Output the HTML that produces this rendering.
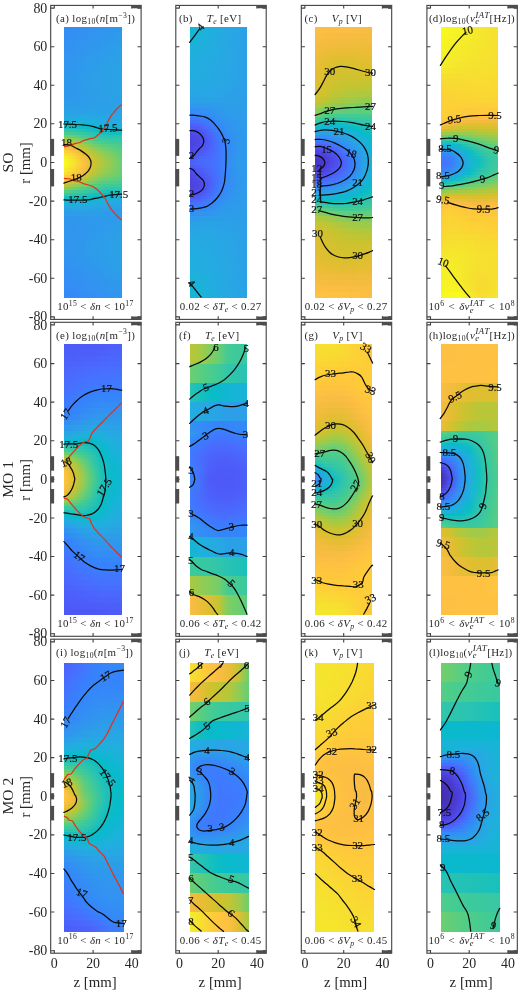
<!DOCTYPE html>
<html><head><meta charset="utf-8"><title>Figure</title>
<style>html,body{margin:0;padding:0;background:#fff}svg{display:block}</style></head>
<body><svg width="520" height="992" viewBox="0 0 520 992">
<rect width="520" height="992" fill="#fff"/>
<defs><linearGradient id="g1"><stop offset="0%" stop-color="#348df5"/><stop offset="16.7%" stop-color="#338ff4"/><stop offset="33.3%" stop-color="#3391f2"/><stop offset="50%" stop-color="#3293f0"/><stop offset="66.7%" stop-color="#3195ef"/><stop offset="83.3%" stop-color="#2f98ed"/><stop offset="100%" stop-color="#2e99ec"/></linearGradient><linearGradient id="g2"><stop offset="0%" stop-color="#338ef4"/><stop offset="16.7%" stop-color="#3390f3"/><stop offset="33.3%" stop-color="#3292f1"/><stop offset="50%" stop-color="#3195ef"/><stop offset="66.7%" stop-color="#3097ed"/><stop offset="83.3%" stop-color="#2e99ec"/><stop offset="100%" stop-color="#2d9beb"/></linearGradient><linearGradient id="g3"><stop offset="0%" stop-color="#3390f3"/><stop offset="16.7%" stop-color="#3392f1"/><stop offset="33.3%" stop-color="#3294f0"/><stop offset="50%" stop-color="#3097ee"/><stop offset="66.7%" stop-color="#2e99ec"/><stop offset="83.3%" stop-color="#2d9beb"/><stop offset="100%" stop-color="#2c9de9"/></linearGradient><linearGradient id="g4"><stop offset="0%" stop-color="#3391f2"/><stop offset="16.7%" stop-color="#3293f0"/><stop offset="33.3%" stop-color="#3196ee"/><stop offset="50%" stop-color="#2f98ed"/><stop offset="66.7%" stop-color="#2d9beb"/><stop offset="83.3%" stop-color="#2d9dea"/><stop offset="100%" stop-color="#2c9ee8"/></linearGradient><linearGradient id="g5"><stop offset="0%" stop-color="#3293f1"/><stop offset="16.7%" stop-color="#3195ef"/><stop offset="33.3%" stop-color="#3097ed"/><stop offset="50%" stop-color="#2e9aec"/><stop offset="66.7%" stop-color="#2d9cea"/><stop offset="83.3%" stop-color="#2c9ee8"/><stop offset="100%" stop-color="#2ba0e7"/></linearGradient><linearGradient id="g6"><stop offset="0%" stop-color="#3294ef"/><stop offset="16.7%" stop-color="#3096ee"/><stop offset="33.3%" stop-color="#2f99ec"/><stop offset="50%" stop-color="#2d9beb"/><stop offset="66.7%" stop-color="#2c9ee9"/><stop offset="83.3%" stop-color="#2ba0e8"/><stop offset="100%" stop-color="#2ba1e7"/></linearGradient><linearGradient id="g7"><stop offset="0%" stop-color="#3196ef"/><stop offset="16.7%" stop-color="#2f97ed"/><stop offset="33.3%" stop-color="#2e9aec"/><stop offset="50%" stop-color="#2d9cea"/><stop offset="66.7%" stop-color="#2c9fe8"/><stop offset="83.3%" stop-color="#2ba1e7"/><stop offset="100%" stop-color="#2aa2e6"/></linearGradient><linearGradient id="g8"><stop offset="0%" stop-color="#3097ee"/><stop offset="16.7%" stop-color="#2f98ed"/><stop offset="33.3%" stop-color="#2d9beb"/><stop offset="50%" stop-color="#2c9ee9"/><stop offset="66.7%" stop-color="#2ba0e7"/><stop offset="83.3%" stop-color="#2aa2e6"/><stop offset="100%" stop-color="#29a3e5"/></linearGradient><linearGradient id="g9"><stop offset="0%" stop-color="#2f98ed"/><stop offset="16.7%" stop-color="#2e99ec"/><stop offset="33.3%" stop-color="#2d9bea"/><stop offset="50%" stop-color="#2c9ee8"/><stop offset="66.7%" stop-color="#2ba0e7"/><stop offset="83.3%" stop-color="#2aa2e6"/><stop offset="100%" stop-color="#29a4e5"/></linearGradient><linearGradient id="g10"><stop offset="0%" stop-color="#2f98ed"/><stop offset="16.7%" stop-color="#2e99ec"/><stop offset="33.3%" stop-color="#2d9cea"/><stop offset="50%" stop-color="#2c9fe8"/><stop offset="66.7%" stop-color="#2ba0e7"/><stop offset="83.3%" stop-color="#2aa2e6"/><stop offset="100%" stop-color="#29a4e5"/></linearGradient><linearGradient id="g11"><stop offset="0%" stop-color="#2e99ec"/><stop offset="16.7%" stop-color="#2e99ec"/><stop offset="33.3%" stop-color="#2d9bea"/><stop offset="50%" stop-color="#2c9ee8"/><stop offset="66.7%" stop-color="#2ba0e7"/><stop offset="83.3%" stop-color="#2aa2e6"/><stop offset="100%" stop-color="#29a4e5"/></linearGradient><linearGradient id="g12"><stop offset="0%" stop-color="#2e99ec"/><stop offset="16.7%" stop-color="#2e99ec"/><stop offset="33.3%" stop-color="#2d9beb"/><stop offset="50%" stop-color="#2c9de9"/><stop offset="66.7%" stop-color="#2c9fe8"/><stop offset="83.3%" stop-color="#2ba1e7"/><stop offset="100%" stop-color="#2aa3e6"/></linearGradient><linearGradient id="g13"><stop offset="0%" stop-color="#2d9beb"/><stop offset="16.7%" stop-color="#2e9aec"/><stop offset="33.3%" stop-color="#2d9beb"/><stop offset="50%" stop-color="#2c9de9"/><stop offset="66.7%" stop-color="#2c9ee8"/><stop offset="83.3%" stop-color="#2ba0e7"/><stop offset="100%" stop-color="#2aa2e6"/></linearGradient><linearGradient id="g14"><stop offset="0%" stop-color="#2c9de9"/><stop offset="16.7%" stop-color="#2d9cea"/><stop offset="33.3%" stop-color="#2c9de9"/><stop offset="50%" stop-color="#2c9ee8"/><stop offset="66.7%" stop-color="#2c9fe8"/><stop offset="83.3%" stop-color="#2ba0e7"/><stop offset="100%" stop-color="#2aa2e6"/></linearGradient><linearGradient id="g15"><stop offset="0%" stop-color="#2aa2e6"/><stop offset="16.7%" stop-color="#2ba1e7"/><stop offset="33.3%" stop-color="#2aa1e6"/><stop offset="50%" stop-color="#2aa2e6"/><stop offset="66.7%" stop-color="#2aa1e7"/><stop offset="83.3%" stop-color="#2aa2e6"/><stop offset="100%" stop-color="#29a4e5"/></linearGradient><linearGradient id="g16"><stop offset="0%" stop-color="#26a8e3"/><stop offset="16.7%" stop-color="#27a7e4"/><stop offset="33.3%" stop-color="#27a7e4"/><stop offset="50%" stop-color="#27a6e4"/><stop offset="66.7%" stop-color="#28a5e5"/><stop offset="83.3%" stop-color="#29a5e5"/><stop offset="100%" stop-color="#27a6e4"/></linearGradient><linearGradient id="g17"><stop offset="0%" stop-color="#22addf"/><stop offset="16.7%" stop-color="#23ace0"/><stop offset="33.3%" stop-color="#23ace0"/><stop offset="50%" stop-color="#24abe1"/><stop offset="66.7%" stop-color="#26a8e3"/><stop offset="83.3%" stop-color="#26a7e3"/><stop offset="100%" stop-color="#26a9e2"/></linearGradient><linearGradient id="g18"><stop offset="0%" stop-color="#19b3d8"/><stop offset="16.7%" stop-color="#1bb2d9"/><stop offset="33.3%" stop-color="#1cb2da"/><stop offset="50%" stop-color="#1fb0dc"/><stop offset="66.7%" stop-color="#23ace0"/><stop offset="83.3%" stop-color="#24abe1"/><stop offset="100%" stop-color="#23ace0"/></linearGradient><linearGradient id="g19"><stop offset="0%" stop-color="#09b9cc"/><stop offset="16.7%" stop-color="#0bb9ce"/><stop offset="33.3%" stop-color="#0eb7d0"/><stop offset="50%" stop-color="#15b5d5"/><stop offset="66.7%" stop-color="#1db1db"/><stop offset="83.3%" stop-color="#1fb0dc"/><stop offset="100%" stop-color="#1fb0dd"/></linearGradient><linearGradient id="g20"><stop offset="0%" stop-color="#18c0bc"/><stop offset="16.7%" stop-color="#12bfbf"/><stop offset="33.3%" stop-color="#0bbdc4"/><stop offset="50%" stop-color="#09bacb"/><stop offset="66.7%" stop-color="#12b6d4"/><stop offset="83.3%" stop-color="#15b5d5"/><stop offset="100%" stop-color="#18b4d7"/></linearGradient><linearGradient id="g21"><stop offset="0%" stop-color="#34c6a7"/><stop offset="16.7%" stop-color="#2fc4ad"/><stop offset="33.3%" stop-color="#23c2b5"/><stop offset="50%" stop-color="#11bfc0"/><stop offset="66.7%" stop-color="#09bbc9"/><stop offset="83.3%" stop-color="#09bacb"/><stop offset="100%" stop-color="#0ab9cd"/></linearGradient><linearGradient id="g22"><stop offset="0%" stop-color="#4acc8d"/><stop offset="16.7%" stop-color="#41ca96"/><stop offset="33.3%" stop-color="#36c7a5"/><stop offset="50%" stop-color="#29c3b2"/><stop offset="66.7%" stop-color="#16c0bd"/><stop offset="83.3%" stop-color="#12bfbf"/><stop offset="100%" stop-color="#11bfbf"/></linearGradient><linearGradient id="g23"><stop offset="0%" stop-color="#72ce6b"/><stop offset="16.7%" stop-color="#62ce79"/><stop offset="33.3%" stop-color="#46cc90"/><stop offset="50%" stop-color="#37c7a3"/><stop offset="66.7%" stop-color="#2dc4af"/><stop offset="83.3%" stop-color="#29c3b2"/><stop offset="100%" stop-color="#2bc3b1"/></linearGradient><linearGradient id="g24"><stop offset="0%" stop-color="#a1ca48"/><stop offset="16.7%" stop-color="#8ccd58"/><stop offset="33.3%" stop-color="#64ce78"/><stop offset="50%" stop-color="#46cc90"/><stop offset="66.7%" stop-color="#3ac89f"/><stop offset="83.3%" stop-color="#36c7a4"/><stop offset="100%" stop-color="#36c7a5"/></linearGradient><linearGradient id="g25"><stop offset="0%" stop-color="#cac330"/><stop offset="16.7%" stop-color="#b4c73b"/><stop offset="33.3%" stop-color="#85cd5d"/><stop offset="50%" stop-color="#5fce7b"/><stop offset="66.7%" stop-color="#48cc8e"/><stop offset="83.3%" stop-color="#40ca96"/><stop offset="100%" stop-color="#3dca9a"/></linearGradient><linearGradient id="g26"><stop offset="0%" stop-color="#ebbc37"/><stop offset="16.7%" stop-color="#d5c12e"/><stop offset="33.3%" stop-color="#a6ca44"/><stop offset="50%" stop-color="#7ace65"/><stop offset="66.7%" stop-color="#5ece7d"/><stop offset="83.3%" stop-color="#4fcd88"/><stop offset="100%" stop-color="#45cc91"/></linearGradient><linearGradient id="g27"><stop offset="0%" stop-color="#fec340"/><stop offset="16.7%" stop-color="#eebc3a"/><stop offset="33.3%" stop-color="#c3c432"/><stop offset="50%" stop-color="#95cc51"/><stop offset="66.7%" stop-color="#73ce6b"/><stop offset="83.3%" stop-color="#5fce7b"/><stop offset="100%" stop-color="#4ecd89"/></linearGradient><linearGradient id="g28"><stop offset="0%" stop-color="#fbd435"/><stop offset="16.7%" stop-color="#fec241"/><stop offset="33.3%" stop-color="#dbbf2f"/><stop offset="50%" stop-color="#acc940"/><stop offset="66.7%" stop-color="#87cd5c"/><stop offset="83.3%" stop-color="#6dce6f"/><stop offset="100%" stop-color="#57cd82"/></linearGradient><linearGradient id="g29"><stop offset="0%" stop-color="#f5e42e"/><stop offset="16.7%" stop-color="#fdd037"/><stop offset="33.3%" stop-color="#edbc39"/><stop offset="50%" stop-color="#bec535"/><stop offset="66.7%" stop-color="#98cb4f"/><stop offset="83.3%" stop-color="#7ace65"/><stop offset="100%" stop-color="#5dce7d"/></linearGradient><linearGradient id="g30"><stop offset="0%" stop-color="#f6f026"/><stop offset="16.7%" stop-color="#f8dc31"/><stop offset="33.3%" stop-color="#f9bd43"/><stop offset="50%" stop-color="#cac330"/><stop offset="66.7%" stop-color="#a4ca46"/><stop offset="83.3%" stop-color="#84cd5e"/><stop offset="100%" stop-color="#62ce79"/></linearGradient><linearGradient id="g31"><stop offset="0%" stop-color="#f9f91e"/><stop offset="16.7%" stop-color="#f5e32e"/><stop offset="33.3%" stop-color="#fec042"/><stop offset="50%" stop-color="#d0c22e"/><stop offset="66.7%" stop-color="#abc941"/><stop offset="83.3%" stop-color="#8acd59"/><stop offset="100%" stop-color="#64ce77"/></linearGradient><linearGradient id="g32"><stop offset="0%" stop-color="#f9fb1c"/><stop offset="16.7%" stop-color="#f5e52d"/><stop offset="33.3%" stop-color="#fec241"/><stop offset="50%" stop-color="#d2c12e"/><stop offset="66.7%" stop-color="#adc93f"/><stop offset="83.3%" stop-color="#8ccd58"/><stop offset="100%" stop-color="#66ce75"/></linearGradient><linearGradient id="g33"><stop offset="0%" stop-color="#f8f621"/><stop offset="16.7%" stop-color="#f6e12f"/><stop offset="33.3%" stop-color="#fec042"/><stop offset="50%" stop-color="#d0c22e"/><stop offset="66.7%" stop-color="#aac942"/><stop offset="83.3%" stop-color="#8bcd59"/><stop offset="100%" stop-color="#68ce74"/></linearGradient><linearGradient id="g34"><stop offset="0%" stop-color="#f6ed28"/><stop offset="16.7%" stop-color="#f9d833"/><stop offset="33.3%" stop-color="#f8bc43"/><stop offset="50%" stop-color="#c8c330"/><stop offset="66.7%" stop-color="#a2ca47"/><stop offset="83.3%" stop-color="#85cd5d"/><stop offset="100%" stop-color="#67ce74"/></linearGradient><linearGradient id="g35"><stop offset="0%" stop-color="#f6e12f"/><stop offset="16.7%" stop-color="#fecc39"/><stop offset="33.3%" stop-color="#ecbc38"/><stop offset="50%" stop-color="#bcc636"/><stop offset="66.7%" stop-color="#95cc51"/><stop offset="83.3%" stop-color="#7bce64"/><stop offset="100%" stop-color="#64ce77"/></linearGradient><linearGradient id="g36"><stop offset="0%" stop-color="#fcd136"/><stop offset="16.7%" stop-color="#fcbe43"/><stop offset="33.3%" stop-color="#d9c02f"/><stop offset="50%" stop-color="#a9c942"/><stop offset="66.7%" stop-color="#84cd5e"/><stop offset="83.3%" stop-color="#6fce6e"/><stop offset="100%" stop-color="#5ece7c"/></linearGradient><linearGradient id="g37"><stop offset="0%" stop-color="#fec141"/><stop offset="16.7%" stop-color="#e4be32"/><stop offset="33.3%" stop-color="#bfc535"/><stop offset="50%" stop-color="#90cc55"/><stop offset="66.7%" stop-color="#6ece6f"/><stop offset="83.3%" stop-color="#5fce7b"/><stop offset="100%" stop-color="#56cd83"/></linearGradient><linearGradient id="g38"><stop offset="0%" stop-color="#e9bd36"/><stop offset="16.7%" stop-color="#c3c433"/><stop offset="33.3%" stop-color="#9dcb4b"/><stop offset="50%" stop-color="#73ce6b"/><stop offset="66.7%" stop-color="#57cd82"/><stop offset="83.3%" stop-color="#4dcd8a"/><stop offset="100%" stop-color="#4bcc8c"/></linearGradient><linearGradient id="g39"><stop offset="0%" stop-color="#c3c432"/><stop offset="16.7%" stop-color="#9acb4d"/><stop offset="33.3%" stop-color="#77ce67"/><stop offset="50%" stop-color="#57cd82"/><stop offset="66.7%" stop-color="#42cb95"/><stop offset="83.3%" stop-color="#3cc99b"/><stop offset="100%" stop-color="#3fca98"/></linearGradient><linearGradient id="g40"><stop offset="0%" stop-color="#8fcc55"/><stop offset="16.7%" stop-color="#6dce70"/><stop offset="33.3%" stop-color="#53cd85"/><stop offset="50%" stop-color="#3fca98"/><stop offset="66.7%" stop-color="#35c6a6"/><stop offset="83.3%" stop-color="#30c5ac"/><stop offset="100%" stop-color="#35c6a6"/></linearGradient><linearGradient id="g41"><stop offset="0%" stop-color="#59ce80"/><stop offset="16.7%" stop-color="#46cc91"/><stop offset="33.3%" stop-color="#3bc99e"/><stop offset="50%" stop-color="#31c5aa"/><stop offset="66.7%" stop-color="#22c2b6"/><stop offset="83.3%" stop-color="#16c0bd"/><stop offset="100%" stop-color="#1bc0ba"/></linearGradient><linearGradient id="g42"><stop offset="0%" stop-color="#37c7a3"/><stop offset="16.7%" stop-color="#31c5aa"/><stop offset="33.3%" stop-color="#2ac3b1"/><stop offset="50%" stop-color="#1ac0ba"/><stop offset="66.7%" stop-color="#0abdc4"/><stop offset="83.3%" stop-color="#09bacc"/><stop offset="100%" stop-color="#0cb8cf"/></linearGradient><linearGradient id="g43"><stop offset="0%" stop-color="#15bfbd"/><stop offset="16.7%" stop-color="#12bfbf"/><stop offset="33.3%" stop-color="#0ebec2"/><stop offset="50%" stop-color="#09bbc8"/><stop offset="66.7%" stop-color="#0eb7d1"/><stop offset="83.3%" stop-color="#1ab3d8"/><stop offset="100%" stop-color="#1eb1db"/></linearGradient><linearGradient id="g44"><stop offset="0%" stop-color="#0eb7d1"/><stop offset="16.7%" stop-color="#0db8cf"/><stop offset="33.3%" stop-color="#0db8d0"/><stop offset="50%" stop-color="#13b5d4"/><stop offset="66.7%" stop-color="#1db1da"/><stop offset="83.3%" stop-color="#23ace0"/><stop offset="100%" stop-color="#24abe1"/></linearGradient><linearGradient id="g45"><stop offset="0%" stop-color="#1fb0dd"/><stop offset="16.7%" stop-color="#1eb0db"/><stop offset="33.3%" stop-color="#1db1db"/><stop offset="50%" stop-color="#20afdd"/><stop offset="66.7%" stop-color="#24abe1"/><stop offset="83.3%" stop-color="#27a7e4"/><stop offset="100%" stop-color="#28a6e4"/></linearGradient><linearGradient id="g46"><stop offset="0%" stop-color="#25a9e2"/><stop offset="16.7%" stop-color="#25a9e2"/><stop offset="33.3%" stop-color="#24aae1"/><stop offset="50%" stop-color="#25a9e2"/><stop offset="66.7%" stop-color="#28a6e4"/><stop offset="83.3%" stop-color="#2aa2e6"/><stop offset="100%" stop-color="#2aa2e6"/></linearGradient><linearGradient id="g47"><stop offset="0%" stop-color="#2aa3e5"/><stop offset="16.7%" stop-color="#2aa3e6"/><stop offset="33.3%" stop-color="#29a5e5"/><stop offset="50%" stop-color="#29a4e5"/><stop offset="66.7%" stop-color="#2aa2e6"/><stop offset="83.3%" stop-color="#2c9fe8"/><stop offset="100%" stop-color="#2b9fe8"/></linearGradient><linearGradient id="g48"><stop offset="0%" stop-color="#2c9de9"/><stop offset="16.7%" stop-color="#2d9cea"/><stop offset="33.3%" stop-color="#2c9ee8"/><stop offset="50%" stop-color="#2c9fe8"/><stop offset="66.7%" stop-color="#2c9de9"/><stop offset="83.3%" stop-color="#2d9cea"/><stop offset="100%" stop-color="#2c9de9"/></linearGradient><linearGradient id="g49"><stop offset="0%" stop-color="#2f98ed"/><stop offset="16.7%" stop-color="#3097ed"/><stop offset="33.3%" stop-color="#2e99ec"/><stop offset="50%" stop-color="#2e9aeb"/><stop offset="66.7%" stop-color="#2d9aeb"/><stop offset="83.3%" stop-color="#2d9aeb"/><stop offset="100%" stop-color="#2d9cea"/></linearGradient><linearGradient id="g50"><stop offset="0%" stop-color="#3196ee"/><stop offset="16.7%" stop-color="#3195ef"/><stop offset="33.3%" stop-color="#3097ee"/><stop offset="50%" stop-color="#2e99ec"/><stop offset="66.7%" stop-color="#2e9aec"/><stop offset="83.3%" stop-color="#2d9beb"/><stop offset="100%" stop-color="#2c9de9"/></linearGradient><linearGradient id="g51"><stop offset="0%" stop-color="#3195ef"/><stop offset="16.7%" stop-color="#3195ef"/><stop offset="33.3%" stop-color="#3097ee"/><stop offset="50%" stop-color="#2e99ec"/><stop offset="66.7%" stop-color="#2d9beb"/><stop offset="83.3%" stop-color="#2d9cea"/><stop offset="100%" stop-color="#2c9fe8"/></linearGradient><linearGradient id="g52"><stop offset="0%" stop-color="#3195ef"/><stop offset="16.7%" stop-color="#3196ef"/><stop offset="33.3%" stop-color="#2f98ed"/><stop offset="50%" stop-color="#2d9beb"/><stop offset="66.7%" stop-color="#2d9dea"/><stop offset="83.3%" stop-color="#2c9ee8"/><stop offset="100%" stop-color="#2ba1e7"/></linearGradient><linearGradient id="g53"><stop offset="0%" stop-color="#3195ef"/><stop offset="16.7%" stop-color="#3096ee"/><stop offset="33.3%" stop-color="#2e99ec"/><stop offset="50%" stop-color="#2d9cea"/><stop offset="66.7%" stop-color="#2c9ee9"/><stop offset="83.3%" stop-color="#2ba0e7"/><stop offset="100%" stop-color="#2aa2e6"/></linearGradient><linearGradient id="g54"><stop offset="0%" stop-color="#3195ef"/><stop offset="16.7%" stop-color="#3096ee"/><stop offset="33.3%" stop-color="#2e99ec"/><stop offset="50%" stop-color="#2d9cea"/><stop offset="66.7%" stop-color="#2c9ee8"/><stop offset="83.3%" stop-color="#2ba0e7"/><stop offset="100%" stop-color="#2aa2e6"/></linearGradient><linearGradient id="g55"><stop offset="0%" stop-color="#3294f0"/><stop offset="16.7%" stop-color="#3096ee"/><stop offset="33.3%" stop-color="#2f99ec"/><stop offset="50%" stop-color="#2d9bea"/><stop offset="66.7%" stop-color="#2c9ee9"/><stop offset="83.3%" stop-color="#2ba0e7"/><stop offset="100%" stop-color="#2aa1e6"/></linearGradient><linearGradient id="g56"><stop offset="0%" stop-color="#3293f0"/><stop offset="16.7%" stop-color="#3195ef"/><stop offset="33.3%" stop-color="#2f98ed"/><stop offset="50%" stop-color="#2d9aeb"/><stop offset="66.7%" stop-color="#2c9de9"/><stop offset="83.3%" stop-color="#2c9fe8"/><stop offset="100%" stop-color="#2ba0e7"/></linearGradient><linearGradient id="g57"><stop offset="0%" stop-color="#3292f1"/><stop offset="16.7%" stop-color="#3294f0"/><stop offset="33.3%" stop-color="#3096ee"/><stop offset="50%" stop-color="#2e99ec"/><stop offset="66.7%" stop-color="#2d9cea"/><stop offset="83.3%" stop-color="#2c9ee9"/><stop offset="100%" stop-color="#2b9fe8"/></linearGradient><linearGradient id="g58"><stop offset="0%" stop-color="#3390f2"/><stop offset="16.7%" stop-color="#3292f1"/><stop offset="33.3%" stop-color="#3195ef"/><stop offset="50%" stop-color="#2f98ed"/><stop offset="66.7%" stop-color="#2e9aeb"/><stop offset="83.3%" stop-color="#2d9cea"/><stop offset="100%" stop-color="#2c9ee9"/></linearGradient><linearGradient id="g59"><stop offset="0%" stop-color="#338ff4"/><stop offset="16.7%" stop-color="#3391f2"/><stop offset="33.3%" stop-color="#3293f0"/><stop offset="50%" stop-color="#3196ee"/><stop offset="66.7%" stop-color="#2f98ed"/><stop offset="83.3%" stop-color="#2d9aeb"/><stop offset="100%" stop-color="#2d9cea"/></linearGradient><linearGradient id="g60"><stop offset="0%" stop-color="#348df5"/><stop offset="16.7%" stop-color="#338ff4"/><stop offset="33.3%" stop-color="#3391f2"/><stop offset="50%" stop-color="#3294f0"/><stop offset="66.7%" stop-color="#3096ee"/><stop offset="83.3%" stop-color="#2f98ec"/><stop offset="100%" stop-color="#2d9aeb"/></linearGradient><linearGradient id="g61"><stop offset="0%" stop-color="#348bf6"/><stop offset="16.7%" stop-color="#348df5"/><stop offset="33.3%" stop-color="#3390f3"/><stop offset="50%" stop-color="#3292f1"/><stop offset="66.7%" stop-color="#3194ef"/><stop offset="83.3%" stop-color="#3097ee"/><stop offset="100%" stop-color="#2f98ed"/></linearGradient><linearGradient id="g62"><stop offset="0%" stop-color="#348af8"/><stop offset="16.7%" stop-color="#348bf6"/><stop offset="33.3%" stop-color="#338ef5"/><stop offset="50%" stop-color="#3390f3"/><stop offset="66.7%" stop-color="#3292f1"/><stop offset="83.3%" stop-color="#3195ef"/><stop offset="100%" stop-color="#3096ee"/></linearGradient><linearGradient id="g63"><stop offset="0%" stop-color="#11b6d3"/><stop offset="16.7%" stop-color="#18b4d7"/><stop offset="33.3%" stop-color="#1eb0dc"/><stop offset="50%" stop-color="#23ace0"/><stop offset="66.7%" stop-color="#26a8e3"/><stop offset="83.3%" stop-color="#29a5e5"/><stop offset="100%" stop-color="#2aa1e7"/></linearGradient><linearGradient id="g64"><stop offset="0%" stop-color="#14b5d5"/><stop offset="16.7%" stop-color="#1ab3d9"/><stop offset="33.3%" stop-color="#20afdd"/><stop offset="50%" stop-color="#23abe1"/><stop offset="66.7%" stop-color="#26a8e3"/><stop offset="83.3%" stop-color="#29a4e5"/><stop offset="100%" stop-color="#2ba1e7"/></linearGradient><linearGradient id="g65"><stop offset="0%" stop-color="#17b4d6"/><stop offset="16.7%" stop-color="#1db1da"/><stop offset="33.3%" stop-color="#21aede"/><stop offset="50%" stop-color="#24abe1"/><stop offset="66.7%" stop-color="#27a7e3"/><stop offset="83.3%" stop-color="#29a4e5"/><stop offset="100%" stop-color="#2ba1e7"/></linearGradient><linearGradient id="g66"><stop offset="0%" stop-color="#1bb2d9"/><stop offset="16.7%" stop-color="#1fb0dc"/><stop offset="33.3%" stop-color="#22addf"/><stop offset="50%" stop-color="#24aae2"/><stop offset="66.7%" stop-color="#27a7e4"/><stop offset="83.3%" stop-color="#29a4e5"/><stop offset="100%" stop-color="#2ba1e7"/></linearGradient><linearGradient id="g67"><stop offset="0%" stop-color="#1fb0dc"/><stop offset="16.7%" stop-color="#21aede"/><stop offset="33.3%" stop-color="#23ace0"/><stop offset="50%" stop-color="#25aae2"/><stop offset="66.7%" stop-color="#27a6e4"/><stop offset="83.3%" stop-color="#29a3e5"/><stop offset="100%" stop-color="#2ba1e7"/></linearGradient><linearGradient id="g68"><stop offset="0%" stop-color="#21aede"/><stop offset="16.7%" stop-color="#22addf"/><stop offset="33.3%" stop-color="#23ace1"/><stop offset="50%" stop-color="#25a9e2"/><stop offset="66.7%" stop-color="#27a6e4"/><stop offset="83.3%" stop-color="#2aa3e5"/><stop offset="100%" stop-color="#2ba0e7"/></linearGradient><linearGradient id="g69"><stop offset="0%" stop-color="#21aede"/><stop offset="16.7%" stop-color="#22addf"/><stop offset="33.3%" stop-color="#24abe1"/><stop offset="50%" stop-color="#26a9e3"/><stop offset="66.7%" stop-color="#28a6e4"/><stop offset="83.3%" stop-color="#2aa3e5"/><stop offset="100%" stop-color="#2ba0e7"/></linearGradient><linearGradient id="g70"><stop offset="0%" stop-color="#22addf"/><stop offset="16.7%" stop-color="#23ace0"/><stop offset="33.3%" stop-color="#24abe1"/><stop offset="50%" stop-color="#26a8e3"/><stop offset="66.7%" stop-color="#28a6e4"/><stop offset="83.3%" stop-color="#2aa3e6"/><stop offset="100%" stop-color="#2ba0e7"/></linearGradient><linearGradient id="g71"><stop offset="0%" stop-color="#23ace0"/><stop offset="16.7%" stop-color="#23ace0"/><stop offset="33.3%" stop-color="#25aae2"/><stop offset="50%" stop-color="#26a8e3"/><stop offset="66.7%" stop-color="#28a5e4"/><stop offset="83.3%" stop-color="#2aa3e6"/><stop offset="100%" stop-color="#2ba0e7"/></linearGradient><linearGradient id="g72"><stop offset="0%" stop-color="#24abe1"/><stop offset="16.7%" stop-color="#24aae1"/><stop offset="33.3%" stop-color="#25a9e2"/><stop offset="50%" stop-color="#27a7e4"/><stop offset="66.7%" stop-color="#29a5e5"/><stop offset="83.3%" stop-color="#2aa2e6"/><stop offset="100%" stop-color="#2ba0e7"/></linearGradient><linearGradient id="g73"><stop offset="0%" stop-color="#26a8e3"/><stop offset="16.7%" stop-color="#26a8e3"/><stop offset="33.3%" stop-color="#27a7e3"/><stop offset="50%" stop-color="#28a6e4"/><stop offset="66.7%" stop-color="#29a4e5"/><stop offset="83.3%" stop-color="#2aa1e6"/><stop offset="100%" stop-color="#2b9fe8"/></linearGradient><linearGradient id="g74"><stop offset="0%" stop-color="#29a5e5"/><stop offset="16.7%" stop-color="#28a5e4"/><stop offset="33.3%" stop-color="#29a5e5"/><stop offset="50%" stop-color="#29a4e5"/><stop offset="66.7%" stop-color="#2aa2e6"/><stop offset="83.3%" stop-color="#2ba0e7"/><stop offset="100%" stop-color="#2c9ee8"/></linearGradient><linearGradient id="g75"><stop offset="0%" stop-color="#2b9fe8"/><stop offset="16.7%" stop-color="#2ba0e7"/><stop offset="33.3%" stop-color="#2ba1e7"/><stop offset="50%" stop-color="#2ba1e7"/><stop offset="66.7%" stop-color="#2ba0e7"/><stop offset="83.3%" stop-color="#2b9fe8"/><stop offset="100%" stop-color="#2c9ee9"/></linearGradient><linearGradient id="g76"><stop offset="0%" stop-color="#2f98ed"/><stop offset="16.7%" stop-color="#2e9aec"/><stop offset="33.3%" stop-color="#2d9beb"/><stop offset="50%" stop-color="#2c9de9"/><stop offset="66.7%" stop-color="#2c9ee8"/><stop offset="83.3%" stop-color="#2c9ee8"/><stop offset="100%" stop-color="#2c9de9"/></linearGradient><linearGradient id="g77"><stop offset="0%" stop-color="#338ef4"/><stop offset="16.7%" stop-color="#3390f3"/><stop offset="33.3%" stop-color="#3293f0"/><stop offset="50%" stop-color="#2f98ed"/><stop offset="66.7%" stop-color="#2d9cea"/><stop offset="83.3%" stop-color="#2c9de9"/><stop offset="100%" stop-color="#2c9de9"/></linearGradient><linearGradient id="g78"><stop offset="0%" stop-color="#3683fb"/><stop offset="16.7%" stop-color="#3586fa"/><stop offset="33.3%" stop-color="#348bf6"/><stop offset="50%" stop-color="#3294f0"/><stop offset="66.7%" stop-color="#2e9aec"/><stop offset="83.3%" stop-color="#2d9cea"/><stop offset="100%" stop-color="#2d9cea"/></linearGradient><linearGradient id="g79"><stop offset="0%" stop-color="#3f78fe"/><stop offset="16.7%" stop-color="#3c7cfd"/><stop offset="33.3%" stop-color="#3585fa"/><stop offset="50%" stop-color="#3391f2"/><stop offset="66.7%" stop-color="#2f98ed"/><stop offset="83.3%" stop-color="#2d9beb"/><stop offset="100%" stop-color="#2d9cea"/></linearGradient><linearGradient id="g80"><stop offset="0%" stop-color="#486dfe"/><stop offset="16.7%" stop-color="#4571fe"/><stop offset="33.3%" stop-color="#397ffd"/><stop offset="50%" stop-color="#348ef5"/><stop offset="66.7%" stop-color="#3096ee"/><stop offset="83.3%" stop-color="#2d9aeb"/><stop offset="100%" stop-color="#2d9cea"/></linearGradient><linearGradient id="g81"><stop offset="0%" stop-color="#4c62fb"/><stop offset="16.7%" stop-color="#4b67fc"/><stop offset="33.3%" stop-color="#4177fe"/><stop offset="50%" stop-color="#348af7"/><stop offset="66.7%" stop-color="#3194ef"/><stop offset="83.3%" stop-color="#2e9aec"/><stop offset="100%" stop-color="#2d9cea"/></linearGradient><linearGradient id="g82"><stop offset="0%" stop-color="#4d58f5"/><stop offset="16.7%" stop-color="#4d5df8"/><stop offset="33.3%" stop-color="#4770fe"/><stop offset="50%" stop-color="#3586fa"/><stop offset="66.7%" stop-color="#3292f1"/><stop offset="83.3%" stop-color="#2e99ec"/><stop offset="100%" stop-color="#2d9bea"/></linearGradient><linearGradient id="g83"><stop offset="0%" stop-color="#4d4fee"/><stop offset="16.7%" stop-color="#4d55f3"/><stop offset="33.3%" stop-color="#4a69fd"/><stop offset="50%" stop-color="#3782fb"/><stop offset="66.7%" stop-color="#3391f2"/><stop offset="83.3%" stop-color="#2f98ed"/><stop offset="100%" stop-color="#2d9bea"/></linearGradient><linearGradient id="g84"><stop offset="0%" stop-color="#4d49e8"/><stop offset="16.7%" stop-color="#4d4eed"/><stop offset="33.3%" stop-color="#4c63fb"/><stop offset="50%" stop-color="#3a7efd"/><stop offset="66.7%" stop-color="#338ff4"/><stop offset="83.3%" stop-color="#3097ed"/><stop offset="100%" stop-color="#2d9beb"/></linearGradient><linearGradient id="g85"><stop offset="0%" stop-color="#4c45e3"/><stop offset="16.7%" stop-color="#4d4ae9"/><stop offset="33.3%" stop-color="#4d5ff9"/><stop offset="50%" stop-color="#3e7afe"/><stop offset="66.7%" stop-color="#348df5"/><stop offset="83.3%" stop-color="#3096ee"/><stop offset="100%" stop-color="#2d9beb"/></linearGradient><linearGradient id="g86"><stop offset="0%" stop-color="#4c42e0"/><stop offset="16.7%" stop-color="#4d48e7"/><stop offset="33.3%" stop-color="#4d5cf7"/><stop offset="50%" stop-color="#4177ff"/><stop offset="66.7%" stop-color="#348bf7"/><stop offset="83.3%" stop-color="#3096ee"/><stop offset="100%" stop-color="#2d9beb"/></linearGradient><linearGradient id="g87"><stop offset="0%" stop-color="#4c41df"/><stop offset="16.7%" stop-color="#4d48e7"/><stop offset="33.3%" stop-color="#4d5bf7"/><stop offset="50%" stop-color="#4375ff"/><stop offset="66.7%" stop-color="#348af8"/><stop offset="83.3%" stop-color="#3196ef"/><stop offset="100%" stop-color="#2d9aeb"/></linearGradient><linearGradient id="g88"><stop offset="0%" stop-color="#4c42df"/><stop offset="16.7%" stop-color="#4d4bea"/><stop offset="33.3%" stop-color="#4d5df8"/><stop offset="50%" stop-color="#4474ff"/><stop offset="66.7%" stop-color="#3489f8"/><stop offset="83.3%" stop-color="#3196ee"/><stop offset="100%" stop-color="#2d9aeb"/></linearGradient><linearGradient id="g89"><stop offset="0%" stop-color="#4c43e1"/><stop offset="16.7%" stop-color="#4d4fee"/><stop offset="33.3%" stop-color="#4c5ff9"/><stop offset="50%" stop-color="#4473ff"/><stop offset="66.7%" stop-color="#3489f8"/><stop offset="83.3%" stop-color="#3096ee"/><stop offset="100%" stop-color="#2d9aeb"/></linearGradient><linearGradient id="g90"><stop offset="0%" stop-color="#4c45e3"/><stop offset="16.7%" stop-color="#4d54f2"/><stop offset="33.3%" stop-color="#4c63fb"/><stop offset="50%" stop-color="#4474ff"/><stop offset="66.7%" stop-color="#3489f8"/><stop offset="83.3%" stop-color="#3097ee"/><stop offset="100%" stop-color="#2d9aeb"/></linearGradient><linearGradient id="g91"><stop offset="0%" stop-color="#4d48e7"/><stop offset="16.7%" stop-color="#4d5af6"/><stop offset="33.3%" stop-color="#4b66fc"/><stop offset="50%" stop-color="#4374ff"/><stop offset="66.7%" stop-color="#3489f8"/><stop offset="83.3%" stop-color="#2f98ed"/><stop offset="100%" stop-color="#2d9aeb"/></linearGradient><linearGradient id="g92"><stop offset="0%" stop-color="#4d4eed"/><stop offset="16.7%" stop-color="#4c61fa"/><stop offset="33.3%" stop-color="#4a6afd"/><stop offset="50%" stop-color="#4375ff"/><stop offset="66.7%" stop-color="#348af7"/><stop offset="83.3%" stop-color="#2e99ec"/><stop offset="100%" stop-color="#2d9aeb"/></linearGradient><linearGradient id="g93"><stop offset="0%" stop-color="#4d5cf7"/><stop offset="16.7%" stop-color="#4b67fc"/><stop offset="33.3%" stop-color="#496cfd"/><stop offset="50%" stop-color="#4275ff"/><stop offset="66.7%" stop-color="#348bf7"/><stop offset="83.3%" stop-color="#2e9aeb"/><stop offset="100%" stop-color="#2e9aeb"/></linearGradient><linearGradient id="g94"><stop offset="0%" stop-color="#4c5ff9"/><stop offset="16.7%" stop-color="#4b67fc"/><stop offset="33.3%" stop-color="#496cfd"/><stop offset="50%" stop-color="#4276ff"/><stop offset="66.7%" stop-color="#348cf6"/><stop offset="83.3%" stop-color="#2d9aeb"/><stop offset="100%" stop-color="#2d9aeb"/></linearGradient><linearGradient id="g95"><stop offset="0%" stop-color="#4d55f3"/><stop offset="16.7%" stop-color="#4c62fb"/><stop offset="33.3%" stop-color="#496afd"/><stop offset="50%" stop-color="#4276ff"/><stop offset="66.7%" stop-color="#348cf6"/><stop offset="83.3%" stop-color="#2e9aec"/><stop offset="100%" stop-color="#2d9beb"/></linearGradient><linearGradient id="g96"><stop offset="0%" stop-color="#4d4beb"/><stop offset="16.7%" stop-color="#4d5cf7"/><stop offset="33.3%" stop-color="#4b67fc"/><stop offset="50%" stop-color="#4275ff"/><stop offset="66.7%" stop-color="#348bf7"/><stop offset="83.3%" stop-color="#2e99ec"/><stop offset="100%" stop-color="#2d9beb"/></linearGradient><linearGradient id="g97"><stop offset="0%" stop-color="#4c47e6"/><stop offset="16.7%" stop-color="#4d56f3"/><stop offset="33.3%" stop-color="#4c63fb"/><stop offset="50%" stop-color="#4375ff"/><stop offset="66.7%" stop-color="#348af7"/><stop offset="83.3%" stop-color="#2f98ed"/><stop offset="100%" stop-color="#2d9bea"/></linearGradient><linearGradient id="g98"><stop offset="0%" stop-color="#4c44e2"/><stop offset="16.7%" stop-color="#4d50ef"/><stop offset="33.3%" stop-color="#4c60f9"/><stop offset="50%" stop-color="#4374ff"/><stop offset="66.7%" stop-color="#348af7"/><stop offset="83.3%" stop-color="#2f97ed"/><stop offset="100%" stop-color="#2d9bea"/></linearGradient><linearGradient id="g99"><stop offset="0%" stop-color="#4c42e0"/><stop offset="16.7%" stop-color="#4d4ceb"/><stop offset="33.3%" stop-color="#4d5cf8"/><stop offset="50%" stop-color="#4374ff"/><stop offset="66.7%" stop-color="#348bf7"/><stop offset="83.3%" stop-color="#3097ed"/><stop offset="100%" stop-color="#2d9bea"/></linearGradient><linearGradient id="g100"><stop offset="0%" stop-color="#4c41df"/><stop offset="16.7%" stop-color="#4d48e7"/><stop offset="33.3%" stop-color="#4d5bf7"/><stop offset="50%" stop-color="#4275ff"/><stop offset="66.7%" stop-color="#348bf6"/><stop offset="83.3%" stop-color="#3097ed"/><stop offset="100%" stop-color="#2d9bea"/></linearGradient><linearGradient id="g101"><stop offset="0%" stop-color="#4c42df"/><stop offset="16.7%" stop-color="#4d47e6"/><stop offset="33.3%" stop-color="#4d5bf7"/><stop offset="50%" stop-color="#4177fe"/><stop offset="66.7%" stop-color="#348cf6"/><stop offset="83.3%" stop-color="#2f97ed"/><stop offset="100%" stop-color="#2d9cea"/></linearGradient><linearGradient id="g102"><stop offset="0%" stop-color="#4c44e2"/><stop offset="16.7%" stop-color="#4d49e8"/><stop offset="33.3%" stop-color="#4d5df8"/><stop offset="50%" stop-color="#3e79fe"/><stop offset="66.7%" stop-color="#338ef5"/><stop offset="83.3%" stop-color="#2f98ed"/><stop offset="100%" stop-color="#2d9cea"/></linearGradient><linearGradient id="g103"><stop offset="0%" stop-color="#4d47e6"/><stop offset="16.7%" stop-color="#4d4dec"/><stop offset="33.3%" stop-color="#4c61fa"/><stop offset="50%" stop-color="#3b7dfd"/><stop offset="66.7%" stop-color="#338ff3"/><stop offset="83.3%" stop-color="#2f98ed"/><stop offset="100%" stop-color="#2d9cea"/></linearGradient><linearGradient id="g104"><stop offset="0%" stop-color="#4d4dec"/><stop offset="16.7%" stop-color="#4d54f2"/><stop offset="33.3%" stop-color="#4b67fd"/><stop offset="50%" stop-color="#3781fc"/><stop offset="66.7%" stop-color="#3391f2"/><stop offset="83.3%" stop-color="#2e99ec"/><stop offset="100%" stop-color="#2d9cea"/></linearGradient><linearGradient id="g105"><stop offset="0%" stop-color="#4d56f4"/><stop offset="16.7%" stop-color="#4d5df8"/><stop offset="33.3%" stop-color="#476ffe"/><stop offset="50%" stop-color="#3586fa"/><stop offset="66.7%" stop-color="#3293f0"/><stop offset="83.3%" stop-color="#2e9aec"/><stop offset="100%" stop-color="#2d9cea"/></linearGradient><linearGradient id="g106"><stop offset="0%" stop-color="#4c61fa"/><stop offset="16.7%" stop-color="#4b68fd"/><stop offset="33.3%" stop-color="#4077fe"/><stop offset="50%" stop-color="#348af7"/><stop offset="66.7%" stop-color="#3195ef"/><stop offset="83.3%" stop-color="#2d9aeb"/><stop offset="100%" stop-color="#2d9cea"/></linearGradient><linearGradient id="g107"><stop offset="0%" stop-color="#486dfe"/><stop offset="16.7%" stop-color="#4473ff"/><stop offset="33.3%" stop-color="#3880fc"/><stop offset="50%" stop-color="#338ef4"/><stop offset="66.7%" stop-color="#3097ee"/><stop offset="83.3%" stop-color="#2d9beb"/><stop offset="100%" stop-color="#2d9dea"/></linearGradient><linearGradient id="g108"><stop offset="0%" stop-color="#3e7afe"/><stop offset="16.7%" stop-color="#397efd"/><stop offset="33.3%" stop-color="#3587f9"/><stop offset="50%" stop-color="#3292f1"/><stop offset="66.7%" stop-color="#2f99ec"/><stop offset="83.3%" stop-color="#2d9cea"/><stop offset="100%" stop-color="#2c9de9"/></linearGradient><linearGradient id="g109"><stop offset="0%" stop-color="#3585fa"/><stop offset="16.7%" stop-color="#3488f8"/><stop offset="33.3%" stop-color="#348df5"/><stop offset="50%" stop-color="#3195ef"/><stop offset="66.7%" stop-color="#2d9aeb"/><stop offset="83.3%" stop-color="#2d9cea"/><stop offset="100%" stop-color="#2c9de9"/></linearGradient><linearGradient id="g110"><stop offset="0%" stop-color="#3390f3"/><stop offset="16.7%" stop-color="#3292f1"/><stop offset="33.3%" stop-color="#3195ef"/><stop offset="50%" stop-color="#2e9aec"/><stop offset="66.7%" stop-color="#2d9cea"/><stop offset="83.3%" stop-color="#2c9de9"/><stop offset="100%" stop-color="#2c9de9"/></linearGradient><linearGradient id="g111"><stop offset="0%" stop-color="#2e9aec"/><stop offset="16.7%" stop-color="#2d9cea"/><stop offset="33.3%" stop-color="#2c9de9"/><stop offset="50%" stop-color="#2c9ee8"/><stop offset="66.7%" stop-color="#2b9fe8"/><stop offset="83.3%" stop-color="#2c9ee8"/><stop offset="100%" stop-color="#2c9de9"/></linearGradient><linearGradient id="g112"><stop offset="0%" stop-color="#2ba0e7"/><stop offset="16.7%" stop-color="#2aa2e6"/><stop offset="33.3%" stop-color="#2aa2e6"/><stop offset="50%" stop-color="#2aa2e6"/><stop offset="66.7%" stop-color="#2ba1e7"/><stop offset="83.3%" stop-color="#2ba0e8"/><stop offset="100%" stop-color="#2c9ee9"/></linearGradient><linearGradient id="g113"><stop offset="0%" stop-color="#28a5e4"/><stop offset="16.7%" stop-color="#27a6e4"/><stop offset="33.3%" stop-color="#28a6e4"/><stop offset="50%" stop-color="#29a4e5"/><stop offset="66.7%" stop-color="#2aa3e6"/><stop offset="83.3%" stop-color="#2ba1e7"/><stop offset="100%" stop-color="#2c9ee8"/></linearGradient><linearGradient id="g114"><stop offset="0%" stop-color="#26a9e3"/><stop offset="16.7%" stop-color="#25a9e2"/><stop offset="33.3%" stop-color="#26a8e3"/><stop offset="50%" stop-color="#27a6e4"/><stop offset="66.7%" stop-color="#29a4e5"/><stop offset="83.3%" stop-color="#2aa2e6"/><stop offset="100%" stop-color="#2b9fe8"/></linearGradient><linearGradient id="g115"><stop offset="0%" stop-color="#24abe1"/><stop offset="16.7%" stop-color="#24abe1"/><stop offset="33.3%" stop-color="#25a9e2"/><stop offset="50%" stop-color="#27a7e3"/><stop offset="66.7%" stop-color="#28a5e5"/><stop offset="83.3%" stop-color="#2aa2e6"/><stop offset="100%" stop-color="#2ba0e7"/></linearGradient><linearGradient id="g116"><stop offset="0%" stop-color="#23ace0"/><stop offset="16.7%" stop-color="#23ace0"/><stop offset="33.3%" stop-color="#24aae2"/><stop offset="50%" stop-color="#26a8e3"/><stop offset="66.7%" stop-color="#28a5e4"/><stop offset="83.3%" stop-color="#2aa3e6"/><stop offset="100%" stop-color="#2ba0e7"/></linearGradient><linearGradient id="g117"><stop offset="0%" stop-color="#22addf"/><stop offset="16.7%" stop-color="#23ace0"/><stop offset="33.3%" stop-color="#24abe1"/><stop offset="50%" stop-color="#26a8e3"/><stop offset="66.7%" stop-color="#28a6e4"/><stop offset="83.3%" stop-color="#2aa3e6"/><stop offset="100%" stop-color="#2ba1e7"/></linearGradient><linearGradient id="g118"><stop offset="0%" stop-color="#21aedf"/><stop offset="16.7%" stop-color="#22addf"/><stop offset="33.3%" stop-color="#24abe1"/><stop offset="50%" stop-color="#26a9e3"/><stop offset="66.7%" stop-color="#28a6e4"/><stop offset="83.3%" stop-color="#29a3e5"/><stop offset="100%" stop-color="#2ba1e7"/></linearGradient><linearGradient id="g119"><stop offset="0%" stop-color="#21aede"/><stop offset="16.7%" stop-color="#22addf"/><stop offset="33.3%" stop-color="#23ace1"/><stop offset="50%" stop-color="#25a9e2"/><stop offset="66.7%" stop-color="#27a6e4"/><stop offset="83.3%" stop-color="#29a4e5"/><stop offset="100%" stop-color="#2ba1e7"/></linearGradient><linearGradient id="g120"><stop offset="0%" stop-color="#1fb0dc"/><stop offset="16.7%" stop-color="#21aede"/><stop offset="33.3%" stop-color="#23ace0"/><stop offset="50%" stop-color="#25aae2"/><stop offset="66.7%" stop-color="#27a7e4"/><stop offset="83.3%" stop-color="#29a4e5"/><stop offset="100%" stop-color="#2ba1e7"/></linearGradient><linearGradient id="g121"><stop offset="0%" stop-color="#1bb2d9"/><stop offset="16.7%" stop-color="#1fb0dc"/><stop offset="33.3%" stop-color="#22addf"/><stop offset="50%" stop-color="#24aae2"/><stop offset="66.7%" stop-color="#27a7e4"/><stop offset="83.3%" stop-color="#29a4e5"/><stop offset="100%" stop-color="#2aa1e6"/></linearGradient><linearGradient id="g122"><stop offset="0%" stop-color="#18b4d7"/><stop offset="16.7%" stop-color="#1cb1da"/><stop offset="33.3%" stop-color="#21aede"/><stop offset="50%" stop-color="#24abe1"/><stop offset="66.7%" stop-color="#27a7e3"/><stop offset="83.3%" stop-color="#29a4e5"/><stop offset="100%" stop-color="#2aa2e6"/></linearGradient><linearGradient id="g123"><stop offset="0%" stop-color="#14b5d5"/><stop offset="16.7%" stop-color="#1ab3d8"/><stop offset="33.3%" stop-color="#20afdd"/><stop offset="50%" stop-color="#23abe1"/><stop offset="66.7%" stop-color="#26a8e3"/><stop offset="83.3%" stop-color="#28a5e5"/><stop offset="100%" stop-color="#2aa2e6"/></linearGradient><linearGradient id="g124"><stop offset="0%" stop-color="#11b6d3"/><stop offset="16.7%" stop-color="#17b4d7"/><stop offset="33.3%" stop-color="#1eb0db"/><stop offset="50%" stop-color="#23ace0"/><stop offset="66.7%" stop-color="#26a9e3"/><stop offset="83.3%" stop-color="#28a5e4"/><stop offset="100%" stop-color="#2aa3e6"/></linearGradient><linearGradient id="g125"><stop offset="0%" stop-color="#febf42"/><stop offset="16.7%" stop-color="#fdbf42"/><stop offset="33.3%" stop-color="#fcbe42"/><stop offset="50%" stop-color="#fcbe43"/><stop offset="66.7%" stop-color="#fbbe43"/><stop offset="83.3%" stop-color="#fabd43"/><stop offset="100%" stop-color="#f9bc43"/></linearGradient><linearGradient id="g126"><stop offset="0%" stop-color="#fbbe43"/><stop offset="16.7%" stop-color="#fabd43"/><stop offset="33.3%" stop-color="#f9bc43"/><stop offset="50%" stop-color="#f8bc43"/><stop offset="66.7%" stop-color="#f7bc42"/><stop offset="83.3%" stop-color="#f6bc41"/><stop offset="100%" stop-color="#f5bc40"/></linearGradient><linearGradient id="g127"><stop offset="0%" stop-color="#f8bc43"/><stop offset="16.7%" stop-color="#f5bc40"/><stop offset="33.3%" stop-color="#f3bc3f"/><stop offset="50%" stop-color="#f2bc3e"/><stop offset="66.7%" stop-color="#f2bc3d"/><stop offset="83.3%" stop-color="#f2bc3d"/><stop offset="100%" stop-color="#f2bc3d"/></linearGradient><linearGradient id="g128"><stop offset="0%" stop-color="#f4bc40"/><stop offset="16.7%" stop-color="#f0bc3c"/><stop offset="33.3%" stop-color="#eebc39"/><stop offset="50%" stop-color="#edbc38"/><stop offset="66.7%" stop-color="#edbc39"/><stop offset="83.3%" stop-color="#edbc39"/><stop offset="100%" stop-color="#eebc3a"/></linearGradient><linearGradient id="g129"><stop offset="0%" stop-color="#f1bc3c"/><stop offset="16.7%" stop-color="#ebbc37"/><stop offset="33.3%" stop-color="#e8bd34"/><stop offset="50%" stop-color="#e6bd33"/><stop offset="66.7%" stop-color="#e7bd34"/><stop offset="83.3%" stop-color="#e9bd35"/><stop offset="100%" stop-color="#eabd36"/></linearGradient><linearGradient id="g130"><stop offset="0%" stop-color="#edbc39"/><stop offset="16.7%" stop-color="#e6bd33"/><stop offset="33.3%" stop-color="#e1be31"/><stop offset="50%" stop-color="#e0be30"/><stop offset="66.7%" stop-color="#e1be31"/><stop offset="83.3%" stop-color="#e4be32"/><stop offset="100%" stop-color="#e6bd33"/></linearGradient><linearGradient id="g131"><stop offset="0%" stop-color="#e9bd35"/><stop offset="16.7%" stop-color="#e1be31"/><stop offset="33.3%" stop-color="#dbbf2f"/><stop offset="50%" stop-color="#d9c02f"/><stop offset="66.7%" stop-color="#dbbf2f"/><stop offset="83.3%" stop-color="#debf30"/><stop offset="100%" stop-color="#e1be31"/></linearGradient><linearGradient id="g132"><stop offset="0%" stop-color="#e6bd33"/><stop offset="16.7%" stop-color="#ddbf2f"/><stop offset="33.3%" stop-color="#d6c02e"/><stop offset="50%" stop-color="#d4c12e"/><stop offset="66.7%" stop-color="#d6c02e"/><stop offset="83.3%" stop-color="#d8c02e"/><stop offset="100%" stop-color="#dbbf2f"/></linearGradient><linearGradient id="g133"><stop offset="0%" stop-color="#e3be32"/><stop offset="16.7%" stop-color="#d9c02f"/><stop offset="33.3%" stop-color="#d2c12e"/><stop offset="50%" stop-color="#d0c22e"/><stop offset="66.7%" stop-color="#d0c22e"/><stop offset="83.3%" stop-color="#d2c12e"/><stop offset="100%" stop-color="#d3c12e"/></linearGradient><linearGradient id="g134"><stop offset="0%" stop-color="#e1be31"/><stop offset="16.7%" stop-color="#d6c02e"/><stop offset="33.3%" stop-color="#cfc22f"/><stop offset="50%" stop-color="#cac330"/><stop offset="66.7%" stop-color="#c9c330"/><stop offset="83.3%" stop-color="#c9c330"/><stop offset="100%" stop-color="#c8c330"/></linearGradient><linearGradient id="g135"><stop offset="0%" stop-color="#debf2f"/><stop offset="16.7%" stop-color="#d3c12e"/><stop offset="33.3%" stop-color="#c9c330"/><stop offset="50%" stop-color="#c2c533"/><stop offset="66.7%" stop-color="#bfc535"/><stop offset="83.3%" stop-color="#bdc636"/><stop offset="100%" stop-color="#bbc637"/></linearGradient><linearGradient id="g136"><stop offset="0%" stop-color="#d9c02f"/><stop offset="16.7%" stop-color="#ccc32f"/><stop offset="33.3%" stop-color="#bfc535"/><stop offset="50%" stop-color="#b6c73a"/><stop offset="66.7%" stop-color="#b1c83d"/><stop offset="83.3%" stop-color="#adc93f"/><stop offset="100%" stop-color="#aac942"/></linearGradient><linearGradient id="g137"><stop offset="0%" stop-color="#cec22f"/><stop offset="16.7%" stop-color="#bec535"/><stop offset="33.3%" stop-color="#aec83f"/><stop offset="50%" stop-color="#a3ca46"/><stop offset="66.7%" stop-color="#9dcb4b"/><stop offset="83.3%" stop-color="#98cb4f"/><stop offset="100%" stop-color="#94cc52"/></linearGradient><linearGradient id="g138"><stop offset="0%" stop-color="#b9c638"/><stop offset="16.7%" stop-color="#a5ca45"/><stop offset="33.3%" stop-color="#91cc54"/><stop offset="50%" stop-color="#86cd5d"/><stop offset="66.7%" stop-color="#81ce60"/><stop offset="83.3%" stop-color="#7dce63"/><stop offset="100%" stop-color="#79ce66"/></linearGradient><linearGradient id="g139"><stop offset="0%" stop-color="#98cb4f"/><stop offset="16.7%" stop-color="#7bce64"/><stop offset="33.3%" stop-color="#66ce75"/><stop offset="50%" stop-color="#5fce7b"/><stop offset="66.7%" stop-color="#5ece7c"/><stop offset="83.3%" stop-color="#5dce7d"/><stop offset="100%" stop-color="#5cce7e"/></linearGradient><linearGradient id="g140"><stop offset="0%" stop-color="#73ce6b"/><stop offset="16.7%" stop-color="#52cd86"/><stop offset="33.3%" stop-color="#44cb93"/><stop offset="50%" stop-color="#42cb95"/><stop offset="66.7%" stop-color="#43cb93"/><stop offset="83.3%" stop-color="#45cc91"/><stop offset="100%" stop-color="#47cc8f"/></linearGradient><linearGradient id="g141"><stop offset="0%" stop-color="#55cd83"/><stop offset="16.7%" stop-color="#3bc99d"/><stop offset="33.3%" stop-color="#35c7a5"/><stop offset="50%" stop-color="#36c7a5"/><stop offset="66.7%" stop-color="#38c8a1"/><stop offset="83.3%" stop-color="#3bc99d"/><stop offset="100%" stop-color="#3dc99b"/></linearGradient><linearGradient id="g142"><stop offset="0%" stop-color="#3dca9b"/><stop offset="16.7%" stop-color="#28c3b2"/><stop offset="33.3%" stop-color="#22c2b6"/><stop offset="50%" stop-color="#26c2b4"/><stop offset="66.7%" stop-color="#2ec4ae"/><stop offset="83.3%" stop-color="#33c6a8"/><stop offset="100%" stop-color="#36c7a5"/></linearGradient><linearGradient id="g143"><stop offset="0%" stop-color="#2cc4b0"/><stop offset="16.7%" stop-color="#09bcc5"/><stop offset="33.3%" stop-color="#09bcc7"/><stop offset="50%" stop-color="#0ebec2"/><stop offset="66.7%" stop-color="#1bc0ba"/><stop offset="83.3%" stop-color="#29c3b2"/><stop offset="100%" stop-color="#2ec4ae"/></linearGradient><linearGradient id="g144"><stop offset="0%" stop-color="#09bcc7"/><stop offset="16.7%" stop-color="#17b4d6"/><stop offset="33.3%" stop-color="#15b5d5"/><stop offset="50%" stop-color="#0cb8ce"/><stop offset="66.7%" stop-color="#09bdc5"/><stop offset="83.3%" stop-color="#18c0bb"/><stop offset="100%" stop-color="#23c2b5"/></linearGradient><linearGradient id="g145"><stop offset="0%" stop-color="#1eb0dc"/><stop offset="16.7%" stop-color="#25aae2"/><stop offset="33.3%" stop-color="#22ace0"/><stop offset="50%" stop-color="#1bb2d9"/><stop offset="66.7%" stop-color="#0cb8cf"/><stop offset="83.3%" stop-color="#0bbdc4"/><stop offset="100%" stop-color="#18c0bc"/></linearGradient><linearGradient id="g146"><stop offset="0%" stop-color="#2aa2e6"/><stop offset="16.7%" stop-color="#2c9fe8"/><stop offset="33.3%" stop-color="#29a4e5"/><stop offset="50%" stop-color="#24abe1"/><stop offset="66.7%" stop-color="#1ab3d8"/><stop offset="83.3%" stop-color="#09bacc"/><stop offset="100%" stop-color="#0fbec1"/></linearGradient><linearGradient id="g147"><stop offset="0%" stop-color="#3294f0"/><stop offset="16.7%" stop-color="#3293f1"/><stop offset="33.3%" stop-color="#2d9beb"/><stop offset="50%" stop-color="#29a4e5"/><stop offset="66.7%" stop-color="#21aedf"/><stop offset="83.3%" stop-color="#10b6d2"/><stop offset="100%" stop-color="#09bcc5"/></linearGradient><linearGradient id="g148"><stop offset="0%" stop-color="#3683fb"/><stop offset="16.7%" stop-color="#3585fa"/><stop offset="33.3%" stop-color="#3391f2"/><stop offset="50%" stop-color="#2d9cea"/><stop offset="66.7%" stop-color="#26a8e3"/><stop offset="83.3%" stop-color="#1ab3d8"/><stop offset="100%" stop-color="#09bbc9"/></linearGradient><linearGradient id="g149"><stop offset="0%" stop-color="#4670fe"/><stop offset="16.7%" stop-color="#4473ff"/><stop offset="33.3%" stop-color="#3585fa"/><stop offset="50%" stop-color="#3294ef"/><stop offset="66.7%" stop-color="#2aa2e6"/><stop offset="83.3%" stop-color="#1fb0dd"/><stop offset="100%" stop-color="#0ab9cd"/></linearGradient><linearGradient id="g150"><stop offset="0%" stop-color="#4d5ef9"/><stop offset="16.7%" stop-color="#4c62fb"/><stop offset="33.3%" stop-color="#4176ff"/><stop offset="50%" stop-color="#348bf6"/><stop offset="66.7%" stop-color="#2d9cea"/><stop offset="83.3%" stop-color="#23ace0"/><stop offset="100%" stop-color="#0db8d0"/></linearGradient><linearGradient id="g151"><stop offset="0%" stop-color="#4d50ef"/><stop offset="16.7%" stop-color="#4d55f2"/><stop offset="33.3%" stop-color="#4b68fd"/><stop offset="50%" stop-color="#3781fc"/><stop offset="66.7%" stop-color="#3196ee"/><stop offset="83.3%" stop-color="#26a9e3"/><stop offset="100%" stop-color="#10b6d2"/></linearGradient><linearGradient id="g152"><stop offset="0%" stop-color="#4c45e3"/><stop offset="16.7%" stop-color="#4d4ae9"/><stop offset="33.3%" stop-color="#4d5bf7"/><stop offset="50%" stop-color="#4276ff"/><stop offset="66.7%" stop-color="#338ff3"/><stop offset="83.3%" stop-color="#28a5e4"/><stop offset="100%" stop-color="#14b5d4"/></linearGradient><linearGradient id="g153"><stop offset="0%" stop-color="#4b3dd7"/><stop offset="16.7%" stop-color="#4c43e0"/><stop offset="33.3%" stop-color="#4d52f1"/><stop offset="50%" stop-color="#496cfe"/><stop offset="66.7%" stop-color="#3489f8"/><stop offset="83.3%" stop-color="#2aa2e6"/><stop offset="100%" stop-color="#17b4d6"/></linearGradient><linearGradient id="g154"><stop offset="0%" stop-color="#4938ca"/><stop offset="16.7%" stop-color="#4b3ed9"/><stop offset="33.3%" stop-color="#4d4dec"/><stop offset="50%" stop-color="#4b65fc"/><stop offset="66.7%" stop-color="#3684fa"/><stop offset="83.3%" stop-color="#2ba0e7"/><stop offset="100%" stop-color="#18b4d7"/></linearGradient><linearGradient id="g155"><stop offset="0%" stop-color="#4734c1"/><stop offset="16.7%" stop-color="#4a3cd4"/><stop offset="33.3%" stop-color="#4d4ae9"/><stop offset="50%" stop-color="#4c61fa"/><stop offset="66.7%" stop-color="#3881fc"/><stop offset="83.3%" stop-color="#2b9fe8"/><stop offset="100%" stop-color="#19b3d7"/></linearGradient><linearGradient id="g156"><stop offset="0%" stop-color="#4734c0"/><stop offset="16.7%" stop-color="#4a3cd4"/><stop offset="33.3%" stop-color="#4d4bea"/><stop offset="50%" stop-color="#4c60fa"/><stop offset="66.7%" stop-color="#397ffd"/><stop offset="83.3%" stop-color="#2b9fe8"/><stop offset="100%" stop-color="#19b4d7"/></linearGradient><linearGradient id="g157"><stop offset="0%" stop-color="#4836c5"/><stop offset="16.7%" stop-color="#4b3ed9"/><stop offset="33.3%" stop-color="#4d4eed"/><stop offset="50%" stop-color="#4c62fb"/><stop offset="66.7%" stop-color="#3880fc"/><stop offset="83.3%" stop-color="#2ba0e7"/><stop offset="100%" stop-color="#18b4d7"/></linearGradient><linearGradient id="g158"><stop offset="0%" stop-color="#4a3ad0"/><stop offset="16.7%" stop-color="#4c43e1"/><stop offset="33.3%" stop-color="#4d54f2"/><stop offset="50%" stop-color="#4b67fc"/><stop offset="66.7%" stop-color="#3683fb"/><stop offset="83.3%" stop-color="#2aa2e6"/><stop offset="100%" stop-color="#16b4d6"/></linearGradient><linearGradient id="g159"><stop offset="0%" stop-color="#4c41de"/><stop offset="16.7%" stop-color="#4d4bea"/><stop offset="33.3%" stop-color="#4d5bf7"/><stop offset="50%" stop-color="#486dfe"/><stop offset="66.7%" stop-color="#3489f8"/><stop offset="83.3%" stop-color="#28a5e5"/><stop offset="100%" stop-color="#14b5d4"/></linearGradient><linearGradient id="g160"><stop offset="0%" stop-color="#4d4dec"/><stop offset="16.7%" stop-color="#4d56f4"/><stop offset="33.3%" stop-color="#4b64fb"/><stop offset="50%" stop-color="#4275ff"/><stop offset="66.7%" stop-color="#338ff4"/><stop offset="83.3%" stop-color="#26a8e3"/><stop offset="100%" stop-color="#10b6d2"/></linearGradient><linearGradient id="g161"><stop offset="0%" stop-color="#4d5bf7"/><stop offset="16.7%" stop-color="#4c63fb"/><stop offset="33.3%" stop-color="#476ffe"/><stop offset="50%" stop-color="#3880fc"/><stop offset="66.7%" stop-color="#3096ee"/><stop offset="83.3%" stop-color="#23ace0"/><stop offset="100%" stop-color="#0cb8cf"/></linearGradient><linearGradient id="g162"><stop offset="0%" stop-color="#496afd"/><stop offset="16.7%" stop-color="#4671fe"/><stop offset="33.3%" stop-color="#3c7bfe"/><stop offset="50%" stop-color="#348af7"/><stop offset="66.7%" stop-color="#2c9ee8"/><stop offset="83.3%" stop-color="#1fb0dc"/><stop offset="100%" stop-color="#09bacc"/></linearGradient><linearGradient id="g163"><stop offset="0%" stop-color="#3c7cfd"/><stop offset="16.7%" stop-color="#3781fc"/><stop offset="33.3%" stop-color="#3489f8"/><stop offset="50%" stop-color="#3195ef"/><stop offset="66.7%" stop-color="#27a6e4"/><stop offset="83.3%" stop-color="#18b4d7"/><stop offset="100%" stop-color="#09bbc8"/></linearGradient><linearGradient id="g164"><stop offset="0%" stop-color="#348df5"/><stop offset="16.7%" stop-color="#3390f3"/><stop offset="33.3%" stop-color="#3196ef"/><stop offset="50%" stop-color="#2ba0e7"/><stop offset="66.7%" stop-color="#22addf"/><stop offset="83.3%" stop-color="#0eb7d1"/><stop offset="100%" stop-color="#0cbdc3"/></linearGradient><linearGradient id="g165"><stop offset="0%" stop-color="#2d9cea"/><stop offset="16.7%" stop-color="#2c9de9"/><stop offset="33.3%" stop-color="#2aa2e6"/><stop offset="50%" stop-color="#25aae2"/><stop offset="66.7%" stop-color="#19b3d7"/><stop offset="83.3%" stop-color="#09baca"/><stop offset="100%" stop-color="#13bfbe"/></linearGradient><linearGradient id="g166"><stop offset="0%" stop-color="#25aae2"/><stop offset="16.7%" stop-color="#25a9e2"/><stop offset="33.3%" stop-color="#22addf"/><stop offset="50%" stop-color="#1bb2d9"/><stop offset="66.7%" stop-color="#0cb8ce"/><stop offset="83.3%" stop-color="#0dbdc3"/><stop offset="100%" stop-color="#1ec1b9"/></linearGradient><linearGradient id="g167"><stop offset="0%" stop-color="#12b6d3"/><stop offset="16.7%" stop-color="#15b5d5"/><stop offset="33.3%" stop-color="#12b6d3"/><stop offset="50%" stop-color="#0bb9ce"/><stop offset="66.7%" stop-color="#0abdc5"/><stop offset="83.3%" stop-color="#1ac0bb"/><stop offset="100%" stop-color="#29c3b2"/></linearGradient><linearGradient id="g168"><stop offset="0%" stop-color="#12bfbf"/><stop offset="16.7%" stop-color="#0dbec2"/><stop offset="33.3%" stop-color="#0abdc4"/><stop offset="50%" stop-color="#0ebec1"/><stop offset="66.7%" stop-color="#1ac0ba"/><stop offset="83.3%" stop-color="#29c3b2"/><stop offset="100%" stop-color="#32c5aa"/></linearGradient><linearGradient id="g169"><stop offset="0%" stop-color="#33c6a9"/><stop offset="16.7%" stop-color="#2ec4ad"/><stop offset="33.3%" stop-color="#25c2b4"/><stop offset="50%" stop-color="#25c2b4"/><stop offset="66.7%" stop-color="#2cc4af"/><stop offset="83.3%" stop-color="#33c6a8"/><stop offset="100%" stop-color="#38c8a1"/></linearGradient><linearGradient id="g170"><stop offset="0%" stop-color="#46cc91"/><stop offset="16.7%" stop-color="#40ca97"/><stop offset="33.3%" stop-color="#37c7a3"/><stop offset="50%" stop-color="#35c7a6"/><stop offset="66.7%" stop-color="#37c7a3"/><stop offset="83.3%" stop-color="#3bc99d"/><stop offset="100%" stop-color="#40ca97"/></linearGradient><linearGradient id="g171"><stop offset="0%" stop-color="#65ce77"/><stop offset="16.7%" stop-color="#5ace80"/><stop offset="33.3%" stop-color="#47cc90"/><stop offset="50%" stop-color="#41cb95"/><stop offset="66.7%" stop-color="#42cb94"/><stop offset="83.3%" stop-color="#46cc91"/><stop offset="100%" stop-color="#4ccc8b"/></linearGradient><linearGradient id="g172"><stop offset="0%" stop-color="#8ecd57"/><stop offset="16.7%" stop-color="#82cd5f"/><stop offset="33.3%" stop-color="#6bce71"/><stop offset="50%" stop-color="#61ce7a"/><stop offset="66.7%" stop-color="#5dce7d"/><stop offset="83.3%" stop-color="#5ece7d"/><stop offset="100%" stop-color="#61ce79"/></linearGradient><linearGradient id="g173"><stop offset="0%" stop-color="#b1c83d"/><stop offset="16.7%" stop-color="#a9c942"/><stop offset="33.3%" stop-color="#97cc4f"/><stop offset="50%" stop-color="#8acd59"/><stop offset="66.7%" stop-color="#82cd5f"/><stop offset="83.3%" stop-color="#7ece62"/><stop offset="100%" stop-color="#7fce62"/></linearGradient><linearGradient id="g174"><stop offset="0%" stop-color="#c6c431"/><stop offset="16.7%" stop-color="#c1c533"/><stop offset="33.3%" stop-color="#b4c73b"/><stop offset="50%" stop-color="#a8c943"/><stop offset="66.7%" stop-color="#9fcb49"/><stop offset="83.3%" stop-color="#9acb4d"/><stop offset="100%" stop-color="#99cb4e"/></linearGradient><linearGradient id="g175"><stop offset="0%" stop-color="#d2c12e"/><stop offset="16.7%" stop-color="#cec22f"/><stop offset="33.3%" stop-color="#c4c432"/><stop offset="50%" stop-color="#bac637"/><stop offset="66.7%" stop-color="#b3c73b"/><stop offset="83.3%" stop-color="#afc83e"/><stop offset="100%" stop-color="#aec83f"/></linearGradient><linearGradient id="g176"><stop offset="0%" stop-color="#d9c02f"/><stop offset="16.7%" stop-color="#d5c12e"/><stop offset="33.3%" stop-color="#cdc22f"/><stop offset="50%" stop-color="#c6c431"/><stop offset="66.7%" stop-color="#c1c534"/><stop offset="83.3%" stop-color="#bfc535"/><stop offset="100%" stop-color="#bec535"/></linearGradient><linearGradient id="g177"><stop offset="0%" stop-color="#ddbf2f"/><stop offset="16.7%" stop-color="#d7c02e"/><stop offset="33.3%" stop-color="#d1c12e"/><stop offset="50%" stop-color="#ccc22f"/><stop offset="66.7%" stop-color="#cac330"/><stop offset="83.3%" stop-color="#c9c330"/><stop offset="100%" stop-color="#cbc32f"/></linearGradient><linearGradient id="g178"><stop offset="0%" stop-color="#dfbe30"/><stop offset="16.7%" stop-color="#d9c02f"/><stop offset="33.3%" stop-color="#d4c12e"/><stop offset="50%" stop-color="#d1c12e"/><stop offset="66.7%" stop-color="#d0c22e"/><stop offset="83.3%" stop-color="#d1c12e"/><stop offset="100%" stop-color="#d5c12e"/></linearGradient><linearGradient id="g179"><stop offset="0%" stop-color="#e3be31"/><stop offset="16.7%" stop-color="#ddbf2f"/><stop offset="33.3%" stop-color="#d7c02e"/><stop offset="50%" stop-color="#d5c12e"/><stop offset="66.7%" stop-color="#d5c12e"/><stop offset="83.3%" stop-color="#d8c02e"/><stop offset="100%" stop-color="#dcbf2f"/></linearGradient><linearGradient id="g180"><stop offset="0%" stop-color="#e7bd33"/><stop offset="16.7%" stop-color="#e1be31"/><stop offset="33.3%" stop-color="#dcbf2f"/><stop offset="50%" stop-color="#dac02f"/><stop offset="66.7%" stop-color="#dbbf2f"/><stop offset="83.3%" stop-color="#debf2f"/><stop offset="100%" stop-color="#e1be31"/></linearGradient><linearGradient id="g181"><stop offset="0%" stop-color="#ebbd37"/><stop offset="16.7%" stop-color="#e7bd33"/><stop offset="33.3%" stop-color="#e3be31"/><stop offset="50%" stop-color="#e1be31"/><stop offset="66.7%" stop-color="#e1be31"/><stop offset="83.3%" stop-color="#e4be32"/><stop offset="100%" stop-color="#e7bd33"/></linearGradient><linearGradient id="g182"><stop offset="0%" stop-color="#efbc3b"/><stop offset="16.7%" stop-color="#ecbc38"/><stop offset="33.3%" stop-color="#e9bd36"/><stop offset="50%" stop-color="#e8bd34"/><stop offset="66.7%" stop-color="#e8bd34"/><stop offset="83.3%" stop-color="#eabd36"/><stop offset="100%" stop-color="#ebbc37"/></linearGradient><linearGradient id="g183"><stop offset="0%" stop-color="#f4bc3f"/><stop offset="16.7%" stop-color="#f2bc3d"/><stop offset="33.3%" stop-color="#f0bc3c"/><stop offset="50%" stop-color="#efbc3b"/><stop offset="66.7%" stop-color="#efbc3a"/><stop offset="83.3%" stop-color="#efbc3b"/><stop offset="100%" stop-color="#f0bc3c"/></linearGradient><linearGradient id="g184"><stop offset="0%" stop-color="#f9bc43"/><stop offset="16.7%" stop-color="#f7bc42"/><stop offset="33.3%" stop-color="#f6bc41"/><stop offset="50%" stop-color="#f5bc40"/><stop offset="66.7%" stop-color="#f5bc40"/><stop offset="83.3%" stop-color="#f4bc3f"/><stop offset="100%" stop-color="#f5bc40"/></linearGradient><linearGradient id="g185"><stop offset="0%" stop-color="#fcbe42"/><stop offset="16.7%" stop-color="#fcbe43"/><stop offset="33.3%" stop-color="#fbbe43"/><stop offset="50%" stop-color="#fbbe43"/><stop offset="66.7%" stop-color="#fabd43"/><stop offset="83.3%" stop-color="#f9bd43"/><stop offset="100%" stop-color="#f9bd43"/></linearGradient><linearGradient id="g186"><stop offset="0%" stop-color="#fec141"/><stop offset="16.7%" stop-color="#fec141"/><stop offset="33.3%" stop-color="#fec141"/><stop offset="50%" stop-color="#fec141"/><stop offset="66.7%" stop-color="#fec042"/><stop offset="83.3%" stop-color="#fdbf42"/><stop offset="100%" stop-color="#fcbe42"/></linearGradient><linearGradient id="g187"><stop offset="0%" stop-color="#f9fa1d"/><stop offset="16.7%" stop-color="#f7f522"/><stop offset="33.3%" stop-color="#f6f126"/><stop offset="50%" stop-color="#f5ec29"/><stop offset="66.7%" stop-color="#f5e82c"/><stop offset="83.3%" stop-color="#f5e42d"/><stop offset="100%" stop-color="#f6e12f"/></linearGradient><linearGradient id="g188"><stop offset="0%" stop-color="#f8f81f"/><stop offset="16.7%" stop-color="#f7f324"/><stop offset="33.3%" stop-color="#f6ef27"/><stop offset="50%" stop-color="#f5ec2a"/><stop offset="66.7%" stop-color="#f5e72c"/><stop offset="83.3%" stop-color="#f5e32e"/><stop offset="100%" stop-color="#f6e02f"/></linearGradient><linearGradient id="g189"><stop offset="0%" stop-color="#f8f621"/><stop offset="16.7%" stop-color="#f6f125"/><stop offset="33.3%" stop-color="#f5ed28"/><stop offset="50%" stop-color="#f5ea2b"/><stop offset="66.7%" stop-color="#f5e62c"/><stop offset="83.3%" stop-color="#f6e32e"/><stop offset="100%" stop-color="#f6e02f"/></linearGradient><linearGradient id="g190"><stop offset="0%" stop-color="#f7f423"/><stop offset="16.7%" stop-color="#f6ef27"/><stop offset="33.3%" stop-color="#f5eb2a"/><stop offset="50%" stop-color="#f5e82b"/><stop offset="66.7%" stop-color="#f5e52d"/><stop offset="83.3%" stop-color="#f6e22e"/><stop offset="100%" stop-color="#f6e02f"/></linearGradient><linearGradient id="g191"><stop offset="0%" stop-color="#f7f224"/><stop offset="16.7%" stop-color="#f6ed28"/><stop offset="33.3%" stop-color="#f5ea2b"/><stop offset="50%" stop-color="#f5e72c"/><stop offset="66.7%" stop-color="#f5e42d"/><stop offset="83.3%" stop-color="#f6e22f"/><stop offset="100%" stop-color="#f7df30"/></linearGradient><linearGradient id="g192"><stop offset="0%" stop-color="#f6f126"/><stop offset="16.7%" stop-color="#f5eb2a"/><stop offset="33.3%" stop-color="#f5e82c"/><stop offset="50%" stop-color="#f5e52d"/><stop offset="66.7%" stop-color="#f6e32e"/><stop offset="83.3%" stop-color="#f6e12f"/><stop offset="100%" stop-color="#f7df30"/></linearGradient><linearGradient id="g193"><stop offset="0%" stop-color="#f6ee28"/><stop offset="16.7%" stop-color="#f5e92b"/><stop offset="33.3%" stop-color="#f5e52d"/><stop offset="50%" stop-color="#f5e32e"/><stop offset="66.7%" stop-color="#f6e12f"/><stop offset="83.3%" stop-color="#f6e02f"/><stop offset="100%" stop-color="#f7de30"/></linearGradient><linearGradient id="g194"><stop offset="0%" stop-color="#f5e82c"/><stop offset="16.7%" stop-color="#f5e42d"/><stop offset="33.3%" stop-color="#f6e22e"/><stop offset="50%" stop-color="#f6e12f"/><stop offset="66.7%" stop-color="#f6e02f"/><stop offset="83.3%" stop-color="#f7df30"/><stop offset="100%" stop-color="#f7dd31"/></linearGradient><linearGradient id="g195"><stop offset="0%" stop-color="#f6e02f"/><stop offset="16.7%" stop-color="#f6df2f"/><stop offset="33.3%" stop-color="#f7df30"/><stop offset="50%" stop-color="#f7df30"/><stop offset="66.7%" stop-color="#f7de30"/><stop offset="83.3%" stop-color="#f7dd30"/><stop offset="100%" stop-color="#f8dc31"/></linearGradient><linearGradient id="g196"><stop offset="0%" stop-color="#f8db32"/><stop offset="16.7%" stop-color="#f8db32"/><stop offset="33.3%" stop-color="#f8db31"/><stop offset="50%" stop-color="#f8dc31"/><stop offset="66.7%" stop-color="#f8dc31"/><stop offset="83.3%" stop-color="#f8dc31"/><stop offset="100%" stop-color="#f8da32"/></linearGradient><linearGradient id="g197"><stop offset="0%" stop-color="#fad734"/><stop offset="16.7%" stop-color="#fad733"/><stop offset="33.3%" stop-color="#f9d833"/><stop offset="50%" stop-color="#f9d932"/><stop offset="66.7%" stop-color="#f9da32"/><stop offset="83.3%" stop-color="#f9da32"/><stop offset="100%" stop-color="#f9d833"/></linearGradient><linearGradient id="g198"><stop offset="0%" stop-color="#fbd335"/><stop offset="16.7%" stop-color="#fbd435"/><stop offset="33.3%" stop-color="#fad634"/><stop offset="50%" stop-color="#fad634"/><stop offset="66.7%" stop-color="#fad733"/><stop offset="83.3%" stop-color="#fad733"/><stop offset="100%" stop-color="#fad634"/></linearGradient><linearGradient id="g199"><stop offset="0%" stop-color="#fcd136"/><stop offset="16.7%" stop-color="#fcd236"/><stop offset="33.3%" stop-color="#fbd335"/><stop offset="50%" stop-color="#fcd335"/><stop offset="66.7%" stop-color="#fbd435"/><stop offset="83.3%" stop-color="#fbd435"/><stop offset="100%" stop-color="#fbd335"/></linearGradient><linearGradient id="g200"><stop offset="0%" stop-color="#fdd037"/><stop offset="16.7%" stop-color="#fcd136"/><stop offset="33.3%" stop-color="#fcd037"/><stop offset="50%" stop-color="#fdcf38"/><stop offset="66.7%" stop-color="#fdcf37"/><stop offset="83.3%" stop-color="#fdcf37"/><stop offset="100%" stop-color="#fdcf38"/></linearGradient><linearGradient id="g201"><stop offset="0%" stop-color="#fcd136"/><stop offset="16.7%" stop-color="#fdcf37"/><stop offset="33.3%" stop-color="#fdcc39"/><stop offset="50%" stop-color="#feca3b"/><stop offset="66.7%" stop-color="#fec93b"/><stop offset="83.3%" stop-color="#fec93b"/><stop offset="100%" stop-color="#fec83c"/></linearGradient><linearGradient id="g202"><stop offset="0%" stop-color="#fcd136"/><stop offset="16.7%" stop-color="#fecc39"/><stop offset="33.3%" stop-color="#fec73d"/><stop offset="50%" stop-color="#fec43f"/><stop offset="66.7%" stop-color="#fec240"/><stop offset="83.3%" stop-color="#fec240"/><stop offset="100%" stop-color="#fec240"/></linearGradient><linearGradient id="g203"><stop offset="0%" stop-color="#fdcf38"/><stop offset="16.7%" stop-color="#fec73d"/><stop offset="33.3%" stop-color="#fec141"/><stop offset="50%" stop-color="#fcbe42"/><stop offset="66.7%" stop-color="#fbbe43"/><stop offset="83.3%" stop-color="#fbbe43"/><stop offset="100%" stop-color="#fbbe43"/></linearGradient><linearGradient id="g204"><stop offset="0%" stop-color="#feca3a"/><stop offset="16.7%" stop-color="#fec042"/><stop offset="33.3%" stop-color="#f7bc42"/><stop offset="50%" stop-color="#f3bc3e"/><stop offset="66.7%" stop-color="#f1bc3d"/><stop offset="83.3%" stop-color="#f2bc3d"/><stop offset="100%" stop-color="#f2bc3e"/></linearGradient><linearGradient id="g205"><stop offset="0%" stop-color="#fec340"/><stop offset="16.7%" stop-color="#f4bc3f"/><stop offset="33.3%" stop-color="#e9bd35"/><stop offset="50%" stop-color="#e5bd32"/><stop offset="66.7%" stop-color="#e4be32"/><stop offset="83.3%" stop-color="#e6bd33"/><stop offset="100%" stop-color="#e7bd34"/></linearGradient><linearGradient id="g206"><stop offset="0%" stop-color="#f2bc3d"/><stop offset="16.7%" stop-color="#dfbe30"/><stop offset="33.3%" stop-color="#d4c12e"/><stop offset="50%" stop-color="#d2c12e"/><stop offset="66.7%" stop-color="#d3c12e"/><stop offset="83.3%" stop-color="#d7c02e"/><stop offset="100%" stop-color="#d9c02f"/></linearGradient><linearGradient id="g207"><stop offset="0%" stop-color="#d3c12e"/><stop offset="16.7%" stop-color="#c0c534"/><stop offset="33.3%" stop-color="#b7c739"/><stop offset="50%" stop-color="#b9c638"/><stop offset="66.7%" stop-color="#bfc535"/><stop offset="83.3%" stop-color="#c5c432"/><stop offset="100%" stop-color="#c9c330"/></linearGradient><linearGradient id="g208"><stop offset="0%" stop-color="#a7c943"/><stop offset="16.7%" stop-color="#94cc52"/><stop offset="33.3%" stop-color="#93cc53"/><stop offset="50%" stop-color="#9ccb4c"/><stop offset="66.7%" stop-color="#a7ca44"/><stop offset="83.3%" stop-color="#b0c83d"/><stop offset="100%" stop-color="#b7c739"/></linearGradient><linearGradient id="g209"><stop offset="0%" stop-color="#71ce6d"/><stop offset="16.7%" stop-color="#61ce79"/><stop offset="33.3%" stop-color="#6ace72"/><stop offset="50%" stop-color="#7bce64"/><stop offset="66.7%" stop-color="#8ccd58"/><stop offset="83.3%" stop-color="#99cb4e"/><stop offset="100%" stop-color="#a3ca46"/></linearGradient><linearGradient id="g210"><stop offset="0%" stop-color="#40ca97"/><stop offset="16.7%" stop-color="#3ac99e"/><stop offset="33.3%" stop-color="#45cc91"/><stop offset="50%" stop-color="#5bce7e"/><stop offset="66.7%" stop-color="#70ce6d"/><stop offset="83.3%" stop-color="#82cd60"/><stop offset="100%" stop-color="#8fcc56"/></linearGradient><linearGradient id="g211"><stop offset="0%" stop-color="#1dc1b9"/><stop offset="16.7%" stop-color="#19c0bb"/><stop offset="33.3%" stop-color="#31c5ab"/><stop offset="50%" stop-color="#41cb96"/><stop offset="66.7%" stop-color="#57cd82"/><stop offset="83.3%" stop-color="#6bce71"/><stop offset="100%" stop-color="#7ace65"/></linearGradient><linearGradient id="g212"><stop offset="0%" stop-color="#15b5d5"/><stop offset="16.7%" stop-color="#14b5d5"/><stop offset="33.3%" stop-color="#10bec0"/><stop offset="50%" stop-color="#33c6a9"/><stop offset="66.7%" stop-color="#43cb93"/><stop offset="83.3%" stop-color="#58cd81"/><stop offset="100%" stop-color="#67ce74"/></linearGradient><linearGradient id="g213"><stop offset="0%" stop-color="#29a4e5"/><stop offset="16.7%" stop-color="#27a6e4"/><stop offset="33.3%" stop-color="#11b6d2"/><stop offset="50%" stop-color="#1fc1b8"/><stop offset="66.7%" stop-color="#38c8a2"/><stop offset="83.3%" stop-color="#47cc8f"/><stop offset="100%" stop-color="#57cd82"/></linearGradient><linearGradient id="g214"><stop offset="0%" stop-color="#3294ef"/><stop offset="16.7%" stop-color="#2f98ed"/><stop offset="33.3%" stop-color="#22addf"/><stop offset="50%" stop-color="#09bcc5"/><stop offset="66.7%" stop-color="#2ec4ad"/><stop offset="83.3%" stop-color="#3dca9a"/><stop offset="100%" stop-color="#4bcc8c"/></linearGradient><linearGradient id="g215"><stop offset="0%" stop-color="#3586f9"/><stop offset="16.7%" stop-color="#348bf7"/><stop offset="33.3%" stop-color="#29a4e5"/><stop offset="50%" stop-color="#0cb8cf"/><stop offset="66.7%" stop-color="#22c2b6"/><stop offset="83.3%" stop-color="#37c7a3"/><stop offset="100%" stop-color="#43cb94"/></linearGradient><linearGradient id="g216"><stop offset="0%" stop-color="#3d7bfe"/><stop offset="16.7%" stop-color="#3881fc"/><stop offset="33.3%" stop-color="#2d9cea"/><stop offset="50%" stop-color="#16b4d6"/><stop offset="66.7%" stop-color="#17c0bc"/><stop offset="83.3%" stop-color="#33c6a8"/><stop offset="100%" stop-color="#3eca99"/></linearGradient><linearGradient id="g217"><stop offset="0%" stop-color="#4474ff"/><stop offset="16.7%" stop-color="#3e7afe"/><stop offset="33.3%" stop-color="#2f98ed"/><stop offset="50%" stop-color="#1bb2d9"/><stop offset="66.7%" stop-color="#11bfbf"/><stop offset="83.3%" stop-color="#30c5ab"/><stop offset="100%" stop-color="#3cc99b"/></linearGradient><linearGradient id="g218"><stop offset="0%" stop-color="#4572ff"/><stop offset="16.7%" stop-color="#3f79fe"/><stop offset="33.3%" stop-color="#3097ee"/><stop offset="50%" stop-color="#1bb2d9"/><stop offset="66.7%" stop-color="#11bfbf"/><stop offset="83.3%" stop-color="#30c5ab"/><stop offset="100%" stop-color="#3dc99b"/></linearGradient><linearGradient id="g219"><stop offset="0%" stop-color="#4177fe"/><stop offset="16.7%" stop-color="#397ffd"/><stop offset="33.3%" stop-color="#2e9aeb"/><stop offset="50%" stop-color="#17b4d7"/><stop offset="66.7%" stop-color="#17c0bc"/><stop offset="83.3%" stop-color="#33c6a9"/><stop offset="100%" stop-color="#3fca98"/></linearGradient><linearGradient id="g220"><stop offset="0%" stop-color="#3880fc"/><stop offset="16.7%" stop-color="#3489f8"/><stop offset="33.3%" stop-color="#2ba1e7"/><stop offset="50%" stop-color="#0db8d0"/><stop offset="66.7%" stop-color="#22c2b6"/><stop offset="83.3%" stop-color="#37c7a3"/><stop offset="100%" stop-color="#44cb92"/></linearGradient><linearGradient id="g221"><stop offset="0%" stop-color="#348cf6"/><stop offset="16.7%" stop-color="#3097ee"/><stop offset="33.3%" stop-color="#23abe1"/><stop offset="50%" stop-color="#09bdc5"/><stop offset="66.7%" stop-color="#2fc4ad"/><stop offset="83.3%" stop-color="#3dc99b"/><stop offset="100%" stop-color="#4dcd8a"/></linearGradient><linearGradient id="g222"><stop offset="0%" stop-color="#2d9cea"/><stop offset="16.7%" stop-color="#27a6e4"/><stop offset="33.3%" stop-color="#10b7d2"/><stop offset="50%" stop-color="#22c2b7"/><stop offset="66.7%" stop-color="#39c8a0"/><stop offset="83.3%" stop-color="#47cc8f"/><stop offset="100%" stop-color="#5bce7f"/></linearGradient><linearGradient id="g223"><stop offset="0%" stop-color="#22addf"/><stop offset="16.7%" stop-color="#11b6d2"/><stop offset="33.3%" stop-color="#16c0bc"/><stop offset="50%" stop-color="#36c7a5"/><stop offset="66.7%" stop-color="#46cc90"/><stop offset="83.3%" stop-color="#59cd81"/><stop offset="100%" stop-color="#6cce70"/></linearGradient><linearGradient id="g224"><stop offset="0%" stop-color="#09bcc5"/><stop offset="16.7%" stop-color="#22c2b6"/><stop offset="33.3%" stop-color="#37c7a3"/><stop offset="50%" stop-color="#48cc8f"/><stop offset="66.7%" stop-color="#5dce7d"/><stop offset="83.3%" stop-color="#6ece6f"/><stop offset="100%" stop-color="#80ce61"/></linearGradient><linearGradient id="g225"><stop offset="0%" stop-color="#35c7a6"/><stop offset="16.7%" stop-color="#42cb95"/><stop offset="33.3%" stop-color="#54cd84"/><stop offset="50%" stop-color="#67ce74"/><stop offset="66.7%" stop-color="#78ce67"/><stop offset="83.3%" stop-color="#87cd5c"/><stop offset="100%" stop-color="#96cc50"/></linearGradient><linearGradient id="g226"><stop offset="0%" stop-color="#59cd81"/><stop offset="16.7%" stop-color="#71ce6c"/><stop offset="33.3%" stop-color="#7fce62"/><stop offset="50%" stop-color="#8acd59"/><stop offset="66.7%" stop-color="#95cc51"/><stop offset="83.3%" stop-color="#a0cb49"/><stop offset="100%" stop-color="#abc941"/></linearGradient><linearGradient id="g227"><stop offset="0%" stop-color="#89cd5a"/><stop offset="16.7%" stop-color="#a3ca46"/><stop offset="33.3%" stop-color="#a7c943"/><stop offset="50%" stop-color="#abc941"/><stop offset="66.7%" stop-color="#b0c83d"/><stop offset="83.3%" stop-color="#b7c739"/><stop offset="100%" stop-color="#c0c534"/></linearGradient><linearGradient id="g228"><stop offset="0%" stop-color="#b4c73b"/><stop offset="16.7%" stop-color="#cbc32f"/><stop offset="33.3%" stop-color="#c8c330"/><stop offset="50%" stop-color="#c6c431"/><stop offset="66.7%" stop-color="#c7c430"/><stop offset="83.3%" stop-color="#ccc32f"/><stop offset="100%" stop-color="#d2c12e"/></linearGradient><linearGradient id="g229"><stop offset="0%" stop-color="#d5c12e"/><stop offset="16.7%" stop-color="#e7bd34"/><stop offset="33.3%" stop-color="#e0be30"/><stop offset="50%" stop-color="#dbbf2f"/><stop offset="66.7%" stop-color="#dabf2f"/><stop offset="83.3%" stop-color="#ddbf2f"/><stop offset="100%" stop-color="#e1be31"/></linearGradient><linearGradient id="g230"><stop offset="0%" stop-color="#ebbc37"/><stop offset="16.7%" stop-color="#f9bd43"/><stop offset="33.3%" stop-color="#f0bc3c"/><stop offset="50%" stop-color="#ebbd37"/><stop offset="66.7%" stop-color="#eabd36"/><stop offset="83.3%" stop-color="#ebbd37"/><stop offset="100%" stop-color="#eebc3a"/></linearGradient><linearGradient id="g231"><stop offset="0%" stop-color="#f9bd43"/><stop offset="16.7%" stop-color="#fec43f"/><stop offset="33.3%" stop-color="#fbbe43"/><stop offset="50%" stop-color="#f7bc41"/><stop offset="66.7%" stop-color="#f5bc40"/><stop offset="83.3%" stop-color="#f6bc41"/><stop offset="100%" stop-color="#f9bc43"/></linearGradient><linearGradient id="g232"><stop offset="0%" stop-color="#fec240"/><stop offset="16.7%" stop-color="#feca3b"/><stop offset="33.3%" stop-color="#fec340"/><stop offset="50%" stop-color="#febf42"/><stop offset="66.7%" stop-color="#fcbf42"/><stop offset="83.3%" stop-color="#fcbf42"/><stop offset="100%" stop-color="#fec042"/></linearGradient><linearGradient id="g233"><stop offset="0%" stop-color="#fec73d"/><stop offset="16.7%" stop-color="#fdcd38"/><stop offset="33.3%" stop-color="#fec83c"/><stop offset="50%" stop-color="#fec43f"/><stop offset="66.7%" stop-color="#fec340"/><stop offset="83.3%" stop-color="#fec340"/><stop offset="100%" stop-color="#fec43f"/></linearGradient><linearGradient id="g234"><stop offset="0%" stop-color="#fecb3a"/><stop offset="16.7%" stop-color="#fcd136"/><stop offset="33.3%" stop-color="#fdcd39"/><stop offset="50%" stop-color="#fec93b"/><stop offset="66.7%" stop-color="#fec83c"/><stop offset="83.3%" stop-color="#fec83c"/><stop offset="100%" stop-color="#fec83c"/></linearGradient><linearGradient id="g235"><stop offset="0%" stop-color="#fdce38"/><stop offset="16.7%" stop-color="#fbd435"/><stop offset="33.3%" stop-color="#fcd136"/><stop offset="50%" stop-color="#fdcd39"/><stop offset="66.7%" stop-color="#fdcc39"/><stop offset="83.3%" stop-color="#fecc39"/><stop offset="100%" stop-color="#fecb3a"/></linearGradient><linearGradient id="g236"><stop offset="0%" stop-color="#fcd136"/><stop offset="16.7%" stop-color="#fad634"/><stop offset="33.3%" stop-color="#fbd435"/><stop offset="50%" stop-color="#fdd037"/><stop offset="66.7%" stop-color="#fdd037"/><stop offset="83.3%" stop-color="#fdcf37"/><stop offset="100%" stop-color="#fdcd38"/></linearGradient><linearGradient id="g237"><stop offset="0%" stop-color="#fbd534"/><stop offset="16.7%" stop-color="#f9d833"/><stop offset="33.3%" stop-color="#f9d833"/><stop offset="50%" stop-color="#fbd534"/><stop offset="66.7%" stop-color="#fbd435"/><stop offset="83.3%" stop-color="#fcd236"/><stop offset="100%" stop-color="#fcd136"/></linearGradient><linearGradient id="g238"><stop offset="0%" stop-color="#f9d833"/><stop offset="16.7%" stop-color="#f8dc31"/><stop offset="33.3%" stop-color="#f8dc31"/><stop offset="50%" stop-color="#f8da32"/><stop offset="66.7%" stop-color="#f9d833"/><stop offset="83.3%" stop-color="#fad634"/><stop offset="100%" stop-color="#fbd534"/></linearGradient><linearGradient id="g239"><stop offset="0%" stop-color="#f7dc31"/><stop offset="16.7%" stop-color="#f6df2f"/><stop offset="33.3%" stop-color="#f6e02f"/><stop offset="50%" stop-color="#f7df30"/><stop offset="66.7%" stop-color="#f7dc31"/><stop offset="83.3%" stop-color="#f8da32"/><stop offset="100%" stop-color="#f9d932"/></linearGradient><linearGradient id="g240"><stop offset="0%" stop-color="#f6e02f"/><stop offset="16.7%" stop-color="#f5e32e"/><stop offset="33.3%" stop-color="#f5e42e"/><stop offset="50%" stop-color="#f6e22e"/><stop offset="66.7%" stop-color="#f6df2f"/><stop offset="83.3%" stop-color="#f7dd30"/><stop offset="100%" stop-color="#f7dd31"/></linearGradient><linearGradient id="g241"><stop offset="0%" stop-color="#f5e52d"/><stop offset="16.7%" stop-color="#f5e72c"/><stop offset="33.3%" stop-color="#f5e72c"/><stop offset="50%" stop-color="#f5e42d"/><stop offset="66.7%" stop-color="#f6e12f"/><stop offset="83.3%" stop-color="#f7df30"/><stop offset="100%" stop-color="#f7df30"/></linearGradient><linearGradient id="g242"><stop offset="0%" stop-color="#f5ea2b"/><stop offset="16.7%" stop-color="#f5eb2a"/><stop offset="33.3%" stop-color="#f5e82b"/><stop offset="50%" stop-color="#f5e52d"/><stop offset="66.7%" stop-color="#f6e12f"/><stop offset="83.3%" stop-color="#f6df2f"/><stop offset="100%" stop-color="#f6df2f"/></linearGradient><linearGradient id="g243"><stop offset="0%" stop-color="#f5ed28"/><stop offset="16.7%" stop-color="#f6ed28"/><stop offset="33.3%" stop-color="#f5e92b"/><stop offset="50%" stop-color="#f5e42d"/><stop offset="66.7%" stop-color="#f6e02f"/><stop offset="83.3%" stop-color="#f7df30"/><stop offset="100%" stop-color="#f6df2f"/></linearGradient><linearGradient id="g244"><stop offset="0%" stop-color="#f6ef27"/><stop offset="16.7%" stop-color="#f6ee28"/><stop offset="33.3%" stop-color="#f5ea2b"/><stop offset="50%" stop-color="#f5e32e"/><stop offset="66.7%" stop-color="#f7df30"/><stop offset="83.3%" stop-color="#f7de30"/><stop offset="100%" stop-color="#f6df2f"/></linearGradient><linearGradient id="g245"><stop offset="0%" stop-color="#f6f026"/><stop offset="16.7%" stop-color="#f6f027"/><stop offset="33.3%" stop-color="#f5eb2a"/><stop offset="50%" stop-color="#f6e22e"/><stop offset="66.7%" stop-color="#f7dd31"/><stop offset="83.3%" stop-color="#f7dc31"/><stop offset="100%" stop-color="#f6e02f"/></linearGradient><linearGradient id="g246"><stop offset="0%" stop-color="#f6f225"/><stop offset="16.7%" stop-color="#f6f225"/><stop offset="33.3%" stop-color="#f5ed29"/><stop offset="50%" stop-color="#f6e32e"/><stop offset="66.7%" stop-color="#f8db31"/><stop offset="83.3%" stop-color="#f8dc31"/><stop offset="100%" stop-color="#f6e12f"/></linearGradient><linearGradient id="g247"><stop offset="0%" stop-color="#f7f324"/><stop offset="16.7%" stop-color="#f7f522"/><stop offset="33.3%" stop-color="#f6f225"/><stop offset="50%" stop-color="#f5e52d"/><stop offset="66.7%" stop-color="#f8db31"/><stop offset="83.3%" stop-color="#f7dd30"/><stop offset="100%" stop-color="#f6e32e"/></linearGradient><linearGradient id="g248"><stop offset="0%" stop-color="#f8f621"/><stop offset="16.7%" stop-color="#f9fa1c"/><stop offset="33.3%" stop-color="#f9fb1c"/><stop offset="50%" stop-color="#f5ec29"/><stop offset="66.7%" stop-color="#f7de30"/><stop offset="83.3%" stop-color="#f6e02f"/><stop offset="100%" stop-color="#f5e62c"/></linearGradient><linearGradient id="g249"><stop offset="0%" stop-color="#4d5bf7"/><stop offset="16.7%" stop-color="#4d5bf7"/><stop offset="33.3%" stop-color="#4d5bf7"/><stop offset="50%" stop-color="#4d5cf7"/><stop offset="66.7%" stop-color="#4d5ef8"/><stop offset="83.3%" stop-color="#4c60fa"/><stop offset="100%" stop-color="#4c62fb"/></linearGradient><linearGradient id="g250"><stop offset="0%" stop-color="#4d5ef8"/><stop offset="16.7%" stop-color="#4d5ef8"/><stop offset="33.3%" stop-color="#4d5ef9"/><stop offset="50%" stop-color="#4c5ff9"/><stop offset="66.7%" stop-color="#4c61fa"/><stop offset="83.3%" stop-color="#4c63fb"/><stop offset="100%" stop-color="#4b65fc"/></linearGradient><linearGradient id="g251"><stop offset="0%" stop-color="#4c60fa"/><stop offset="16.7%" stop-color="#4c61fa"/><stop offset="33.3%" stop-color="#4c62fa"/><stop offset="50%" stop-color="#4c63fb"/><stop offset="66.7%" stop-color="#4b65fc"/><stop offset="83.3%" stop-color="#4b67fc"/><stop offset="100%" stop-color="#4a68fd"/></linearGradient><linearGradient id="g252"><stop offset="0%" stop-color="#4c63fb"/><stop offset="16.7%" stop-color="#4b64fb"/><stop offset="33.3%" stop-color="#4b66fc"/><stop offset="50%" stop-color="#4b67fc"/><stop offset="66.7%" stop-color="#4a69fd"/><stop offset="83.3%" stop-color="#496bfd"/><stop offset="100%" stop-color="#496cfd"/></linearGradient><linearGradient id="g253"><stop offset="0%" stop-color="#4b66fc"/><stop offset="16.7%" stop-color="#4b68fd"/><stop offset="33.3%" stop-color="#4a6afd"/><stop offset="50%" stop-color="#496cfd"/><stop offset="66.7%" stop-color="#486efe"/><stop offset="83.3%" stop-color="#476ffe"/><stop offset="100%" stop-color="#476ffe"/></linearGradient><linearGradient id="g254"><stop offset="0%" stop-color="#4a69fd"/><stop offset="16.7%" stop-color="#496bfd"/><stop offset="33.3%" stop-color="#486efe"/><stop offset="50%" stop-color="#4671fe"/><stop offset="66.7%" stop-color="#4572ff"/><stop offset="83.3%" stop-color="#4473ff"/><stop offset="100%" stop-color="#4473ff"/></linearGradient><linearGradient id="g255"><stop offset="0%" stop-color="#496cfe"/><stop offset="16.7%" stop-color="#476ffe"/><stop offset="33.3%" stop-color="#4573ff"/><stop offset="50%" stop-color="#4276ff"/><stop offset="66.7%" stop-color="#4077fe"/><stop offset="83.3%" stop-color="#4078fe"/><stop offset="100%" stop-color="#4078fe"/></linearGradient><linearGradient id="g256"><stop offset="0%" stop-color="#476ffe"/><stop offset="16.7%" stop-color="#4473ff"/><stop offset="33.3%" stop-color="#4077fe"/><stop offset="50%" stop-color="#3d7bfe"/><stop offset="66.7%" stop-color="#3b7dfd"/><stop offset="83.3%" stop-color="#3b7dfd"/><stop offset="100%" stop-color="#3c7cfe"/></linearGradient><linearGradient id="g257"><stop offset="0%" stop-color="#4572ff"/><stop offset="16.7%" stop-color="#4077fe"/><stop offset="33.3%" stop-color="#3b7cfd"/><stop offset="50%" stop-color="#3880fc"/><stop offset="66.7%" stop-color="#3782fb"/><stop offset="83.3%" stop-color="#3782fb"/><stop offset="100%" stop-color="#3781fc"/></linearGradient><linearGradient id="g258"><stop offset="0%" stop-color="#4276ff"/><stop offset="16.7%" stop-color="#3d7bfe"/><stop offset="33.3%" stop-color="#3781fc"/><stop offset="50%" stop-color="#3585fa"/><stop offset="66.7%" stop-color="#3587f9"/><stop offset="83.3%" stop-color="#3587f9"/><stop offset="100%" stop-color="#3586f9"/></linearGradient><linearGradient id="g259"><stop offset="0%" stop-color="#3f79fe"/><stop offset="16.7%" stop-color="#397ffc"/><stop offset="33.3%" stop-color="#3585fa"/><stop offset="50%" stop-color="#348af7"/><stop offset="66.7%" stop-color="#348cf6"/><stop offset="83.3%" stop-color="#348df6"/><stop offset="100%" stop-color="#348cf6"/></linearGradient><linearGradient id="g260"><stop offset="0%" stop-color="#3b7dfd"/><stop offset="16.7%" stop-color="#3683fb"/><stop offset="33.3%" stop-color="#348af7"/><stop offset="50%" stop-color="#3390f3"/><stop offset="66.7%" stop-color="#3292f1"/><stop offset="83.3%" stop-color="#3292f1"/><stop offset="100%" stop-color="#3391f2"/></linearGradient><linearGradient id="g261"><stop offset="0%" stop-color="#3585fa"/><stop offset="16.7%" stop-color="#3489f8"/><stop offset="33.3%" stop-color="#3391f2"/><stop offset="50%" stop-color="#3096ee"/><stop offset="66.7%" stop-color="#2f98ed"/><stop offset="83.3%" stop-color="#2f98ed"/><stop offset="100%" stop-color="#3096ee"/></linearGradient><linearGradient id="g262"><stop offset="0%" stop-color="#338ef4"/><stop offset="16.7%" stop-color="#3292f1"/><stop offset="33.3%" stop-color="#2e99ec"/><stop offset="50%" stop-color="#2c9ee8"/><stop offset="66.7%" stop-color="#2b9fe8"/><stop offset="83.3%" stop-color="#2c9ee8"/><stop offset="100%" stop-color="#2d9cea"/></linearGradient><linearGradient id="g263"><stop offset="0%" stop-color="#2e9aec"/><stop offset="16.7%" stop-color="#2c9de9"/><stop offset="33.3%" stop-color="#2aa3e5"/><stop offset="50%" stop-color="#27a7e4"/><stop offset="66.7%" stop-color="#27a6e4"/><stop offset="83.3%" stop-color="#29a4e5"/><stop offset="100%" stop-color="#2ba1e7"/></linearGradient><linearGradient id="g264"><stop offset="0%" stop-color="#2aa3e6"/><stop offset="16.7%" stop-color="#28a6e4"/><stop offset="33.3%" stop-color="#23ace0"/><stop offset="50%" stop-color="#21aede"/><stop offset="66.7%" stop-color="#23ace0"/><stop offset="83.3%" stop-color="#26a8e3"/><stop offset="100%" stop-color="#29a4e5"/></linearGradient><linearGradient id="g265"><stop offset="0%" stop-color="#25aae2"/><stop offset="16.7%" stop-color="#23ace0"/><stop offset="33.3%" stop-color="#1cb2da"/><stop offset="50%" stop-color="#1ab3d9"/><stop offset="66.7%" stop-color="#20afdd"/><stop offset="83.3%" stop-color="#24abe1"/><stop offset="100%" stop-color="#27a7e4"/></linearGradient><linearGradient id="g266"><stop offset="0%" stop-color="#1db1db"/><stop offset="16.7%" stop-color="#1ab3d8"/><stop offset="33.3%" stop-color="#0fb7d1"/><stop offset="50%" stop-color="#0fb7d2"/><stop offset="66.7%" stop-color="#1bb2d9"/><stop offset="83.3%" stop-color="#22addf"/><stop offset="100%" stop-color="#26a9e3"/></linearGradient><linearGradient id="g267"><stop offset="0%" stop-color="#0db8d0"/><stop offset="16.7%" stop-color="#0ab9cd"/><stop offset="33.3%" stop-color="#09bcc7"/><stop offset="50%" stop-color="#09baca"/><stop offset="66.7%" stop-color="#14b5d5"/><stop offset="83.3%" stop-color="#20afdd"/><stop offset="100%" stop-color="#24abe1"/></linearGradient><linearGradient id="g268"><stop offset="0%" stop-color="#10bec0"/><stop offset="16.7%" stop-color="#12bfbf"/><stop offset="33.3%" stop-color="#16c0bd"/><stop offset="50%" stop-color="#0cbdc3"/><stop offset="66.7%" stop-color="#0eb7d1"/><stop offset="83.3%" stop-color="#1db1db"/><stop offset="100%" stop-color="#23ace0"/></linearGradient><linearGradient id="g269"><stop offset="0%" stop-color="#31c5ab"/><stop offset="16.7%" stop-color="#2dc4ae"/><stop offset="33.3%" stop-color="#29c3b2"/><stop offset="50%" stop-color="#15bfbd"/><stop offset="66.7%" stop-color="#0ab9cd"/><stop offset="83.3%" stop-color="#1ab3d9"/><stop offset="100%" stop-color="#21aede"/></linearGradient><linearGradient id="g270"><stop offset="0%" stop-color="#46cc90"/><stop offset="16.7%" stop-color="#3dca9b"/><stop offset="33.3%" stop-color="#34c6a7"/><stop offset="50%" stop-color="#20c1b7"/><stop offset="66.7%" stop-color="#09baca"/><stop offset="83.3%" stop-color="#18b4d7"/><stop offset="100%" stop-color="#20afdd"/></linearGradient><linearGradient id="g271"><stop offset="0%" stop-color="#70ce6d"/><stop offset="16.7%" stop-color="#56cd83"/><stop offset="33.3%" stop-color="#3dca9a"/><stop offset="50%" stop-color="#29c3b2"/><stop offset="66.7%" stop-color="#09bbc8"/><stop offset="83.3%" stop-color="#15b5d5"/><stop offset="100%" stop-color="#1eb0db"/></linearGradient><linearGradient id="g272"><stop offset="0%" stop-color="#9ecb4a"/><stop offset="16.7%" stop-color="#75ce69"/><stop offset="33.3%" stop-color="#4acc8d"/><stop offset="50%" stop-color="#30c5ac"/><stop offset="66.7%" stop-color="#09bcc5"/><stop offset="83.3%" stop-color="#12b6d3"/><stop offset="100%" stop-color="#1cb2da"/></linearGradient><linearGradient id="g273"><stop offset="0%" stop-color="#c5c431"/><stop offset="16.7%" stop-color="#94cc52"/><stop offset="33.3%" stop-color="#5ace80"/><stop offset="50%" stop-color="#35c6a6"/><stop offset="66.7%" stop-color="#0cbdc3"/><stop offset="83.3%" stop-color="#10b6d2"/><stop offset="100%" stop-color="#1ab3d8"/></linearGradient><linearGradient id="g274"><stop offset="0%" stop-color="#dfbe30"/><stop offset="16.7%" stop-color="#acc940"/><stop offset="33.3%" stop-color="#68ce73"/><stop offset="50%" stop-color="#38c8a1"/><stop offset="66.7%" stop-color="#0fbec1"/><stop offset="83.3%" stop-color="#0eb7d1"/><stop offset="100%" stop-color="#18b4d7"/></linearGradient><linearGradient id="g275"><stop offset="0%" stop-color="#eebc3a"/><stop offset="16.7%" stop-color="#bdc636"/><stop offset="33.3%" stop-color="#76ce68"/><stop offset="50%" stop-color="#3cc99c"/><stop offset="66.7%" stop-color="#12bfbf"/><stop offset="83.3%" stop-color="#0db8d0"/><stop offset="100%" stop-color="#15b5d5"/></linearGradient><linearGradient id="g276"><stop offset="0%" stop-color="#f8bc42"/><stop offset="16.7%" stop-color="#c9c330"/><stop offset="33.3%" stop-color="#83cd5f"/><stop offset="50%" stop-color="#40ca96"/><stop offset="66.7%" stop-color="#15bfbd"/><stop offset="83.3%" stop-color="#0cb8cf"/><stop offset="100%" stop-color="#13b6d4"/></linearGradient><linearGradient id="g277"><stop offset="0%" stop-color="#fdbf42"/><stop offset="16.7%" stop-color="#d2c12e"/><stop offset="33.3%" stop-color="#8ccd58"/><stop offset="50%" stop-color="#44cb92"/><stop offset="66.7%" stop-color="#17c0bc"/><stop offset="83.3%" stop-color="#0bb9ce"/><stop offset="100%" stop-color="#10b6d2"/></linearGradient><linearGradient id="g278"><stop offset="0%" stop-color="#fec240"/><stop offset="16.7%" stop-color="#d8c02e"/><stop offset="33.3%" stop-color="#92cc53"/><stop offset="50%" stop-color="#49cc8e"/><stop offset="66.7%" stop-color="#1ac0bb"/><stop offset="83.3%" stop-color="#0bb9cd"/><stop offset="100%" stop-color="#0eb7d1"/></linearGradient><linearGradient id="g279"><stop offset="0%" stop-color="#fec53e"/><stop offset="16.7%" stop-color="#dbbf2f"/><stop offset="33.3%" stop-color="#95cc51"/><stop offset="50%" stop-color="#4ccc8b"/><stop offset="66.7%" stop-color="#1bc0ba"/><stop offset="83.3%" stop-color="#0ab9cd"/><stop offset="100%" stop-color="#0db8d0"/></linearGradient><linearGradient id="g280"><stop offset="0%" stop-color="#fec53e"/><stop offset="16.7%" stop-color="#dbbf2f"/><stop offset="33.3%" stop-color="#94cc52"/><stop offset="50%" stop-color="#4ccc8b"/><stop offset="66.7%" stop-color="#1bc0ba"/><stop offset="83.3%" stop-color="#0ab9cd"/><stop offset="100%" stop-color="#0db8d0"/></linearGradient><linearGradient id="g281"><stop offset="0%" stop-color="#fec340"/><stop offset="16.7%" stop-color="#d8c02e"/><stop offset="33.3%" stop-color="#91cc54"/><stop offset="50%" stop-color="#49cc8e"/><stop offset="66.7%" stop-color="#1bc0ba"/><stop offset="83.3%" stop-color="#0ab9cd"/><stop offset="100%" stop-color="#0eb7d1"/></linearGradient><linearGradient id="g282"><stop offset="0%" stop-color="#febf42"/><stop offset="16.7%" stop-color="#d1c12e"/><stop offset="33.3%" stop-color="#8acd59"/><stop offset="50%" stop-color="#44cb92"/><stop offset="66.7%" stop-color="#19c0bb"/><stop offset="83.3%" stop-color="#0bb9ce"/><stop offset="100%" stop-color="#10b7d2"/></linearGradient><linearGradient id="g283"><stop offset="0%" stop-color="#f8bc43"/><stop offset="16.7%" stop-color="#c8c330"/><stop offset="33.3%" stop-color="#81ce60"/><stop offset="50%" stop-color="#40ca97"/><stop offset="66.7%" stop-color="#16c0bd"/><stop offset="83.3%" stop-color="#0cb8ce"/><stop offset="100%" stop-color="#12b6d3"/></linearGradient><linearGradient id="g284"><stop offset="0%" stop-color="#eebc3a"/><stop offset="16.7%" stop-color="#bbc637"/><stop offset="33.3%" stop-color="#75ce69"/><stop offset="50%" stop-color="#3cc99c"/><stop offset="66.7%" stop-color="#12bfbf"/><stop offset="83.3%" stop-color="#0db8cf"/><stop offset="100%" stop-color="#15b5d5"/></linearGradient><linearGradient id="g285"><stop offset="0%" stop-color="#debf30"/><stop offset="16.7%" stop-color="#a9c942"/><stop offset="33.3%" stop-color="#67ce75"/><stop offset="50%" stop-color="#38c8a1"/><stop offset="66.7%" stop-color="#0fbec1"/><stop offset="83.3%" stop-color="#0eb7d1"/><stop offset="100%" stop-color="#18b4d7"/></linearGradient><linearGradient id="g286"><stop offset="0%" stop-color="#c1c534"/><stop offset="16.7%" stop-color="#90cc55"/><stop offset="33.3%" stop-color="#58cd81"/><stop offset="50%" stop-color="#34c6a7"/><stop offset="66.7%" stop-color="#0cbdc3"/><stop offset="83.3%" stop-color="#10b7d2"/><stop offset="100%" stop-color="#1ab3d8"/></linearGradient><linearGradient id="g287"><stop offset="0%" stop-color="#95cc51"/><stop offset="16.7%" stop-color="#70ce6d"/><stop offset="33.3%" stop-color="#48cc8e"/><stop offset="50%" stop-color="#2fc5ac"/><stop offset="66.7%" stop-color="#09bdc5"/><stop offset="83.3%" stop-color="#12b6d3"/><stop offset="100%" stop-color="#1cb2da"/></linearGradient><linearGradient id="g288"><stop offset="0%" stop-color="#62ce79"/><stop offset="16.7%" stop-color="#50cd88"/><stop offset="33.3%" stop-color="#3cc99c"/><stop offset="50%" stop-color="#29c3b2"/><stop offset="66.7%" stop-color="#09bcc7"/><stop offset="83.3%" stop-color="#14b5d5"/><stop offset="100%" stop-color="#1eb1db"/></linearGradient><linearGradient id="g289"><stop offset="0%" stop-color="#3cc99c"/><stop offset="16.7%" stop-color="#3ac89f"/><stop offset="33.3%" stop-color="#34c6a8"/><stop offset="50%" stop-color="#1fc1b8"/><stop offset="66.7%" stop-color="#09baca"/><stop offset="83.3%" stop-color="#17b4d7"/><stop offset="100%" stop-color="#20afdd"/></linearGradient><linearGradient id="g290"><stop offset="0%" stop-color="#21c1b7"/><stop offset="16.7%" stop-color="#29c3b2"/><stop offset="33.3%" stop-color="#27c3b3"/><stop offset="50%" stop-color="#13bfbe"/><stop offset="66.7%" stop-color="#0bb9cd"/><stop offset="83.3%" stop-color="#1ab3d8"/><stop offset="100%" stop-color="#21aede"/></linearGradient><linearGradient id="g291"><stop offset="0%" stop-color="#09bacb"/><stop offset="16.7%" stop-color="#0ebec2"/><stop offset="33.3%" stop-color="#13bfbe"/><stop offset="50%" stop-color="#0abdc5"/><stop offset="66.7%" stop-color="#0fb7d1"/><stop offset="83.3%" stop-color="#1db1db"/><stop offset="100%" stop-color="#23ace0"/></linearGradient><linearGradient id="g292"><stop offset="0%" stop-color="#1ab3d8"/><stop offset="16.7%" stop-color="#0db8d0"/><stop offset="33.3%" stop-color="#09bbc9"/><stop offset="50%" stop-color="#09b9cc"/><stop offset="66.7%" stop-color="#15b5d5"/><stop offset="83.3%" stop-color="#20afdd"/><stop offset="100%" stop-color="#24abe1"/></linearGradient><linearGradient id="g293"><stop offset="0%" stop-color="#24abe1"/><stop offset="16.7%" stop-color="#1db1db"/><stop offset="33.3%" stop-color="#11b6d3"/><stop offset="50%" stop-color="#12b6d3"/><stop offset="66.7%" stop-color="#1bb2d9"/><stop offset="83.3%" stop-color="#22addf"/><stop offset="100%" stop-color="#26a9e3"/></linearGradient><linearGradient id="g294"><stop offset="0%" stop-color="#29a3e5"/><stop offset="16.7%" stop-color="#25aae2"/><stop offset="33.3%" stop-color="#1eb0db"/><stop offset="50%" stop-color="#1cb2da"/><stop offset="66.7%" stop-color="#20afdd"/><stop offset="83.3%" stop-color="#24abe1"/><stop offset="100%" stop-color="#27a7e4"/></linearGradient><linearGradient id="g295"><stop offset="0%" stop-color="#2d9cea"/><stop offset="16.7%" stop-color="#2aa3e6"/><stop offset="33.3%" stop-color="#24abe1"/><stop offset="50%" stop-color="#22addf"/><stop offset="66.7%" stop-color="#23abe1"/><stop offset="83.3%" stop-color="#26a8e3"/><stop offset="100%" stop-color="#29a4e5"/></linearGradient><linearGradient id="g296"><stop offset="0%" stop-color="#3292f1"/><stop offset="16.7%" stop-color="#2e9aec"/><stop offset="33.3%" stop-color="#2aa2e6"/><stop offset="50%" stop-color="#27a6e4"/><stop offset="66.7%" stop-color="#27a6e4"/><stop offset="83.3%" stop-color="#29a4e5"/><stop offset="100%" stop-color="#2ba1e7"/></linearGradient><linearGradient id="g297"><stop offset="0%" stop-color="#3587f9"/><stop offset="16.7%" stop-color="#338ff3"/><stop offset="33.3%" stop-color="#2f98ed"/><stop offset="50%" stop-color="#2c9ee9"/><stop offset="66.7%" stop-color="#2b9fe8"/><stop offset="83.3%" stop-color="#2c9ee8"/><stop offset="100%" stop-color="#2d9cea"/></linearGradient><linearGradient id="g298"><stop offset="0%" stop-color="#3a7efd"/><stop offset="16.7%" stop-color="#3488f9"/><stop offset="33.3%" stop-color="#3390f3"/><stop offset="50%" stop-color="#3096ee"/><stop offset="66.7%" stop-color="#2e99ec"/><stop offset="83.3%" stop-color="#2e99ec"/><stop offset="100%" stop-color="#3097ed"/></linearGradient><linearGradient id="g299"><stop offset="0%" stop-color="#3e79fe"/><stop offset="16.7%" stop-color="#3782fb"/><stop offset="33.3%" stop-color="#348af7"/><stop offset="50%" stop-color="#3390f3"/><stop offset="66.7%" stop-color="#3293f1"/><stop offset="83.3%" stop-color="#3293f1"/><stop offset="100%" stop-color="#3292f1"/></linearGradient><linearGradient id="g300"><stop offset="0%" stop-color="#4275ff"/><stop offset="16.7%" stop-color="#3b7dfd"/><stop offset="33.3%" stop-color="#3584fa"/><stop offset="50%" stop-color="#348af7"/><stop offset="66.7%" stop-color="#348df5"/><stop offset="83.3%" stop-color="#348df5"/><stop offset="100%" stop-color="#348df5"/></linearGradient><linearGradient id="g301"><stop offset="0%" stop-color="#4572fe"/><stop offset="16.7%" stop-color="#3f78fe"/><stop offset="33.3%" stop-color="#3880fc"/><stop offset="50%" stop-color="#3585fa"/><stop offset="66.7%" stop-color="#3487f9"/><stop offset="83.3%" stop-color="#3488f8"/><stop offset="100%" stop-color="#3487f9"/></linearGradient><linearGradient id="g302"><stop offset="0%" stop-color="#486efe"/><stop offset="16.7%" stop-color="#4474ff"/><stop offset="33.3%" stop-color="#3d7bfe"/><stop offset="50%" stop-color="#3880fc"/><stop offset="66.7%" stop-color="#3782fb"/><stop offset="83.3%" stop-color="#3683fb"/><stop offset="100%" stop-color="#3782fb"/></linearGradient><linearGradient id="g303"><stop offset="0%" stop-color="#496bfd"/><stop offset="16.7%" stop-color="#4670fe"/><stop offset="33.3%" stop-color="#4276ff"/><stop offset="50%" stop-color="#3e7afe"/><stop offset="66.7%" stop-color="#3b7dfd"/><stop offset="83.3%" stop-color="#3b7dfd"/><stop offset="100%" stop-color="#3b7dfd"/></linearGradient><linearGradient id="g304"><stop offset="0%" stop-color="#4a68fd"/><stop offset="16.7%" stop-color="#496cfe"/><stop offset="33.3%" stop-color="#4671fe"/><stop offset="50%" stop-color="#4374ff"/><stop offset="66.7%" stop-color="#4177fe"/><stop offset="83.3%" stop-color="#4077fe"/><stop offset="100%" stop-color="#4077fe"/></linearGradient><linearGradient id="g305"><stop offset="0%" stop-color="#4b65fc"/><stop offset="16.7%" stop-color="#4a68fd"/><stop offset="33.3%" stop-color="#496cfd"/><stop offset="50%" stop-color="#476ffe"/><stop offset="66.7%" stop-color="#4671fe"/><stop offset="83.3%" stop-color="#4572fe"/><stop offset="100%" stop-color="#4572fe"/></linearGradient><linearGradient id="g306"><stop offset="0%" stop-color="#4c62fb"/><stop offset="16.7%" stop-color="#4b65fc"/><stop offset="33.3%" stop-color="#4b67fd"/><stop offset="50%" stop-color="#4a6afd"/><stop offset="66.7%" stop-color="#496cfd"/><stop offset="83.3%" stop-color="#486dfe"/><stop offset="100%" stop-color="#486dfe"/></linearGradient><linearGradient id="g307"><stop offset="0%" stop-color="#4c60f9"/><stop offset="16.7%" stop-color="#4c61fa"/><stop offset="33.3%" stop-color="#4c63fb"/><stop offset="50%" stop-color="#4b65fc"/><stop offset="66.7%" stop-color="#4b67fc"/><stop offset="83.3%" stop-color="#4a68fd"/><stop offset="100%" stop-color="#4a68fd"/></linearGradient><linearGradient id="g308"><stop offset="0%" stop-color="#4d5df8"/><stop offset="16.7%" stop-color="#4d5ef9"/><stop offset="33.3%" stop-color="#4c5ff9"/><stop offset="50%" stop-color="#4c61fa"/><stop offset="66.7%" stop-color="#4c62fb"/><stop offset="83.3%" stop-color="#4c63fb"/><stop offset="100%" stop-color="#4c64fb"/></linearGradient><linearGradient id="g309"><stop offset="0%" stop-color="#4d5af6"/><stop offset="16.7%" stop-color="#4d5bf7"/><stop offset="33.3%" stop-color="#4d5cf7"/><stop offset="50%" stop-color="#4d5cf8"/><stop offset="66.7%" stop-color="#4d5ef8"/><stop offset="83.3%" stop-color="#4c5ff9"/><stop offset="100%" stop-color="#4c60f9"/></linearGradient><linearGradient id="g310"><stop offset="0%" stop-color="#4d58f5"/><stop offset="16.7%" stop-color="#4d58f5"/><stop offset="33.3%" stop-color="#4d58f5"/><stop offset="50%" stop-color="#4d58f5"/><stop offset="66.7%" stop-color="#4d59f6"/><stop offset="83.3%" stop-color="#4d5bf7"/><stop offset="100%" stop-color="#4d5cf7"/></linearGradient><linearGradient id="g311"><stop offset="0%" stop-color="#bbc637"/><stop offset="16.7%" stop-color="#aac941"/><stop offset="33.3%" stop-color="#87cd5b"/><stop offset="50%" stop-color="#6dce70"/><stop offset="66.7%" stop-color="#41cb95"/><stop offset="83.3%" stop-color="#3dc99b"/><stop offset="100%" stop-color="#39c8a0"/></linearGradient><linearGradient id="g312"><stop offset="0%" stop-color="#6dce70"/><stop offset="16.7%" stop-color="#5dce7d"/><stop offset="33.3%" stop-color="#4dcd8a"/><stop offset="50%" stop-color="#41cb95"/><stop offset="66.7%" stop-color="#32c5aa"/><stop offset="83.3%" stop-color="#2dc4ae"/><stop offset="100%" stop-color="#28c3b3"/></linearGradient><linearGradient id="g313"><stop offset="0%" stop-color="#28c3b3"/><stop offset="16.7%" stop-color="#19c0bb"/><stop offset="33.3%" stop-color="#0bbdc4"/><stop offset="50%" stop-color="#09bbc8"/><stop offset="66.7%" stop-color="#12b6d3"/><stop offset="83.3%" stop-color="#18b4d7"/><stop offset="100%" stop-color="#18b4d7"/></linearGradient><linearGradient id="g314"><stop offset="0%" stop-color="#22ade0"/><stop offset="16.7%" stop-color="#25aae2"/><stop offset="33.3%" stop-color="#27a7e4"/><stop offset="50%" stop-color="#29a4e5"/><stop offset="66.7%" stop-color="#2c9fe8"/><stop offset="83.3%" stop-color="#2c9fe8"/><stop offset="100%" stop-color="#2c9fe8"/></linearGradient><linearGradient id="g315"><stop offset="0%" stop-color="#3292f1"/><stop offset="16.7%" stop-color="#348cf6"/><stop offset="33.3%" stop-color="#3489f8"/><stop offset="50%" stop-color="#3585fa"/><stop offset="66.7%" stop-color="#3585fa"/><stop offset="83.3%" stop-color="#3489f8"/><stop offset="100%" stop-color="#3489f8"/></linearGradient><linearGradient id="g316"><stop offset="0%" stop-color="#2d9cea"/><stop offset="16.7%" stop-color="#338ff4"/><stop offset="33.3%" stop-color="#3683fb"/><stop offset="50%" stop-color="#3d7bfe"/><stop offset="66.7%" stop-color="#397ffd"/><stop offset="83.3%" stop-color="#3684fb"/><stop offset="100%" stop-color="#3584fa"/></linearGradient><linearGradient id="g317"><stop offset="0%" stop-color="#3096ee"/><stop offset="16.7%" stop-color="#3489f8"/><stop offset="33.3%" stop-color="#3a7efd"/><stop offset="50%" stop-color="#4177fe"/><stop offset="66.7%" stop-color="#3e7afe"/><stop offset="83.3%" stop-color="#397ffd"/><stop offset="100%" stop-color="#3880fc"/></linearGradient><linearGradient id="g318"><stop offset="0%" stop-color="#3390f3"/><stop offset="16.7%" stop-color="#3584fa"/><stop offset="33.3%" stop-color="#3f79fe"/><stop offset="50%" stop-color="#4473ff"/><stop offset="66.7%" stop-color="#4275ff"/><stop offset="83.3%" stop-color="#3e7afe"/><stop offset="100%" stop-color="#3c7cfe"/></linearGradient><linearGradient id="g319"><stop offset="0%" stop-color="#348af7"/><stop offset="16.7%" stop-color="#387ffc"/><stop offset="33.3%" stop-color="#4375ff"/><stop offset="50%" stop-color="#476ffe"/><stop offset="66.7%" stop-color="#4671fe"/><stop offset="83.3%" stop-color="#4275ff"/><stop offset="100%" stop-color="#4078fe"/></linearGradient><linearGradient id="g320"><stop offset="0%" stop-color="#3585fa"/><stop offset="16.7%" stop-color="#3d7afe"/><stop offset="33.3%" stop-color="#4671fe"/><stop offset="50%" stop-color="#496cfe"/><stop offset="66.7%" stop-color="#486dfe"/><stop offset="83.3%" stop-color="#4671fe"/><stop offset="100%" stop-color="#4474ff"/></linearGradient><linearGradient id="g321"><stop offset="0%" stop-color="#3880fc"/><stop offset="16.7%" stop-color="#4176ff"/><stop offset="33.3%" stop-color="#486dfe"/><stop offset="50%" stop-color="#4a69fd"/><stop offset="66.7%" stop-color="#4a6afd"/><stop offset="83.3%" stop-color="#486dfe"/><stop offset="100%" stop-color="#4670fe"/></linearGradient><linearGradient id="g322"><stop offset="0%" stop-color="#3b7dfd"/><stop offset="16.7%" stop-color="#4573ff"/><stop offset="33.3%" stop-color="#496afd"/><stop offset="50%" stop-color="#4b66fc"/><stop offset="66.7%" stop-color="#4b67fc"/><stop offset="83.3%" stop-color="#4a6afd"/><stop offset="100%" stop-color="#486dfe"/></linearGradient><linearGradient id="g323"><stop offset="0%" stop-color="#3d7afe"/><stop offset="16.7%" stop-color="#4670fe"/><stop offset="33.3%" stop-color="#4a68fd"/><stop offset="50%" stop-color="#4c64fb"/><stop offset="66.7%" stop-color="#4c64fb"/><stop offset="83.3%" stop-color="#4b67fc"/><stop offset="100%" stop-color="#4a6afd"/></linearGradient><linearGradient id="g324"><stop offset="0%" stop-color="#3e7afe"/><stop offset="16.7%" stop-color="#476ffe"/><stop offset="33.3%" stop-color="#4b66fc"/><stop offset="50%" stop-color="#4c61fa"/><stop offset="66.7%" stop-color="#4c61fa"/><stop offset="83.3%" stop-color="#4b64fb"/><stop offset="100%" stop-color="#4b67fd"/></linearGradient><linearGradient id="g325"><stop offset="0%" stop-color="#3c7bfe"/><stop offset="16.7%" stop-color="#476ffe"/><stop offset="33.3%" stop-color="#4b64fb"/><stop offset="50%" stop-color="#4c5ff9"/><stop offset="66.7%" stop-color="#4c5ff9"/><stop offset="83.3%" stop-color="#4c62fb"/><stop offset="100%" stop-color="#4b65fc"/></linearGradient><linearGradient id="g326"><stop offset="0%" stop-color="#3a7efd"/><stop offset="16.7%" stop-color="#4770fe"/><stop offset="33.3%" stop-color="#4c63fb"/><stop offset="50%" stop-color="#4d5ef8"/><stop offset="66.7%" stop-color="#4d5df8"/><stop offset="83.3%" stop-color="#4c60fa"/><stop offset="100%" stop-color="#4c63fb"/></linearGradient><linearGradient id="g327"><stop offset="0%" stop-color="#3781fc"/><stop offset="16.7%" stop-color="#4671fe"/><stop offset="33.3%" stop-color="#4c62fa"/><stop offset="50%" stop-color="#4d5cf8"/><stop offset="66.7%" stop-color="#4d5cf7"/><stop offset="83.3%" stop-color="#4d5ef9"/><stop offset="100%" stop-color="#4c62fb"/></linearGradient><linearGradient id="g328"><stop offset="0%" stop-color="#3683fb"/><stop offset="16.7%" stop-color="#4572fe"/><stop offset="33.3%" stop-color="#4c60fa"/><stop offset="50%" stop-color="#4d5bf7"/><stop offset="66.7%" stop-color="#4d5bf7"/><stop offset="83.3%" stop-color="#4d5df8"/><stop offset="100%" stop-color="#4c61fa"/></linearGradient><linearGradient id="g329"><stop offset="0%" stop-color="#3585fa"/><stop offset="16.7%" stop-color="#4572ff"/><stop offset="33.3%" stop-color="#4c5ff9"/><stop offset="50%" stop-color="#4d5af6"/><stop offset="66.7%" stop-color="#4d5af6"/><stop offset="83.3%" stop-color="#4d5cf8"/><stop offset="100%" stop-color="#4c60f9"/></linearGradient><linearGradient id="g330"><stop offset="0%" stop-color="#3586fa"/><stop offset="16.7%" stop-color="#4572ff"/><stop offset="33.3%" stop-color="#4d5df8"/><stop offset="50%" stop-color="#4d5af6"/><stop offset="66.7%" stop-color="#4d5af6"/><stop offset="83.3%" stop-color="#4d5bf7"/><stop offset="100%" stop-color="#4c5ff9"/></linearGradient><linearGradient id="g331"><stop offset="0%" stop-color="#3586fa"/><stop offset="16.7%" stop-color="#4572fe"/><stop offset="33.3%" stop-color="#4d5cf7"/><stop offset="50%" stop-color="#4d5af6"/><stop offset="66.7%" stop-color="#4d59f6"/><stop offset="83.3%" stop-color="#4d5bf7"/><stop offset="100%" stop-color="#4c5ff9"/></linearGradient><linearGradient id="g332"><stop offset="0%" stop-color="#3585fa"/><stop offset="16.7%" stop-color="#4572fe"/><stop offset="33.3%" stop-color="#4d5cf7"/><stop offset="50%" stop-color="#4d5af6"/><stop offset="66.7%" stop-color="#4d59f6"/><stop offset="83.3%" stop-color="#4d5bf7"/><stop offset="100%" stop-color="#4c5ff9"/></linearGradient><linearGradient id="g333"><stop offset="0%" stop-color="#3584fa"/><stop offset="16.7%" stop-color="#4572fe"/><stop offset="33.3%" stop-color="#4d5df8"/><stop offset="50%" stop-color="#4d5af6"/><stop offset="66.7%" stop-color="#4d5af6"/><stop offset="83.3%" stop-color="#4d5bf7"/><stop offset="100%" stop-color="#4c5ff9"/></linearGradient><linearGradient id="g334"><stop offset="0%" stop-color="#3782fb"/><stop offset="16.7%" stop-color="#4671fe"/><stop offset="33.3%" stop-color="#4d5ef9"/><stop offset="50%" stop-color="#4d5af6"/><stop offset="66.7%" stop-color="#4d5af6"/><stop offset="83.3%" stop-color="#4d5cf7"/><stop offset="100%" stop-color="#4c60f9"/></linearGradient><linearGradient id="g335"><stop offset="0%" stop-color="#3880fc"/><stop offset="16.7%" stop-color="#4670fe"/><stop offset="33.3%" stop-color="#4c60fa"/><stop offset="50%" stop-color="#4d5bf7"/><stop offset="66.7%" stop-color="#4d5bf7"/><stop offset="83.3%" stop-color="#4d5df8"/><stop offset="100%" stop-color="#4c60fa"/></linearGradient><linearGradient id="g336"><stop offset="0%" stop-color="#3a7dfd"/><stop offset="16.7%" stop-color="#476ffe"/><stop offset="33.3%" stop-color="#4c61fa"/><stop offset="50%" stop-color="#4d5cf7"/><stop offset="66.7%" stop-color="#4d5cf7"/><stop offset="83.3%" stop-color="#4d5ef9"/><stop offset="100%" stop-color="#4c61fa"/></linearGradient><linearGradient id="g337"><stop offset="0%" stop-color="#3c7bfe"/><stop offset="16.7%" stop-color="#476ffe"/><stop offset="33.3%" stop-color="#4c63fb"/><stop offset="50%" stop-color="#4d5df8"/><stop offset="66.7%" stop-color="#4d5df8"/><stop offset="83.3%" stop-color="#4c60f9"/><stop offset="100%" stop-color="#4c63fb"/></linearGradient><linearGradient id="g338"><stop offset="0%" stop-color="#3e7afe"/><stop offset="16.7%" stop-color="#476ffe"/><stop offset="33.3%" stop-color="#4b64fb"/><stop offset="50%" stop-color="#4c5ff9"/><stop offset="66.7%" stop-color="#4c5ff9"/><stop offset="83.3%" stop-color="#4c61fa"/><stop offset="100%" stop-color="#4b65fc"/></linearGradient><linearGradient id="g339"><stop offset="0%" stop-color="#3e7afe"/><stop offset="16.7%" stop-color="#476ffe"/><stop offset="33.3%" stop-color="#4b66fc"/><stop offset="50%" stop-color="#4c61fa"/><stop offset="66.7%" stop-color="#4c61fa"/><stop offset="83.3%" stop-color="#4c64fb"/><stop offset="100%" stop-color="#4b67fc"/></linearGradient><linearGradient id="g340"><stop offset="0%" stop-color="#3d7bfe"/><stop offset="16.7%" stop-color="#4671fe"/><stop offset="33.3%" stop-color="#4a68fd"/><stop offset="50%" stop-color="#4c64fb"/><stop offset="66.7%" stop-color="#4c64fb"/><stop offset="83.3%" stop-color="#4b66fc"/><stop offset="100%" stop-color="#4a69fd"/></linearGradient><linearGradient id="g341"><stop offset="0%" stop-color="#3b7dfd"/><stop offset="16.7%" stop-color="#4473ff"/><stop offset="33.3%" stop-color="#496bfd"/><stop offset="50%" stop-color="#4b67fc"/><stop offset="66.7%" stop-color="#4b67fc"/><stop offset="83.3%" stop-color="#4a69fd"/><stop offset="100%" stop-color="#496cfd"/></linearGradient><linearGradient id="g342"><stop offset="0%" stop-color="#3880fc"/><stop offset="16.7%" stop-color="#4177fe"/><stop offset="33.3%" stop-color="#486efe"/><stop offset="50%" stop-color="#4a69fd"/><stop offset="66.7%" stop-color="#4a6afd"/><stop offset="83.3%" stop-color="#496cfe"/><stop offset="100%" stop-color="#476ffe"/></linearGradient><linearGradient id="g343"><stop offset="0%" stop-color="#3684fb"/><stop offset="16.7%" stop-color="#3d7bfe"/><stop offset="33.3%" stop-color="#4572fe"/><stop offset="50%" stop-color="#486dfe"/><stop offset="66.7%" stop-color="#486dfe"/><stop offset="83.3%" stop-color="#4670fe"/><stop offset="100%" stop-color="#4572ff"/></linearGradient><linearGradient id="g344"><stop offset="0%" stop-color="#3489f8"/><stop offset="16.7%" stop-color="#3880fc"/><stop offset="33.3%" stop-color="#4276ff"/><stop offset="50%" stop-color="#4670fe"/><stop offset="66.7%" stop-color="#4671fe"/><stop offset="83.3%" stop-color="#4374ff"/><stop offset="100%" stop-color="#4176ff"/></linearGradient><linearGradient id="g345"><stop offset="0%" stop-color="#338ff4"/><stop offset="16.7%" stop-color="#3585fa"/><stop offset="33.3%" stop-color="#3e7afe"/><stop offset="50%" stop-color="#4474ff"/><stop offset="66.7%" stop-color="#4375ff"/><stop offset="83.3%" stop-color="#3f79fe"/><stop offset="100%" stop-color="#3d7afe"/></linearGradient><linearGradient id="g346"><stop offset="0%" stop-color="#3194ef"/><stop offset="16.7%" stop-color="#348af8"/><stop offset="33.3%" stop-color="#397efd"/><stop offset="50%" stop-color="#4077fe"/><stop offset="66.7%" stop-color="#3e7afe"/><stop offset="83.3%" stop-color="#3a7dfd"/><stop offset="100%" stop-color="#397ffd"/></linearGradient><linearGradient id="g347"><stop offset="0%" stop-color="#2e9aeb"/><stop offset="16.7%" stop-color="#338ef4"/><stop offset="33.3%" stop-color="#3683fb"/><stop offset="50%" stop-color="#3c7bfe"/><stop offset="66.7%" stop-color="#397efd"/><stop offset="83.3%" stop-color="#3782fb"/><stop offset="100%" stop-color="#3683fb"/></linearGradient><linearGradient id="g348"><stop offset="0%" stop-color="#2f99ec"/><stop offset="16.7%" stop-color="#338ff4"/><stop offset="33.3%" stop-color="#3489f8"/><stop offset="50%" stop-color="#3585fa"/><stop offset="66.7%" stop-color="#3585fa"/><stop offset="83.3%" stop-color="#3585fa"/><stop offset="100%" stop-color="#3585fa"/></linearGradient><linearGradient id="g349"><stop offset="0%" stop-color="#12b6d3"/><stop offset="16.7%" stop-color="#1cb2da"/><stop offset="33.3%" stop-color="#22ade0"/><stop offset="50%" stop-color="#25aae2"/><stop offset="66.7%" stop-color="#2aa1e6"/><stop offset="83.3%" stop-color="#2aa1e6"/><stop offset="100%" stop-color="#2c9fe8"/></linearGradient><linearGradient id="g350"><stop offset="0%" stop-color="#3dc99b"/><stop offset="16.7%" stop-color="#39c8a0"/><stop offset="33.3%" stop-color="#36c7a5"/><stop offset="50%" stop-color="#32c5aa"/><stop offset="66.7%" stop-color="#28c3b3"/><stop offset="83.3%" stop-color="#21c1b7"/><stop offset="100%" stop-color="#19c0bb"/></linearGradient><linearGradient id="g351"><stop offset="0%" stop-color="#aac941"/><stop offset="16.7%" stop-color="#99cb4e"/><stop offset="33.3%" stop-color="#87cd5b"/><stop offset="50%" stop-color="#75ce69"/><stop offset="66.7%" stop-color="#47cc90"/><stop offset="83.3%" stop-color="#41cb95"/><stop offset="100%" stop-color="#39c8a0"/></linearGradient><linearGradient id="g352"><stop offset="0%" stop-color="#fabd43"/><stop offset="16.7%" stop-color="#f0bc3c"/><stop offset="33.3%" stop-color="#dfbf30"/><stop offset="50%" stop-color="#cac330"/><stop offset="66.7%" stop-color="#7ece62"/><stop offset="83.3%" stop-color="#6dce70"/><stop offset="100%" stop-color="#5dce7d"/></linearGradient><linearGradient id="g353"><stop offset="0%" stop-color="#f6e02f"/><stop offset="16.7%" stop-color="#f6e02f"/><stop offset="33.3%" stop-color="#f7de30"/><stop offset="50%" stop-color="#f8da32"/><stop offset="66.7%" stop-color="#fbd435"/><stop offset="83.3%" stop-color="#fdcd39"/><stop offset="100%" stop-color="#fec63e"/></linearGradient><linearGradient id="g354"><stop offset="0%" stop-color="#f7dd30"/><stop offset="16.7%" stop-color="#f7dd31"/><stop offset="33.3%" stop-color="#f8db31"/><stop offset="50%" stop-color="#f9d833"/><stop offset="66.7%" stop-color="#fbd335"/><stop offset="83.3%" stop-color="#fdce38"/><stop offset="100%" stop-color="#fec93b"/></linearGradient><linearGradient id="g355"><stop offset="0%" stop-color="#f9da32"/><stop offset="16.7%" stop-color="#f9d932"/><stop offset="33.3%" stop-color="#fad733"/><stop offset="50%" stop-color="#fbd535"/><stop offset="66.7%" stop-color="#fcd136"/><stop offset="83.3%" stop-color="#fdce38"/><stop offset="100%" stop-color="#fecb3a"/></linearGradient><linearGradient id="g356"><stop offset="0%" stop-color="#fad634"/><stop offset="16.7%" stop-color="#fbd435"/><stop offset="33.3%" stop-color="#fcd335"/><stop offset="50%" stop-color="#fcd136"/><stop offset="66.7%" stop-color="#fdcf37"/><stop offset="83.3%" stop-color="#fdce38"/><stop offset="100%" stop-color="#fecc39"/></linearGradient><linearGradient id="g357"><stop offset="0%" stop-color="#fcd236"/><stop offset="16.7%" stop-color="#fdd037"/><stop offset="33.3%" stop-color="#fdce38"/><stop offset="50%" stop-color="#fdcd38"/><stop offset="66.7%" stop-color="#fdcc39"/><stop offset="83.3%" stop-color="#fdcd39"/><stop offset="100%" stop-color="#fdcd39"/></linearGradient><linearGradient id="g358"><stop offset="0%" stop-color="#fdce38"/><stop offset="16.7%" stop-color="#fecb3a"/><stop offset="33.3%" stop-color="#feca3a"/><stop offset="50%" stop-color="#feca3b"/><stop offset="66.7%" stop-color="#feca3a"/><stop offset="83.3%" stop-color="#fecc39"/><stop offset="100%" stop-color="#fdcd39"/></linearGradient><linearGradient id="g359"><stop offset="0%" stop-color="#feca3a"/><stop offset="16.7%" stop-color="#fec73c"/><stop offset="33.3%" stop-color="#fec63d"/><stop offset="50%" stop-color="#fec73d"/><stop offset="66.7%" stop-color="#fec83c"/><stop offset="83.3%" stop-color="#fecb3a"/><stop offset="100%" stop-color="#fdcd39"/></linearGradient><linearGradient id="g360"><stop offset="0%" stop-color="#fec63e"/><stop offset="16.7%" stop-color="#fec33f"/><stop offset="33.3%" stop-color="#fec340"/><stop offset="50%" stop-color="#fec33f"/><stop offset="66.7%" stop-color="#fec63d"/><stop offset="83.3%" stop-color="#feca3a"/><stop offset="100%" stop-color="#fdcc39"/></linearGradient><linearGradient id="g361"><stop offset="0%" stop-color="#fec141"/><stop offset="16.7%" stop-color="#fec042"/><stop offset="33.3%" stop-color="#fdbf42"/><stop offset="50%" stop-color="#fec042"/><stop offset="66.7%" stop-color="#fec340"/><stop offset="83.3%" stop-color="#fec83c"/><stop offset="100%" stop-color="#fecb3a"/></linearGradient><linearGradient id="g362"><stop offset="0%" stop-color="#fcbe43"/><stop offset="16.7%" stop-color="#fabd43"/><stop offset="33.3%" stop-color="#f9bd43"/><stop offset="50%" stop-color="#fabd43"/><stop offset="66.7%" stop-color="#fec042"/><stop offset="83.3%" stop-color="#fec53e"/><stop offset="100%" stop-color="#fec93b"/></linearGradient><linearGradient id="g363"><stop offset="0%" stop-color="#f8bc43"/><stop offset="16.7%" stop-color="#f5bc40"/><stop offset="33.3%" stop-color="#f3bc3f"/><stop offset="50%" stop-color="#f5bc40"/><stop offset="66.7%" stop-color="#fabd43"/><stop offset="83.3%" stop-color="#fec241"/><stop offset="100%" stop-color="#fec73c"/></linearGradient><linearGradient id="g364"><stop offset="0%" stop-color="#f4bc3f"/><stop offset="16.7%" stop-color="#f0bc3b"/><stop offset="33.3%" stop-color="#edbc39"/><stop offset="50%" stop-color="#eebc3a"/><stop offset="66.7%" stop-color="#f5bc40"/><stop offset="83.3%" stop-color="#fdbf42"/><stop offset="100%" stop-color="#fec53e"/></linearGradient><linearGradient id="g365"><stop offset="0%" stop-color="#f0bc3b"/><stop offset="16.7%" stop-color="#e9bd35"/><stop offset="33.3%" stop-color="#e4be32"/><stop offset="50%" stop-color="#e6bd33"/><stop offset="66.7%" stop-color="#efbc3b"/><stop offset="83.3%" stop-color="#fabd43"/><stop offset="100%" stop-color="#fec340"/></linearGradient><linearGradient id="g366"><stop offset="0%" stop-color="#eabd36"/><stop offset="16.7%" stop-color="#e1be31"/><stop offset="33.3%" stop-color="#d9c02f"/><stop offset="50%" stop-color="#dbbf2f"/><stop offset="66.7%" stop-color="#e7bd33"/><stop offset="83.3%" stop-color="#f5bc40"/><stop offset="100%" stop-color="#fec141"/></linearGradient><linearGradient id="g367"><stop offset="0%" stop-color="#e3be32"/><stop offset="16.7%" stop-color="#d5c12e"/><stop offset="33.3%" stop-color="#c9c330"/><stop offset="50%" stop-color="#ccc22f"/><stop offset="66.7%" stop-color="#ddbf2f"/><stop offset="83.3%" stop-color="#efbc3b"/><stop offset="100%" stop-color="#fdbf42"/></linearGradient><linearGradient id="g368"><stop offset="0%" stop-color="#dbbf2f"/><stop offset="16.7%" stop-color="#c8c330"/><stop offset="33.3%" stop-color="#bac638"/><stop offset="50%" stop-color="#bec535"/><stop offset="66.7%" stop-color="#d3c12e"/><stop offset="83.3%" stop-color="#eabd36"/><stop offset="100%" stop-color="#fabd43"/></linearGradient><linearGradient id="g369"><stop offset="0%" stop-color="#d3c12e"/><stop offset="16.7%" stop-color="#bcc636"/><stop offset="33.3%" stop-color="#acc940"/><stop offset="50%" stop-color="#b3c83c"/><stop offset="66.7%" stop-color="#cbc32f"/><stop offset="83.3%" stop-color="#e6bd33"/><stop offset="100%" stop-color="#f9bc43"/></linearGradient><linearGradient id="g370"><stop offset="0%" stop-color="#c5c431"/><stop offset="16.7%" stop-color="#aec83f"/><stop offset="33.3%" stop-color="#9dcb4b"/><stop offset="50%" stop-color="#a6ca45"/><stop offset="66.7%" stop-color="#c3c433"/><stop offset="83.3%" stop-color="#e1be31"/><stop offset="100%" stop-color="#f6bc41"/></linearGradient><linearGradient id="g371"><stop offset="0%" stop-color="#b4c73b"/><stop offset="16.7%" stop-color="#9dcb4b"/><stop offset="33.3%" stop-color="#8ccd58"/><stop offset="50%" stop-color="#97cc4f"/><stop offset="66.7%" stop-color="#b9c638"/><stop offset="83.3%" stop-color="#dcbf2f"/><stop offset="100%" stop-color="#f4bc3f"/></linearGradient><linearGradient id="g372"><stop offset="0%" stop-color="#a0cb49"/><stop offset="16.7%" stop-color="#8acd5a"/><stop offset="33.3%" stop-color="#7ace66"/><stop offset="50%" stop-color="#88cd5b"/><stop offset="66.7%" stop-color="#aec83f"/><stop offset="83.3%" stop-color="#d6c02e"/><stop offset="100%" stop-color="#f1bc3c"/></linearGradient><linearGradient id="g373"><stop offset="0%" stop-color="#8acd59"/><stop offset="16.7%" stop-color="#75ce69"/><stop offset="33.3%" stop-color="#68ce73"/><stop offset="50%" stop-color="#78ce66"/><stop offset="66.7%" stop-color="#a2ca47"/><stop offset="83.3%" stop-color="#cfc22f"/><stop offset="100%" stop-color="#edbc39"/></linearGradient><linearGradient id="g374"><stop offset="0%" stop-color="#74ce6a"/><stop offset="16.7%" stop-color="#63ce78"/><stop offset="33.3%" stop-color="#5ace80"/><stop offset="50%" stop-color="#6ace72"/><stop offset="66.7%" stop-color="#96cc50"/><stop offset="83.3%" stop-color="#c7c430"/><stop offset="100%" stop-color="#e9bd35"/></linearGradient><linearGradient id="g375"><stop offset="0%" stop-color="#5ece7c"/><stop offset="16.7%" stop-color="#54cd84"/><stop offset="33.3%" stop-color="#4fcd89"/><stop offset="50%" stop-color="#5fce7c"/><stop offset="66.7%" stop-color="#8acd59"/><stop offset="83.3%" stop-color="#bfc535"/><stop offset="100%" stop-color="#e5bd32"/></linearGradient><linearGradient id="g376"><stop offset="0%" stop-color="#48cc8f"/><stop offset="16.7%" stop-color="#48cc8e"/><stop offset="33.3%" stop-color="#46cc91"/><stop offset="50%" stop-color="#54cd84"/><stop offset="66.7%" stop-color="#7fce62"/><stop offset="83.3%" stop-color="#b6c73a"/><stop offset="100%" stop-color="#dfbe30"/></linearGradient><linearGradient id="g377"><stop offset="0%" stop-color="#38c8a1"/><stop offset="16.7%" stop-color="#3fca98"/><stop offset="33.3%" stop-color="#3fca98"/><stop offset="50%" stop-color="#4ccc8b"/><stop offset="66.7%" stop-color="#74ce6a"/><stop offset="83.3%" stop-color="#adc940"/><stop offset="100%" stop-color="#d9c02f"/></linearGradient><linearGradient id="g378"><stop offset="0%" stop-color="#27c3b3"/><stop offset="16.7%" stop-color="#37c7a3"/><stop offset="33.3%" stop-color="#3ac99e"/><stop offset="50%" stop-color="#45cb91"/><stop offset="66.7%" stop-color="#6bce71"/><stop offset="83.3%" stop-color="#a3ca46"/><stop offset="100%" stop-color="#d3c12e"/></linearGradient><linearGradient id="g379"><stop offset="0%" stop-color="#09bcc6"/><stop offset="16.7%" stop-color="#2dc4ae"/><stop offset="33.3%" stop-color="#35c7a5"/><stop offset="50%" stop-color="#3fca97"/><stop offset="66.7%" stop-color="#62ce79"/><stop offset="83.3%" stop-color="#9acb4d"/><stop offset="100%" stop-color="#cec22f"/></linearGradient><linearGradient id="g380"><stop offset="0%" stop-color="#1db1db"/><stop offset="16.7%" stop-color="#17c0bc"/><stop offset="33.3%" stop-color="#2fc5ad"/><stop offset="50%" stop-color="#3bc99d"/><stop offset="66.7%" stop-color="#5ace80"/><stop offset="83.3%" stop-color="#92cc54"/><stop offset="100%" stop-color="#c9c330"/></linearGradient><linearGradient id="g381"><stop offset="0%" stop-color="#2ba0e7"/><stop offset="16.7%" stop-color="#09bacb"/><stop offset="33.3%" stop-color="#26c2b3"/><stop offset="50%" stop-color="#37c7a3"/><stop offset="66.7%" stop-color="#52cd86"/><stop offset="83.3%" stop-color="#8acd5a"/><stop offset="100%" stop-color="#c5c431"/></linearGradient><linearGradient id="g382"><stop offset="0%" stop-color="#338ff3"/><stop offset="16.7%" stop-color="#1ab3d8"/><stop offset="33.3%" stop-color="#1cc1ba"/><stop offset="50%" stop-color="#34c6a7"/><stop offset="66.7%" stop-color="#4ccc8b"/><stop offset="83.3%" stop-color="#83cd5f"/><stop offset="100%" stop-color="#c2c533"/></linearGradient><linearGradient id="g383"><stop offset="0%" stop-color="#3782fb"/><stop offset="16.7%" stop-color="#23ace0"/><stop offset="33.3%" stop-color="#12bfbf"/><stop offset="50%" stop-color="#32c5aa"/><stop offset="66.7%" stop-color="#48cc8f"/><stop offset="83.3%" stop-color="#7dce63"/><stop offset="100%" stop-color="#c0c534"/></linearGradient><linearGradient id="g384"><stop offset="0%" stop-color="#3782fb"/><stop offset="16.7%" stop-color="#24abe1"/><stop offset="33.3%" stop-color="#10bec0"/><stop offset="50%" stop-color="#31c5ab"/><stop offset="66.7%" stop-color="#45cc91"/><stop offset="83.3%" stop-color="#7ace66"/><stop offset="100%" stop-color="#bfc534"/></linearGradient><linearGradient id="g385"><stop offset="0%" stop-color="#338ef4"/><stop offset="16.7%" stop-color="#20afdd"/><stop offset="33.3%" stop-color="#14bfbe"/><stop offset="50%" stop-color="#32c5aa"/><stop offset="66.7%" stop-color="#46cc90"/><stop offset="83.3%" stop-color="#7ace65"/><stop offset="100%" stop-color="#c0c534"/></linearGradient><linearGradient id="g386"><stop offset="0%" stop-color="#2b9fe8"/><stop offset="16.7%" stop-color="#12b6d4"/><stop offset="33.3%" stop-color="#1dc1b9"/><stop offset="50%" stop-color="#34c6a7"/><stop offset="66.7%" stop-color="#4acc8d"/><stop offset="83.3%" stop-color="#80ce61"/><stop offset="100%" stop-color="#c2c533"/></linearGradient><linearGradient id="g387"><stop offset="0%" stop-color="#1eb0db"/><stop offset="16.7%" stop-color="#09bcc5"/><stop offset="33.3%" stop-color="#28c3b3"/><stop offset="50%" stop-color="#38c8a2"/><stop offset="66.7%" stop-color="#51cd87"/><stop offset="83.3%" stop-color="#89cd5a"/><stop offset="100%" stop-color="#c7c430"/></linearGradient><linearGradient id="g388"><stop offset="0%" stop-color="#0abdc5"/><stop offset="16.7%" stop-color="#20c1b7"/><stop offset="33.3%" stop-color="#30c5ac"/><stop offset="50%" stop-color="#3bc99d"/><stop offset="66.7%" stop-color="#5ace80"/><stop offset="83.3%" stop-color="#93cc52"/><stop offset="100%" stop-color="#cdc22f"/></linearGradient><linearGradient id="g389"><stop offset="0%" stop-color="#2bc3b0"/><stop offset="16.7%" stop-color="#32c5aa"/><stop offset="33.3%" stop-color="#36c7a4"/><stop offset="50%" stop-color="#40ca97"/><stop offset="66.7%" stop-color="#63ce78"/><stop offset="83.3%" stop-color="#9ecb4a"/><stop offset="100%" stop-color="#d4c12e"/></linearGradient><linearGradient id="g390"><stop offset="0%" stop-color="#3bc99d"/><stop offset="16.7%" stop-color="#3bc99e"/><stop offset="33.3%" stop-color="#3cc99d"/><stop offset="50%" stop-color="#47cc90"/><stop offset="66.7%" stop-color="#6dce6f"/><stop offset="83.3%" stop-color="#a9c942"/><stop offset="100%" stop-color="#dbbf2f"/></linearGradient><linearGradient id="g391"><stop offset="0%" stop-color="#4ecd89"/><stop offset="16.7%" stop-color="#44cb92"/><stop offset="33.3%" stop-color="#42cb94"/><stop offset="50%" stop-color="#50cd88"/><stop offset="66.7%" stop-color="#78ce67"/><stop offset="83.3%" stop-color="#b2c83c"/><stop offset="100%" stop-color="#e0be30"/></linearGradient><linearGradient id="g392"><stop offset="0%" stop-color="#65ce77"/><stop offset="16.7%" stop-color="#52cd86"/><stop offset="33.3%" stop-color="#4ccc8b"/><stop offset="50%" stop-color="#5ace7f"/><stop offset="66.7%" stop-color="#84cd5e"/><stop offset="83.3%" stop-color="#bac637"/><stop offset="100%" stop-color="#e3be32"/></linearGradient><linearGradient id="g393"><stop offset="0%" stop-color="#79ce66"/><stop offset="16.7%" stop-color="#63ce78"/><stop offset="33.3%" stop-color="#58cd81"/><stop offset="50%" stop-color="#66ce75"/><stop offset="66.7%" stop-color="#90cc55"/><stop offset="83.3%" stop-color="#c2c533"/><stop offset="100%" stop-color="#e7bd33"/></linearGradient><linearGradient id="g394"><stop offset="0%" stop-color="#8ecd56"/><stop offset="16.7%" stop-color="#75ce69"/><stop offset="33.3%" stop-color="#67ce74"/><stop offset="50%" stop-color="#75ce69"/><stop offset="66.7%" stop-color="#9dcb4b"/><stop offset="83.3%" stop-color="#c9c330"/><stop offset="100%" stop-color="#e9bd36"/></linearGradient><linearGradient id="g395"><stop offset="0%" stop-color="#a2ca47"/><stop offset="16.7%" stop-color="#8acd59"/><stop offset="33.3%" stop-color="#79ce66"/><stop offset="50%" stop-color="#85cd5e"/><stop offset="66.7%" stop-color="#a8c943"/><stop offset="83.3%" stop-color="#d0c22e"/><stop offset="100%" stop-color="#ecbc38"/></linearGradient><linearGradient id="g396"><stop offset="0%" stop-color="#b4c73b"/><stop offset="16.7%" stop-color="#9dcb4b"/><stop offset="33.3%" stop-color="#8bcd59"/><stop offset="50%" stop-color="#94cc52"/><stop offset="66.7%" stop-color="#b4c73b"/><stop offset="83.3%" stop-color="#d6c02e"/><stop offset="100%" stop-color="#eebc3a"/></linearGradient><linearGradient id="g397"><stop offset="0%" stop-color="#c4c432"/><stop offset="16.7%" stop-color="#aec83f"/><stop offset="33.3%" stop-color="#9ccb4b"/><stop offset="50%" stop-color="#a3ca46"/><stop offset="66.7%" stop-color="#bec535"/><stop offset="83.3%" stop-color="#dcbf2f"/><stop offset="100%" stop-color="#f0bc3c"/></linearGradient><linearGradient id="g398"><stop offset="0%" stop-color="#d1c12e"/><stop offset="16.7%" stop-color="#bdc636"/><stop offset="33.3%" stop-color="#acc940"/><stop offset="50%" stop-color="#b1c83d"/><stop offset="66.7%" stop-color="#c8c330"/><stop offset="83.3%" stop-color="#e0be30"/><stop offset="100%" stop-color="#f2bc3e"/></linearGradient><linearGradient id="g399"><stop offset="0%" stop-color="#dbbf2f"/><stop offset="16.7%" stop-color="#c8c330"/><stop offset="33.3%" stop-color="#b9c638"/><stop offset="50%" stop-color="#bdc636"/><stop offset="66.7%" stop-color="#d0c22e"/><stop offset="83.3%" stop-color="#e4bd32"/><stop offset="100%" stop-color="#f4bc3f"/></linearGradient><linearGradient id="g400"><stop offset="0%" stop-color="#e3be32"/><stop offset="16.7%" stop-color="#d5c12e"/><stop offset="33.3%" stop-color="#c9c330"/><stop offset="50%" stop-color="#cbc32f"/><stop offset="66.7%" stop-color="#dac02f"/><stop offset="83.3%" stop-color="#eabd36"/><stop offset="100%" stop-color="#f6bc41"/></linearGradient><linearGradient id="g401"><stop offset="0%" stop-color="#ebbc38"/><stop offset="16.7%" stop-color="#e2be31"/><stop offset="33.3%" stop-color="#dac02f"/><stop offset="50%" stop-color="#dbbf2f"/><stop offset="66.7%" stop-color="#e5bd33"/><stop offset="83.3%" stop-color="#f0bc3c"/><stop offset="100%" stop-color="#f9bd43"/></linearGradient><linearGradient id="g402"><stop offset="0%" stop-color="#f2bc3d"/><stop offset="16.7%" stop-color="#ecbc38"/><stop offset="33.3%" stop-color="#e7bd33"/><stop offset="50%" stop-color="#e8bd34"/><stop offset="66.7%" stop-color="#eebc3a"/><stop offset="83.3%" stop-color="#f6bc41"/><stop offset="100%" stop-color="#fdbf42"/></linearGradient><linearGradient id="g403"><stop offset="0%" stop-color="#f7bc41"/><stop offset="16.7%" stop-color="#f3bc3e"/><stop offset="33.3%" stop-color="#f0bc3c"/><stop offset="50%" stop-color="#f1bc3d"/><stop offset="66.7%" stop-color="#f6bc41"/><stop offset="83.3%" stop-color="#fbbe43"/><stop offset="100%" stop-color="#fec241"/></linearGradient><linearGradient id="g404"><stop offset="0%" stop-color="#fabd43"/><stop offset="16.7%" stop-color="#f8bc43"/><stop offset="33.3%" stop-color="#f7bc42"/><stop offset="50%" stop-color="#f9bd43"/><stop offset="66.7%" stop-color="#fcbe43"/><stop offset="83.3%" stop-color="#fec141"/><stop offset="100%" stop-color="#fec63e"/></linearGradient><linearGradient id="g405"><stop offset="0%" stop-color="#fdbf42"/><stop offset="16.7%" stop-color="#fcbe43"/><stop offset="33.3%" stop-color="#fcbe43"/><stop offset="50%" stop-color="#fdbf42"/><stop offset="66.7%" stop-color="#fec141"/><stop offset="83.3%" stop-color="#fec53e"/><stop offset="100%" stop-color="#fec93b"/></linearGradient><linearGradient id="g406"><stop offset="0%" stop-color="#fec241"/><stop offset="16.7%" stop-color="#fec142"/><stop offset="33.3%" stop-color="#fec042"/><stop offset="50%" stop-color="#fec241"/><stop offset="66.7%" stop-color="#fec43f"/><stop offset="83.3%" stop-color="#fec83c"/><stop offset="100%" stop-color="#fecc39"/></linearGradient><linearGradient id="g407"><stop offset="0%" stop-color="#fec63e"/><stop offset="16.7%" stop-color="#fec43f"/><stop offset="33.3%" stop-color="#fec33f"/><stop offset="50%" stop-color="#fec43f"/><stop offset="66.7%" stop-color="#fec73d"/><stop offset="83.3%" stop-color="#feca3a"/><stop offset="100%" stop-color="#fdcd39"/></linearGradient><linearGradient id="g408"><stop offset="0%" stop-color="#feca3b"/><stop offset="16.7%" stop-color="#fec73c"/><stop offset="33.3%" stop-color="#fec63d"/><stop offset="50%" stop-color="#fec73d"/><stop offset="66.7%" stop-color="#fec93b"/><stop offset="83.3%" stop-color="#fecb3a"/><stop offset="100%" stop-color="#fdcd38"/></linearGradient><linearGradient id="g409"><stop offset="0%" stop-color="#fdce38"/><stop offset="16.7%" stop-color="#fecb3a"/><stop offset="33.3%" stop-color="#feca3b"/><stop offset="50%" stop-color="#feca3b"/><stop offset="66.7%" stop-color="#feca3a"/><stop offset="83.3%" stop-color="#fecc39"/><stop offset="100%" stop-color="#fdcd39"/></linearGradient><linearGradient id="g410"><stop offset="0%" stop-color="#fcd335"/><stop offset="16.7%" stop-color="#fdd037"/><stop offset="33.3%" stop-color="#fdce38"/><stop offset="50%" stop-color="#fdcd38"/><stop offset="66.7%" stop-color="#fdcc39"/><stop offset="83.3%" stop-color="#fdcc39"/><stop offset="100%" stop-color="#fdcd39"/></linearGradient><linearGradient id="g411"><stop offset="0%" stop-color="#f9d833"/><stop offset="16.7%" stop-color="#fad634"/><stop offset="33.3%" stop-color="#fbd435"/><stop offset="50%" stop-color="#fcd236"/><stop offset="66.7%" stop-color="#fdcf37"/><stop offset="83.3%" stop-color="#fdcd38"/><stop offset="100%" stop-color="#fecc39"/></linearGradient><linearGradient id="g412"><stop offset="0%" stop-color="#f7dd30"/><stop offset="16.7%" stop-color="#f8dc31"/><stop offset="33.3%" stop-color="#f8da32"/><stop offset="50%" stop-color="#fad733"/><stop offset="66.7%" stop-color="#fcd335"/><stop offset="83.3%" stop-color="#fdce38"/><stop offset="100%" stop-color="#fecb3a"/></linearGradient><linearGradient id="g413"><stop offset="0%" stop-color="#f6e22e"/><stop offset="16.7%" stop-color="#f6e22f"/><stop offset="33.3%" stop-color="#f6e02f"/><stop offset="50%" stop-color="#f7dd31"/><stop offset="66.7%" stop-color="#fad534"/><stop offset="83.3%" stop-color="#fdce38"/><stop offset="100%" stop-color="#feca3b"/></linearGradient><linearGradient id="g414"><stop offset="0%" stop-color="#f5e72c"/><stop offset="16.7%" stop-color="#f5e62c"/><stop offset="33.3%" stop-color="#f5e52d"/><stop offset="50%" stop-color="#f6e12f"/><stop offset="66.7%" stop-color="#fad733"/><stop offset="83.3%" stop-color="#fdcd38"/><stop offset="100%" stop-color="#fec73c"/></linearGradient><linearGradient id="g415"><stop offset="0%" stop-color="#fec042"/><stop offset="16.7%" stop-color="#fec042"/><stop offset="33.3%" stop-color="#fec142"/><stop offset="50%" stop-color="#fec141"/><stop offset="66.7%" stop-color="#fec141"/><stop offset="83.3%" stop-color="#fec141"/><stop offset="100%" stop-color="#fec141"/></linearGradient><linearGradient id="g416"><stop offset="0%" stop-color="#fec141"/><stop offset="16.7%" stop-color="#fec141"/><stop offset="33.3%" stop-color="#fec141"/><stop offset="50%" stop-color="#fec141"/><stop offset="66.7%" stop-color="#fec141"/><stop offset="83.3%" stop-color="#fec241"/><stop offset="100%" stop-color="#fec33f"/></linearGradient><linearGradient id="g417"><stop offset="0%" stop-color="#fabd43"/><stop offset="16.7%" stop-color="#f4bc3f"/><stop offset="33.3%" stop-color="#ecbc38"/><stop offset="50%" stop-color="#e2be31"/><stop offset="66.7%" stop-color="#ddbf2f"/><stop offset="83.3%" stop-color="#debf2f"/><stop offset="100%" stop-color="#e0be31"/></linearGradient><linearGradient id="g418"><stop offset="0%" stop-color="#f5bc40"/><stop offset="16.7%" stop-color="#e5bd33"/><stop offset="33.3%" stop-color="#d4c12e"/><stop offset="50%" stop-color="#c4c432"/><stop offset="66.7%" stop-color="#bac637"/><stop offset="83.3%" stop-color="#b7c739"/><stop offset="100%" stop-color="#bcc636"/></linearGradient><linearGradient id="g419"><stop offset="0%" stop-color="#ebbd37"/><stop offset="16.7%" stop-color="#d5c12e"/><stop offset="33.3%" stop-color="#bcc636"/><stop offset="50%" stop-color="#abc941"/><stop offset="66.7%" stop-color="#a6ca44"/><stop offset="83.3%" stop-color="#aac941"/><stop offset="100%" stop-color="#b5c73b"/></linearGradient><linearGradient id="g420"><stop offset="0%" stop-color="#67ce75"/><stop offset="16.7%" stop-color="#4ecd89"/><stop offset="33.3%" stop-color="#40ca96"/><stop offset="50%" stop-color="#3dca9a"/><stop offset="66.7%" stop-color="#40ca96"/><stop offset="83.3%" stop-color="#4acc8d"/><stop offset="100%" stop-color="#59ce80"/></linearGradient><linearGradient id="g421"><stop offset="0%" stop-color="#53cd85"/><stop offset="16.7%" stop-color="#3fca98"/><stop offset="33.3%" stop-color="#38c8a1"/><stop offset="50%" stop-color="#38c8a1"/><stop offset="66.7%" stop-color="#3dca9a"/><stop offset="83.3%" stop-color="#48cc8e"/><stop offset="100%" stop-color="#5ace80"/></linearGradient><linearGradient id="g422"><stop offset="0%" stop-color="#40ca97"/><stop offset="16.7%" stop-color="#33c6a8"/><stop offset="33.3%" stop-color="#2fc5ad"/><stop offset="50%" stop-color="#32c6a9"/><stop offset="66.7%" stop-color="#3ac89f"/><stop offset="83.3%" stop-color="#46cc90"/><stop offset="100%" stop-color="#5ace80"/></linearGradient><linearGradient id="g423"><stop offset="0%" stop-color="#33c6a9"/><stop offset="16.7%" stop-color="#1ec1b8"/><stop offset="33.3%" stop-color="#1cc1b9"/><stop offset="50%" stop-color="#29c3b2"/><stop offset="66.7%" stop-color="#37c7a4"/><stop offset="83.3%" stop-color="#44cb93"/><stop offset="100%" stop-color="#59ce80"/></linearGradient><linearGradient id="g424"><stop offset="0%" stop-color="#14bfbe"/><stop offset="16.7%" stop-color="#09bbc9"/><stop offset="33.3%" stop-color="#09bcc7"/><stop offset="50%" stop-color="#1bc0ba"/><stop offset="66.7%" stop-color="#33c6a9"/><stop offset="83.3%" stop-color="#42cb95"/><stop offset="100%" stop-color="#58cd81"/></linearGradient><linearGradient id="g425"><stop offset="0%" stop-color="#13b5d4"/><stop offset="16.7%" stop-color="#1bb2d9"/><stop offset="33.3%" stop-color="#12b6d4"/><stop offset="50%" stop-color="#0dbec2"/><stop offset="66.7%" stop-color="#2ec4ad"/><stop offset="83.3%" stop-color="#3fca97"/><stop offset="100%" stop-color="#57cd82"/></linearGradient><linearGradient id="g426"><stop offset="0%" stop-color="#27a7e4"/><stop offset="16.7%" stop-color="#27a6e4"/><stop offset="33.3%" stop-color="#21aede"/><stop offset="50%" stop-color="#09baca"/><stop offset="66.7%" stop-color="#2ac3b1"/><stop offset="83.3%" stop-color="#3eca9a"/><stop offset="100%" stop-color="#55cd83"/></linearGradient><linearGradient id="g427"><stop offset="0%" stop-color="#3196ee"/><stop offset="16.7%" stop-color="#2e99ec"/><stop offset="33.3%" stop-color="#28a6e4"/><stop offset="50%" stop-color="#0eb7d0"/><stop offset="66.7%" stop-color="#24c2b5"/><stop offset="83.3%" stop-color="#3cc99b"/><stop offset="100%" stop-color="#54cd84"/></linearGradient><linearGradient id="g428"><stop offset="0%" stop-color="#3683fb"/><stop offset="16.7%" stop-color="#348cf6"/><stop offset="33.3%" stop-color="#2c9ee8"/><stop offset="50%" stop-color="#16b4d6"/><stop offset="66.7%" stop-color="#20c1b8"/><stop offset="83.3%" stop-color="#3cc99c"/><stop offset="100%" stop-color="#53cd85"/></linearGradient><linearGradient id="g429"><stop offset="0%" stop-color="#476efe"/><stop offset="16.7%" stop-color="#397ffd"/><stop offset="33.3%" stop-color="#2f98ed"/><stop offset="50%" stop-color="#1cb2d9"/><stop offset="66.7%" stop-color="#1cc1ba"/><stop offset="83.3%" stop-color="#3bc99d"/><stop offset="100%" stop-color="#52cd86"/></linearGradient><linearGradient id="g430"><stop offset="0%" stop-color="#4d5cf7"/><stop offset="16.7%" stop-color="#4572fe"/><stop offset="33.3%" stop-color="#3293f0"/><stop offset="50%" stop-color="#1fb0dc"/><stop offset="66.7%" stop-color="#19c0bb"/><stop offset="83.3%" stop-color="#3bc99e"/><stop offset="100%" stop-color="#51cd87"/></linearGradient><linearGradient id="g431"><stop offset="0%" stop-color="#4d4bea"/><stop offset="16.7%" stop-color="#4b67fc"/><stop offset="33.3%" stop-color="#3390f3"/><stop offset="50%" stop-color="#21aede"/><stop offset="66.7%" stop-color="#16c0bd"/><stop offset="83.3%" stop-color="#3ac99e"/><stop offset="100%" stop-color="#50cd87"/></linearGradient><linearGradient id="g432"><stop offset="0%" stop-color="#4a3cd5"/><stop offset="16.7%" stop-color="#4c5ff9"/><stop offset="33.3%" stop-color="#348df5"/><stop offset="50%" stop-color="#22addf"/><stop offset="66.7%" stop-color="#14bfbe"/><stop offset="83.3%" stop-color="#3ac89f"/><stop offset="100%" stop-color="#4fcd88"/></linearGradient><linearGradient id="g433"><stop offset="0%" stop-color="#4734c0"/><stop offset="16.7%" stop-color="#4d58f5"/><stop offset="33.3%" stop-color="#348bf7"/><stop offset="50%" stop-color="#22ade0"/><stop offset="66.7%" stop-color="#13bfbe"/><stop offset="83.3%" stop-color="#39c8a0"/><stop offset="100%" stop-color="#4ecd89"/></linearGradient><linearGradient id="g434"><stop offset="0%" stop-color="#452fb2"/><stop offset="16.7%" stop-color="#4d53f1"/><stop offset="33.3%" stop-color="#348af8"/><stop offset="50%" stop-color="#23ace0"/><stop offset="66.7%" stop-color="#12bfbf"/><stop offset="83.3%" stop-color="#39c8a0"/><stop offset="100%" stop-color="#4dcd8a"/></linearGradient><linearGradient id="g435"><stop offset="0%" stop-color="#442dab"/><stop offset="16.7%" stop-color="#4d4fee"/><stop offset="33.3%" stop-color="#3489f8"/><stop offset="50%" stop-color="#23ace0"/><stop offset="66.7%" stop-color="#12bfbf"/><stop offset="83.3%" stop-color="#39c8a1"/><stop offset="100%" stop-color="#4ccc8b"/></linearGradient><linearGradient id="g436"><stop offset="0%" stop-color="#442dab"/><stop offset="16.7%" stop-color="#4d50ef"/><stop offset="33.3%" stop-color="#348af8"/><stop offset="50%" stop-color="#23ace0"/><stop offset="66.7%" stop-color="#12bfbf"/><stop offset="83.3%" stop-color="#39c8a1"/><stop offset="100%" stop-color="#4ccc8b"/></linearGradient><linearGradient id="g437"><stop offset="0%" stop-color="#452fb3"/><stop offset="16.7%" stop-color="#4d55f3"/><stop offset="33.3%" stop-color="#348bf7"/><stop offset="50%" stop-color="#22ade0"/><stop offset="66.7%" stop-color="#13bfbe"/><stop offset="83.3%" stop-color="#39c8a0"/><stop offset="100%" stop-color="#4dcd8a"/></linearGradient><linearGradient id="g438"><stop offset="0%" stop-color="#4734c1"/><stop offset="16.7%" stop-color="#4d5cf7"/><stop offset="33.3%" stop-color="#348ef5"/><stop offset="50%" stop-color="#21aedf"/><stop offset="66.7%" stop-color="#15bfbd"/><stop offset="83.3%" stop-color="#39c89f"/><stop offset="100%" stop-color="#4ecd89"/></linearGradient><linearGradient id="g439"><stop offset="0%" stop-color="#4a3cd5"/><stop offset="16.7%" stop-color="#4c64fb"/><stop offset="33.3%" stop-color="#3391f2"/><stop offset="50%" stop-color="#20afdd"/><stop offset="66.7%" stop-color="#17c0bc"/><stop offset="83.3%" stop-color="#3ac89f"/><stop offset="100%" stop-color="#50cd88"/></linearGradient><linearGradient id="g440"><stop offset="0%" stop-color="#4d4ae9"/><stop offset="16.7%" stop-color="#486dfe"/><stop offset="33.3%" stop-color="#3195ef"/><stop offset="50%" stop-color="#1eb1db"/><stop offset="66.7%" stop-color="#1ac0bb"/><stop offset="83.3%" stop-color="#3bc99e"/><stop offset="100%" stop-color="#51cd87"/></linearGradient><linearGradient id="g441"><stop offset="0%" stop-color="#4d59f6"/><stop offset="16.7%" stop-color="#4177fe"/><stop offset="33.3%" stop-color="#2e99ec"/><stop offset="50%" stop-color="#1ab3d8"/><stop offset="66.7%" stop-color="#1ec1b9"/><stop offset="83.3%" stop-color="#3bc99d"/><stop offset="100%" stop-color="#52cd86"/></linearGradient><linearGradient id="g442"><stop offset="0%" stop-color="#496bfd"/><stop offset="16.7%" stop-color="#3782fb"/><stop offset="33.3%" stop-color="#2c9ee8"/><stop offset="50%" stop-color="#15b5d5"/><stop offset="66.7%" stop-color="#22c2b7"/><stop offset="83.3%" stop-color="#3cc99b"/><stop offset="100%" stop-color="#54cd85"/></linearGradient><linearGradient id="g443"><stop offset="0%" stop-color="#397efd"/><stop offset="16.7%" stop-color="#338ef4"/><stop offset="33.3%" stop-color="#29a4e5"/><stop offset="50%" stop-color="#0eb7d1"/><stop offset="66.7%" stop-color="#25c2b4"/><stop offset="83.3%" stop-color="#3dca9a"/><stop offset="100%" stop-color="#55cd84"/></linearGradient><linearGradient id="g444"><stop offset="0%" stop-color="#3391f2"/><stop offset="16.7%" stop-color="#2e9aeb"/><stop offset="33.3%" stop-color="#24aae1"/><stop offset="50%" stop-color="#09bacc"/><stop offset="66.7%" stop-color="#29c3b2"/><stop offset="83.3%" stop-color="#3eca99"/><stop offset="100%" stop-color="#56cd83"/></linearGradient><linearGradient id="g445"><stop offset="0%" stop-color="#2aa2e6"/><stop offset="16.7%" stop-color="#27a6e4"/><stop offset="33.3%" stop-color="#1db1db"/><stop offset="50%" stop-color="#09bcc7"/><stop offset="66.7%" stop-color="#2cc4af"/><stop offset="83.3%" stop-color="#3fca98"/><stop offset="100%" stop-color="#57cd82"/></linearGradient><linearGradient id="g446"><stop offset="0%" stop-color="#1cb2da"/><stop offset="16.7%" stop-color="#1cb2da"/><stop offset="33.3%" stop-color="#0fb7d2"/><stop offset="50%" stop-color="#10bec0"/><stop offset="66.7%" stop-color="#2fc4ad"/><stop offset="83.3%" stop-color="#40ca97"/><stop offset="100%" stop-color="#58cd81"/></linearGradient><linearGradient id="g447"><stop offset="0%" stop-color="#0abdc5"/><stop offset="16.7%" stop-color="#09baca"/><stop offset="33.3%" stop-color="#09bcc7"/><stop offset="50%" stop-color="#1cc1ba"/><stop offset="66.7%" stop-color="#32c5aa"/><stop offset="83.3%" stop-color="#41cb95"/><stop offset="100%" stop-color="#59ce81"/></linearGradient><linearGradient id="g448"><stop offset="0%" stop-color="#2cc4af"/><stop offset="16.7%" stop-color="#1bc0ba"/><stop offset="33.3%" stop-color="#18c0bc"/><stop offset="50%" stop-color="#27c3b3"/><stop offset="66.7%" stop-color="#35c7a6"/><stop offset="83.3%" stop-color="#43cb94"/><stop offset="100%" stop-color="#59ce80"/></linearGradient><linearGradient id="g449"><stop offset="0%" stop-color="#3bc99d"/><stop offset="16.7%" stop-color="#31c5ab"/><stop offset="33.3%" stop-color="#2bc3b1"/><stop offset="50%" stop-color="#30c5ac"/><stop offset="66.7%" stop-color="#38c8a1"/><stop offset="83.3%" stop-color="#44cb92"/><stop offset="100%" stop-color="#5ace80"/></linearGradient><linearGradient id="g450"><stop offset="0%" stop-color="#4acc8d"/><stop offset="16.7%" stop-color="#3bc99d"/><stop offset="33.3%" stop-color="#35c6a6"/><stop offset="50%" stop-color="#35c7a5"/><stop offset="66.7%" stop-color="#3bc99e"/><stop offset="83.3%" stop-color="#46cc90"/><stop offset="100%" stop-color="#5ace80"/></linearGradient><linearGradient id="g451"><stop offset="0%" stop-color="#5cce7e"/><stop offset="16.7%" stop-color="#48cc8f"/><stop offset="33.3%" stop-color="#3bc99d"/><stop offset="50%" stop-color="#3ac89f"/><stop offset="66.7%" stop-color="#3dca9a"/><stop offset="83.3%" stop-color="#47cc8f"/><stop offset="100%" stop-color="#59ce81"/></linearGradient><linearGradient id="g452"><stop offset="0%" stop-color="#e1be31"/><stop offset="16.7%" stop-color="#cec22f"/><stop offset="33.3%" stop-color="#b4c73b"/><stop offset="50%" stop-color="#a4ca46"/><stop offset="66.7%" stop-color="#a0cb49"/><stop offset="83.3%" stop-color="#a7c944"/><stop offset="100%" stop-color="#b5c73a"/></linearGradient><linearGradient id="g453"><stop offset="0%" stop-color="#f6bc41"/><stop offset="16.7%" stop-color="#e6bd33"/><stop offset="33.3%" stop-color="#d3c12e"/><stop offset="50%" stop-color="#c2c533"/><stop offset="66.7%" stop-color="#b7c739"/><stop offset="83.3%" stop-color="#b6c73a"/><stop offset="100%" stop-color="#bfc535"/></linearGradient><linearGradient id="g454"><stop offset="0%" stop-color="#fbbe43"/><stop offset="16.7%" stop-color="#f4bc3f"/><stop offset="33.3%" stop-color="#ebbc37"/><stop offset="50%" stop-color="#e2be31"/><stop offset="66.7%" stop-color="#debf30"/><stop offset="83.3%" stop-color="#ddbf2f"/><stop offset="100%" stop-color="#e7bd34"/></linearGradient><linearGradient id="g455"><stop offset="0%" stop-color="#fec141"/><stop offset="16.7%" stop-color="#fec142"/><stop offset="33.3%" stop-color="#fec141"/><stop offset="50%" stop-color="#fec141"/><stop offset="66.7%" stop-color="#fec141"/><stop offset="83.3%" stop-color="#fec340"/><stop offset="100%" stop-color="#fec63e"/></linearGradient><linearGradient id="g456"><stop offset="0%" stop-color="#fec042"/><stop offset="16.7%" stop-color="#fec042"/><stop offset="33.3%" stop-color="#fec141"/><stop offset="50%" stop-color="#fec141"/><stop offset="66.7%" stop-color="#fec141"/><stop offset="83.3%" stop-color="#fec141"/><stop offset="100%" stop-color="#fec141"/></linearGradient><linearGradient id="g457"><stop offset="0%" stop-color="#4c63fb"/><stop offset="16.7%" stop-color="#496cfe"/><stop offset="33.3%" stop-color="#4177ff"/><stop offset="50%" stop-color="#3880fc"/><stop offset="66.7%" stop-color="#3586fa"/><stop offset="83.3%" stop-color="#3489f8"/><stop offset="100%" stop-color="#348bf7"/></linearGradient><linearGradient id="g458"><stop offset="0%" stop-color="#4b66fc"/><stop offset="16.7%" stop-color="#476ffe"/><stop offset="33.3%" stop-color="#3f79fe"/><stop offset="50%" stop-color="#3881fc"/><stop offset="66.7%" stop-color="#3585fa"/><stop offset="83.3%" stop-color="#3585fa"/><stop offset="100%" stop-color="#3684fa"/></linearGradient><linearGradient id="g459"><stop offset="0%" stop-color="#4a69fd"/><stop offset="16.7%" stop-color="#4572ff"/><stop offset="33.3%" stop-color="#3c7bfe"/><stop offset="50%" stop-color="#3782fb"/><stop offset="66.7%" stop-color="#3585fa"/><stop offset="83.3%" stop-color="#3684fa"/><stop offset="100%" stop-color="#3683fb"/></linearGradient><linearGradient id="g460"><stop offset="0%" stop-color="#486dfe"/><stop offset="16.7%" stop-color="#4276ff"/><stop offset="33.3%" stop-color="#397ffd"/><stop offset="50%" stop-color="#3584fa"/><stop offset="66.7%" stop-color="#3586f9"/><stop offset="83.3%" stop-color="#3585fa"/><stop offset="100%" stop-color="#3585fa"/></linearGradient><linearGradient id="g461"><stop offset="0%" stop-color="#4671fe"/><stop offset="16.7%" stop-color="#3e79fe"/><stop offset="33.3%" stop-color="#3782fb"/><stop offset="50%" stop-color="#3587f9"/><stop offset="66.7%" stop-color="#3488f9"/><stop offset="83.3%" stop-color="#3587f9"/><stop offset="100%" stop-color="#3587f9"/></linearGradient><linearGradient id="g462"><stop offset="0%" stop-color="#4374ff"/><stop offset="16.7%" stop-color="#3b7dfd"/><stop offset="33.3%" stop-color="#3585fa"/><stop offset="50%" stop-color="#3489f8"/><stop offset="66.7%" stop-color="#348af7"/><stop offset="83.3%" stop-color="#348af7"/><stop offset="100%" stop-color="#348af7"/></linearGradient><linearGradient id="g463"><stop offset="0%" stop-color="#4078fe"/><stop offset="16.7%" stop-color="#3880fc"/><stop offset="33.3%" stop-color="#3587f9"/><stop offset="50%" stop-color="#348bf6"/><stop offset="66.7%" stop-color="#348df5"/><stop offset="83.3%" stop-color="#348df5"/><stop offset="100%" stop-color="#338ef4"/></linearGradient><linearGradient id="g464"><stop offset="0%" stop-color="#3c7bfe"/><stop offset="16.7%" stop-color="#3683fb"/><stop offset="33.3%" stop-color="#348af7"/><stop offset="50%" stop-color="#338ef4"/><stop offset="66.7%" stop-color="#3390f3"/><stop offset="83.3%" stop-color="#3391f2"/><stop offset="100%" stop-color="#3292f1"/></linearGradient><linearGradient id="g465"><stop offset="0%" stop-color="#397ffd"/><stop offset="16.7%" stop-color="#3586f9"/><stop offset="33.3%" stop-color="#348df6"/><stop offset="50%" stop-color="#3391f2"/><stop offset="66.7%" stop-color="#3294f0"/><stop offset="83.3%" stop-color="#3195ef"/><stop offset="100%" stop-color="#3096ee"/></linearGradient><linearGradient id="g466"><stop offset="0%" stop-color="#3782fb"/><stop offset="16.7%" stop-color="#3489f8"/><stop offset="33.3%" stop-color="#3390f3"/><stop offset="50%" stop-color="#3194ef"/><stop offset="66.7%" stop-color="#3097ed"/><stop offset="83.3%" stop-color="#2e99ec"/><stop offset="100%" stop-color="#2e9aeb"/></linearGradient><linearGradient id="g467"><stop offset="0%" stop-color="#3587f9"/><stop offset="16.7%" stop-color="#348df5"/><stop offset="33.3%" stop-color="#3294f0"/><stop offset="50%" stop-color="#2f98ec"/><stop offset="66.7%" stop-color="#2d9bea"/><stop offset="83.3%" stop-color="#2c9de9"/><stop offset="100%" stop-color="#2c9ee9"/></linearGradient><linearGradient id="g468"><stop offset="0%" stop-color="#338ef5"/><stop offset="16.7%" stop-color="#3293f1"/><stop offset="33.3%" stop-color="#2e99ec"/><stop offset="50%" stop-color="#2c9de9"/><stop offset="66.7%" stop-color="#2ba0e7"/><stop offset="83.3%" stop-color="#2ba1e7"/><stop offset="100%" stop-color="#2aa1e6"/></linearGradient><linearGradient id="g469"><stop offset="0%" stop-color="#3195ef"/><stop offset="16.7%" stop-color="#2e9aec"/><stop offset="33.3%" stop-color="#2b9fe8"/><stop offset="50%" stop-color="#2aa3e6"/><stop offset="66.7%" stop-color="#29a4e5"/><stop offset="83.3%" stop-color="#28a5e5"/><stop offset="100%" stop-color="#28a5e5"/></linearGradient><linearGradient id="g470"><stop offset="0%" stop-color="#2c9ee9"/><stop offset="16.7%" stop-color="#2aa2e6"/><stop offset="33.3%" stop-color="#27a6e4"/><stop offset="50%" stop-color="#25a9e2"/><stop offset="66.7%" stop-color="#25a9e2"/><stop offset="83.3%" stop-color="#25a9e2"/><stop offset="100%" stop-color="#26a8e3"/></linearGradient><linearGradient id="g471"><stop offset="0%" stop-color="#27a7e4"/><stop offset="16.7%" stop-color="#24abe1"/><stop offset="33.3%" stop-color="#21aede"/><stop offset="50%" stop-color="#20afdd"/><stop offset="66.7%" stop-color="#21aede"/><stop offset="83.3%" stop-color="#22addf"/><stop offset="100%" stop-color="#23ace1"/></linearGradient><linearGradient id="g472"><stop offset="0%" stop-color="#21aede"/><stop offset="16.7%" stop-color="#1cb2da"/><stop offset="33.3%" stop-color="#17b4d6"/><stop offset="50%" stop-color="#17b4d6"/><stop offset="66.7%" stop-color="#1bb2d9"/><stop offset="83.3%" stop-color="#1fb0dd"/><stop offset="100%" stop-color="#21aede"/></linearGradient><linearGradient id="g473"><stop offset="0%" stop-color="#19b3d8"/><stop offset="16.7%" stop-color="#11b6d3"/><stop offset="33.3%" stop-color="#0db8cf"/><stop offset="50%" stop-color="#0fb7d1"/><stop offset="66.7%" stop-color="#17b4d6"/><stop offset="83.3%" stop-color="#1db1da"/><stop offset="100%" stop-color="#20afdd"/></linearGradient><linearGradient id="g474"><stop offset="0%" stop-color="#0db8cf"/><stop offset="16.7%" stop-color="#09bbca"/><stop offset="33.3%" stop-color="#09bbc8"/><stop offset="50%" stop-color="#09bacc"/><stop offset="66.7%" stop-color="#11b6d3"/><stop offset="83.3%" stop-color="#1ab3d8"/><stop offset="100%" stop-color="#1eb1db"/></linearGradient><linearGradient id="g475"><stop offset="0%" stop-color="#0abdc5"/><stop offset="16.7%" stop-color="#11bfc0"/><stop offset="33.3%" stop-color="#10bec0"/><stop offset="50%" stop-color="#09bcc6"/><stop offset="66.7%" stop-color="#0db8cf"/><stop offset="83.3%" stop-color="#16b4d6"/><stop offset="100%" stop-color="#1bb2d9"/></linearGradient><linearGradient id="g476"><stop offset="0%" stop-color="#22c2b6"/><stop offset="16.7%" stop-color="#25c2b4"/><stop offset="33.3%" stop-color="#1fc1b8"/><stop offset="50%" stop-color="#0fbec1"/><stop offset="66.7%" stop-color="#09b9cc"/><stop offset="83.3%" stop-color="#13b6d4"/><stop offset="100%" stop-color="#19b3d8"/></linearGradient><linearGradient id="g477"><stop offset="0%" stop-color="#36c7a5"/><stop offset="16.7%" stop-color="#33c6a8"/><stop offset="33.3%" stop-color="#2bc3b0"/><stop offset="50%" stop-color="#16c0bc"/><stop offset="66.7%" stop-color="#09bbc9"/><stop offset="83.3%" stop-color="#0fb7d2"/><stop offset="100%" stop-color="#16b4d6"/></linearGradient><linearGradient id="g478"><stop offset="0%" stop-color="#46cc90"/><stop offset="16.7%" stop-color="#3eca99"/><stop offset="33.3%" stop-color="#33c6a8"/><stop offset="50%" stop-color="#1fc1b8"/><stop offset="66.7%" stop-color="#09bcc6"/><stop offset="83.3%" stop-color="#0db8d0"/><stop offset="100%" stop-color="#14b5d4"/></linearGradient><linearGradient id="g479"><stop offset="0%" stop-color="#65ce76"/><stop offset="16.7%" stop-color="#4fcd89"/><stop offset="33.3%" stop-color="#3ac89f"/><stop offset="50%" stop-color="#27c3b3"/><stop offset="66.7%" stop-color="#0bbdc4"/><stop offset="83.3%" stop-color="#0bb9ce"/><stop offset="100%" stop-color="#11b6d3"/></linearGradient><linearGradient id="g480"><stop offset="0%" stop-color="#88cd5b"/><stop offset="16.7%" stop-color="#65ce76"/><stop offset="33.3%" stop-color="#40ca97"/><stop offset="50%" stop-color="#2dc4af"/><stop offset="66.7%" stop-color="#0fbec1"/><stop offset="83.3%" stop-color="#09b9cc"/><stop offset="100%" stop-color="#0eb7d1"/></linearGradient><linearGradient id="g481"><stop offset="0%" stop-color="#aac941"/><stop offset="16.7%" stop-color="#7dce63"/><stop offset="33.3%" stop-color="#48cc8e"/><stop offset="50%" stop-color="#31c5ab"/><stop offset="66.7%" stop-color="#12bfbf"/><stop offset="83.3%" stop-color="#09bacb"/><stop offset="100%" stop-color="#0db8d0"/></linearGradient><linearGradient id="g482"><stop offset="0%" stop-color="#c8c330"/><stop offset="16.7%" stop-color="#93cc52"/><stop offset="33.3%" stop-color="#52cd86"/><stop offset="50%" stop-color="#35c6a6"/><stop offset="66.7%" stop-color="#16c0bc"/><stop offset="83.3%" stop-color="#09bbca"/><stop offset="100%" stop-color="#0bb9ce"/></linearGradient><linearGradient id="g483"><stop offset="0%" stop-color="#debf30"/><stop offset="16.7%" stop-color="#a6ca44"/><stop offset="33.3%" stop-color="#5ace80"/><stop offset="50%" stop-color="#38c8a2"/><stop offset="66.7%" stop-color="#1bc0ba"/><stop offset="83.3%" stop-color="#09bbc8"/><stop offset="100%" stop-color="#0ab9cd"/></linearGradient><linearGradient id="g484"><stop offset="0%" stop-color="#edbc39"/><stop offset="16.7%" stop-color="#b6c73a"/><stop offset="33.3%" stop-color="#60ce7a"/><stop offset="50%" stop-color="#3bc99e"/><stop offset="66.7%" stop-color="#1fc1b8"/><stop offset="83.3%" stop-color="#09bbc8"/><stop offset="100%" stop-color="#09bacb"/></linearGradient><linearGradient id="g485"><stop offset="0%" stop-color="#f9bc43"/><stop offset="16.7%" stop-color="#c3c432"/><stop offset="33.3%" stop-color="#65ce76"/><stop offset="50%" stop-color="#3eca99"/><stop offset="66.7%" stop-color="#22c2b6"/><stop offset="83.3%" stop-color="#09bcc7"/><stop offset="100%" stop-color="#09bbca"/></linearGradient><linearGradient id="g486"><stop offset="0%" stop-color="#fec142"/><stop offset="16.7%" stop-color="#cfc22f"/><stop offset="33.3%" stop-color="#69ce73"/><stop offset="50%" stop-color="#42cb94"/><stop offset="66.7%" stop-color="#24c2b5"/><stop offset="83.3%" stop-color="#09bcc6"/><stop offset="100%" stop-color="#09bbc9"/></linearGradient><linearGradient id="g487"><stop offset="0%" stop-color="#fec53e"/><stop offset="16.7%" stop-color="#debf2f"/><stop offset="33.3%" stop-color="#6fce6e"/><stop offset="50%" stop-color="#47cc8f"/><stop offset="66.7%" stop-color="#26c2b4"/><stop offset="83.3%" stop-color="#09bcc6"/><stop offset="100%" stop-color="#09bbc8"/></linearGradient><linearGradient id="g488"><stop offset="0%" stop-color="#fec63d"/><stop offset="16.7%" stop-color="#ecbc38"/><stop offset="33.3%" stop-color="#79ce66"/><stop offset="50%" stop-color="#49cc8d"/><stop offset="66.7%" stop-color="#26c2b3"/><stop offset="83.3%" stop-color="#09bcc6"/><stop offset="100%" stop-color="#09bbc8"/></linearGradient><linearGradient id="g489"><stop offset="0%" stop-color="#fec43f"/><stop offset="16.7%" stop-color="#ecbc38"/><stop offset="33.3%" stop-color="#83cd5f"/><stop offset="50%" stop-color="#49cc8e"/><stop offset="66.7%" stop-color="#26c2b4"/><stop offset="83.3%" stop-color="#09bcc7"/><stop offset="100%" stop-color="#09bbc9"/></linearGradient><linearGradient id="g490"><stop offset="0%" stop-color="#fdbf42"/><stop offset="16.7%" stop-color="#e1be31"/><stop offset="33.3%" stop-color="#86cd5c"/><stop offset="50%" stop-color="#46cc90"/><stop offset="66.7%" stop-color="#24c2b5"/><stop offset="83.3%" stop-color="#09bbc8"/><stop offset="100%" stop-color="#09bacb"/></linearGradient><linearGradient id="g491"><stop offset="0%" stop-color="#f5bc40"/><stop offset="16.7%" stop-color="#d3c12e"/><stop offset="33.3%" stop-color="#83cd5f"/><stop offset="50%" stop-color="#43cb94"/><stop offset="66.7%" stop-color="#21c1b7"/><stop offset="83.3%" stop-color="#09bbc9"/><stop offset="100%" stop-color="#09bacc"/></linearGradient><linearGradient id="g492"><stop offset="0%" stop-color="#e7bd33"/><stop offset="16.7%" stop-color="#c1c534"/><stop offset="33.3%" stop-color="#79ce66"/><stop offset="50%" stop-color="#3fca98"/><stop offset="66.7%" stop-color="#1dc1b9"/><stop offset="83.3%" stop-color="#09bbca"/><stop offset="100%" stop-color="#0bb9ce"/></linearGradient><linearGradient id="g493"><stop offset="0%" stop-color="#d4c12e"/><stop offset="16.7%" stop-color="#adc940"/><stop offset="33.3%" stop-color="#6dce70"/><stop offset="50%" stop-color="#3bc99d"/><stop offset="66.7%" stop-color="#19c0bb"/><stop offset="83.3%" stop-color="#09bacb"/><stop offset="100%" stop-color="#0cb8cf"/></linearGradient><linearGradient id="g494"><stop offset="0%" stop-color="#b9c638"/><stop offset="16.7%" stop-color="#95cc51"/><stop offset="33.3%" stop-color="#5fce7b"/><stop offset="50%" stop-color="#37c7a2"/><stop offset="66.7%" stop-color="#14bfbe"/><stop offset="83.3%" stop-color="#09b9cc"/><stop offset="100%" stop-color="#0eb7d1"/></linearGradient><linearGradient id="g495"><stop offset="0%" stop-color="#99cb4e"/><stop offset="16.7%" stop-color="#7bce64"/><stop offset="33.3%" stop-color="#51cd87"/><stop offset="50%" stop-color="#33c6a8"/><stop offset="66.7%" stop-color="#10bec0"/><stop offset="83.3%" stop-color="#0bb9cd"/><stop offset="100%" stop-color="#10b7d2"/></linearGradient><linearGradient id="g496"><stop offset="0%" stop-color="#75ce69"/><stop offset="16.7%" stop-color="#61ce79"/><stop offset="33.3%" stop-color="#43cb93"/><stop offset="50%" stop-color="#2ec4ae"/><stop offset="66.7%" stop-color="#0cbdc3"/><stop offset="83.3%" stop-color="#0cb8cf"/><stop offset="100%" stop-color="#12b6d3"/></linearGradient><linearGradient id="g497"><stop offset="0%" stop-color="#54cd84"/><stop offset="16.7%" stop-color="#4acc8d"/><stop offset="33.3%" stop-color="#3bc99e"/><stop offset="50%" stop-color="#27c3b3"/><stop offset="66.7%" stop-color="#09bcc6"/><stop offset="83.3%" stop-color="#0eb7d1"/><stop offset="100%" stop-color="#14b5d5"/></linearGradient><linearGradient id="g498"><stop offset="0%" stop-color="#3cc99c"/><stop offset="16.7%" stop-color="#3bc99e"/><stop offset="33.3%" stop-color="#33c6a8"/><stop offset="50%" stop-color="#1dc1b9"/><stop offset="66.7%" stop-color="#09bbc9"/><stop offset="83.3%" stop-color="#10b6d2"/><stop offset="100%" stop-color="#17b4d6"/></linearGradient><linearGradient id="g499"><stop offset="0%" stop-color="#2dc4ae"/><stop offset="16.7%" stop-color="#30c5ac"/><stop offset="33.3%" stop-color="#2ac3b1"/><stop offset="50%" stop-color="#12bfbf"/><stop offset="66.7%" stop-color="#09b9cc"/><stop offset="83.3%" stop-color="#14b5d4"/><stop offset="100%" stop-color="#19b3d8"/></linearGradient><linearGradient id="g500"><stop offset="0%" stop-color="#12bfbe"/><stop offset="16.7%" stop-color="#1ec1b9"/><stop offset="33.3%" stop-color="#1bc0ba"/><stop offset="50%" stop-color="#0abdc4"/><stop offset="66.7%" stop-color="#0db8d0"/><stop offset="83.3%" stop-color="#17b4d6"/><stop offset="100%" stop-color="#1bb2d9"/></linearGradient><linearGradient id="g501"><stop offset="0%" stop-color="#09bacb"/><stop offset="16.7%" stop-color="#0bbdc4"/><stop offset="33.3%" stop-color="#0dbec2"/><stop offset="50%" stop-color="#09baca"/><stop offset="66.7%" stop-color="#11b6d3"/><stop offset="83.3%" stop-color="#1ab3d9"/><stop offset="100%" stop-color="#1eb1db"/></linearGradient><linearGradient id="g502"><stop offset="0%" stop-color="#15b5d5"/><stop offset="16.7%" stop-color="#0bb9ce"/><stop offset="33.3%" stop-color="#09bacb"/><stop offset="50%" stop-color="#0db8d0"/><stop offset="66.7%" stop-color="#17b4d6"/><stop offset="83.3%" stop-color="#1db1db"/><stop offset="100%" stop-color="#20afdd"/></linearGradient><linearGradient id="g503"><stop offset="0%" stop-color="#1fb0dd"/><stop offset="16.7%" stop-color="#18b4d7"/><stop offset="33.3%" stop-color="#11b6d3"/><stop offset="50%" stop-color="#15b5d5"/><stop offset="66.7%" stop-color="#1cb2da"/><stop offset="83.3%" stop-color="#20afdd"/><stop offset="100%" stop-color="#22addf"/></linearGradient><linearGradient id="g504"><stop offset="0%" stop-color="#27a7e3"/><stop offset="16.7%" stop-color="#23ace0"/><stop offset="33.3%" stop-color="#1fb0dc"/><stop offset="50%" stop-color="#1fb0dc"/><stop offset="66.7%" stop-color="#21aede"/><stop offset="83.3%" stop-color="#23ace0"/><stop offset="100%" stop-color="#24aae2"/></linearGradient><linearGradient id="g505"><stop offset="0%" stop-color="#2c9de9"/><stop offset="16.7%" stop-color="#2aa2e6"/><stop offset="33.3%" stop-color="#27a7e4"/><stop offset="50%" stop-color="#25a9e2"/><stop offset="66.7%" stop-color="#26a8e3"/><stop offset="83.3%" stop-color="#27a7e4"/><stop offset="100%" stop-color="#28a6e4"/></linearGradient><linearGradient id="g506"><stop offset="0%" stop-color="#3293f1"/><stop offset="16.7%" stop-color="#2e99ec"/><stop offset="33.3%" stop-color="#2b9fe8"/><stop offset="50%" stop-color="#2aa2e6"/><stop offset="66.7%" stop-color="#2aa3e5"/><stop offset="83.3%" stop-color="#2aa2e6"/><stop offset="100%" stop-color="#2aa2e6"/></linearGradient><linearGradient id="g507"><stop offset="0%" stop-color="#348af7"/><stop offset="16.7%" stop-color="#3292f1"/><stop offset="33.3%" stop-color="#2e99ec"/><stop offset="50%" stop-color="#2c9de9"/><stop offset="66.7%" stop-color="#2c9ee8"/><stop offset="83.3%" stop-color="#2c9ee8"/><stop offset="100%" stop-color="#2c9ee9"/></linearGradient><linearGradient id="g508"><stop offset="0%" stop-color="#3584fa"/><stop offset="16.7%" stop-color="#348df5"/><stop offset="33.3%" stop-color="#3294f0"/><stop offset="50%" stop-color="#2f98ed"/><stop offset="66.7%" stop-color="#2d9aeb"/><stop offset="83.3%" stop-color="#2d9beb"/><stop offset="100%" stop-color="#2e9aeb"/></linearGradient><linearGradient id="g509"><stop offset="0%" stop-color="#3781fc"/><stop offset="16.7%" stop-color="#3489f8"/><stop offset="33.3%" stop-color="#3390f3"/><stop offset="50%" stop-color="#3195ef"/><stop offset="66.7%" stop-color="#3097ed"/><stop offset="83.3%" stop-color="#2f98ed"/><stop offset="100%" stop-color="#2f97ed"/></linearGradient><linearGradient id="g510"><stop offset="0%" stop-color="#397ffd"/><stop offset="16.7%" stop-color="#3587f9"/><stop offset="33.3%" stop-color="#348df5"/><stop offset="50%" stop-color="#3292f1"/><stop offset="66.7%" stop-color="#3195ef"/><stop offset="83.3%" stop-color="#3196ee"/><stop offset="100%" stop-color="#3196ee"/></linearGradient><linearGradient id="g511"><stop offset="0%" stop-color="#3c7cfe"/><stop offset="16.7%" stop-color="#3684fb"/><stop offset="33.3%" stop-color="#348bf7"/><stop offset="50%" stop-color="#3390f3"/><stop offset="66.7%" stop-color="#3293f0"/><stop offset="83.3%" stop-color="#3294ef"/><stop offset="100%" stop-color="#3195ef"/></linearGradient><linearGradient id="g512"><stop offset="0%" stop-color="#3f78fe"/><stop offset="16.7%" stop-color="#3881fc"/><stop offset="33.3%" stop-color="#3488f9"/><stop offset="50%" stop-color="#338ef4"/><stop offset="66.7%" stop-color="#3392f2"/><stop offset="83.3%" stop-color="#3293f0"/><stop offset="100%" stop-color="#3293f0"/></linearGradient><linearGradient id="g513"><stop offset="0%" stop-color="#4375ff"/><stop offset="16.7%" stop-color="#3b7dfd"/><stop offset="33.3%" stop-color="#3585fa"/><stop offset="50%" stop-color="#348cf6"/><stop offset="66.7%" stop-color="#3390f3"/><stop offset="83.3%" stop-color="#3392f2"/><stop offset="100%" stop-color="#3292f1"/></linearGradient><linearGradient id="g514"><stop offset="0%" stop-color="#4671fe"/><stop offset="16.7%" stop-color="#4078fe"/><stop offset="33.3%" stop-color="#3881fc"/><stop offset="50%" stop-color="#3488f8"/><stop offset="66.7%" stop-color="#348df5"/><stop offset="83.3%" stop-color="#3390f3"/><stop offset="100%" stop-color="#3390f3"/></linearGradient><linearGradient id="g515"><stop offset="0%" stop-color="#496cfd"/><stop offset="16.7%" stop-color="#4572ff"/><stop offset="33.3%" stop-color="#3d7afe"/><stop offset="50%" stop-color="#3683fb"/><stop offset="66.7%" stop-color="#3489f8"/><stop offset="83.3%" stop-color="#348df5"/><stop offset="100%" stop-color="#338ef4"/></linearGradient><linearGradient id="g516"><stop offset="0%" stop-color="#4b67fc"/><stop offset="16.7%" stop-color="#496cfd"/><stop offset="33.3%" stop-color="#4572ff"/><stop offset="50%" stop-color="#3d7afe"/><stop offset="66.7%" stop-color="#3683fb"/><stop offset="83.3%" stop-color="#348af8"/><stop offset="100%" stop-color="#348af7"/></linearGradient><linearGradient id="g517"><stop offset="0%" stop-color="#4c62fb"/><stop offset="16.7%" stop-color="#4b65fc"/><stop offset="33.3%" stop-color="#4a69fd"/><stop offset="50%" stop-color="#4670fe"/><stop offset="66.7%" stop-color="#3c7bfe"/><stop offset="83.3%" stop-color="#3585fa"/><stop offset="100%" stop-color="#3586fa"/></linearGradient><linearGradient id="g518"><stop offset="0%" stop-color="#4d5df8"/><stop offset="16.7%" stop-color="#4d5ff9"/><stop offset="33.3%" stop-color="#4c61fa"/><stop offset="50%" stop-color="#4b66fc"/><stop offset="66.7%" stop-color="#4572fe"/><stop offset="83.3%" stop-color="#3b7dfd"/><stop offset="100%" stop-color="#3781fc"/></linearGradient><linearGradient id="g519"><stop offset="0%" stop-color="#f6e12f"/><stop offset="16.7%" stop-color="#fad534"/><stop offset="33.3%" stop-color="#fec340"/><stop offset="50%" stop-color="#fabd43"/><stop offset="66.7%" stop-color="#ebbd37"/><stop offset="83.3%" stop-color="#c2c533"/><stop offset="100%" stop-color="#6dce70"/></linearGradient><linearGradient id="g520"><stop offset="0%" stop-color="#f5bc40"/><stop offset="16.7%" stop-color="#ebbd37"/><stop offset="33.3%" stop-color="#d1c12e"/><stop offset="50%" stop-color="#c2c533"/><stop offset="66.7%" stop-color="#b3c83c"/><stop offset="83.3%" stop-color="#90cc55"/><stop offset="100%" stop-color="#64ce77"/></linearGradient><linearGradient id="g521"><stop offset="0%" stop-color="#75ce69"/><stop offset="16.7%" stop-color="#5dce7d"/><stop offset="33.3%" stop-color="#47cc90"/><stop offset="50%" stop-color="#3dc99b"/><stop offset="66.7%" stop-color="#39c8a0"/><stop offset="83.3%" stop-color="#36c7a5"/><stop offset="100%" stop-color="#32c5aa"/></linearGradient><linearGradient id="g522"><stop offset="0%" stop-color="#28c3b3"/><stop offset="16.7%" stop-color="#11bfbf"/><stop offset="33.3%" stop-color="#09bbc8"/><stop offset="50%" stop-color="#09bacc"/><stop offset="66.7%" stop-color="#0db8cf"/><stop offset="83.3%" stop-color="#12b6d3"/><stop offset="100%" stop-color="#18b4d7"/></linearGradient><linearGradient id="g523"><stop offset="0%" stop-color="#20afdd"/><stop offset="16.7%" stop-color="#25aae2"/><stop offset="33.3%" stop-color="#27a7e4"/><stop offset="50%" stop-color="#29a4e5"/><stop offset="66.7%" stop-color="#29a4e5"/><stop offset="83.3%" stop-color="#27a7e4"/><stop offset="100%" stop-color="#27a7e4"/></linearGradient><linearGradient id="g524"><stop offset="0%" stop-color="#22addf"/><stop offset="16.7%" stop-color="#28a5e4"/><stop offset="33.3%" stop-color="#2aa3e6"/><stop offset="50%" stop-color="#2aa3e6"/><stop offset="66.7%" stop-color="#29a4e5"/><stop offset="83.3%" stop-color="#26a8e3"/><stop offset="100%" stop-color="#23ace0"/></linearGradient><linearGradient id="g525"><stop offset="0%" stop-color="#27a6e4"/><stop offset="16.7%" stop-color="#2c9ee8"/><stop offset="33.3%" stop-color="#2d9cea"/><stop offset="50%" stop-color="#2c9de9"/><stop offset="66.7%" stop-color="#2ba0e7"/><stop offset="83.3%" stop-color="#29a4e5"/><stop offset="100%" stop-color="#26a9e3"/></linearGradient><linearGradient id="g526"><stop offset="0%" stop-color="#2ba0e7"/><stop offset="16.7%" stop-color="#3097ee"/><stop offset="33.3%" stop-color="#3195ef"/><stop offset="50%" stop-color="#3097ed"/><stop offset="66.7%" stop-color="#2d9beb"/><stop offset="83.3%" stop-color="#2ba0e7"/><stop offset="100%" stop-color="#28a5e5"/></linearGradient><linearGradient id="g527"><stop offset="0%" stop-color="#2d9aeb"/><stop offset="16.7%" stop-color="#3390f3"/><stop offset="33.3%" stop-color="#338ef4"/><stop offset="50%" stop-color="#3391f2"/><stop offset="66.7%" stop-color="#3195ef"/><stop offset="83.3%" stop-color="#2d9beb"/><stop offset="100%" stop-color="#2ba1e7"/></linearGradient><linearGradient id="g528"><stop offset="0%" stop-color="#3196ee"/><stop offset="16.7%" stop-color="#3489f8"/><stop offset="33.3%" stop-color="#3587f9"/><stop offset="50%" stop-color="#348bf7"/><stop offset="66.7%" stop-color="#3390f3"/><stop offset="83.3%" stop-color="#3096ee"/><stop offset="100%" stop-color="#2c9de9"/></linearGradient><linearGradient id="g529"><stop offset="0%" stop-color="#3293f1"/><stop offset="16.7%" stop-color="#3684fa"/><stop offset="33.3%" stop-color="#3782fb"/><stop offset="50%" stop-color="#3585fa"/><stop offset="66.7%" stop-color="#348af7"/><stop offset="83.3%" stop-color="#3391f2"/><stop offset="100%" stop-color="#2e99ec"/></linearGradient><linearGradient id="g530"><stop offset="0%" stop-color="#3391f2"/><stop offset="16.7%" stop-color="#3781fc"/><stop offset="33.3%" stop-color="#3a7efd"/><stop offset="50%" stop-color="#3881fc"/><stop offset="66.7%" stop-color="#3586fa"/><stop offset="83.3%" stop-color="#348df5"/><stop offset="100%" stop-color="#3195ef"/></linearGradient><linearGradient id="g531"><stop offset="0%" stop-color="#3292f1"/><stop offset="16.7%" stop-color="#3880fc"/><stop offset="33.3%" stop-color="#3c7cfd"/><stop offset="50%" stop-color="#3b7dfd"/><stop offset="66.7%" stop-color="#3782fb"/><stop offset="83.3%" stop-color="#3489f8"/><stop offset="100%" stop-color="#3391f2"/></linearGradient><linearGradient id="g532"><stop offset="0%" stop-color="#3196ee"/><stop offset="16.7%" stop-color="#3684fb"/><stop offset="33.3%" stop-color="#3c7cfd"/><stop offset="50%" stop-color="#3d7bfe"/><stop offset="66.7%" stop-color="#397ffd"/><stop offset="83.3%" stop-color="#3585fa"/><stop offset="100%" stop-color="#338ef4"/></linearGradient><linearGradient id="g533"><stop offset="0%" stop-color="#2d9beb"/><stop offset="16.7%" stop-color="#3489f8"/><stop offset="33.3%" stop-color="#3b7dfd"/><stop offset="50%" stop-color="#3e7afe"/><stop offset="66.7%" stop-color="#3b7dfd"/><stop offset="83.3%" stop-color="#3782fb"/><stop offset="100%" stop-color="#348bf7"/></linearGradient><linearGradient id="g534"><stop offset="0%" stop-color="#2ba0e7"/><stop offset="16.7%" stop-color="#338ef4"/><stop offset="33.3%" stop-color="#397ffc"/><stop offset="50%" stop-color="#3e79fe"/><stop offset="66.7%" stop-color="#3c7cfe"/><stop offset="83.3%" stop-color="#3880fc"/><stop offset="100%" stop-color="#3489f8"/></linearGradient><linearGradient id="g535"><stop offset="0%" stop-color="#28a5e5"/><stop offset="16.7%" stop-color="#3293f0"/><stop offset="33.3%" stop-color="#3781fc"/><stop offset="50%" stop-color="#3e79fe"/><stop offset="66.7%" stop-color="#3d7bfe"/><stop offset="83.3%" stop-color="#397ffd"/><stop offset="100%" stop-color="#3587f9"/></linearGradient><linearGradient id="g536"><stop offset="0%" stop-color="#27a7e4"/><stop offset="16.7%" stop-color="#3096ee"/><stop offset="33.3%" stop-color="#3782fb"/><stop offset="50%" stop-color="#3f79fe"/><stop offset="66.7%" stop-color="#3d7bfe"/><stop offset="83.3%" stop-color="#3a7dfd"/><stop offset="100%" stop-color="#3585fa"/></linearGradient><linearGradient id="g537"><stop offset="0%" stop-color="#26a7e3"/><stop offset="16.7%" stop-color="#2f98ed"/><stop offset="33.3%" stop-color="#3684fb"/><stop offset="50%" stop-color="#3f78fe"/><stop offset="66.7%" stop-color="#3e7afe"/><stop offset="83.3%" stop-color="#3b7cfd"/><stop offset="100%" stop-color="#3684fb"/></linearGradient><linearGradient id="g538"><stop offset="0%" stop-color="#27a7e3"/><stop offset="16.7%" stop-color="#2e9aec"/><stop offset="33.3%" stop-color="#3584fa"/><stop offset="50%" stop-color="#4077fe"/><stop offset="66.7%" stop-color="#3f79fe"/><stop offset="83.3%" stop-color="#3c7cfe"/><stop offset="100%" stop-color="#3683fb"/></linearGradient><linearGradient id="g539"><stop offset="0%" stop-color="#27a7e4"/><stop offset="16.7%" stop-color="#2d9aeb"/><stop offset="33.3%" stop-color="#3585fa"/><stop offset="50%" stop-color="#4177ff"/><stop offset="66.7%" stop-color="#4078fe"/><stop offset="83.3%" stop-color="#3d7bfe"/><stop offset="100%" stop-color="#3684fa"/></linearGradient><linearGradient id="g540"><stop offset="0%" stop-color="#27a7e4"/><stop offset="16.7%" stop-color="#2d9aeb"/><stop offset="33.3%" stop-color="#3585fa"/><stop offset="50%" stop-color="#4176ff"/><stop offset="66.7%" stop-color="#4077fe"/><stop offset="83.3%" stop-color="#3d7bfe"/><stop offset="100%" stop-color="#3585fa"/></linearGradient><linearGradient id="g541"><stop offset="0%" stop-color="#26a8e3"/><stop offset="16.7%" stop-color="#2e9aec"/><stop offset="33.3%" stop-color="#3684fa"/><stop offset="50%" stop-color="#4177ff"/><stop offset="66.7%" stop-color="#4077fe"/><stop offset="83.3%" stop-color="#3c7cfe"/><stop offset="100%" stop-color="#3585fa"/></linearGradient><linearGradient id="g542"><stop offset="0%" stop-color="#26a9e3"/><stop offset="16.7%" stop-color="#2f98ed"/><stop offset="33.3%" stop-color="#3683fb"/><stop offset="50%" stop-color="#4177fe"/><stop offset="66.7%" stop-color="#4078fe"/><stop offset="83.3%" stop-color="#3b7cfd"/><stop offset="100%" stop-color="#3585fa"/></linearGradient><linearGradient id="g543"><stop offset="0%" stop-color="#26a9e3"/><stop offset="16.7%" stop-color="#3097ee"/><stop offset="33.3%" stop-color="#3781fc"/><stop offset="50%" stop-color="#4177fe"/><stop offset="66.7%" stop-color="#3f79fe"/><stop offset="83.3%" stop-color="#3a7dfd"/><stop offset="100%" stop-color="#3586f9"/></linearGradient><linearGradient id="g544"><stop offset="0%" stop-color="#26a8e3"/><stop offset="16.7%" stop-color="#3294f0"/><stop offset="33.3%" stop-color="#397ffd"/><stop offset="50%" stop-color="#4077fe"/><stop offset="66.7%" stop-color="#3e7afe"/><stop offset="83.3%" stop-color="#397ffd"/><stop offset="100%" stop-color="#3488f9"/></linearGradient><linearGradient id="g545"><stop offset="0%" stop-color="#28a5e5"/><stop offset="16.7%" stop-color="#338ff3"/><stop offset="33.3%" stop-color="#3b7cfd"/><stop offset="50%" stop-color="#4077fe"/><stop offset="66.7%" stop-color="#3d7bfe"/><stop offset="83.3%" stop-color="#3880fc"/><stop offset="100%" stop-color="#3489f8"/></linearGradient><linearGradient id="g546"><stop offset="0%" stop-color="#2ba1e7"/><stop offset="16.7%" stop-color="#348af7"/><stop offset="33.3%" stop-color="#3d7afe"/><stop offset="50%" stop-color="#4077fe"/><stop offset="66.7%" stop-color="#3c7cfe"/><stop offset="83.3%" stop-color="#3782fb"/><stop offset="100%" stop-color="#348bf7"/></linearGradient><linearGradient id="g547"><stop offset="0%" stop-color="#2d9cea"/><stop offset="16.7%" stop-color="#3585fa"/><stop offset="33.3%" stop-color="#3f79fe"/><stop offset="50%" stop-color="#4078fe"/><stop offset="66.7%" stop-color="#3b7dfd"/><stop offset="83.3%" stop-color="#3684fa"/><stop offset="100%" stop-color="#348ef5"/></linearGradient><linearGradient id="g548"><stop offset="0%" stop-color="#3097ed"/><stop offset="16.7%" stop-color="#3880fc"/><stop offset="33.3%" stop-color="#3f79fe"/><stop offset="50%" stop-color="#3e7afe"/><stop offset="66.7%" stop-color="#397ffc"/><stop offset="83.3%" stop-color="#3587f9"/><stop offset="100%" stop-color="#3390f3"/></linearGradient><linearGradient id="g549"><stop offset="0%" stop-color="#3294f0"/><stop offset="16.7%" stop-color="#3a7efd"/><stop offset="33.3%" stop-color="#3e7afe"/><stop offset="50%" stop-color="#3c7cfd"/><stop offset="66.7%" stop-color="#3782fb"/><stop offset="83.3%" stop-color="#348af7"/><stop offset="100%" stop-color="#3293f0"/></linearGradient><linearGradient id="g550"><stop offset="0%" stop-color="#3293f1"/><stop offset="16.7%" stop-color="#387ffc"/><stop offset="33.3%" stop-color="#3a7efd"/><stop offset="50%" stop-color="#3880fc"/><stop offset="66.7%" stop-color="#3586fa"/><stop offset="83.3%" stop-color="#338ef4"/><stop offset="100%" stop-color="#3097ee"/></linearGradient><linearGradient id="g551"><stop offset="0%" stop-color="#3294f0"/><stop offset="16.7%" stop-color="#3683fb"/><stop offset="33.3%" stop-color="#3782fb"/><stop offset="50%" stop-color="#3585fa"/><stop offset="66.7%" stop-color="#348bf7"/><stop offset="83.3%" stop-color="#3293f1"/><stop offset="100%" stop-color="#2d9beb"/></linearGradient><linearGradient id="g552"><stop offset="0%" stop-color="#3096ee"/><stop offset="16.7%" stop-color="#3489f8"/><stop offset="33.3%" stop-color="#3488f8"/><stop offset="50%" stop-color="#348bf7"/><stop offset="66.7%" stop-color="#3390f3"/><stop offset="83.3%" stop-color="#3097ed"/><stop offset="100%" stop-color="#2c9ee8"/></linearGradient><linearGradient id="g553"><stop offset="0%" stop-color="#2d9aeb"/><stop offset="16.7%" stop-color="#3390f3"/><stop offset="33.3%" stop-color="#338ff4"/><stop offset="50%" stop-color="#3391f2"/><stop offset="66.7%" stop-color="#3196ee"/><stop offset="83.3%" stop-color="#2d9cea"/><stop offset="100%" stop-color="#2aa2e6"/></linearGradient><linearGradient id="g554"><stop offset="0%" stop-color="#2b9fe8"/><stop offset="16.7%" stop-color="#2f98ed"/><stop offset="33.3%" stop-color="#3096ee"/><stop offset="50%" stop-color="#2f98ed"/><stop offset="66.7%" stop-color="#2d9bea"/><stop offset="83.3%" stop-color="#2ba0e7"/><stop offset="100%" stop-color="#27a6e4"/></linearGradient><linearGradient id="g555"><stop offset="0%" stop-color="#28a6e4"/><stop offset="16.7%" stop-color="#2b9fe8"/><stop offset="33.3%" stop-color="#2c9de9"/><stop offset="50%" stop-color="#2c9ee8"/><stop offset="66.7%" stop-color="#2ba0e7"/><stop offset="83.3%" stop-color="#28a5e5"/><stop offset="100%" stop-color="#25aae2"/></linearGradient><linearGradient id="g556"><stop offset="0%" stop-color="#1cb2da"/><stop offset="16.7%" stop-color="#22ade0"/><stop offset="33.3%" stop-color="#25aae2"/><stop offset="50%" stop-color="#27a7e4"/><stop offset="66.7%" stop-color="#27a7e4"/><stop offset="83.3%" stop-color="#27a7e4"/><stop offset="100%" stop-color="#27a7e4"/></linearGradient><linearGradient id="g557"><stop offset="0%" stop-color="#36c7a5"/><stop offset="16.7%" stop-color="#28c3b3"/><stop offset="33.3%" stop-color="#19c0bb"/><stop offset="50%" stop-color="#0bbdc4"/><stop offset="66.7%" stop-color="#09bacc"/><stop offset="83.3%" stop-color="#0db8cf"/><stop offset="100%" stop-color="#12b6d3"/></linearGradient><linearGradient id="g558"><stop offset="0%" stop-color="#6dce70"/><stop offset="16.7%" stop-color="#5dce7d"/><stop offset="33.3%" stop-color="#4dcd8a"/><stop offset="50%" stop-color="#41cb95"/><stop offset="66.7%" stop-color="#3dc99b"/><stop offset="83.3%" stop-color="#39c8a0"/><stop offset="100%" stop-color="#36c7a5"/></linearGradient><linearGradient id="g559"><stop offset="0%" stop-color="#f5bc40"/><stop offset="16.7%" stop-color="#ebbd37"/><stop offset="33.3%" stop-color="#dfbf30"/><stop offset="50%" stop-color="#d1c12e"/><stop offset="66.7%" stop-color="#c2c533"/><stop offset="83.3%" stop-color="#a2ca47"/><stop offset="100%" stop-color="#6dce70"/></linearGradient><linearGradient id="g560"><stop offset="0%" stop-color="#f5ec29"/><stop offset="16.7%" stop-color="#f6e12f"/><stop offset="33.3%" stop-color="#fcd136"/><stop offset="50%" stop-color="#fec63d"/><stop offset="66.7%" stop-color="#fdbf42"/><stop offset="83.3%" stop-color="#dfbf30"/><stop offset="100%" stop-color="#a2ca47"/></linearGradient><linearGradient id="g561"><stop offset="0%" stop-color="#f5e52d"/><stop offset="16.7%" stop-color="#f5e42e"/><stop offset="33.3%" stop-color="#f6e32e"/><stop offset="50%" stop-color="#f6e12f"/><stop offset="66.7%" stop-color="#f7de30"/><stop offset="83.3%" stop-color="#f8db32"/><stop offset="100%" stop-color="#fad733"/></linearGradient><linearGradient id="g562"><stop offset="0%" stop-color="#f5e52d"/><stop offset="16.7%" stop-color="#f5e42e"/><stop offset="33.3%" stop-color="#f6e22e"/><stop offset="50%" stop-color="#f6e02f"/><stop offset="66.7%" stop-color="#f7de30"/><stop offset="83.3%" stop-color="#f8da32"/><stop offset="100%" stop-color="#fad733"/></linearGradient><linearGradient id="g563"><stop offset="0%" stop-color="#f5e52d"/><stop offset="16.7%" stop-color="#f5e42e"/><stop offset="33.3%" stop-color="#f6e22e"/><stop offset="50%" stop-color="#f6e02f"/><stop offset="66.7%" stop-color="#f7dd30"/><stop offset="83.3%" stop-color="#f9da32"/><stop offset="100%" stop-color="#fad634"/></linearGradient><linearGradient id="g564"><stop offset="0%" stop-color="#f5e52d"/><stop offset="16.7%" stop-color="#f5e32e"/><stop offset="33.3%" stop-color="#f6e22e"/><stop offset="50%" stop-color="#f6df2f"/><stop offset="66.7%" stop-color="#f8dc31"/><stop offset="83.3%" stop-color="#f9d932"/><stop offset="100%" stop-color="#fad634"/></linearGradient><linearGradient id="g565"><stop offset="0%" stop-color="#f5e42d"/><stop offset="16.7%" stop-color="#f6e32e"/><stop offset="33.3%" stop-color="#f6e12f"/><stop offset="50%" stop-color="#f7de30"/><stop offset="66.7%" stop-color="#f8db31"/><stop offset="83.3%" stop-color="#f9d833"/><stop offset="100%" stop-color="#fbd534"/></linearGradient><linearGradient id="g566"><stop offset="0%" stop-color="#f5e42e"/><stop offset="16.7%" stop-color="#f6e22e"/><stop offset="33.3%" stop-color="#f6e02f"/><stop offset="50%" stop-color="#f7dd30"/><stop offset="66.7%" stop-color="#f9da32"/><stop offset="83.3%" stop-color="#fad634"/><stop offset="100%" stop-color="#fbd435"/></linearGradient><linearGradient id="g567"><stop offset="0%" stop-color="#f6e32e"/><stop offset="16.7%" stop-color="#f6e12f"/><stop offset="33.3%" stop-color="#f7df30"/><stop offset="50%" stop-color="#f8db31"/><stop offset="66.7%" stop-color="#f9d833"/><stop offset="83.3%" stop-color="#fbd534"/><stop offset="100%" stop-color="#fcd335"/></linearGradient><linearGradient id="g568"><stop offset="0%" stop-color="#f6e22f"/><stop offset="16.7%" stop-color="#f6df2f"/><stop offset="33.3%" stop-color="#f7dd31"/><stop offset="50%" stop-color="#f9d932"/><stop offset="66.7%" stop-color="#fad534"/><stop offset="83.3%" stop-color="#fcd335"/><stop offset="100%" stop-color="#fcd136"/></linearGradient><linearGradient id="g569"><stop offset="0%" stop-color="#f6e02f"/><stop offset="16.7%" stop-color="#f7de30"/><stop offset="33.3%" stop-color="#f8da32"/><stop offset="50%" stop-color="#fad634"/><stop offset="66.7%" stop-color="#fcd335"/><stop offset="83.3%" stop-color="#fcd136"/><stop offset="100%" stop-color="#fdd037"/></linearGradient><linearGradient id="g570"><stop offset="0%" stop-color="#f7de30"/><stop offset="16.7%" stop-color="#f8dc31"/><stop offset="33.3%" stop-color="#f9d833"/><stop offset="50%" stop-color="#fbd435"/><stop offset="66.7%" stop-color="#fcd037"/><stop offset="83.3%" stop-color="#fdcf37"/><stop offset="100%" stop-color="#fdce38"/></linearGradient><linearGradient id="g571"><stop offset="0%" stop-color="#f7dd31"/><stop offset="16.7%" stop-color="#f9d932"/><stop offset="33.3%" stop-color="#fbd534"/><stop offset="50%" stop-color="#fcd136"/><stop offset="66.7%" stop-color="#fdce38"/><stop offset="83.3%" stop-color="#fdcd39"/><stop offset="100%" stop-color="#fdcc39"/></linearGradient><linearGradient id="g572"><stop offset="0%" stop-color="#f8db31"/><stop offset="16.7%" stop-color="#fad733"/><stop offset="33.3%" stop-color="#fcd335"/><stop offset="50%" stop-color="#fdcf38"/><stop offset="66.7%" stop-color="#fdcd39"/><stop offset="83.3%" stop-color="#fecc39"/><stop offset="100%" stop-color="#fecb3a"/></linearGradient><linearGradient id="g573"><stop offset="0%" stop-color="#f9da32"/><stop offset="16.7%" stop-color="#fad534"/><stop offset="33.3%" stop-color="#fdd037"/><stop offset="50%" stop-color="#fdcd39"/><stop offset="66.7%" stop-color="#fecb3a"/><stop offset="83.3%" stop-color="#feca3a"/><stop offset="100%" stop-color="#feca3b"/></linearGradient><linearGradient id="g574"><stop offset="0%" stop-color="#f9d833"/><stop offset="16.7%" stop-color="#fcd236"/><stop offset="33.3%" stop-color="#fdcd39"/><stop offset="50%" stop-color="#feca3a"/><stop offset="66.7%" stop-color="#fec93b"/><stop offset="83.3%" stop-color="#fec93c"/><stop offset="100%" stop-color="#fec83c"/></linearGradient><linearGradient id="g575"><stop offset="0%" stop-color="#fbd534"/><stop offset="16.7%" stop-color="#fdce38"/><stop offset="33.3%" stop-color="#fec93b"/><stop offset="50%" stop-color="#fec73c"/><stop offset="66.7%" stop-color="#fec73d"/><stop offset="83.3%" stop-color="#fec73d"/><stop offset="100%" stop-color="#fec73d"/></linearGradient><linearGradient id="g576"><stop offset="0%" stop-color="#fcd236"/><stop offset="16.7%" stop-color="#feca3b"/><stop offset="33.3%" stop-color="#fec63d"/><stop offset="50%" stop-color="#fec53e"/><stop offset="66.7%" stop-color="#fec53e"/><stop offset="83.3%" stop-color="#fec53e"/><stop offset="100%" stop-color="#fec63e"/></linearGradient><linearGradient id="g577"><stop offset="0%" stop-color="#fdcf38"/><stop offset="16.7%" stop-color="#fec73d"/><stop offset="33.3%" stop-color="#fec43f"/><stop offset="50%" stop-color="#fec33f"/><stop offset="66.7%" stop-color="#fec43f"/><stop offset="83.3%" stop-color="#fec43f"/><stop offset="100%" stop-color="#fec53e"/></linearGradient><linearGradient id="g578"><stop offset="0%" stop-color="#fecc39"/><stop offset="16.7%" stop-color="#fec43f"/><stop offset="33.3%" stop-color="#fec241"/><stop offset="50%" stop-color="#fec241"/><stop offset="66.7%" stop-color="#fec240"/><stop offset="83.3%" stop-color="#fec340"/><stop offset="100%" stop-color="#fec43f"/></linearGradient><linearGradient id="g579"><stop offset="0%" stop-color="#fec93b"/><stop offset="16.7%" stop-color="#fec340"/><stop offset="33.3%" stop-color="#fec042"/><stop offset="50%" stop-color="#fec042"/><stop offset="66.7%" stop-color="#fec141"/><stop offset="83.3%" stop-color="#fec241"/><stop offset="100%" stop-color="#fec340"/></linearGradient><linearGradient id="g580"><stop offset="0%" stop-color="#fec73c"/><stop offset="16.7%" stop-color="#fec141"/><stop offset="33.3%" stop-color="#febf42"/><stop offset="50%" stop-color="#febf42"/><stop offset="66.7%" stop-color="#fec042"/><stop offset="83.3%" stop-color="#fec141"/><stop offset="100%" stop-color="#fec240"/></linearGradient><linearGradient id="g581"><stop offset="0%" stop-color="#fec63d"/><stop offset="16.7%" stop-color="#fec042"/><stop offset="33.3%" stop-color="#fdbf42"/><stop offset="50%" stop-color="#fdbf42"/><stop offset="66.7%" stop-color="#fdbf42"/><stop offset="83.3%" stop-color="#fec042"/><stop offset="100%" stop-color="#fec141"/></linearGradient><linearGradient id="g582"><stop offset="0%" stop-color="#fec53e"/><stop offset="16.7%" stop-color="#fec042"/><stop offset="33.3%" stop-color="#fdbf42"/><stop offset="50%" stop-color="#fcbe42"/><stop offset="66.7%" stop-color="#fcbe42"/><stop offset="83.3%" stop-color="#fdbf42"/><stop offset="100%" stop-color="#fec042"/></linearGradient><linearGradient id="g583"><stop offset="0%" stop-color="#fec43f"/><stop offset="16.7%" stop-color="#fec141"/><stop offset="33.3%" stop-color="#fdbf42"/><stop offset="50%" stop-color="#fcbe43"/><stop offset="66.7%" stop-color="#fbbe43"/><stop offset="83.3%" stop-color="#fcbe42"/><stop offset="100%" stop-color="#fec042"/></linearGradient><linearGradient id="g584"><stop offset="0%" stop-color="#fec53e"/><stop offset="16.7%" stop-color="#fec240"/><stop offset="33.3%" stop-color="#fec042"/><stop offset="50%" stop-color="#fcbe43"/><stop offset="66.7%" stop-color="#fbbe43"/><stop offset="83.3%" stop-color="#fbbe43"/><stop offset="100%" stop-color="#febf42"/></linearGradient><linearGradient id="g585"><stop offset="0%" stop-color="#fec83c"/><stop offset="16.7%" stop-color="#fec53e"/><stop offset="33.3%" stop-color="#fec141"/><stop offset="50%" stop-color="#fcbe42"/><stop offset="66.7%" stop-color="#fbbe43"/><stop offset="83.3%" stop-color="#fbbe43"/><stop offset="100%" stop-color="#fdbf42"/></linearGradient><linearGradient id="g586"><stop offset="0%" stop-color="#fdce38"/><stop offset="16.7%" stop-color="#fec93b"/><stop offset="33.3%" stop-color="#fec240"/><stop offset="50%" stop-color="#fcbf42"/><stop offset="66.7%" stop-color="#fbbe43"/><stop offset="83.3%" stop-color="#fabd43"/><stop offset="100%" stop-color="#fdbf42"/></linearGradient><linearGradient id="g587"><stop offset="0%" stop-color="#fbd335"/><stop offset="16.7%" stop-color="#fdcd39"/><stop offset="33.3%" stop-color="#fec33f"/><stop offset="50%" stop-color="#fdbf42"/><stop offset="66.7%" stop-color="#fbbe43"/><stop offset="83.3%" stop-color="#fabd43"/><stop offset="100%" stop-color="#fdbf42"/></linearGradient><linearGradient id="g588"><stop offset="0%" stop-color="#f9d933"/><stop offset="16.7%" stop-color="#fcd037"/><stop offset="33.3%" stop-color="#fec43f"/><stop offset="50%" stop-color="#fdbf42"/><stop offset="66.7%" stop-color="#fbbe43"/><stop offset="83.3%" stop-color="#f9bd43"/><stop offset="100%" stop-color="#fcbf42"/></linearGradient><linearGradient id="g589"><stop offset="0%" stop-color="#f7de30"/><stop offset="16.7%" stop-color="#fbd335"/><stop offset="33.3%" stop-color="#fec53e"/><stop offset="50%" stop-color="#fdbf42"/><stop offset="66.7%" stop-color="#fbbe43"/><stop offset="83.3%" stop-color="#f9bc43"/><stop offset="100%" stop-color="#fcbf42"/></linearGradient><linearGradient id="g590"><stop offset="0%" stop-color="#f5e42d"/><stop offset="16.7%" stop-color="#fbd534"/><stop offset="33.3%" stop-color="#fec53e"/><stop offset="50%" stop-color="#febf42"/><stop offset="66.7%" stop-color="#fbbe43"/><stop offset="83.3%" stop-color="#f7bc42"/><stop offset="100%" stop-color="#fcbe42"/></linearGradient><linearGradient id="g591"><stop offset="0%" stop-color="#f5e92b"/><stop offset="16.7%" stop-color="#fad634"/><stop offset="33.3%" stop-color="#fec63e"/><stop offset="50%" stop-color="#febf42"/><stop offset="66.7%" stop-color="#fcbe43"/><stop offset="83.3%" stop-color="#f6bc41"/><stop offset="100%" stop-color="#fcbf42"/></linearGradient><linearGradient id="g592"><stop offset="0%" stop-color="#f5ea2b"/><stop offset="16.7%" stop-color="#fad534"/><stop offset="33.3%" stop-color="#fec63e"/><stop offset="50%" stop-color="#fec042"/><stop offset="66.7%" stop-color="#fcbe43"/><stop offset="83.3%" stop-color="#f6bc41"/><stop offset="100%" stop-color="#fcbf42"/></linearGradient><linearGradient id="g593"><stop offset="0%" stop-color="#f5e82c"/><stop offset="16.7%" stop-color="#fbd435"/><stop offset="33.3%" stop-color="#fec53e"/><stop offset="50%" stop-color="#fec042"/><stop offset="66.7%" stop-color="#fbbe43"/><stop offset="83.3%" stop-color="#f7bc42"/><stop offset="100%" stop-color="#fcbf42"/></linearGradient><linearGradient id="g594"><stop offset="0%" stop-color="#f5e42e"/><stop offset="16.7%" stop-color="#fcd236"/><stop offset="33.3%" stop-color="#fec53e"/><stop offset="50%" stop-color="#fec042"/><stop offset="66.7%" stop-color="#fbbe43"/><stop offset="83.3%" stop-color="#f8bc43"/><stop offset="100%" stop-color="#fcbf42"/></linearGradient><linearGradient id="g595"><stop offset="0%" stop-color="#f7de30"/><stop offset="16.7%" stop-color="#fdcf37"/><stop offset="33.3%" stop-color="#fec53e"/><stop offset="50%" stop-color="#febf42"/><stop offset="66.7%" stop-color="#fbbe43"/><stop offset="83.3%" stop-color="#f9bd43"/><stop offset="100%" stop-color="#fcbf42"/></linearGradient><linearGradient id="g596"><stop offset="0%" stop-color="#f9d932"/><stop offset="16.7%" stop-color="#fdcd39"/><stop offset="33.3%" stop-color="#fec43f"/><stop offset="50%" stop-color="#fdbf42"/><stop offset="66.7%" stop-color="#fbbe43"/><stop offset="83.3%" stop-color="#fabd43"/><stop offset="100%" stop-color="#fdbf42"/></linearGradient><linearGradient id="g597"><stop offset="0%" stop-color="#fbd335"/><stop offset="16.7%" stop-color="#feca3a"/><stop offset="33.3%" stop-color="#fec340"/><stop offset="50%" stop-color="#fdbf42"/><stop offset="66.7%" stop-color="#fbbe43"/><stop offset="83.3%" stop-color="#fabd43"/><stop offset="100%" stop-color="#fdbf42"/></linearGradient><linearGradient id="g598"><stop offset="0%" stop-color="#fdce38"/><stop offset="16.7%" stop-color="#fec73d"/><stop offset="33.3%" stop-color="#fec241"/><stop offset="50%" stop-color="#fdbf42"/><stop offset="66.7%" stop-color="#fbbe43"/><stop offset="83.3%" stop-color="#fbbe43"/><stop offset="100%" stop-color="#fdbf42"/></linearGradient><linearGradient id="g599"><stop offset="0%" stop-color="#fec83c"/><stop offset="16.7%" stop-color="#fec43f"/><stop offset="33.3%" stop-color="#fec141"/><stop offset="50%" stop-color="#fcbf42"/><stop offset="66.7%" stop-color="#fbbe43"/><stop offset="83.3%" stop-color="#fbbe43"/><stop offset="100%" stop-color="#fdbf42"/></linearGradient><linearGradient id="g600"><stop offset="0%" stop-color="#fec53e"/><stop offset="16.7%" stop-color="#fec340"/><stop offset="33.3%" stop-color="#fec042"/><stop offset="50%" stop-color="#fcbf42"/><stop offset="66.7%" stop-color="#fbbe43"/><stop offset="83.3%" stop-color="#fcbe43"/><stop offset="100%" stop-color="#fec042"/></linearGradient><linearGradient id="g601"><stop offset="0%" stop-color="#fec43f"/><stop offset="16.7%" stop-color="#fec141"/><stop offset="33.3%" stop-color="#fec042"/><stop offset="50%" stop-color="#fdbf42"/><stop offset="66.7%" stop-color="#fcbe43"/><stop offset="83.3%" stop-color="#fcbf42"/><stop offset="100%" stop-color="#fec042"/></linearGradient><linearGradient id="g602"><stop offset="0%" stop-color="#fec43f"/><stop offset="16.7%" stop-color="#fec141"/><stop offset="33.3%" stop-color="#fec042"/><stop offset="50%" stop-color="#fdbf42"/><stop offset="66.7%" stop-color="#fdbf42"/><stop offset="83.3%" stop-color="#fdbf42"/><stop offset="100%" stop-color="#fec141"/></linearGradient><linearGradient id="g603"><stop offset="0%" stop-color="#fec53e"/><stop offset="16.7%" stop-color="#fec240"/><stop offset="33.3%" stop-color="#fec042"/><stop offset="50%" stop-color="#febf42"/><stop offset="66.7%" stop-color="#febf42"/><stop offset="83.3%" stop-color="#fec042"/><stop offset="100%" stop-color="#fec241"/></linearGradient><linearGradient id="g604"><stop offset="0%" stop-color="#fec73d"/><stop offset="16.7%" stop-color="#fec340"/><stop offset="33.3%" stop-color="#fec141"/><stop offset="50%" stop-color="#fec042"/><stop offset="66.7%" stop-color="#fec042"/><stop offset="83.3%" stop-color="#fec141"/><stop offset="100%" stop-color="#fec240"/></linearGradient><linearGradient id="g605"><stop offset="0%" stop-color="#fec93b"/><stop offset="16.7%" stop-color="#fec53e"/><stop offset="33.3%" stop-color="#fec240"/><stop offset="50%" stop-color="#fec241"/><stop offset="66.7%" stop-color="#fec241"/><stop offset="83.3%" stop-color="#fec240"/><stop offset="100%" stop-color="#fec33f"/></linearGradient><linearGradient id="g606"><stop offset="0%" stop-color="#fecb39"/><stop offset="16.7%" stop-color="#fec73d"/><stop offset="33.3%" stop-color="#fec43f"/><stop offset="50%" stop-color="#fec340"/><stop offset="66.7%" stop-color="#fec340"/><stop offset="83.3%" stop-color="#fec33f"/><stop offset="100%" stop-color="#fec43f"/></linearGradient><linearGradient id="g607"><stop offset="0%" stop-color="#fdce38"/><stop offset="16.7%" stop-color="#fec93b"/><stop offset="33.3%" stop-color="#fec63e"/><stop offset="50%" stop-color="#fec43f"/><stop offset="66.7%" stop-color="#fec43f"/><stop offset="83.3%" stop-color="#fec43f"/><stop offset="100%" stop-color="#fec53e"/></linearGradient><linearGradient id="g608"><stop offset="0%" stop-color="#fcd236"/><stop offset="16.7%" stop-color="#fdcd39"/><stop offset="33.3%" stop-color="#fec93c"/><stop offset="50%" stop-color="#fec73d"/><stop offset="66.7%" stop-color="#fec63d"/><stop offset="83.3%" stop-color="#fec63d"/><stop offset="100%" stop-color="#fec63d"/></linearGradient><linearGradient id="g609"><stop offset="0%" stop-color="#fad534"/><stop offset="16.7%" stop-color="#fcd136"/><stop offset="33.3%" stop-color="#fdcc39"/><stop offset="50%" stop-color="#feca3b"/><stop offset="66.7%" stop-color="#fec83c"/><stop offset="83.3%" stop-color="#fec83c"/><stop offset="100%" stop-color="#fec83c"/></linearGradient><linearGradient id="g610"><stop offset="0%" stop-color="#f9d833"/><stop offset="16.7%" stop-color="#fbd435"/><stop offset="33.3%" stop-color="#fdd037"/><stop offset="50%" stop-color="#fdcc39"/><stop offset="66.7%" stop-color="#fecb3a"/><stop offset="83.3%" stop-color="#feca3b"/><stop offset="100%" stop-color="#fec93b"/></linearGradient><linearGradient id="g611"><stop offset="0%" stop-color="#f8da32"/><stop offset="16.7%" stop-color="#fad734"/><stop offset="33.3%" stop-color="#fcd236"/><stop offset="50%" stop-color="#fdcf38"/><stop offset="66.7%" stop-color="#fdcd39"/><stop offset="83.3%" stop-color="#fecb3a"/><stop offset="100%" stop-color="#fecb3a"/></linearGradient><linearGradient id="g612"><stop offset="0%" stop-color="#f7dc31"/><stop offset="16.7%" stop-color="#f9d933"/><stop offset="33.3%" stop-color="#fbd534"/><stop offset="50%" stop-color="#fcd136"/><stop offset="66.7%" stop-color="#fdcf38"/><stop offset="83.3%" stop-color="#fdcd38"/><stop offset="100%" stop-color="#fdcc39"/></linearGradient><linearGradient id="g613"><stop offset="0%" stop-color="#f7de30"/><stop offset="16.7%" stop-color="#f8db31"/><stop offset="33.3%" stop-color="#fad733"/><stop offset="50%" stop-color="#fbd435"/><stop offset="66.7%" stop-color="#fcd136"/><stop offset="83.3%" stop-color="#fdcf37"/><stop offset="100%" stop-color="#fdce38"/></linearGradient><linearGradient id="g614"><stop offset="0%" stop-color="#f6e02f"/><stop offset="16.7%" stop-color="#f7dd30"/><stop offset="33.3%" stop-color="#f9da32"/><stop offset="50%" stop-color="#fad634"/><stop offset="66.7%" stop-color="#fbd335"/><stop offset="83.3%" stop-color="#fcd136"/><stop offset="100%" stop-color="#fdcf37"/></linearGradient><linearGradient id="g615"><stop offset="0%" stop-color="#f6e12f"/><stop offset="16.7%" stop-color="#f7df30"/><stop offset="33.3%" stop-color="#f8dc31"/><stop offset="50%" stop-color="#f9d833"/><stop offset="66.7%" stop-color="#fbd534"/><stop offset="83.3%" stop-color="#fcd335"/><stop offset="100%" stop-color="#fcd136"/></linearGradient><linearGradient id="g616"><stop offset="0%" stop-color="#f6e22e"/><stop offset="16.7%" stop-color="#f6e02f"/><stop offset="33.3%" stop-color="#f7de30"/><stop offset="50%" stop-color="#f8db32"/><stop offset="66.7%" stop-color="#fad733"/><stop offset="83.3%" stop-color="#fbd535"/><stop offset="100%" stop-color="#fbd335"/></linearGradient><linearGradient id="g617"><stop offset="0%" stop-color="#f5e32e"/><stop offset="16.7%" stop-color="#f6e22e"/><stop offset="33.3%" stop-color="#f6df2f"/><stop offset="50%" stop-color="#f7dc31"/><stop offset="66.7%" stop-color="#f9d932"/><stop offset="83.3%" stop-color="#fad634"/><stop offset="100%" stop-color="#fad534"/></linearGradient><linearGradient id="g618"><stop offset="0%" stop-color="#f5e42d"/><stop offset="16.7%" stop-color="#f6e32e"/><stop offset="33.3%" stop-color="#f6e12f"/><stop offset="50%" stop-color="#f7de30"/><stop offset="66.7%" stop-color="#f8db32"/><stop offset="83.3%" stop-color="#f9d833"/><stop offset="100%" stop-color="#f9d833"/></linearGradient><linearGradient id="g619"><stop offset="0%" stop-color="#f5e52d"/><stop offset="16.7%" stop-color="#f5e42e"/><stop offset="33.3%" stop-color="#f6e22e"/><stop offset="50%" stop-color="#f7df30"/><stop offset="66.7%" stop-color="#f8dc31"/><stop offset="83.3%" stop-color="#f8da32"/><stop offset="100%" stop-color="#f8da32"/></linearGradient><linearGradient id="g620"><stop offset="0%" stop-color="#f5e52d"/><stop offset="16.7%" stop-color="#f5e52d"/><stop offset="33.3%" stop-color="#f5e32e"/><stop offset="50%" stop-color="#f6e02f"/><stop offset="66.7%" stop-color="#f7dd31"/><stop offset="83.3%" stop-color="#f8dc31"/><stop offset="100%" stop-color="#f7dd31"/></linearGradient><linearGradient id="g621"><stop offset="0%" stop-color="#f5e62d"/><stop offset="16.7%" stop-color="#f5e62d"/><stop offset="33.3%" stop-color="#f5e52d"/><stop offset="50%" stop-color="#f6e22e"/><stop offset="66.7%" stop-color="#f7dd30"/><stop offset="83.3%" stop-color="#f7dd31"/><stop offset="100%" stop-color="#f7df30"/></linearGradient><linearGradient id="g622"><stop offset="0%" stop-color="#f5e62c"/><stop offset="16.7%" stop-color="#f5e62c"/><stop offset="33.3%" stop-color="#f5e62c"/><stop offset="50%" stop-color="#f5e42e"/><stop offset="66.7%" stop-color="#f7de30"/><stop offset="83.3%" stop-color="#f7de30"/><stop offset="100%" stop-color="#f6e22e"/></linearGradient><linearGradient id="g623"><stop offset="0%" stop-color="#75ce69"/><stop offset="16.7%" stop-color="#67ce74"/><stop offset="33.3%" stop-color="#5ace80"/><stop offset="50%" stop-color="#4dcd8a"/><stop offset="66.7%" stop-color="#47cc90"/><stop offset="83.3%" stop-color="#41cb95"/><stop offset="100%" stop-color="#3dc99b"/></linearGradient><linearGradient id="g624"><stop offset="0%" stop-color="#55cd84"/><stop offset="16.7%" stop-color="#4dcd8a"/><stop offset="33.3%" stop-color="#47cc90"/><stop offset="50%" stop-color="#41cb95"/><stop offset="66.7%" stop-color="#3eca99"/><stop offset="83.3%" stop-color="#3bc99d"/><stop offset="100%" stop-color="#39c8a0"/></linearGradient><linearGradient id="g625"><stop offset="0%" stop-color="#32c5aa"/><stop offset="16.7%" stop-color="#2fc5ad"/><stop offset="33.3%" stop-color="#2cc4b0"/><stop offset="50%" stop-color="#28c3b3"/><stop offset="66.7%" stop-color="#23c2b5"/><stop offset="83.3%" stop-color="#1ec1b8"/><stop offset="100%" stop-color="#19c0bb"/></linearGradient><linearGradient id="g626"><stop offset="0%" stop-color="#09bacc"/><stop offset="16.7%" stop-color="#09b9cc"/><stop offset="33.3%" stop-color="#0ab9cd"/><stop offset="50%" stop-color="#0bb9ce"/><stop offset="66.7%" stop-color="#0bb8ce"/><stop offset="83.3%" stop-color="#0cb8cf"/><stop offset="100%" stop-color="#0db8cf"/></linearGradient><linearGradient id="g627"><stop offset="0%" stop-color="#0bb9cd"/><stop offset="16.7%" stop-color="#18b4d7"/><stop offset="33.3%" stop-color="#21aede"/><stop offset="50%" stop-color="#23ace1"/><stop offset="66.7%" stop-color="#20aede"/><stop offset="83.3%" stop-color="#1bb2d9"/><stop offset="100%" stop-color="#14b5d5"/></linearGradient><linearGradient id="g628"><stop offset="0%" stop-color="#1db1db"/><stop offset="16.7%" stop-color="#25a9e2"/><stop offset="33.3%" stop-color="#29a4e5"/><stop offset="50%" stop-color="#28a5e4"/><stop offset="66.7%" stop-color="#23ace0"/><stop offset="83.3%" stop-color="#1db1da"/><stop offset="100%" stop-color="#16b4d6"/></linearGradient><linearGradient id="g629"><stop offset="0%" stop-color="#27a6e4"/><stop offset="16.7%" stop-color="#2d9cea"/><stop offset="33.3%" stop-color="#2d9aeb"/><stop offset="50%" stop-color="#2b9fe8"/><stop offset="66.7%" stop-color="#25a9e2"/><stop offset="83.3%" stop-color="#1eb0dc"/><stop offset="100%" stop-color="#17b4d7"/></linearGradient><linearGradient id="g630"><stop offset="0%" stop-color="#2f97ed"/><stop offset="16.7%" stop-color="#338ef4"/><stop offset="33.3%" stop-color="#3390f3"/><stop offset="50%" stop-color="#2e9aeb"/><stop offset="66.7%" stop-color="#27a7e3"/><stop offset="83.3%" stop-color="#1fb0dc"/><stop offset="100%" stop-color="#18b4d7"/></linearGradient><linearGradient id="g631"><stop offset="0%" stop-color="#3585fa"/><stop offset="16.7%" stop-color="#397efd"/><stop offset="33.3%" stop-color="#3585fa"/><stop offset="50%" stop-color="#3195ef"/><stop offset="66.7%" stop-color="#28a6e4"/><stop offset="83.3%" stop-color="#20afdd"/><stop offset="100%" stop-color="#19b3d7"/></linearGradient><linearGradient id="g632"><stop offset="0%" stop-color="#476ffe"/><stop offset="16.7%" stop-color="#486dfe"/><stop offset="33.3%" stop-color="#3e7afe"/><stop offset="50%" stop-color="#3390f3"/><stop offset="66.7%" stop-color="#29a4e5"/><stop offset="83.3%" stop-color="#20afdd"/><stop offset="100%" stop-color="#19b3d7"/></linearGradient><linearGradient id="g633"><stop offset="0%" stop-color="#4d5cf8"/><stop offset="16.7%" stop-color="#4d5ef9"/><stop offset="33.3%" stop-color="#476ffe"/><stop offset="50%" stop-color="#348bf7"/><stop offset="66.7%" stop-color="#2aa3e6"/><stop offset="83.3%" stop-color="#20afdd"/><stop offset="100%" stop-color="#19b3d8"/></linearGradient><linearGradient id="g634"><stop offset="0%" stop-color="#4d4dec"/><stop offset="16.7%" stop-color="#4d51f0"/><stop offset="33.3%" stop-color="#4b66fc"/><stop offset="50%" stop-color="#3586f9"/><stop offset="66.7%" stop-color="#2aa2e6"/><stop offset="83.3%" stop-color="#20afdd"/><stop offset="100%" stop-color="#19b3d8"/></linearGradient><linearGradient id="g635"><stop offset="0%" stop-color="#4c42e0"/><stop offset="16.7%" stop-color="#4d48e7"/><stop offset="33.3%" stop-color="#4d5ff9"/><stop offset="50%" stop-color="#3782fb"/><stop offset="66.7%" stop-color="#2ba1e7"/><stop offset="83.3%" stop-color="#21aede"/><stop offset="100%" stop-color="#1ab3d8"/></linearGradient><linearGradient id="g636"><stop offset="0%" stop-color="#4a3bd2"/><stop offset="16.7%" stop-color="#4c41df"/><stop offset="33.3%" stop-color="#4d58f5"/><stop offset="50%" stop-color="#3b7dfd"/><stop offset="66.7%" stop-color="#2c9fe8"/><stop offset="83.3%" stop-color="#21aede"/><stop offset="100%" stop-color="#1bb2d9"/></linearGradient><linearGradient id="g637"><stop offset="0%" stop-color="#4836c7"/><stop offset="16.7%" stop-color="#4b3dd7"/><stop offset="33.3%" stop-color="#4d53f1"/><stop offset="50%" stop-color="#4078fe"/><stop offset="66.7%" stop-color="#2d9cea"/><stop offset="83.3%" stop-color="#22addf"/><stop offset="100%" stop-color="#1cb2da"/></linearGradient><linearGradient id="g638"><stop offset="0%" stop-color="#4733be"/><stop offset="16.7%" stop-color="#4a3ad0"/><stop offset="33.3%" stop-color="#4d4eed"/><stop offset="50%" stop-color="#4473ff"/><stop offset="66.7%" stop-color="#2e9aec"/><stop offset="83.3%" stop-color="#23ace1"/><stop offset="100%" stop-color="#1eb1db"/></linearGradient><linearGradient id="g639"><stop offset="0%" stop-color="#4631b8"/><stop offset="16.7%" stop-color="#4938ca"/><stop offset="33.3%" stop-color="#4d4ae9"/><stop offset="50%" stop-color="#476efe"/><stop offset="66.7%" stop-color="#3097ee"/><stop offset="83.3%" stop-color="#24aae1"/><stop offset="100%" stop-color="#1fb0dc"/></linearGradient><linearGradient id="g640"><stop offset="0%" stop-color="#452fb3"/><stop offset="16.7%" stop-color="#4836c6"/><stop offset="33.3%" stop-color="#4d47e6"/><stop offset="50%" stop-color="#496afd"/><stop offset="66.7%" stop-color="#3195ef"/><stop offset="83.3%" stop-color="#25a9e2"/><stop offset="100%" stop-color="#20afdd"/></linearGradient><linearGradient id="g641"><stop offset="0%" stop-color="#442eaf"/><stop offset="16.7%" stop-color="#4835c3"/><stop offset="33.3%" stop-color="#4c45e3"/><stop offset="50%" stop-color="#4b67fc"/><stop offset="66.7%" stop-color="#3293f1"/><stop offset="83.3%" stop-color="#26a8e3"/><stop offset="100%" stop-color="#21aedf"/></linearGradient><linearGradient id="g642"><stop offset="0%" stop-color="#442dac"/><stop offset="16.7%" stop-color="#4734c1"/><stop offset="33.3%" stop-color="#4c43e0"/><stop offset="50%" stop-color="#4b64fc"/><stop offset="66.7%" stop-color="#3391f2"/><stop offset="83.3%" stop-color="#27a7e4"/><stop offset="100%" stop-color="#22addf"/></linearGradient><linearGradient id="g643"><stop offset="0%" stop-color="#442dac"/><stop offset="16.7%" stop-color="#4735c2"/><stop offset="33.3%" stop-color="#4c42e0"/><stop offset="50%" stop-color="#4b64fb"/><stop offset="66.7%" stop-color="#3390f3"/><stop offset="83.3%" stop-color="#27a6e4"/><stop offset="100%" stop-color="#22ace0"/></linearGradient><linearGradient id="g644"><stop offset="0%" stop-color="#442eaf"/><stop offset="16.7%" stop-color="#4835c3"/><stop offset="33.3%" stop-color="#4c43e1"/><stop offset="50%" stop-color="#4b65fc"/><stop offset="66.7%" stop-color="#3390f3"/><stop offset="83.3%" stop-color="#27a7e4"/><stop offset="100%" stop-color="#22addf"/></linearGradient><linearGradient id="g645"><stop offset="0%" stop-color="#452fb2"/><stop offset="16.7%" stop-color="#4836c5"/><stop offset="33.3%" stop-color="#4c45e3"/><stop offset="50%" stop-color="#4b67fc"/><stop offset="66.7%" stop-color="#3391f2"/><stop offset="83.3%" stop-color="#27a7e3"/><stop offset="100%" stop-color="#21aede"/></linearGradient><linearGradient id="g646"><stop offset="0%" stop-color="#4631b7"/><stop offset="16.7%" stop-color="#4937c9"/><stop offset="33.3%" stop-color="#4d47e6"/><stop offset="50%" stop-color="#4a6afd"/><stop offset="66.7%" stop-color="#3293f1"/><stop offset="83.3%" stop-color="#26a8e3"/><stop offset="100%" stop-color="#20afdd"/></linearGradient><linearGradient id="g647"><stop offset="0%" stop-color="#4733bd"/><stop offset="16.7%" stop-color="#4939ce"/><stop offset="33.3%" stop-color="#4d4bea"/><stop offset="50%" stop-color="#486efe"/><stop offset="66.7%" stop-color="#3195ef"/><stop offset="83.3%" stop-color="#25a9e2"/><stop offset="100%" stop-color="#1fb0dc"/></linearGradient><linearGradient id="g648"><stop offset="0%" stop-color="#4836c4"/><stop offset="16.7%" stop-color="#4a3cd4"/><stop offset="33.3%" stop-color="#4d50ef"/><stop offset="50%" stop-color="#4572ff"/><stop offset="66.7%" stop-color="#3097ee"/><stop offset="83.3%" stop-color="#24aae2"/><stop offset="100%" stop-color="#1eb0db"/></linearGradient><linearGradient id="g649"><stop offset="0%" stop-color="#4938cc"/><stop offset="16.7%" stop-color="#4b40dc"/><stop offset="33.3%" stop-color="#4d56f4"/><stop offset="50%" stop-color="#4078fe"/><stop offset="66.7%" stop-color="#2e99ec"/><stop offset="83.3%" stop-color="#24abe1"/><stop offset="100%" stop-color="#1db1da"/></linearGradient><linearGradient id="g650"><stop offset="0%" stop-color="#4a3dd6"/><stop offset="16.7%" stop-color="#4c46e4"/><stop offset="33.3%" stop-color="#4d5df8"/><stop offset="50%" stop-color="#3a7efd"/><stop offset="66.7%" stop-color="#2d9cea"/><stop offset="83.3%" stop-color="#23ace0"/><stop offset="100%" stop-color="#1cb2da"/></linearGradient><linearGradient id="g651"><stop offset="0%" stop-color="#4c44e2"/><stop offset="16.7%" stop-color="#4d4eed"/><stop offset="33.3%" stop-color="#4b66fc"/><stop offset="50%" stop-color="#3684fb"/><stop offset="66.7%" stop-color="#2c9ee8"/><stop offset="83.3%" stop-color="#22ade0"/><stop offset="100%" stop-color="#1bb2d9"/></linearGradient><linearGradient id="g652"><stop offset="0%" stop-color="#4d4fee"/><stop offset="16.7%" stop-color="#4d5bf6"/><stop offset="33.3%" stop-color="#4770fe"/><stop offset="50%" stop-color="#3489f8"/><stop offset="66.7%" stop-color="#2ba0e7"/><stop offset="83.3%" stop-color="#22addf"/><stop offset="100%" stop-color="#1ab3d9"/></linearGradient><linearGradient id="g653"><stop offset="0%" stop-color="#4c61fa"/><stop offset="16.7%" stop-color="#4a6afd"/><stop offset="33.3%" stop-color="#3c7bfe"/><stop offset="50%" stop-color="#338ff4"/><stop offset="66.7%" stop-color="#2aa2e6"/><stop offset="83.3%" stop-color="#21aedf"/><stop offset="100%" stop-color="#1ab3d8"/></linearGradient><linearGradient id="g654"><stop offset="0%" stop-color="#4276ff"/><stop offset="16.7%" stop-color="#3c7cfe"/><stop offset="33.3%" stop-color="#3587f9"/><stop offset="50%" stop-color="#3195ef"/><stop offset="66.7%" stop-color="#29a3e5"/><stop offset="83.3%" stop-color="#21aede"/><stop offset="100%" stop-color="#19b3d8"/></linearGradient><linearGradient id="g655"><stop offset="0%" stop-color="#348bf7"/><stop offset="16.7%" stop-color="#348cf6"/><stop offset="33.3%" stop-color="#3391f2"/><stop offset="50%" stop-color="#2e9aec"/><stop offset="66.7%" stop-color="#28a6e4"/><stop offset="83.3%" stop-color="#20afdd"/><stop offset="100%" stop-color="#19b4d7"/></linearGradient><linearGradient id="g656"><stop offset="0%" stop-color="#2d9beb"/><stop offset="16.7%" stop-color="#2f99ec"/><stop offset="33.3%" stop-color="#2e99ec"/><stop offset="50%" stop-color="#2c9ee8"/><stop offset="66.7%" stop-color="#26a8e3"/><stop offset="83.3%" stop-color="#1fb0dd"/><stop offset="100%" stop-color="#17b4d6"/></linearGradient><linearGradient id="g657"><stop offset="0%" stop-color="#29a4e5"/><stop offset="16.7%" stop-color="#2ba1e7"/><stop offset="33.3%" stop-color="#2ba0e7"/><stop offset="50%" stop-color="#2aa2e6"/><stop offset="66.7%" stop-color="#25aae2"/><stop offset="83.3%" stop-color="#1eb1db"/><stop offset="100%" stop-color="#15b5d5"/></linearGradient><linearGradient id="g658"><stop offset="0%" stop-color="#28a5e5"/><stop offset="16.7%" stop-color="#29a5e5"/><stop offset="33.3%" stop-color="#29a4e5"/><stop offset="50%" stop-color="#28a6e4"/><stop offset="66.7%" stop-color="#23ace0"/><stop offset="83.3%" stop-color="#1cb2da"/><stop offset="100%" stop-color="#13b5d4"/></linearGradient><linearGradient id="g659"><stop offset="0%" stop-color="#09bacc"/><stop offset="16.7%" stop-color="#09b9cc"/><stop offset="33.3%" stop-color="#0ab9cd"/><stop offset="50%" stop-color="#0bb9ce"/><stop offset="66.7%" stop-color="#0bb8ce"/><stop offset="83.3%" stop-color="#0cb8cf"/><stop offset="100%" stop-color="#0db8cf"/></linearGradient><linearGradient id="g660"><stop offset="0%" stop-color="#28c3b3"/><stop offset="16.7%" stop-color="#26c2b4"/><stop offset="33.3%" stop-color="#23c2b5"/><stop offset="50%" stop-color="#21c1b7"/><stop offset="66.7%" stop-color="#1ec1b8"/><stop offset="83.3%" stop-color="#1cc1ba"/><stop offset="100%" stop-color="#19c0bb"/></linearGradient><linearGradient id="g661"><stop offset="0%" stop-color="#4dcd8a"/><stop offset="16.7%" stop-color="#47cc90"/><stop offset="33.3%" stop-color="#41cb95"/><stop offset="50%" stop-color="#3dc99b"/><stop offset="66.7%" stop-color="#3ac99e"/><stop offset="83.3%" stop-color="#38c8a2"/><stop offset="100%" stop-color="#36c7a5"/></linearGradient><linearGradient id="g662"><stop offset="0%" stop-color="#6dce70"/><stop offset="16.7%" stop-color="#62ce79"/><stop offset="33.3%" stop-color="#57cd82"/><stop offset="50%" stop-color="#4dcd8a"/><stop offset="66.7%" stop-color="#47cc90"/><stop offset="83.3%" stop-color="#41cb95"/><stop offset="100%" stop-color="#3dc99b"/></linearGradient></defs>
<g shape-rendering="crispEdges"><rect x="64.4" y="27.35" width="57.4" height="6.09" fill="url(#g1)"/><rect x="64.4" y="33.14" width="57.4" height="6.09" fill="url(#g2)"/><rect x="64.4" y="38.93" width="57.4" height="6.09" fill="url(#g3)"/><rect x="64.4" y="44.72" width="57.4" height="6.09" fill="url(#g4)"/><rect x="64.4" y="50.51" width="57.4" height="6.09" fill="url(#g5)"/><rect x="64.4" y="56.30" width="57.4" height="6.09" fill="url(#g6)"/><rect x="64.4" y="62.09" width="57.4" height="6.09" fill="url(#g7)"/><rect x="64.4" y="67.88" width="57.4" height="6.09" fill="url(#g8)"/><rect x="64.4" y="73.67" width="57.4" height="6.09" fill="url(#g9)"/><rect x="64.4" y="79.46" width="57.4" height="6.09" fill="url(#g10)"/><rect x="64.4" y="85.25" width="57.4" height="6.09" fill="url(#g11)"/><rect x="64.4" y="91.04" width="57.4" height="6.09" fill="url(#g12)"/><rect x="64.4" y="96.83" width="57.4" height="6.09" fill="url(#g13)"/><rect x="64.4" y="102.62" width="57.4" height="6.09" fill="url(#g14)"/><rect x="64.4" y="108.41" width="57.4" height="6.09" fill="url(#g15)"/><rect x="64.4" y="114.20" width="57.4" height="3.32" fill="url(#g16)"/><rect x="64.4" y="117.22" width="57.4" height="3.32" fill="url(#g17)"/><rect x="64.4" y="120.23" width="57.4" height="3.32" fill="url(#g18)"/><rect x="64.4" y="123.25" width="57.4" height="3.32" fill="url(#g19)"/><rect x="64.4" y="126.26" width="57.4" height="3.32" fill="url(#g20)"/><rect x="64.4" y="129.28" width="57.4" height="3.32" fill="url(#g21)"/><rect x="64.4" y="132.29" width="57.4" height="3.32" fill="url(#g22)"/><rect x="64.4" y="135.31" width="57.4" height="3.32" fill="url(#g23)"/><rect x="64.4" y="138.33" width="57.4" height="3.32" fill="url(#g24)"/><rect x="64.4" y="141.34" width="57.4" height="3.32" fill="url(#g25)"/><rect x="64.4" y="144.36" width="57.4" height="3.32" fill="url(#g26)"/><rect x="64.4" y="147.37" width="57.4" height="3.32" fill="url(#g27)"/><rect x="64.4" y="150.39" width="57.4" height="3.32" fill="url(#g28)"/><rect x="64.4" y="153.40" width="57.4" height="3.32" fill="url(#g29)"/><rect x="64.4" y="156.42" width="57.4" height="3.32" fill="url(#g30)"/><rect x="64.4" y="159.43" width="57.4" height="3.32" fill="url(#g31)"/><rect x="64.4" y="162.45" width="57.4" height="3.32" fill="url(#g32)"/><rect x="64.4" y="165.47" width="57.4" height="3.32" fill="url(#g33)"/><rect x="64.4" y="168.48" width="57.4" height="3.32" fill="url(#g34)"/><rect x="64.4" y="171.50" width="57.4" height="3.32" fill="url(#g35)"/><rect x="64.4" y="174.51" width="57.4" height="3.32" fill="url(#g36)"/><rect x="64.4" y="177.53" width="57.4" height="3.32" fill="url(#g37)"/><rect x="64.4" y="180.54" width="57.4" height="3.32" fill="url(#g38)"/><rect x="64.4" y="183.56" width="57.4" height="3.32" fill="url(#g39)"/><rect x="64.4" y="186.58" width="57.4" height="3.32" fill="url(#g40)"/><rect x="64.4" y="189.59" width="57.4" height="3.32" fill="url(#g41)"/><rect x="64.4" y="192.61" width="57.4" height="3.32" fill="url(#g42)"/><rect x="64.4" y="195.62" width="57.4" height="3.32" fill="url(#g43)"/><rect x="64.4" y="198.64" width="57.4" height="3.32" fill="url(#g44)"/><rect x="64.4" y="201.65" width="57.4" height="3.32" fill="url(#g45)"/><rect x="64.4" y="204.67" width="57.4" height="3.32" fill="url(#g46)"/><rect x="64.4" y="207.68" width="57.4" height="3.32" fill="url(#g47)"/><rect x="64.4" y="210.70" width="57.4" height="6.09" fill="url(#g48)"/><rect x="64.4" y="216.49" width="57.4" height="6.09" fill="url(#g49)"/><rect x="64.4" y="222.28" width="57.4" height="6.09" fill="url(#g50)"/><rect x="64.4" y="228.07" width="57.4" height="6.09" fill="url(#g51)"/><rect x="64.4" y="233.86" width="57.4" height="6.09" fill="url(#g52)"/><rect x="64.4" y="239.65" width="57.4" height="6.09" fill="url(#g53)"/><rect x="64.4" y="245.44" width="57.4" height="6.09" fill="url(#g54)"/><rect x="64.4" y="251.23" width="57.4" height="6.09" fill="url(#g55)"/><rect x="64.4" y="257.02" width="57.4" height="6.09" fill="url(#g56)"/><rect x="64.4" y="262.81" width="57.4" height="6.09" fill="url(#g57)"/><rect x="64.4" y="268.60" width="57.4" height="6.09" fill="url(#g58)"/><rect x="64.4" y="274.39" width="57.4" height="6.09" fill="url(#g59)"/><rect x="64.4" y="280.18" width="57.4" height="6.09" fill="url(#g60)"/><rect x="64.4" y="285.97" width="57.4" height="6.09" fill="url(#g61)"/><rect x="64.4" y="291.76" width="57.4" height="6.09" fill="url(#g62)"/></g>
<g shape-rendering="crispEdges"><rect x="189.5" y="27.35" width="57.4" height="6.09" fill="url(#g63)"/><rect x="189.5" y="33.14" width="57.4" height="6.09" fill="url(#g64)"/><rect x="189.5" y="38.93" width="57.4" height="6.09" fill="url(#g65)"/><rect x="189.5" y="44.72" width="57.4" height="6.09" fill="url(#g66)"/><rect x="189.5" y="50.51" width="57.4" height="6.09" fill="url(#g67)"/><rect x="189.5" y="56.30" width="57.4" height="6.09" fill="url(#g68)"/><rect x="189.5" y="62.09" width="57.4" height="6.09" fill="url(#g69)"/><rect x="189.5" y="67.88" width="57.4" height="6.09" fill="url(#g70)"/><rect x="189.5" y="73.67" width="57.4" height="6.09" fill="url(#g71)"/><rect x="189.5" y="79.46" width="57.4" height="6.09" fill="url(#g72)"/><rect x="189.5" y="85.25" width="57.4" height="6.09" fill="url(#g73)"/><rect x="189.5" y="91.04" width="57.4" height="6.09" fill="url(#g74)"/><rect x="189.5" y="96.83" width="57.4" height="6.09" fill="url(#g75)"/><rect x="189.5" y="102.62" width="57.4" height="6.09" fill="url(#g76)"/><rect x="189.5" y="108.41" width="57.4" height="6.09" fill="url(#g77)"/><rect x="189.5" y="114.20" width="57.4" height="3.32" fill="url(#g78)"/><rect x="189.5" y="117.22" width="57.4" height="3.32" fill="url(#g79)"/><rect x="189.5" y="120.23" width="57.4" height="3.32" fill="url(#g80)"/><rect x="189.5" y="123.25" width="57.4" height="3.32" fill="url(#g81)"/><rect x="189.5" y="126.26" width="57.4" height="3.32" fill="url(#g82)"/><rect x="189.5" y="129.28" width="57.4" height="3.32" fill="url(#g83)"/><rect x="189.5" y="132.29" width="57.4" height="3.32" fill="url(#g84)"/><rect x="189.5" y="135.31" width="57.4" height="3.32" fill="url(#g85)"/><rect x="189.5" y="138.33" width="57.4" height="3.32" fill="url(#g86)"/><rect x="189.5" y="141.34" width="57.4" height="3.32" fill="url(#g87)"/><rect x="189.5" y="144.36" width="57.4" height="3.32" fill="url(#g88)"/><rect x="189.5" y="147.37" width="57.4" height="3.32" fill="url(#g89)"/><rect x="189.5" y="150.39" width="57.4" height="3.32" fill="url(#g90)"/><rect x="189.5" y="153.40" width="57.4" height="3.32" fill="url(#g91)"/><rect x="189.5" y="156.42" width="57.4" height="3.32" fill="url(#g92)"/><rect x="189.5" y="159.43" width="57.4" height="3.32" fill="url(#g93)"/><rect x="189.5" y="162.45" width="57.4" height="3.32" fill="url(#g94)"/><rect x="189.5" y="165.47" width="57.4" height="3.32" fill="url(#g95)"/><rect x="189.5" y="168.48" width="57.4" height="3.32" fill="url(#g96)"/><rect x="189.5" y="171.50" width="57.4" height="3.32" fill="url(#g97)"/><rect x="189.5" y="174.51" width="57.4" height="3.32" fill="url(#g98)"/><rect x="189.5" y="177.53" width="57.4" height="3.32" fill="url(#g99)"/><rect x="189.5" y="180.54" width="57.4" height="3.32" fill="url(#g100)"/><rect x="189.5" y="183.56" width="57.4" height="3.32" fill="url(#g101)"/><rect x="189.5" y="186.58" width="57.4" height="3.32" fill="url(#g102)"/><rect x="189.5" y="189.59" width="57.4" height="3.32" fill="url(#g103)"/><rect x="189.5" y="192.61" width="57.4" height="3.32" fill="url(#g104)"/><rect x="189.5" y="195.62" width="57.4" height="3.32" fill="url(#g105)"/><rect x="189.5" y="198.64" width="57.4" height="3.32" fill="url(#g106)"/><rect x="189.5" y="201.65" width="57.4" height="3.32" fill="url(#g107)"/><rect x="189.5" y="204.67" width="57.4" height="3.32" fill="url(#g108)"/><rect x="189.5" y="207.68" width="57.4" height="3.32" fill="url(#g109)"/><rect x="189.5" y="210.70" width="57.4" height="6.09" fill="url(#g110)"/><rect x="189.5" y="216.49" width="57.4" height="6.09" fill="url(#g111)"/><rect x="189.5" y="222.28" width="57.4" height="6.09" fill="url(#g112)"/><rect x="189.5" y="228.07" width="57.4" height="6.09" fill="url(#g113)"/><rect x="189.5" y="233.86" width="57.4" height="6.09" fill="url(#g114)"/><rect x="189.5" y="239.65" width="57.4" height="6.09" fill="url(#g115)"/><rect x="189.5" y="245.44" width="57.4" height="6.09" fill="url(#g116)"/><rect x="189.5" y="251.23" width="57.4" height="6.09" fill="url(#g117)"/><rect x="189.5" y="257.02" width="57.4" height="6.09" fill="url(#g118)"/><rect x="189.5" y="262.81" width="57.4" height="6.09" fill="url(#g119)"/><rect x="189.5" y="268.60" width="57.4" height="6.09" fill="url(#g120)"/><rect x="189.5" y="274.39" width="57.4" height="6.09" fill="url(#g121)"/><rect x="189.5" y="280.18" width="57.4" height="6.09" fill="url(#g122)"/><rect x="189.5" y="285.97" width="57.4" height="6.09" fill="url(#g123)"/><rect x="189.5" y="291.76" width="57.4" height="6.09" fill="url(#g124)"/></g>
<g shape-rendering="crispEdges"><rect x="315.0" y="27.35" width="57.4" height="6.09" fill="url(#g125)"/><rect x="315.0" y="33.14" width="57.4" height="6.09" fill="url(#g126)"/><rect x="315.0" y="38.93" width="57.4" height="6.09" fill="url(#g127)"/><rect x="315.0" y="44.72" width="57.4" height="6.09" fill="url(#g128)"/><rect x="315.0" y="50.51" width="57.4" height="6.09" fill="url(#g129)"/><rect x="315.0" y="56.30" width="57.4" height="6.09" fill="url(#g130)"/><rect x="315.0" y="62.09" width="57.4" height="6.09" fill="url(#g131)"/><rect x="315.0" y="67.88" width="57.4" height="6.09" fill="url(#g132)"/><rect x="315.0" y="73.67" width="57.4" height="6.09" fill="url(#g133)"/><rect x="315.0" y="79.46" width="57.4" height="6.09" fill="url(#g134)"/><rect x="315.0" y="85.25" width="57.4" height="6.09" fill="url(#g135)"/><rect x="315.0" y="91.04" width="57.4" height="6.09" fill="url(#g136)"/><rect x="315.0" y="96.83" width="57.4" height="6.09" fill="url(#g137)"/><rect x="315.0" y="102.62" width="57.4" height="6.09" fill="url(#g138)"/><rect x="315.0" y="108.41" width="57.4" height="6.09" fill="url(#g139)"/><rect x="315.0" y="114.20" width="57.4" height="3.32" fill="url(#g140)"/><rect x="315.0" y="117.22" width="57.4" height="3.32" fill="url(#g141)"/><rect x="315.0" y="120.23" width="57.4" height="3.32" fill="url(#g142)"/><rect x="315.0" y="123.25" width="57.4" height="3.32" fill="url(#g143)"/><rect x="315.0" y="126.26" width="57.4" height="3.32" fill="url(#g144)"/><rect x="315.0" y="129.28" width="57.4" height="3.32" fill="url(#g145)"/><rect x="315.0" y="132.29" width="57.4" height="3.32" fill="url(#g146)"/><rect x="315.0" y="135.31" width="57.4" height="3.32" fill="url(#g147)"/><rect x="315.0" y="138.33" width="57.4" height="3.32" fill="url(#g148)"/><rect x="315.0" y="141.34" width="57.4" height="3.32" fill="url(#g149)"/><rect x="315.0" y="144.36" width="57.4" height="3.32" fill="url(#g150)"/><rect x="315.0" y="147.37" width="57.4" height="3.32" fill="url(#g151)"/><rect x="315.0" y="150.39" width="57.4" height="3.32" fill="url(#g152)"/><rect x="315.0" y="153.40" width="57.4" height="3.32" fill="url(#g153)"/><rect x="315.0" y="156.42" width="57.4" height="3.32" fill="url(#g154)"/><rect x="315.0" y="159.43" width="57.4" height="3.32" fill="url(#g155)"/><rect x="315.0" y="162.45" width="57.4" height="3.32" fill="url(#g156)"/><rect x="315.0" y="165.47" width="57.4" height="3.32" fill="url(#g157)"/><rect x="315.0" y="168.48" width="57.4" height="3.32" fill="url(#g158)"/><rect x="315.0" y="171.50" width="57.4" height="3.32" fill="url(#g159)"/><rect x="315.0" y="174.51" width="57.4" height="3.32" fill="url(#g160)"/><rect x="315.0" y="177.53" width="57.4" height="3.32" fill="url(#g161)"/><rect x="315.0" y="180.54" width="57.4" height="3.32" fill="url(#g162)"/><rect x="315.0" y="183.56" width="57.4" height="3.32" fill="url(#g163)"/><rect x="315.0" y="186.58" width="57.4" height="3.32" fill="url(#g164)"/><rect x="315.0" y="189.59" width="57.4" height="3.32" fill="url(#g165)"/><rect x="315.0" y="192.61" width="57.4" height="3.32" fill="url(#g166)"/><rect x="315.0" y="195.62" width="57.4" height="3.32" fill="url(#g167)"/><rect x="315.0" y="198.64" width="57.4" height="3.32" fill="url(#g168)"/><rect x="315.0" y="201.65" width="57.4" height="3.32" fill="url(#g169)"/><rect x="315.0" y="204.67" width="57.4" height="3.32" fill="url(#g170)"/><rect x="315.0" y="207.68" width="57.4" height="3.32" fill="url(#g171)"/><rect x="315.0" y="210.70" width="57.4" height="6.09" fill="url(#g172)"/><rect x="315.0" y="216.49" width="57.4" height="6.09" fill="url(#g173)"/><rect x="315.0" y="222.28" width="57.4" height="6.09" fill="url(#g174)"/><rect x="315.0" y="228.07" width="57.4" height="6.09" fill="url(#g175)"/><rect x="315.0" y="233.86" width="57.4" height="6.09" fill="url(#g176)"/><rect x="315.0" y="239.65" width="57.4" height="6.09" fill="url(#g177)"/><rect x="315.0" y="245.44" width="57.4" height="6.09" fill="url(#g178)"/><rect x="315.0" y="251.23" width="57.4" height="6.09" fill="url(#g179)"/><rect x="315.0" y="257.02" width="57.4" height="6.09" fill="url(#g180)"/><rect x="315.0" y="262.81" width="57.4" height="6.09" fill="url(#g181)"/><rect x="315.0" y="268.60" width="57.4" height="6.09" fill="url(#g182)"/><rect x="315.0" y="274.39" width="57.4" height="6.09" fill="url(#g183)"/><rect x="315.0" y="280.18" width="57.4" height="6.09" fill="url(#g184)"/><rect x="315.0" y="285.97" width="57.4" height="6.09" fill="url(#g185)"/><rect x="315.0" y="291.76" width="57.4" height="6.09" fill="url(#g186)"/></g>
<g shape-rendering="crispEdges"><rect x="440.6" y="27.35" width="57.4" height="6.09" fill="url(#g187)"/><rect x="440.6" y="33.14" width="57.4" height="6.09" fill="url(#g188)"/><rect x="440.6" y="38.93" width="57.4" height="6.09" fill="url(#g189)"/><rect x="440.6" y="44.72" width="57.4" height="6.09" fill="url(#g190)"/><rect x="440.6" y="50.51" width="57.4" height="6.09" fill="url(#g191)"/><rect x="440.6" y="56.30" width="57.4" height="6.09" fill="url(#g192)"/><rect x="440.6" y="62.09" width="57.4" height="6.09" fill="url(#g193)"/><rect x="440.6" y="67.88" width="57.4" height="6.09" fill="url(#g194)"/><rect x="440.6" y="73.67" width="57.4" height="6.09" fill="url(#g195)"/><rect x="440.6" y="79.46" width="57.4" height="6.09" fill="url(#g196)"/><rect x="440.6" y="85.25" width="57.4" height="6.09" fill="url(#g197)"/><rect x="440.6" y="91.04" width="57.4" height="6.09" fill="url(#g198)"/><rect x="440.6" y="96.83" width="57.4" height="6.09" fill="url(#g199)"/><rect x="440.6" y="102.62" width="57.4" height="6.09" fill="url(#g200)"/><rect x="440.6" y="108.41" width="57.4" height="6.09" fill="url(#g201)"/><rect x="440.6" y="114.20" width="57.4" height="3.32" fill="url(#g202)"/><rect x="440.6" y="117.22" width="57.4" height="3.32" fill="url(#g203)"/><rect x="440.6" y="120.23" width="57.4" height="3.32" fill="url(#g204)"/><rect x="440.6" y="123.25" width="57.4" height="3.32" fill="url(#g205)"/><rect x="440.6" y="126.26" width="57.4" height="3.32" fill="url(#g206)"/><rect x="440.6" y="129.28" width="57.4" height="3.32" fill="url(#g207)"/><rect x="440.6" y="132.29" width="57.4" height="3.32" fill="url(#g208)"/><rect x="440.6" y="135.31" width="57.4" height="3.32" fill="url(#g209)"/><rect x="440.6" y="138.33" width="57.4" height="3.32" fill="url(#g210)"/><rect x="440.6" y="141.34" width="57.4" height="3.32" fill="url(#g211)"/><rect x="440.6" y="144.36" width="57.4" height="3.32" fill="url(#g212)"/><rect x="440.6" y="147.37" width="57.4" height="3.32" fill="url(#g213)"/><rect x="440.6" y="150.39" width="57.4" height="3.32" fill="url(#g214)"/><rect x="440.6" y="153.40" width="57.4" height="3.32" fill="url(#g215)"/><rect x="440.6" y="156.42" width="57.4" height="3.32" fill="url(#g216)"/><rect x="440.6" y="159.43" width="57.4" height="3.32" fill="url(#g217)"/><rect x="440.6" y="162.45" width="57.4" height="3.32" fill="url(#g218)"/><rect x="440.6" y="165.47" width="57.4" height="3.32" fill="url(#g219)"/><rect x="440.6" y="168.48" width="57.4" height="3.32" fill="url(#g220)"/><rect x="440.6" y="171.50" width="57.4" height="3.32" fill="url(#g221)"/><rect x="440.6" y="174.51" width="57.4" height="3.32" fill="url(#g222)"/><rect x="440.6" y="177.53" width="57.4" height="3.32" fill="url(#g223)"/><rect x="440.6" y="180.54" width="57.4" height="3.32" fill="url(#g224)"/><rect x="440.6" y="183.56" width="57.4" height="3.32" fill="url(#g225)"/><rect x="440.6" y="186.58" width="57.4" height="3.32" fill="url(#g226)"/><rect x="440.6" y="189.59" width="57.4" height="3.32" fill="url(#g227)"/><rect x="440.6" y="192.61" width="57.4" height="3.32" fill="url(#g228)"/><rect x="440.6" y="195.62" width="57.4" height="3.32" fill="url(#g229)"/><rect x="440.6" y="198.64" width="57.4" height="3.32" fill="url(#g230)"/><rect x="440.6" y="201.65" width="57.4" height="3.32" fill="url(#g231)"/><rect x="440.6" y="204.67" width="57.4" height="3.32" fill="url(#g232)"/><rect x="440.6" y="207.68" width="57.4" height="3.32" fill="url(#g233)"/><rect x="440.6" y="210.70" width="57.4" height="6.09" fill="url(#g234)"/><rect x="440.6" y="216.49" width="57.4" height="6.09" fill="url(#g235)"/><rect x="440.6" y="222.28" width="57.4" height="6.09" fill="url(#g236)"/><rect x="440.6" y="228.07" width="57.4" height="6.09" fill="url(#g237)"/><rect x="440.6" y="233.86" width="57.4" height="6.09" fill="url(#g238)"/><rect x="440.6" y="239.65" width="57.4" height="6.09" fill="url(#g239)"/><rect x="440.6" y="245.44" width="57.4" height="6.09" fill="url(#g240)"/><rect x="440.6" y="251.23" width="57.4" height="6.09" fill="url(#g241)"/><rect x="440.6" y="257.02" width="57.4" height="6.09" fill="url(#g242)"/><rect x="440.6" y="262.81" width="57.4" height="6.09" fill="url(#g243)"/><rect x="440.6" y="268.60" width="57.4" height="6.09" fill="url(#g244)"/><rect x="440.6" y="274.39" width="57.4" height="6.09" fill="url(#g245)"/><rect x="440.6" y="280.18" width="57.4" height="6.09" fill="url(#g246)"/><rect x="440.6" y="285.97" width="57.4" height="6.09" fill="url(#g247)"/><rect x="440.6" y="291.76" width="57.4" height="6.09" fill="url(#g248)"/></g>
<g shape-rendering="crispEdges"><rect x="64.4" y="344.25" width="57.4" height="6.09" fill="url(#g249)"/><rect x="64.4" y="350.04" width="57.4" height="6.09" fill="url(#g250)"/><rect x="64.4" y="355.83" width="57.4" height="6.09" fill="url(#g251)"/><rect x="64.4" y="361.62" width="57.4" height="6.09" fill="url(#g252)"/><rect x="64.4" y="367.41" width="57.4" height="6.09" fill="url(#g253)"/><rect x="64.4" y="373.20" width="57.4" height="6.09" fill="url(#g254)"/><rect x="64.4" y="378.99" width="57.4" height="6.09" fill="url(#g255)"/><rect x="64.4" y="384.78" width="57.4" height="6.09" fill="url(#g256)"/><rect x="64.4" y="390.57" width="57.4" height="6.09" fill="url(#g257)"/><rect x="64.4" y="396.36" width="57.4" height="6.09" fill="url(#g258)"/><rect x="64.4" y="402.15" width="57.4" height="6.09" fill="url(#g259)"/><rect x="64.4" y="407.94" width="57.4" height="6.09" fill="url(#g260)"/><rect x="64.4" y="413.73" width="57.4" height="6.09" fill="url(#g261)"/><rect x="64.4" y="419.52" width="57.4" height="6.09" fill="url(#g262)"/><rect x="64.4" y="425.31" width="57.4" height="6.09" fill="url(#g263)"/><rect x="64.4" y="431.10" width="57.4" height="3.32" fill="url(#g264)"/><rect x="64.4" y="434.12" width="57.4" height="3.32" fill="url(#g265)"/><rect x="64.4" y="437.13" width="57.4" height="3.32" fill="url(#g266)"/><rect x="64.4" y="440.15" width="57.4" height="3.32" fill="url(#g267)"/><rect x="64.4" y="443.16" width="57.4" height="3.32" fill="url(#g268)"/><rect x="64.4" y="446.18" width="57.4" height="3.32" fill="url(#g269)"/><rect x="64.4" y="449.19" width="57.4" height="3.32" fill="url(#g270)"/><rect x="64.4" y="452.21" width="57.4" height="3.32" fill="url(#g271)"/><rect x="64.4" y="455.23" width="57.4" height="3.32" fill="url(#g272)"/><rect x="64.4" y="458.24" width="57.4" height="3.32" fill="url(#g273)"/><rect x="64.4" y="461.26" width="57.4" height="3.32" fill="url(#g274)"/><rect x="64.4" y="464.27" width="57.4" height="3.32" fill="url(#g275)"/><rect x="64.4" y="467.29" width="57.4" height="3.32" fill="url(#g276)"/><rect x="64.4" y="470.30" width="57.4" height="3.32" fill="url(#g277)"/><rect x="64.4" y="473.32" width="57.4" height="3.32" fill="url(#g278)"/><rect x="64.4" y="476.33" width="57.4" height="3.32" fill="url(#g279)"/><rect x="64.4" y="479.35" width="57.4" height="3.32" fill="url(#g280)"/><rect x="64.4" y="482.37" width="57.4" height="3.32" fill="url(#g281)"/><rect x="64.4" y="485.38" width="57.4" height="3.32" fill="url(#g282)"/><rect x="64.4" y="488.40" width="57.4" height="3.32" fill="url(#g283)"/><rect x="64.4" y="491.41" width="57.4" height="3.32" fill="url(#g284)"/><rect x="64.4" y="494.43" width="57.4" height="3.32" fill="url(#g285)"/><rect x="64.4" y="497.44" width="57.4" height="3.32" fill="url(#g286)"/><rect x="64.4" y="500.46" width="57.4" height="3.32" fill="url(#g287)"/><rect x="64.4" y="503.48" width="57.4" height="3.32" fill="url(#g288)"/><rect x="64.4" y="506.49" width="57.4" height="3.32" fill="url(#g289)"/><rect x="64.4" y="509.51" width="57.4" height="3.32" fill="url(#g290)"/><rect x="64.4" y="512.52" width="57.4" height="3.32" fill="url(#g291)"/><rect x="64.4" y="515.54" width="57.4" height="3.32" fill="url(#g292)"/><rect x="64.4" y="518.55" width="57.4" height="3.32" fill="url(#g293)"/><rect x="64.4" y="521.57" width="57.4" height="3.32" fill="url(#g294)"/><rect x="64.4" y="524.58" width="57.4" height="3.32" fill="url(#g295)"/><rect x="64.4" y="527.60" width="57.4" height="6.09" fill="url(#g296)"/><rect x="64.4" y="533.39" width="57.4" height="6.09" fill="url(#g297)"/><rect x="64.4" y="539.18" width="57.4" height="6.09" fill="url(#g298)"/><rect x="64.4" y="544.97" width="57.4" height="6.09" fill="url(#g299)"/><rect x="64.4" y="550.76" width="57.4" height="6.09" fill="url(#g300)"/><rect x="64.4" y="556.55" width="57.4" height="6.09" fill="url(#g301)"/><rect x="64.4" y="562.34" width="57.4" height="6.09" fill="url(#g302)"/><rect x="64.4" y="568.13" width="57.4" height="6.09" fill="url(#g303)"/><rect x="64.4" y="573.92" width="57.4" height="6.09" fill="url(#g304)"/><rect x="64.4" y="579.71" width="57.4" height="6.09" fill="url(#g305)"/><rect x="64.4" y="585.50" width="57.4" height="6.09" fill="url(#g306)"/><rect x="64.4" y="591.29" width="57.4" height="6.09" fill="url(#g307)"/><rect x="64.4" y="597.08" width="57.4" height="6.09" fill="url(#g308)"/><rect x="64.4" y="602.87" width="57.4" height="6.09" fill="url(#g309)"/><rect x="64.4" y="608.66" width="57.4" height="6.09" fill="url(#g310)"/></g>
<g shape-rendering="crispEdges"><rect x="189.5" y="344.25" width="57.4" height="19.60" fill="url(#g311)"/><rect x="189.5" y="363.55" width="57.4" height="19.60" fill="url(#g312)"/><rect x="189.5" y="382.85" width="57.4" height="19.60" fill="url(#g313)"/><rect x="189.5" y="402.15" width="57.4" height="19.60" fill="url(#g314)"/><rect x="189.5" y="421.45" width="57.4" height="9.95" fill="url(#g315)"/><rect x="189.5" y="431.10" width="57.4" height="3.32" fill="url(#g316)"/><rect x="189.5" y="434.12" width="57.4" height="3.32" fill="url(#g317)"/><rect x="189.5" y="437.13" width="57.4" height="3.32" fill="url(#g318)"/><rect x="189.5" y="440.15" width="57.4" height="3.32" fill="url(#g319)"/><rect x="189.5" y="443.16" width="57.4" height="3.32" fill="url(#g320)"/><rect x="189.5" y="446.18" width="57.4" height="3.32" fill="url(#g321)"/><rect x="189.5" y="449.19" width="57.4" height="3.32" fill="url(#g322)"/><rect x="189.5" y="452.21" width="57.4" height="3.32" fill="url(#g323)"/><rect x="189.5" y="455.23" width="57.4" height="3.32" fill="url(#g324)"/><rect x="189.5" y="458.24" width="57.4" height="3.32" fill="url(#g325)"/><rect x="189.5" y="461.26" width="57.4" height="3.32" fill="url(#g326)"/><rect x="189.5" y="464.27" width="57.4" height="3.32" fill="url(#g327)"/><rect x="189.5" y="467.29" width="57.4" height="3.32" fill="url(#g328)"/><rect x="189.5" y="470.30" width="57.4" height="3.32" fill="url(#g329)"/><rect x="189.5" y="473.32" width="57.4" height="3.32" fill="url(#g330)"/><rect x="189.5" y="476.33" width="57.4" height="3.32" fill="url(#g331)"/><rect x="189.5" y="479.35" width="57.4" height="3.32" fill="url(#g332)"/><rect x="189.5" y="482.37" width="57.4" height="3.32" fill="url(#g333)"/><rect x="189.5" y="485.38" width="57.4" height="3.32" fill="url(#g334)"/><rect x="189.5" y="488.40" width="57.4" height="3.32" fill="url(#g335)"/><rect x="189.5" y="491.41" width="57.4" height="3.32" fill="url(#g336)"/><rect x="189.5" y="494.43" width="57.4" height="3.32" fill="url(#g337)"/><rect x="189.5" y="497.44" width="57.4" height="3.32" fill="url(#g338)"/><rect x="189.5" y="500.46" width="57.4" height="3.32" fill="url(#g339)"/><rect x="189.5" y="503.48" width="57.4" height="3.32" fill="url(#g340)"/><rect x="189.5" y="506.49" width="57.4" height="3.32" fill="url(#g341)"/><rect x="189.5" y="509.51" width="57.4" height="3.32" fill="url(#g342)"/><rect x="189.5" y="512.52" width="57.4" height="3.32" fill="url(#g343)"/><rect x="189.5" y="515.54" width="57.4" height="3.32" fill="url(#g344)"/><rect x="189.5" y="518.55" width="57.4" height="3.32" fill="url(#g345)"/><rect x="189.5" y="521.57" width="57.4" height="3.32" fill="url(#g346)"/><rect x="189.5" y="524.58" width="57.4" height="3.32" fill="url(#g347)"/><rect x="189.5" y="527.60" width="57.4" height="9.95" fill="url(#g348)"/><rect x="189.5" y="537.25" width="57.4" height="19.60" fill="url(#g349)"/><rect x="189.5" y="556.55" width="57.4" height="19.60" fill="url(#g350)"/><rect x="189.5" y="575.85" width="57.4" height="19.60" fill="url(#g351)"/><rect x="189.5" y="595.15" width="57.4" height="19.60" fill="url(#g352)"/></g>
<g shape-rendering="crispEdges"><rect x="315.0" y="344.25" width="57.4" height="6.09" fill="url(#g353)"/><rect x="315.0" y="350.04" width="57.4" height="6.09" fill="url(#g354)"/><rect x="315.0" y="355.83" width="57.4" height="6.09" fill="url(#g355)"/><rect x="315.0" y="361.62" width="57.4" height="6.09" fill="url(#g356)"/><rect x="315.0" y="367.41" width="57.4" height="6.09" fill="url(#g357)"/><rect x="315.0" y="373.20" width="57.4" height="6.09" fill="url(#g358)"/><rect x="315.0" y="378.99" width="57.4" height="6.09" fill="url(#g359)"/><rect x="315.0" y="384.78" width="57.4" height="6.09" fill="url(#g360)"/><rect x="315.0" y="390.57" width="57.4" height="6.09" fill="url(#g361)"/><rect x="315.0" y="396.36" width="57.4" height="6.09" fill="url(#g362)"/><rect x="315.0" y="402.15" width="57.4" height="6.09" fill="url(#g363)"/><rect x="315.0" y="407.94" width="57.4" height="6.09" fill="url(#g364)"/><rect x="315.0" y="413.73" width="57.4" height="6.09" fill="url(#g365)"/><rect x="315.0" y="419.52" width="57.4" height="6.09" fill="url(#g366)"/><rect x="315.0" y="425.31" width="57.4" height="6.09" fill="url(#g367)"/><rect x="315.0" y="431.10" width="57.4" height="3.32" fill="url(#g368)"/><rect x="315.0" y="434.12" width="57.4" height="3.32" fill="url(#g369)"/><rect x="315.0" y="437.13" width="57.4" height="3.32" fill="url(#g370)"/><rect x="315.0" y="440.15" width="57.4" height="3.32" fill="url(#g371)"/><rect x="315.0" y="443.16" width="57.4" height="3.32" fill="url(#g372)"/><rect x="315.0" y="446.18" width="57.4" height="3.32" fill="url(#g373)"/><rect x="315.0" y="449.19" width="57.4" height="3.32" fill="url(#g374)"/><rect x="315.0" y="452.21" width="57.4" height="3.32" fill="url(#g375)"/><rect x="315.0" y="455.23" width="57.4" height="3.32" fill="url(#g376)"/><rect x="315.0" y="458.24" width="57.4" height="3.32" fill="url(#g377)"/><rect x="315.0" y="461.26" width="57.4" height="3.32" fill="url(#g378)"/><rect x="315.0" y="464.27" width="57.4" height="3.32" fill="url(#g379)"/><rect x="315.0" y="467.29" width="57.4" height="3.32" fill="url(#g380)"/><rect x="315.0" y="470.30" width="57.4" height="3.32" fill="url(#g381)"/><rect x="315.0" y="473.32" width="57.4" height="3.32" fill="url(#g382)"/><rect x="315.0" y="476.33" width="57.4" height="3.32" fill="url(#g383)"/><rect x="315.0" y="479.35" width="57.4" height="3.32" fill="url(#g384)"/><rect x="315.0" y="482.37" width="57.4" height="3.32" fill="url(#g385)"/><rect x="315.0" y="485.38" width="57.4" height="3.32" fill="url(#g386)"/><rect x="315.0" y="488.40" width="57.4" height="3.32" fill="url(#g387)"/><rect x="315.0" y="491.41" width="57.4" height="3.32" fill="url(#g388)"/><rect x="315.0" y="494.43" width="57.4" height="3.32" fill="url(#g389)"/><rect x="315.0" y="497.44" width="57.4" height="3.32" fill="url(#g390)"/><rect x="315.0" y="500.46" width="57.4" height="3.32" fill="url(#g391)"/><rect x="315.0" y="503.48" width="57.4" height="3.32" fill="url(#g392)"/><rect x="315.0" y="506.49" width="57.4" height="3.32" fill="url(#g393)"/><rect x="315.0" y="509.51" width="57.4" height="3.32" fill="url(#g394)"/><rect x="315.0" y="512.52" width="57.4" height="3.32" fill="url(#g395)"/><rect x="315.0" y="515.54" width="57.4" height="3.32" fill="url(#g396)"/><rect x="315.0" y="518.55" width="57.4" height="3.32" fill="url(#g397)"/><rect x="315.0" y="521.57" width="57.4" height="3.32" fill="url(#g398)"/><rect x="315.0" y="524.58" width="57.4" height="3.32" fill="url(#g399)"/><rect x="315.0" y="527.60" width="57.4" height="6.09" fill="url(#g400)"/><rect x="315.0" y="533.39" width="57.4" height="6.09" fill="url(#g401)"/><rect x="315.0" y="539.18" width="57.4" height="6.09" fill="url(#g402)"/><rect x="315.0" y="544.97" width="57.4" height="6.09" fill="url(#g403)"/><rect x="315.0" y="550.76" width="57.4" height="6.09" fill="url(#g404)"/><rect x="315.0" y="556.55" width="57.4" height="6.09" fill="url(#g405)"/><rect x="315.0" y="562.34" width="57.4" height="6.09" fill="url(#g406)"/><rect x="315.0" y="568.13" width="57.4" height="6.09" fill="url(#g407)"/><rect x="315.0" y="573.92" width="57.4" height="6.09" fill="url(#g408)"/><rect x="315.0" y="579.71" width="57.4" height="6.09" fill="url(#g409)"/><rect x="315.0" y="585.50" width="57.4" height="6.09" fill="url(#g410)"/><rect x="315.0" y="591.29" width="57.4" height="6.09" fill="url(#g411)"/><rect x="315.0" y="597.08" width="57.4" height="6.09" fill="url(#g412)"/><rect x="315.0" y="602.87" width="57.4" height="6.09" fill="url(#g413)"/><rect x="315.0" y="608.66" width="57.4" height="6.09" fill="url(#g414)"/></g>
<g shape-rendering="crispEdges"><rect x="440.6" y="344.25" width="57.4" height="19.60" fill="url(#g415)"/><rect x="440.6" y="363.55" width="57.4" height="19.60" fill="url(#g416)"/><rect x="440.6" y="382.85" width="57.4" height="19.60" fill="url(#g417)"/><rect x="440.6" y="402.15" width="57.4" height="19.60" fill="url(#g418)"/><rect x="440.6" y="421.45" width="57.4" height="9.95" fill="url(#g419)"/><rect x="440.6" y="431.10" width="57.4" height="3.32" fill="url(#g420)"/><rect x="440.6" y="434.12" width="57.4" height="3.32" fill="url(#g421)"/><rect x="440.6" y="437.13" width="57.4" height="3.32" fill="url(#g422)"/><rect x="440.6" y="440.15" width="57.4" height="3.32" fill="url(#g423)"/><rect x="440.6" y="443.16" width="57.4" height="3.32" fill="url(#g424)"/><rect x="440.6" y="446.18" width="57.4" height="3.32" fill="url(#g425)"/><rect x="440.6" y="449.19" width="57.4" height="3.32" fill="url(#g426)"/><rect x="440.6" y="452.21" width="57.4" height="3.32" fill="url(#g427)"/><rect x="440.6" y="455.23" width="57.4" height="3.32" fill="url(#g428)"/><rect x="440.6" y="458.24" width="57.4" height="3.32" fill="url(#g429)"/><rect x="440.6" y="461.26" width="57.4" height="3.32" fill="url(#g430)"/><rect x="440.6" y="464.27" width="57.4" height="3.32" fill="url(#g431)"/><rect x="440.6" y="467.29" width="57.4" height="3.32" fill="url(#g432)"/><rect x="440.6" y="470.30" width="57.4" height="3.32" fill="url(#g433)"/><rect x="440.6" y="473.32" width="57.4" height="3.32" fill="url(#g434)"/><rect x="440.6" y="476.33" width="57.4" height="3.32" fill="url(#g435)"/><rect x="440.6" y="479.35" width="57.4" height="3.32" fill="url(#g436)"/><rect x="440.6" y="482.37" width="57.4" height="3.32" fill="url(#g437)"/><rect x="440.6" y="485.38" width="57.4" height="3.32" fill="url(#g438)"/><rect x="440.6" y="488.40" width="57.4" height="3.32" fill="url(#g439)"/><rect x="440.6" y="491.41" width="57.4" height="3.32" fill="url(#g440)"/><rect x="440.6" y="494.43" width="57.4" height="3.32" fill="url(#g441)"/><rect x="440.6" y="497.44" width="57.4" height="3.32" fill="url(#g442)"/><rect x="440.6" y="500.46" width="57.4" height="3.32" fill="url(#g443)"/><rect x="440.6" y="503.48" width="57.4" height="3.32" fill="url(#g444)"/><rect x="440.6" y="506.49" width="57.4" height="3.32" fill="url(#g445)"/><rect x="440.6" y="509.51" width="57.4" height="3.32" fill="url(#g446)"/><rect x="440.6" y="512.52" width="57.4" height="3.32" fill="url(#g447)"/><rect x="440.6" y="515.54" width="57.4" height="3.32" fill="url(#g448)"/><rect x="440.6" y="518.55" width="57.4" height="3.32" fill="url(#g449)"/><rect x="440.6" y="521.57" width="57.4" height="3.32" fill="url(#g450)"/><rect x="440.6" y="524.58" width="57.4" height="3.32" fill="url(#g451)"/><rect x="440.6" y="527.60" width="57.4" height="9.95" fill="url(#g452)"/><rect x="440.6" y="537.25" width="57.4" height="19.60" fill="url(#g453)"/><rect x="440.6" y="556.55" width="57.4" height="19.60" fill="url(#g454)"/><rect x="440.6" y="575.85" width="57.4" height="19.60" fill="url(#g455)"/><rect x="440.6" y="595.15" width="57.4" height="19.60" fill="url(#g456)"/></g>
<g shape-rendering="crispEdges"><rect x="64.4" y="663.08" width="59.3" height="5.96" fill="url(#g457)"/><rect x="64.4" y="668.74" width="59.3" height="5.96" fill="url(#g458)"/><rect x="64.4" y="674.40" width="59.3" height="5.96" fill="url(#g459)"/><rect x="64.4" y="680.06" width="59.3" height="5.96" fill="url(#g460)"/><rect x="64.4" y="685.73" width="59.3" height="5.96" fill="url(#g461)"/><rect x="64.4" y="691.39" width="59.3" height="5.96" fill="url(#g462)"/><rect x="64.4" y="697.05" width="59.3" height="5.96" fill="url(#g463)"/><rect x="64.4" y="702.71" width="59.3" height="5.96" fill="url(#g464)"/><rect x="64.4" y="708.37" width="59.3" height="5.96" fill="url(#g465)"/><rect x="64.4" y="714.03" width="59.3" height="5.96" fill="url(#g466)"/><rect x="64.4" y="719.69" width="59.3" height="5.96" fill="url(#g467)"/><rect x="64.4" y="725.35" width="59.3" height="5.96" fill="url(#g468)"/><rect x="64.4" y="731.02" width="59.3" height="5.96" fill="url(#g469)"/><rect x="64.4" y="736.68" width="59.3" height="5.96" fill="url(#g470)"/><rect x="64.4" y="742.34" width="59.3" height="5.96" fill="url(#g471)"/><rect x="64.4" y="748.00" width="59.3" height="3.32" fill="url(#g472)"/><rect x="64.4" y="751.02" width="59.3" height="3.32" fill="url(#g473)"/><rect x="64.4" y="754.03" width="59.3" height="3.32" fill="url(#g474)"/><rect x="64.4" y="757.05" width="59.3" height="3.32" fill="url(#g475)"/><rect x="64.4" y="760.06" width="59.3" height="3.32" fill="url(#g476)"/><rect x="64.4" y="763.08" width="59.3" height="3.32" fill="url(#g477)"/><rect x="64.4" y="766.09" width="59.3" height="3.32" fill="url(#g478)"/><rect x="64.4" y="769.11" width="59.3" height="3.32" fill="url(#g479)"/><rect x="64.4" y="772.12" width="59.3" height="3.32" fill="url(#g480)"/><rect x="64.4" y="775.14" width="59.3" height="3.32" fill="url(#g481)"/><rect x="64.4" y="778.16" width="59.3" height="3.32" fill="url(#g482)"/><rect x="64.4" y="781.17" width="59.3" height="3.32" fill="url(#g483)"/><rect x="64.4" y="784.19" width="59.3" height="3.32" fill="url(#g484)"/><rect x="64.4" y="787.20" width="59.3" height="3.32" fill="url(#g485)"/><rect x="64.4" y="790.22" width="59.3" height="3.32" fill="url(#g486)"/><rect x="64.4" y="793.23" width="59.3" height="3.32" fill="url(#g487)"/><rect x="64.4" y="796.25" width="59.3" height="3.32" fill="url(#g488)"/><rect x="64.4" y="799.27" width="59.3" height="3.32" fill="url(#g489)"/><rect x="64.4" y="802.28" width="59.3" height="3.32" fill="url(#g490)"/><rect x="64.4" y="805.30" width="59.3" height="3.32" fill="url(#g491)"/><rect x="64.4" y="808.31" width="59.3" height="3.32" fill="url(#g492)"/><rect x="64.4" y="811.33" width="59.3" height="3.32" fill="url(#g493)"/><rect x="64.4" y="814.34" width="59.3" height="3.32" fill="url(#g494)"/><rect x="64.4" y="817.36" width="59.3" height="3.32" fill="url(#g495)"/><rect x="64.4" y="820.38" width="59.3" height="3.32" fill="url(#g496)"/><rect x="64.4" y="823.39" width="59.3" height="3.32" fill="url(#g497)"/><rect x="64.4" y="826.41" width="59.3" height="3.32" fill="url(#g498)"/><rect x="64.4" y="829.42" width="59.3" height="3.32" fill="url(#g499)"/><rect x="64.4" y="832.44" width="59.3" height="3.32" fill="url(#g500)"/><rect x="64.4" y="835.45" width="59.3" height="3.32" fill="url(#g501)"/><rect x="64.4" y="838.47" width="59.3" height="3.32" fill="url(#g502)"/><rect x="64.4" y="841.48" width="59.3" height="3.32" fill="url(#g503)"/><rect x="64.4" y="844.50" width="59.3" height="6.09" fill="url(#g504)"/><rect x="64.4" y="850.29" width="59.3" height="6.09" fill="url(#g505)"/><rect x="64.4" y="856.08" width="59.3" height="6.09" fill="url(#g506)"/><rect x="64.4" y="861.87" width="59.3" height="6.09" fill="url(#g507)"/><rect x="64.4" y="867.66" width="59.3" height="6.09" fill="url(#g508)"/><rect x="64.4" y="873.45" width="59.3" height="6.09" fill="url(#g509)"/><rect x="64.4" y="879.24" width="59.3" height="6.09" fill="url(#g510)"/><rect x="64.4" y="885.03" width="59.3" height="6.09" fill="url(#g511)"/><rect x="64.4" y="890.82" width="59.3" height="6.09" fill="url(#g512)"/><rect x="64.4" y="896.61" width="59.3" height="6.09" fill="url(#g513)"/><rect x="64.4" y="902.40" width="59.3" height="6.09" fill="url(#g514)"/><rect x="64.4" y="908.19" width="59.3" height="6.09" fill="url(#g515)"/><rect x="64.4" y="913.98" width="59.3" height="6.09" fill="url(#g516)"/><rect x="64.4" y="919.77" width="59.3" height="6.09" fill="url(#g517)"/><rect x="64.4" y="925.56" width="59.3" height="6.09" fill="url(#g518)"/></g>
<g shape-rendering="crispEdges"><rect x="189.5" y="663.08" width="59.3" height="19.60" fill="url(#g519)"/><rect x="189.5" y="682.38" width="59.3" height="19.60" fill="url(#g520)"/><rect x="189.5" y="701.68" width="59.3" height="19.60" fill="url(#g521)"/><rect x="189.5" y="720.98" width="59.3" height="19.60" fill="url(#g522)"/><rect x="189.5" y="740.28" width="59.3" height="8.02" fill="url(#g523)"/><rect x="189.5" y="748.00" width="59.3" height="3.32" fill="url(#g524)"/><rect x="189.5" y="751.02" width="59.3" height="3.32" fill="url(#g525)"/><rect x="189.5" y="754.03" width="59.3" height="3.32" fill="url(#g526)"/><rect x="189.5" y="757.05" width="59.3" height="3.32" fill="url(#g527)"/><rect x="189.5" y="760.06" width="59.3" height="3.32" fill="url(#g528)"/><rect x="189.5" y="763.08" width="59.3" height="3.32" fill="url(#g529)"/><rect x="189.5" y="766.09" width="59.3" height="3.32" fill="url(#g530)"/><rect x="189.5" y="769.11" width="59.3" height="3.32" fill="url(#g531)"/><rect x="189.5" y="772.12" width="59.3" height="3.32" fill="url(#g532)"/><rect x="189.5" y="775.14" width="59.3" height="3.32" fill="url(#g533)"/><rect x="189.5" y="778.16" width="59.3" height="3.32" fill="url(#g534)"/><rect x="189.5" y="781.17" width="59.3" height="3.32" fill="url(#g535)"/><rect x="189.5" y="784.19" width="59.3" height="3.32" fill="url(#g536)"/><rect x="189.5" y="787.20" width="59.3" height="3.32" fill="url(#g537)"/><rect x="189.5" y="790.22" width="59.3" height="3.32" fill="url(#g538)"/><rect x="189.5" y="793.23" width="59.3" height="3.32" fill="url(#g539)"/><rect x="189.5" y="796.25" width="59.3" height="3.32" fill="url(#g540)"/><rect x="189.5" y="799.27" width="59.3" height="3.32" fill="url(#g541)"/><rect x="189.5" y="802.28" width="59.3" height="3.32" fill="url(#g542)"/><rect x="189.5" y="805.30" width="59.3" height="3.32" fill="url(#g543)"/><rect x="189.5" y="808.31" width="59.3" height="3.32" fill="url(#g544)"/><rect x="189.5" y="811.33" width="59.3" height="3.32" fill="url(#g545)"/><rect x="189.5" y="814.34" width="59.3" height="3.32" fill="url(#g546)"/><rect x="189.5" y="817.36" width="59.3" height="3.32" fill="url(#g547)"/><rect x="189.5" y="820.38" width="59.3" height="3.32" fill="url(#g548)"/><rect x="189.5" y="823.39" width="59.3" height="3.32" fill="url(#g549)"/><rect x="189.5" y="826.41" width="59.3" height="3.32" fill="url(#g550)"/><rect x="189.5" y="829.42" width="59.3" height="3.32" fill="url(#g551)"/><rect x="189.5" y="832.44" width="59.3" height="3.32" fill="url(#g552)"/><rect x="189.5" y="835.45" width="59.3" height="3.32" fill="url(#g553)"/><rect x="189.5" y="838.47" width="59.3" height="3.32" fill="url(#g554)"/><rect x="189.5" y="841.48" width="59.3" height="3.32" fill="url(#g555)"/><rect x="189.5" y="844.50" width="59.3" height="9.95" fill="url(#g556)"/><rect x="189.5" y="854.15" width="59.3" height="19.60" fill="url(#g557)"/><rect x="189.5" y="873.45" width="59.3" height="19.60" fill="url(#g558)"/><rect x="189.5" y="892.75" width="59.3" height="19.60" fill="url(#g559)"/><rect x="189.5" y="912.05" width="59.3" height="19.60" fill="url(#g560)"/></g>
<g shape-rendering="crispEdges"><rect x="315.0" y="663.08" width="59.3" height="5.96" fill="url(#g561)"/><rect x="315.0" y="668.74" width="59.3" height="5.96" fill="url(#g562)"/><rect x="315.0" y="674.40" width="59.3" height="5.96" fill="url(#g563)"/><rect x="315.0" y="680.06" width="59.3" height="5.96" fill="url(#g564)"/><rect x="315.0" y="685.73" width="59.3" height="5.96" fill="url(#g565)"/><rect x="315.0" y="691.39" width="59.3" height="5.96" fill="url(#g566)"/><rect x="315.0" y="697.05" width="59.3" height="5.96" fill="url(#g567)"/><rect x="315.0" y="702.71" width="59.3" height="5.96" fill="url(#g568)"/><rect x="315.0" y="708.37" width="59.3" height="5.96" fill="url(#g569)"/><rect x="315.0" y="714.03" width="59.3" height="5.96" fill="url(#g570)"/><rect x="315.0" y="719.69" width="59.3" height="5.96" fill="url(#g571)"/><rect x="315.0" y="725.35" width="59.3" height="5.96" fill="url(#g572)"/><rect x="315.0" y="731.02" width="59.3" height="5.96" fill="url(#g573)"/><rect x="315.0" y="736.68" width="59.3" height="5.96" fill="url(#g574)"/><rect x="315.0" y="742.34" width="59.3" height="5.96" fill="url(#g575)"/><rect x="315.0" y="748.00" width="59.3" height="3.32" fill="url(#g576)"/><rect x="315.0" y="751.02" width="59.3" height="3.32" fill="url(#g577)"/><rect x="315.0" y="754.03" width="59.3" height="3.32" fill="url(#g578)"/><rect x="315.0" y="757.05" width="59.3" height="3.32" fill="url(#g579)"/><rect x="315.0" y="760.06" width="59.3" height="3.32" fill="url(#g580)"/><rect x="315.0" y="763.08" width="59.3" height="3.32" fill="url(#g581)"/><rect x="315.0" y="766.09" width="59.3" height="3.32" fill="url(#g582)"/><rect x="315.0" y="769.11" width="59.3" height="3.32" fill="url(#g583)"/><rect x="315.0" y="772.12" width="59.3" height="3.32" fill="url(#g584)"/><rect x="315.0" y="775.14" width="59.3" height="3.32" fill="url(#g585)"/><rect x="315.0" y="778.16" width="59.3" height="3.32" fill="url(#g586)"/><rect x="315.0" y="781.17" width="59.3" height="3.32" fill="url(#g587)"/><rect x="315.0" y="784.19" width="59.3" height="3.32" fill="url(#g588)"/><rect x="315.0" y="787.20" width="59.3" height="3.32" fill="url(#g589)"/><rect x="315.0" y="790.22" width="59.3" height="3.32" fill="url(#g590)"/><rect x="315.0" y="793.23" width="59.3" height="3.32" fill="url(#g591)"/><rect x="315.0" y="796.25" width="59.3" height="3.32" fill="url(#g592)"/><rect x="315.0" y="799.27" width="59.3" height="3.32" fill="url(#g593)"/><rect x="315.0" y="802.28" width="59.3" height="3.32" fill="url(#g594)"/><rect x="315.0" y="805.30" width="59.3" height="3.32" fill="url(#g595)"/><rect x="315.0" y="808.31" width="59.3" height="3.32" fill="url(#g596)"/><rect x="315.0" y="811.33" width="59.3" height="3.32" fill="url(#g597)"/><rect x="315.0" y="814.34" width="59.3" height="3.32" fill="url(#g598)"/><rect x="315.0" y="817.36" width="59.3" height="3.32" fill="url(#g599)"/><rect x="315.0" y="820.38" width="59.3" height="3.32" fill="url(#g600)"/><rect x="315.0" y="823.39" width="59.3" height="3.32" fill="url(#g601)"/><rect x="315.0" y="826.41" width="59.3" height="3.32" fill="url(#g602)"/><rect x="315.0" y="829.42" width="59.3" height="3.32" fill="url(#g603)"/><rect x="315.0" y="832.44" width="59.3" height="3.32" fill="url(#g604)"/><rect x="315.0" y="835.45" width="59.3" height="3.32" fill="url(#g605)"/><rect x="315.0" y="838.47" width="59.3" height="3.32" fill="url(#g606)"/><rect x="315.0" y="841.48" width="59.3" height="3.32" fill="url(#g607)"/><rect x="315.0" y="844.50" width="59.3" height="6.09" fill="url(#g608)"/><rect x="315.0" y="850.29" width="59.3" height="6.09" fill="url(#g609)"/><rect x="315.0" y="856.08" width="59.3" height="6.09" fill="url(#g610)"/><rect x="315.0" y="861.87" width="59.3" height="6.09" fill="url(#g611)"/><rect x="315.0" y="867.66" width="59.3" height="6.09" fill="url(#g612)"/><rect x="315.0" y="873.45" width="59.3" height="6.09" fill="url(#g613)"/><rect x="315.0" y="879.24" width="59.3" height="6.09" fill="url(#g614)"/><rect x="315.0" y="885.03" width="59.3" height="6.09" fill="url(#g615)"/><rect x="315.0" y="890.82" width="59.3" height="6.09" fill="url(#g616)"/><rect x="315.0" y="896.61" width="59.3" height="6.09" fill="url(#g617)"/><rect x="315.0" y="902.40" width="59.3" height="6.09" fill="url(#g618)"/><rect x="315.0" y="908.19" width="59.3" height="6.09" fill="url(#g619)"/><rect x="315.0" y="913.98" width="59.3" height="6.09" fill="url(#g620)"/><rect x="315.0" y="919.77" width="59.3" height="6.09" fill="url(#g621)"/><rect x="315.0" y="925.56" width="59.3" height="6.09" fill="url(#g622)"/></g>
<g shape-rendering="crispEdges"><rect x="440.6" y="663.08" width="59.3" height="19.60" fill="url(#g623)"/><rect x="440.6" y="682.38" width="59.3" height="19.60" fill="url(#g624)"/><rect x="440.6" y="701.68" width="59.3" height="19.60" fill="url(#g625)"/><rect x="440.6" y="720.98" width="59.3" height="19.60" fill="url(#g626)"/><rect x="440.6" y="740.28" width="59.3" height="8.02" fill="#18b4d7"/><rect x="440.6" y="748.00" width="59.3" height="3.32" fill="url(#g627)"/><rect x="440.6" y="751.02" width="59.3" height="3.32" fill="url(#g628)"/><rect x="440.6" y="754.03" width="59.3" height="3.32" fill="url(#g629)"/><rect x="440.6" y="757.05" width="59.3" height="3.32" fill="url(#g630)"/><rect x="440.6" y="760.06" width="59.3" height="3.32" fill="url(#g631)"/><rect x="440.6" y="763.08" width="59.3" height="3.32" fill="url(#g632)"/><rect x="440.6" y="766.09" width="59.3" height="3.32" fill="url(#g633)"/><rect x="440.6" y="769.11" width="59.3" height="3.32" fill="url(#g634)"/><rect x="440.6" y="772.12" width="59.3" height="3.32" fill="url(#g635)"/><rect x="440.6" y="775.14" width="59.3" height="3.32" fill="url(#g636)"/><rect x="440.6" y="778.16" width="59.3" height="3.32" fill="url(#g637)"/><rect x="440.6" y="781.17" width="59.3" height="3.32" fill="url(#g638)"/><rect x="440.6" y="784.19" width="59.3" height="3.32" fill="url(#g639)"/><rect x="440.6" y="787.20" width="59.3" height="3.32" fill="url(#g640)"/><rect x="440.6" y="790.22" width="59.3" height="3.32" fill="url(#g641)"/><rect x="440.6" y="793.23" width="59.3" height="3.32" fill="url(#g642)"/><rect x="440.6" y="796.25" width="59.3" height="3.32" fill="url(#g643)"/><rect x="440.6" y="799.27" width="59.3" height="3.32" fill="url(#g644)"/><rect x="440.6" y="802.28" width="59.3" height="3.32" fill="url(#g645)"/><rect x="440.6" y="805.30" width="59.3" height="3.32" fill="url(#g646)"/><rect x="440.6" y="808.31" width="59.3" height="3.32" fill="url(#g647)"/><rect x="440.6" y="811.33" width="59.3" height="3.32" fill="url(#g648)"/><rect x="440.6" y="814.34" width="59.3" height="3.32" fill="url(#g649)"/><rect x="440.6" y="817.36" width="59.3" height="3.32" fill="url(#g650)"/><rect x="440.6" y="820.38" width="59.3" height="3.32" fill="url(#g651)"/><rect x="440.6" y="823.39" width="59.3" height="3.32" fill="url(#g652)"/><rect x="440.6" y="826.41" width="59.3" height="3.32" fill="url(#g653)"/><rect x="440.6" y="829.42" width="59.3" height="3.32" fill="url(#g654)"/><rect x="440.6" y="832.44" width="59.3" height="3.32" fill="url(#g655)"/><rect x="440.6" y="835.45" width="59.3" height="3.32" fill="url(#g656)"/><rect x="440.6" y="838.47" width="59.3" height="3.32" fill="url(#g657)"/><rect x="440.6" y="841.48" width="59.3" height="3.32" fill="url(#g658)"/><rect x="440.6" y="844.50" width="59.3" height="9.95" fill="#18b4d7"/><rect x="440.6" y="854.15" width="59.3" height="19.60" fill="url(#g659)"/><rect x="440.6" y="873.45" width="59.3" height="19.60" fill="url(#g660)"/><rect x="440.6" y="892.75" width="59.3" height="19.60" fill="url(#g661)"/><rect x="440.6" y="912.05" width="59.3" height="19.60" fill="url(#g662)"/></g>
<path d="M63.9 124.0C66.0 124.1 72.7 124.3 76.2 124.5C79.7 124.6 82.0 124.8 84.8 125.2C87.7 125.5 90.9 126.0 93.5 126.6C96.1 127.2 98.1 128.3 100.7 128.8C103.4 129.3 106.7 129.3 109.4 129.5C112.0 129.7 114.5 129.7 116.6 129.8C118.6 129.9 120.8 130.2 121.6 130.2M63.9 144.6C65.0 144.7 68.6 144.6 70.4 145.1C72.2 145.6 73.1 146.6 74.8 147.5C76.4 148.4 78.7 149.3 80.5 150.4C82.3 151.5 84.1 152.8 85.6 154.0C87.0 155.2 88.3 156.3 89.2 157.6C90.1 159.0 90.8 160.5 91.0 162.0C91.3 163.4 91.0 164.8 90.6 166.3C90.2 167.7 89.4 169.3 88.5 170.6C87.5 171.9 86.2 173.1 84.8 174.2C83.5 175.3 82.7 176.1 80.5 177.1C78.4 178.1 74.6 179.3 71.9 180.3C69.1 181.3 65.3 182.7 63.9 183.2M63.9 199.9C64.9 199.9 65.9 200.2 69.7 200.2C73.5 200.2 82.8 200.2 87.0 199.9C91.2 199.6 92.2 199.0 94.9 198.4C97.7 197.9 101.1 197.1 103.6 196.6C106.1 196.0 107.1 195.5 110.1 195.1C113.1 194.7 119.7 194.3 121.6 194.1" fill="none" stroke="#0a0a0a" stroke-width="1.25" stroke-linejoin="round" stroke-linecap="round"/><path d="M63.9 146.8L70.4 145.4L74.8 143.6L79.8 142.5L84.1 140.3L89.2 138.9L94.2 137.9L98.6 134.6L102.2 130.9L105.8 125.9L108.6 120.1L111.5 115.1L115.1 110.8L118.7 107.1L121.6 104.7M63.9 178.3L70.4 179.0L74.0 180.7L79.1 181.7L83.4 183.6L88.5 185.0L92.8 186.5L97.8 190.1L101.4 193.7L105.0 198.0L107.9 203.8L111.5 209.6L115.1 213.9L118.7 217.5L121.6 220.1" fill="none" stroke="#e3321c" stroke-width="1.25" stroke-linejoin="round"/><g font-family="'Liberation Serif', 'DejaVu Serif', serif" font-size="10.9" text-anchor="middle" fill="#101010" stroke="#101010" stroke-width="0.2"><text x="67.5" y="127.5">17.5</text><text transform="translate(107.9 128.3) rotate(-3)" y="3.5">17.5</text><text x="66.4" y="146.0">18</text><text x="76.2" y="180.6">18</text><text x="77.9" y="203.2">17.5</text><text x="118.7" y="198.2">17.5</text></g>
<path d="M189.9 115.1C191.3 115.2 195.7 115.4 198.3 115.8C200.9 116.2 203.5 116.5 205.5 117.2C207.6 118.0 208.9 118.8 210.6 120.1C212.3 121.4 214.1 123.4 215.6 125.2C217.2 127.0 218.7 129.0 219.9 130.9C221.2 132.9 222.3 134.9 223.1 136.7C224.0 138.5 224.5 139.6 225.0 141.8C225.5 143.9 225.8 146.4 226.0 149.7C226.2 152.9 226.1 157.4 226.0 161.2C225.9 165.1 225.7 169.2 225.4 172.8C225.1 176.4 224.9 179.7 224.3 182.9C223.6 186.0 222.6 189.0 221.4 191.5C220.2 194.0 218.6 196.1 217.1 198.0C215.5 199.9 213.8 201.6 212.0 203.1C210.2 204.5 208.3 205.8 206.2 206.7C204.2 207.5 201.9 207.8 199.8 208.1C197.6 208.5 194.9 208.7 193.3 208.8C191.6 209.0 190.5 209.1 189.9 209.1M189.9 130.7C190.7 130.7 193.2 130.5 194.7 130.9C196.2 131.4 197.8 132.1 199.0 133.1C200.3 134.1 201.6 135.4 202.3 136.7C203.1 138.0 203.7 139.6 203.8 141.0C203.8 142.5 203.4 144.0 202.6 145.4C201.8 146.7 200.1 147.8 199.0 149.0C197.9 150.2 197.1 151.4 196.1 152.6C195.2 153.8 194.1 155.3 193.3 156.2C192.4 157.0 191.6 157.3 191.1 157.6C190.5 158.0 190.1 158.2 189.9 158.3M189.9 168.4C190.5 168.7 192.2 169.0 193.3 169.9C194.3 170.7 195.1 172.3 196.1 173.5C197.2 174.7 198.5 175.9 199.8 177.1C201.0 178.3 202.6 179.4 203.4 180.7C204.1 182.0 204.5 183.6 204.4 185.0C204.2 186.5 203.5 188.2 202.6 189.4C201.7 190.6 200.4 191.5 199.0 192.2C197.7 193.0 196.0 193.7 194.7 194.1C193.4 194.5 191.9 194.6 191.1 194.7C190.3 194.8 190.1 194.9 189.9 195.0M189.7 42.4C190.5 41.2 193.0 37.8 194.7 35.6C196.4 33.3 198.9 30.0 199.8 28.9M189.9 283.0C190.9 284.1 193.5 287.5 195.4 289.9C197.3 292.3 200.2 295.9 201.2 297.1" fill="none" stroke="#0a0a0a" stroke-width="1.25" stroke-linejoin="round" stroke-linecap="round"/><g font-family="'Liberation Serif', 'DejaVu Serif', serif" font-size="10.9" text-anchor="middle" fill="#101010" stroke="#101010" stroke-width="0.2"><text transform="translate(226.0 141.0) rotate(-75)" y="3.5">3</text><text x="191.4" y="212.0">3</text><text x="191.4" y="159.0">2</text><text x="191.4" y="196.5">2</text><text transform="translate(200.6 27.2) rotate(-50)" y="3.5">4</text><text transform="translate(191.1 283.3) rotate(50)" y="3.5">4</text></g>
<path d="M315.1 94.5C315.9 93.5 318.3 90.4 319.7 88.3C321.1 86.2 322.2 83.9 323.3 81.8C324.4 79.8 325.1 77.9 326.2 76.1C327.3 74.3 328.4 72.4 329.8 71.0C331.2 69.6 333.0 68.5 334.8 67.7C336.7 66.9 338.5 66.5 340.6 66.4C342.8 66.3 345.4 66.7 347.8 67.1C350.2 67.5 352.6 68.2 355.0 68.8C357.4 69.5 360.1 70.4 362.3 71.0C364.4 71.6 366.3 72.1 368.0 72.5C369.8 72.8 371.9 73.1 372.6 73.2M315.1 115.4C316.0 115.1 318.6 114.2 320.4 113.6C322.3 112.9 323.8 112.1 326.2 111.4C328.6 110.7 332.0 109.8 334.8 109.2C337.7 108.7 340.4 108.4 343.5 108.1C346.6 107.8 350.2 107.7 353.6 107.5C357.0 107.3 360.5 107.0 363.7 106.8C366.9 106.6 371.1 106.4 372.6 106.3M315.1 125.1C316.0 124.7 318.6 123.5 320.4 122.9C322.3 122.3 323.8 121.8 326.2 121.5C328.6 121.2 332.0 121.1 334.8 121.1C337.7 121.1 340.4 121.2 343.5 121.5C346.6 121.8 350.2 122.3 353.6 122.9C357.0 123.5 360.5 124.5 363.7 125.1C366.9 125.7 371.1 126.3 372.6 126.5M315.1 131.6C316.2 131.4 319.5 130.4 321.9 130.1C324.2 129.9 326.9 130.0 329.1 130.1C331.2 130.3 332.4 130.4 334.8 130.9C337.3 131.4 340.9 132.2 343.5 133.0C346.1 133.9 348.6 134.8 350.7 135.9C352.9 137.0 354.7 138.2 356.5 139.5C358.3 140.8 360.1 142.3 361.5 143.9C363.0 145.4 364.2 147.2 365.1 148.9C366.1 150.6 366.8 152.1 367.3 153.9C367.8 155.8 368.2 157.7 368.3 159.7C368.4 161.7 368.3 163.9 368.0 165.9C367.7 167.9 367.3 169.6 366.6 171.6C365.9 173.7 364.8 176.3 363.7 178.1C362.6 179.9 361.8 180.9 360.1 182.5C358.4 184.0 355.9 186.1 353.6 187.5C351.3 188.9 349.0 190.1 346.4 191.1C343.7 192.1 340.6 192.7 337.7 193.3C334.8 193.9 331.8 194.4 329.1 194.7C326.3 195.0 322.5 195.0 321.1 195.0M315.1 139.5C316.2 139.5 319.5 139.3 321.9 139.5C324.2 139.8 326.9 140.4 329.1 141.0C331.2 141.6 332.9 142.3 334.8 143.1C336.8 144.0 338.7 144.9 340.6 146.0C342.5 147.1 344.5 148.1 346.4 149.6C348.3 151.2 350.8 153.7 352.2 155.4C353.5 157.1 353.8 158.3 354.3 159.7C354.8 161.2 355.0 162.5 355.0 164.0C355.0 165.6 354.8 167.2 354.3 168.8C353.8 170.3 353.0 171.8 352.2 173.1C351.3 174.4 350.6 175.5 349.3 176.7C347.9 177.9 346.3 179.2 344.2 180.3C342.2 181.4 339.5 182.6 337.0 183.5C334.5 184.3 331.7 184.9 329.1 185.3C326.4 185.8 322.5 185.9 321.1 186.1M315.1 146.7C316.0 146.7 318.3 146.1 320.4 146.4C322.5 146.8 325.5 148.0 327.6 148.9C329.8 149.8 331.7 150.7 333.4 151.8C335.1 152.9 336.5 154.1 337.7 155.4C338.9 156.7 340.0 158.4 340.6 159.7C341.2 161.0 341.5 162.1 341.3 163.3C341.2 164.6 340.9 165.9 339.9 167.3C338.9 168.7 337.3 170.4 335.6 171.6C333.9 172.9 331.8 173.8 329.8 174.8C327.8 175.8 324.9 176.8 323.3 177.4C321.7 178.0 320.9 178.2 320.4 178.4M315.1 155.4C315.7 155.5 317.7 155.6 319.0 156.1C320.2 156.6 321.6 157.3 322.6 158.3C323.5 159.2 324.5 160.7 324.8 161.9C325.0 163.1 324.6 164.5 324.0 165.6C323.4 166.7 321.9 167.7 321.1 168.5C320.4 169.2 319.9 169.9 319.7 170.2M320.4 201.9C321.9 202.1 326.2 202.8 329.1 203.1C332.0 203.4 334.8 203.6 337.7 203.7C340.6 203.7 343.7 203.6 346.4 203.4C349.0 203.1 350.7 202.8 353.6 202.2C356.5 201.6 361.1 200.5 363.7 199.8C366.3 199.0 368.0 198.4 369.5 197.9C371.0 197.4 372.1 197.0 372.6 196.9M319.0 210.6C320.2 210.9 323.5 212.0 326.2 212.7C328.8 213.5 332.0 214.3 334.8 214.9C337.7 215.5 340.6 216.0 343.5 216.3C346.4 216.7 348.8 217.0 352.2 217.2C355.5 217.5 360.8 217.7 363.7 217.8C366.6 217.9 368.0 217.8 369.5 217.8C371.0 217.7 372.1 217.6 372.6 217.5M320.4 237.3C320.8 238.1 321.7 240.6 322.6 242.3C323.4 244.0 324.4 245.8 325.5 247.4C326.6 248.9 327.8 250.4 329.1 251.7C330.4 253.0 331.8 254.1 333.4 255.0C335.0 255.9 336.7 256.5 338.5 257.0C340.3 257.5 342.2 257.8 344.2 257.9C346.3 258.0 348.7 257.7 350.7 257.5C352.8 257.2 354.3 257.0 356.5 256.4C358.6 255.9 361.5 254.9 363.7 254.1C365.9 253.4 368.0 252.7 369.5 252.1C371.0 251.5 372.1 250.9 372.6 250.7M320.1 170.2L320.4 202.2" fill="none" stroke="#0a0a0a" stroke-width="1.25" stroke-linejoin="round" stroke-linecap="round"/><g font-family="'Liberation Serif', 'DejaVu Serif', serif" font-size="10.9" text-anchor="middle" fill="#101010" stroke="#101010" stroke-width="0.2"><text x="329.8" y="74.9">30</text><text x="370.5" y="76.4">30</text><text x="329.8" y="113.9">27</text><text x="370.5" y="109.8">27</text><text x="329.8" y="125.0">24</text><text x="370.5" y="129.6">24</text><text x="338.9" y="134.7">21</text><text transform="translate(351.1 153.5) rotate(15)" y="3.5">18</text><text x="326.6" y="152.8">15</text><text x="316.8" y="172.0">12</text><text x="316.8" y="180.9">15</text><text x="316.8" y="188.4">18</text><text x="316.8" y="195.6">21</text><text x="316.8" y="202.8">24</text><text x="316.8" y="212.6">27</text><text x="357.6" y="185.5">21</text><text x="357.6" y="204.7">24</text><text x="357.6" y="220.6">27</text><text x="317.5" y="237.2">30</text><text x="357.6" y="258.5">30</text></g>
<path d="M440.4 124.9C441.4 124.5 444.5 123.1 446.4 122.3C448.4 121.5 449.8 120.9 452.2 120.1C454.6 119.4 458.0 118.3 460.8 117.7C463.7 117.0 466.4 116.6 469.5 116.2C472.6 115.9 476.5 115.7 479.6 115.5C482.7 115.4 485.2 115.4 488.3 115.4C491.3 115.4 496.4 115.5 498.1 115.5M440.4 138.9C441.6 138.8 445.3 138.2 447.9 138.2C450.4 138.1 453.6 138.3 455.8 138.4C458.0 138.6 458.6 138.8 460.8 139.3C463.1 139.8 466.6 140.6 469.5 141.3C472.4 142.1 475.3 143.0 478.2 143.9C481.0 144.9 484.2 146.1 486.8 147.1C489.5 148.1 492.1 149.0 494.0 149.7C495.9 150.4 497.4 150.9 498.1 151.1M440.4 149.4C442.1 149.5 448.2 149.5 450.8 150.0C453.3 150.5 454.2 151.5 455.8 152.6C457.4 153.6 459.0 154.9 460.1 156.2C461.3 157.5 462.1 159.2 462.6 160.5C463.1 161.8 463.2 162.9 463.0 164.1C462.8 165.3 462.3 166.6 461.6 167.7C460.8 168.9 459.9 170.1 458.7 171.0C457.5 172.0 455.9 172.8 454.4 173.5C452.8 174.2 451.6 174.8 449.3 175.4C447.0 176.0 441.9 176.8 440.4 177.1M444.3 186.5C445.6 186.4 449.4 186.1 452.2 185.8C455.0 185.4 458.0 184.8 460.8 184.3C463.7 183.8 466.6 183.3 469.5 182.6C472.4 181.9 475.3 181.1 478.2 180.3C481.0 179.5 484.2 178.7 486.8 177.8C489.5 176.9 492.1 175.7 494.0 174.9C495.9 174.1 497.4 173.4 498.1 173.1M447.9 202.3C449.3 202.8 453.6 204.4 456.5 205.2C459.4 206.1 462.3 206.8 465.2 207.4C468.1 208.0 469.7 208.5 473.8 208.8C477.9 209.1 486.1 209.2 489.7 209.1C493.3 209.0 494.1 208.5 495.5 208.3C496.9 208.0 497.6 207.8 498.1 207.7M440.4 65.4C441.6 63.5 445.4 57.5 447.9 53.9C450.3 50.3 452.7 46.8 455.1 43.8C457.5 40.8 460.5 37.8 462.3 35.9C464.1 33.9 465.3 32.9 465.9 32.3M445.7 266.0C447.0 267.8 450.9 273.1 453.6 276.8C456.4 280.5 459.6 284.9 462.3 288.3C465.0 291.8 468.5 295.9 469.8 297.4" fill="none" stroke="#0a0a0a" stroke-width="1.25" stroke-linejoin="round" stroke-linecap="round"/><g font-family="'Liberation Serif', 'DejaVu Serif', serif" font-size="10.9" text-anchor="middle" fill="#101010" stroke="#101010" stroke-width="0.2"><text transform="translate(454.4 119.4) rotate(-8)" y="3.5">9.5</text><text x="495.0" y="119.3">9.5</text><text x="455.8" y="141.9">9</text><text transform="translate(496.2 150.1) rotate(10)" y="3.5">9</text><text x="445.0" y="152.0">8.5</text><text x="442.8" y="179.4">8.5</text><text x="441.8" y="189.3">9</text><text transform="translate(482.5 179.0) rotate(-10)" y="3.5">9</text><text transform="translate(442.8 199.9) rotate(10)" y="3.5">9.5</text><text transform="translate(483.6 209.1) rotate(3)" y="3.5">9.5</text><text transform="translate(467.6 30.7) rotate(-12)" y="3.5">10</text><text transform="translate(443.3 262.4) rotate(20)" y="3.5">10</text></g>
<path d="M68.3 410.7C69.0 409.7 71.0 406.7 72.6 404.9C74.1 403.1 75.8 401.4 77.6 399.9C79.4 398.3 81.4 396.8 83.4 395.5C85.4 394.3 87.7 393.1 89.9 392.2C92.1 391.3 94.3 390.7 96.4 390.2C98.4 389.7 99.3 389.3 102.2 389.0C105.0 388.8 110.8 388.6 113.7 388.8C116.6 388.9 118.1 389.5 119.5 389.8C120.8 390.0 121.3 390.1 121.6 390.2M63.9 444.1C66.2 444.0 74.4 443.8 77.6 443.6C80.9 443.3 81.5 442.8 83.4 442.7C85.3 442.6 87.4 442.7 89.2 443.1C91.0 443.6 92.8 444.3 94.2 445.3C95.7 446.3 96.7 447.5 97.8 448.9C98.9 450.3 99.9 452.1 100.7 453.9C101.6 455.8 102.3 457.8 102.9 459.7C103.5 461.6 103.9 463.3 104.3 465.5C104.7 467.7 105.1 470.5 105.3 472.7C105.6 474.9 105.7 476.6 105.8 478.5C105.8 480.3 105.9 481.3 105.8 483.7C105.6 486.0 105.2 489.8 104.8 492.3C104.3 494.8 103.6 496.6 102.9 498.8C102.2 501.0 101.7 503.4 100.7 505.3C99.8 507.2 98.6 508.9 97.1 510.3C95.7 511.8 93.9 513.1 92.1 513.9C90.3 514.8 88.2 515.1 86.3 515.4C84.4 515.6 82.7 515.6 80.5 515.4C78.4 515.2 75.5 514.6 73.3 514.2C71.1 513.9 69.1 513.5 67.5 513.2C66.0 513.0 64.5 512.9 63.9 512.8M64.9 461.9C65.5 462.2 67.2 463.0 68.3 464.0C69.3 465.1 70.3 466.9 71.1 468.4C72.0 469.8 72.8 471.1 73.3 472.7C73.9 474.3 74.2 476.9 74.5 477.7C74.7 478.6 74.8 477.4 74.8 477.9C74.8 478.4 74.8 479.3 74.5 480.8C74.2 482.2 73.7 484.7 73.0 486.5C72.3 488.3 71.4 490.1 70.4 491.6C69.5 493.0 68.3 494.3 67.3 495.2C66.2 496.1 64.5 496.6 63.9 496.9M63.9 541.6C64.7 542.4 66.8 544.8 68.3 546.4C69.7 548.0 70.8 549.6 72.6 551.4C74.4 553.2 77.0 555.4 79.1 557.2C81.1 559.0 82.9 560.8 84.8 562.3C86.8 563.7 88.5 564.8 90.6 565.9C92.8 567.0 95.4 568.1 97.8 568.8C100.2 569.4 102.6 569.7 105.0 569.9C107.4 570.1 109.5 570.3 112.3 570.2C115.0 570.1 120.1 569.6 121.6 569.5" fill="none" stroke="#0a0a0a" stroke-width="1.25" stroke-linejoin="round" stroke-linecap="round"/><path d="M64.9 462.6L70.4 455.4L76.2 448.9L81.2 443.9L84.8 441.7L88.5 441.0L89.9 438.1L92.1 433.0L96.4 428.0L102.2 422.2L107.9 416.4L113.7 410.7L119.5 404.9L121.6 402.7M63.9 498.1L67.5 499.2L71.9 504.6L77.6 511.1L82.7 516.1L87.0 518.0L89.9 519.0L91.3 523.3L94.2 528.4L99.3 534.1L105.0 539.9L110.8 546.4L116.6 552.2L121.6 557.2" fill="none" stroke="#e3321c" stroke-width="1.25" stroke-linejoin="round"/><g font-family="'Liberation Serif', 'DejaVu Serif', serif" font-size="10.9" text-anchor="middle" fill="#101010" stroke="#101010" stroke-width="0.2"><text transform="translate(65.8 414.3) rotate(-55)" y="3.5">17</text><text x="106.5" y="392.3">17</text><text x="68.7" y="448.1">17.5</text><text transform="translate(66.1 462.3) rotate(-20)" y="3.5">18</text><text transform="translate(104.3 487.3) rotate(-58)" y="3.5">17.5</text><text transform="translate(79.1 556.6) rotate(35)" y="3.5">17</text><text x="119.5" y="572.3">17</text></g>
<path d="M189.7 366.7C190.6 366.3 193.5 365.1 195.4 364.2C197.3 363.4 199.4 362.6 201.2 361.6C203.0 360.7 204.7 359.7 206.2 358.5C207.8 357.3 209.4 355.8 210.6 354.4C211.8 353.0 212.7 351.4 213.5 350.1C214.2 348.8 214.7 347.1 214.9 346.5M189.7 399.1C190.4 398.5 192.4 396.7 194.0 395.5C195.5 394.3 197.3 393.1 199.0 391.9C200.7 390.8 202.0 389.7 204.1 388.8C206.1 387.8 208.9 387.1 211.3 386.2C213.7 385.2 216.3 384.4 218.5 383.3C220.7 382.2 222.3 381.1 224.3 379.7C226.2 378.2 228.2 376.4 230.0 374.6C231.8 372.8 233.5 370.9 235.1 368.8C236.7 366.8 238.2 364.4 239.4 362.4C240.6 360.3 241.5 358.5 242.3 356.6C243.1 354.7 244.0 352.4 244.5 350.8C244.9 349.3 245.1 347.8 245.2 347.2M189.7 423.4C190.4 422.7 192.4 420.7 194.0 419.3C195.5 417.9 197.3 416.3 199.0 415.0C200.7 413.7 202.3 412.5 204.1 411.4C205.9 410.3 208.0 409.5 209.8 408.5C211.7 407.6 213.3 406.2 214.9 405.6C216.5 405.0 217.7 404.8 219.2 404.9C220.8 405.0 222.5 405.8 224.3 406.1C226.1 406.3 228.1 406.6 230.0 406.6C232.0 406.7 233.9 406.6 235.8 406.3C237.7 406.1 239.7 405.4 241.6 404.9C243.5 404.4 246.1 403.5 247.1 403.2M189.7 446.4C190.4 446.0 192.4 444.9 194.0 443.9C195.5 442.8 197.3 441.5 199.0 440.2C200.7 439.0 202.3 437.7 204.1 436.4C205.9 435.0 208.0 433.5 209.8 432.3C211.7 431.1 213.3 429.8 214.9 429.1C216.5 428.5 217.7 428.2 219.2 428.3C220.8 428.3 222.5 428.9 224.3 429.4C226.1 430.0 228.1 430.9 230.0 431.6C232.0 432.3 233.9 433.0 235.8 433.5C237.7 433.9 239.7 434.3 241.6 434.5C243.5 434.6 246.1 434.5 247.1 434.5M189.7 466.9C190.3 467.9 192.4 470.8 193.3 472.7C194.1 474.6 194.5 477.4 194.7 478.5C194.9 479.6 194.9 478.3 194.7 479.3C194.5 480.3 194.1 483.1 193.3 484.4C192.4 485.7 190.3 486.8 189.7 487.3M189.7 512.8C190.3 513.1 191.8 513.9 193.3 514.7C194.7 515.5 196.5 516.3 198.3 517.6C200.1 518.8 202.2 520.4 204.1 521.9C206.0 523.3 207.9 524.9 209.8 526.2C211.8 527.5 214.1 529.1 215.6 529.8C217.2 530.5 217.8 530.7 219.2 530.5C220.7 530.4 222.5 529.6 224.3 529.1C226.1 528.6 227.6 528.2 230.0 527.6C232.4 527.0 236.3 525.9 238.7 525.5C241.1 525.1 243.1 525.2 244.5 525.2C245.9 525.1 246.6 525.2 247.1 525.2M189.7 536.3C190.3 536.8 191.8 538.0 193.3 539.2C194.7 540.4 196.5 542.2 198.3 543.5C200.1 544.8 202.2 546.0 204.1 547.1C206.0 548.2 207.9 549.0 209.8 550.0C211.8 551.0 214.1 552.2 215.6 552.9C217.2 553.6 217.8 553.9 219.2 554.0C220.7 554.2 222.5 553.8 224.3 553.6C226.1 553.4 227.6 552.9 230.0 552.9C232.4 552.9 236.3 553.2 238.7 553.6C241.1 554.0 243.1 555.0 244.5 555.5C245.9 556.0 246.6 556.3 247.1 556.5M189.7 559.4C190.3 560.0 192.1 561.8 193.3 563.0C194.5 564.2 195.5 565.5 196.9 566.6C198.2 567.7 199.5 568.6 201.2 569.5C202.9 570.3 205.0 570.9 207.0 571.6C208.9 572.4 210.8 573.1 212.7 573.8C214.7 574.5 216.6 575.1 218.5 576.0C220.4 576.8 222.6 577.8 224.3 578.9C226.0 579.9 227.0 581.0 228.6 582.5C230.2 583.9 232.1 585.5 233.6 587.5C235.2 589.5 236.7 592.3 238.0 594.7C239.3 597.1 240.4 599.4 241.6 601.9C242.8 604.5 244.3 607.8 245.2 609.9C246.1 611.9 246.7 613.5 247.1 614.2M189.7 591.8C190.4 592.3 192.3 593.9 194.0 594.7C195.7 595.6 197.9 596.0 199.8 596.9C201.6 597.7 203.2 598.7 204.8 599.8C206.4 600.8 207.8 602.0 209.1 603.4C210.4 604.7 211.7 606.3 212.7 607.7C213.8 609.1 214.8 610.9 215.6 612.0C216.5 613.2 217.4 614.2 217.8 614.6" fill="none" stroke="#0a0a0a" stroke-width="1.25" stroke-linejoin="round" stroke-linecap="round"/><g font-family="'Liberation Serif', 'DejaVu Serif', serif" font-size="10.9" text-anchor="middle" fill="#101010" stroke="#101010" stroke-width="0.2"><text x="216.0" y="351.0">6</text><text x="246.2" y="352.4">5</text><text transform="translate(205.8 387.6) rotate(-20)" y="3.5">5</text><text transform="translate(205.8 411.0) rotate(-25)" y="3.5">4</text><text x="246.3" y="406.7">4</text><text transform="translate(205.5 435.9) rotate(-25)" y="3.5">3</text><text x="245.5" y="437.5">3</text><text x="191.1" y="474.0">3</text><text x="191.1" y="516.7">3</text><text transform="translate(231.5 526.9) rotate(-5)" y="3.5">3</text><text x="191.1" y="540.2">4</text><text x="231.8" y="555.7">4</text><text x="190.8" y="563.6">5</text><text transform="translate(231.5 583.5) rotate(45)" y="3.5">5</text><text x="191.4" y="595.6">6</text></g>
<path d="M367.3 352.3C367.8 353.2 369.3 356.2 370.2 358.0C371.1 359.8 372.2 362.2 372.6 363.1M315.1 379.7C316.0 379.2 318.6 377.5 320.4 376.8C322.3 376.0 323.5 375.6 326.2 375.0C328.8 374.5 333.4 374.0 336.3 373.6C339.2 373.2 341.3 373.2 343.5 372.9C345.7 372.6 347.6 372.2 349.3 372.0C351.0 371.9 352.2 371.7 353.6 372.0C355.0 372.3 356.6 373.1 357.9 373.9C359.2 374.7 360.6 375.6 361.5 376.8C362.5 378.0 363.0 379.7 363.7 381.1C364.4 382.6 365.0 384.1 365.9 385.4C366.7 386.8 367.6 388.1 368.7 389.0C369.9 390.0 372.0 390.8 372.6 391.2M315.1 435.2C316.0 434.5 318.6 432.2 320.4 430.9C322.3 429.5 324.5 428.2 326.2 427.3C327.9 426.3 328.8 425.7 330.5 425.1C332.2 424.5 334.4 424.1 336.3 423.9C338.2 423.8 340.1 423.8 342.1 424.4C344.0 424.9 345.9 425.9 347.8 427.3C349.8 428.6 351.8 430.4 353.6 432.3C355.4 434.2 357.1 436.6 358.6 438.8C360.2 441.0 361.7 443.1 363.0 445.3C364.3 447.5 365.5 449.9 366.6 451.8C367.7 453.7 368.5 455.0 369.5 456.8C370.5 458.6 372.1 461.6 372.6 462.6M315.1 453.9C316.7 453.6 322.2 452.4 324.8 451.8C327.3 451.2 328.6 450.6 330.5 450.3C332.4 450.1 334.5 450.0 336.3 450.3C338.1 450.7 339.8 451.5 341.3 452.5C342.9 453.5 344.3 454.7 345.7 456.1C347.0 457.6 348.1 459.4 349.3 461.2C350.5 463.0 351.8 465.0 352.9 466.9C354.0 468.9 354.9 470.8 355.8 472.7C356.6 474.6 357.4 476.8 357.9 478.5C358.4 480.2 358.8 481.5 358.6 482.9C358.5 484.4 357.8 485.9 357.2 487.3C356.6 488.6 356.0 489.3 355.0 490.9C354.1 492.4 352.8 494.7 351.4 496.6C350.1 498.6 348.7 500.7 347.1 502.4C345.5 504.1 343.9 505.7 342.1 506.7C340.3 507.8 338.2 508.6 336.3 508.9C334.4 509.2 332.4 508.8 330.5 508.5C328.6 508.2 326.4 507.5 324.8 507.0C323.1 506.5 322.0 505.8 320.4 505.3C318.8 504.8 316.0 504.1 315.1 503.8M315.1 465.5C316.0 466.0 318.6 467.4 320.4 468.4C322.3 469.3 324.6 470.2 326.2 471.3C327.8 472.3 328.8 473.5 329.8 474.9C330.8 476.2 331.5 478.4 332.0 479.2C332.4 479.9 332.7 478.7 332.7 479.3C332.7 480.0 332.6 481.6 332.0 482.9C331.4 484.3 330.3 486.1 329.1 487.3C327.9 488.5 326.2 489.4 324.8 490.1C323.3 490.9 322.0 491.5 320.4 492.0C318.8 492.5 316.0 492.9 315.1 493.0M315.1 472.7C315.6 473.1 317.4 473.9 318.3 474.9C319.1 475.8 319.9 477.8 320.4 478.5C320.9 479.2 321.1 478.4 321.1 479.0C321.1 479.7 320.9 481.3 320.4 482.2C319.9 483.2 319.1 484.1 318.3 484.8C317.4 485.5 315.6 486.0 315.1 486.3M315.1 524.0C316.0 524.6 318.8 526.1 320.4 527.2C322.0 528.3 323.2 529.6 324.8 530.5C326.3 531.5 328.0 532.3 329.8 533.0C331.6 533.7 333.6 534.3 335.6 534.6C337.5 534.8 339.5 534.9 341.3 534.6C343.1 534.3 344.8 533.4 346.4 532.7C347.9 531.9 349.4 531.1 350.7 530.1C352.0 529.1 352.5 528.9 354.3 526.9C356.1 525.0 359.7 520.7 361.5 518.3C363.3 515.9 363.9 514.9 365.1 512.5C366.3 510.1 367.7 506.4 368.7 503.8C369.8 501.3 371.0 498.7 371.6 497.4C372.3 496.0 372.5 496.2 372.6 495.9M315.1 579.6C316.2 580.1 319.5 581.7 321.9 582.5C324.2 583.2 326.7 583.7 329.1 584.2C331.5 584.7 333.9 585.1 336.3 585.3C338.7 585.6 341.1 585.6 343.5 585.8C345.9 585.9 348.7 586.2 350.7 586.4C352.8 586.5 353.8 587.4 355.8 586.8C357.7 586.1 360.9 584.0 362.3 582.5C363.6 580.9 362.9 579.2 363.7 577.4C364.5 575.6 366.1 573.4 367.3 571.6C368.5 569.8 370.0 567.7 370.9 566.6C371.8 565.5 372.3 565.4 372.6 565.1M369.5 603.4C369.0 604.3 367.5 607.3 366.6 609.1C365.6 610.9 364.2 613.3 363.7 614.2" fill="none" stroke="#0a0a0a" stroke-width="1.25" stroke-linejoin="round" stroke-linecap="round"/><g font-family="'Liberation Serif', 'DejaVu Serif', serif" font-size="10.9" text-anchor="middle" fill="#101010" stroke="#101010" stroke-width="0.2"><text transform="translate(365.9 347.9) rotate(30)" y="3.5">33</text><text x="330.5" y="377.4">33</text><text transform="translate(370.5 390.2) rotate(20)" y="3.5">33</text><text x="330.5" y="428.6">30</text><text transform="translate(370.5 457.6) rotate(65)" y="3.5">30</text><text x="319.7" y="456.7">27</text><text x="316.8" y="487.4">21</text><text x="316.8" y="495.5">24</text><text transform="translate(355.8 485.8) rotate(-60)" y="3.5">27</text><text x="316.4" y="507.8">27</text><text x="316.8" y="528.3">30</text><text x="357.6" y="527.3">30</text><text x="316.8" y="583.5">33</text><text x="358.2" y="587.8">33</text><text transform="translate(370.5 598.8) rotate(-25)" y="3.5">33</text></g>
<path d="M440.2 418.6C440.9 417.6 443.0 414.9 444.3 412.8C445.5 410.8 446.7 408.5 447.9 406.3C449.1 404.2 449.7 401.9 451.5 399.9C453.3 397.8 456.6 395.7 458.7 394.1C460.7 392.5 461.9 391.6 463.7 390.5C465.5 389.4 467.6 388.3 469.5 387.6C471.4 386.9 473.3 386.5 475.3 386.2C477.2 385.8 478.9 385.4 481.0 385.4C483.2 385.4 485.4 385.9 488.3 386.2C491.1 386.4 496.4 386.8 498.1 386.9M440.2 442.1C441.3 441.8 444.4 440.7 446.4 440.2C448.4 439.8 449.8 439.5 452.2 439.2C454.6 439.0 458.2 438.8 460.8 438.8C463.5 438.9 465.9 439.0 468.1 439.5C470.2 440.0 472.0 440.7 473.8 441.7C475.6 442.6 477.4 443.9 478.9 445.3C480.3 446.7 481.5 448.4 482.5 450.3C483.4 452.3 484.1 454.5 484.6 456.8C485.2 459.1 485.3 461.4 485.7 464.0C486.0 466.7 486.3 470.2 486.5 472.7C486.7 475.2 486.8 477.5 486.8 479.3C486.8 481.2 486.7 481.5 486.5 483.7C486.3 485.8 486.0 489.7 485.7 492.3C485.3 495.0 484.7 497.2 484.2 499.5C483.7 501.8 483.1 504.0 482.5 506.0C481.8 508.1 481.5 510.0 480.3 511.8C479.1 513.6 477.2 515.5 475.3 516.8C473.3 518.2 471.1 519.0 468.8 519.7C466.5 520.4 464.0 520.7 461.6 520.9C459.2 521.0 456.8 520.7 454.4 520.4C452.0 520.1 449.5 519.5 447.1 519.0C444.8 518.5 441.4 517.8 440.2 517.6M440.2 452.5C441.7 452.6 446.8 452.6 449.3 452.8C451.8 453.0 453.4 453.3 455.1 453.9C456.8 454.6 458.2 455.6 459.4 456.8C460.6 458.0 461.5 459.5 462.3 461.2C463.1 462.8 463.6 464.8 464.0 466.9C464.5 469.1 464.7 472.3 464.9 474.1C465.1 476.0 465.2 476.5 465.2 477.9C465.2 479.2 465.1 480.3 464.9 482.2C464.6 484.1 464.4 487.0 463.7 489.4C463.1 491.8 462.0 494.5 460.8 496.6C459.6 498.8 458.2 500.9 456.5 502.4C454.8 503.9 453.5 504.8 450.8 505.6C448.0 506.3 442.0 506.8 440.2 507.0M440.2 462.6C441.0 462.8 443.6 463.3 445.0 464.0C446.4 464.8 447.6 465.7 448.6 466.9C449.5 468.1 450.2 469.6 450.8 471.3C451.3 472.9 451.7 475.9 451.9 477.0C452.1 478.1 452.2 477.3 452.2 477.9C452.2 478.5 452.2 479.3 451.9 480.8C451.6 482.2 451.2 484.7 450.5 486.5C449.7 488.3 448.7 490.1 447.6 491.6C446.4 493.0 444.8 494.4 443.5 495.2C442.3 496.0 440.8 496.4 440.2 496.6M440.2 542.8C441.3 543.8 444.8 546.5 446.4 548.6C448.1 550.6 448.6 552.9 450.0 555.1C451.5 557.2 453.3 559.6 455.1 561.5C456.9 563.5 458.8 565.1 460.8 566.6C462.9 568.0 465.2 569.2 467.3 570.2C469.5 571.2 470.1 571.9 473.8 572.4C477.6 572.8 486.1 573.0 489.7 572.8C493.3 572.6 494.1 571.4 495.5 570.9C496.9 570.4 497.6 570.1 498.1 569.9" fill="none" stroke="#0a0a0a" stroke-width="1.25" stroke-linejoin="round" stroke-linecap="round"/><g font-family="'Liberation Serif', 'DejaVu Serif', serif" font-size="10.9" text-anchor="middle" fill="#101010" stroke="#101010" stroke-width="0.2"><text transform="translate(455.1 397.0) rotate(-25)" y="3.5">9.5</text><text x="495.0" y="391.1">9.5</text><text x="455.4" y="441.6">9</text><text x="449.3" y="456.0">8.5</text><text x="442.1" y="500.1">8</text><text x="443.3" y="509.5">8.5</text><text transform="translate(482.8 506.0) rotate(-70)" y="3.5">9</text><text x="441.8" y="521.1">9</text><text transform="translate(443.3 544.2) rotate(15)" y="3.5">9.5</text><text x="483.6" y="576.6">9.5</text></g>
<path d="M68.3 718.5C68.9 717.5 70.5 714.7 71.9 712.7C73.2 710.7 74.6 708.5 76.2 706.2C77.8 703.9 79.4 701.4 81.2 699.0C83.0 696.6 85.0 694.1 87.0 691.8C89.1 689.5 91.5 687.1 93.5 685.3C95.5 683.5 97.2 682.5 99.3 681.0C101.3 679.5 103.8 677.7 105.8 676.3C107.7 675.0 109.0 673.9 110.8 673.0C112.6 672.2 114.5 671.6 116.6 671.2C118.7 670.7 122.3 670.3 123.5 670.1M63.9 758.9C66.1 758.6 73.7 757.4 76.9 757.1C80.2 756.8 81.4 757.0 83.4 757.1C85.4 757.3 87.4 757.6 89.2 758.1C91.0 758.7 92.7 759.3 94.2 760.3C95.8 761.3 97.2 762.6 98.6 763.9C99.9 765.2 101.1 766.8 102.2 768.2C103.2 769.7 104.1 770.8 105.0 772.6C106.0 774.4 107.1 776.8 107.9 779.0C108.8 781.3 109.6 784.1 110.1 786.3C110.6 788.4 110.6 790.9 110.8 792.0C111.0 793.1 111.1 791.8 111.1 792.9C111.1 794.0 111.1 796.3 110.8 798.7C110.5 801.1 110.0 804.4 109.4 807.3C108.7 810.2 107.9 813.2 106.8 816.0C105.7 818.7 104.4 821.5 102.9 823.9C101.4 826.3 99.6 828.6 97.8 830.4C96.0 832.2 93.9 833.6 92.1 834.7C90.3 835.8 89.5 836.4 87.0 836.9C84.5 837.3 79.9 837.5 76.9 837.3C73.9 837.1 71.1 836.3 69.0 835.9C66.8 835.5 64.8 835.1 63.9 835.0M64.9 781.9C65.7 782.5 68.4 784.2 69.7 785.5C71.0 786.9 71.8 788.4 72.6 789.9C73.4 791.3 73.9 793.1 74.5 794.2C75.0 795.3 75.5 795.6 75.9 796.5C76.3 797.4 76.7 798.2 76.6 799.4C76.6 800.6 76.4 802.3 75.6 803.7C74.8 805.1 73.2 806.8 71.9 808.0C70.5 809.2 68.9 810.2 67.5 810.9C66.2 811.6 64.5 812.1 63.9 812.4M63.9 869.0C64.5 869.8 66.3 871.8 67.5 873.7C68.7 875.5 69.9 878.1 71.1 880.1C72.3 882.2 73.7 884.2 74.8 885.9C75.8 887.6 76.3 888.4 77.6 890.2C79.0 892.0 81.2 894.8 82.7 896.7C84.1 898.7 84.8 900.1 86.3 901.8C87.7 903.5 89.5 905.3 91.3 906.8C93.1 908.4 95.3 910.0 97.1 911.2C98.9 912.3 100.6 912.8 102.2 913.8C103.7 914.7 105.0 915.8 106.5 916.9C107.9 918.1 109.4 919.6 110.8 920.5C112.3 921.5 113.0 922.2 115.1 922.7C117.3 923.2 122.1 923.3 123.5 923.4" fill="none" stroke="#0a0a0a" stroke-width="1.25" stroke-linejoin="round" stroke-linecap="round"/><path d="M63.9 779.8L67.5 774.7L71.1 774.0L74.8 768.9L79.1 763.9L83.4 759.6L87.0 758.1L88.5 754.5L90.6 750.2L94.9 748.8L99.3 744.4L103.6 739.4L107.2 733.6L110.8 726.4L115.1 717.7L119.5 709.1L123.5 701.2M63.9 816.0L66.8 817.4L69.0 820.0L72.6 821.0L75.5 826.1L79.8 831.8L84.1 836.2L87.0 838.3L89.2 843.4L92.8 845.5L95.7 847.0L99.3 851.3L104.3 856.3L107.9 863.6L111.5 870.8L115.9 879.4L120.2 887.4L123.5 893.9" fill="none" stroke="#e3321c" stroke-width="1.25" stroke-linejoin="round"/><g font-family="'Liberation Serif', 'DejaVu Serif', serif" font-size="10.9" text-anchor="middle" fill="#101010" stroke="#101010" stroke-width="0.2"><text transform="translate(65.8 722.5) rotate(-60)" y="3.5">17</text><text transform="translate(105.8 676.3) rotate(-30)" y="3.5">17</text><text x="67.8" y="762.1">17.5</text><text transform="translate(107.6 777.6) rotate(52)" y="3.5">17.5</text><text transform="translate(66.8 783.1) rotate(-20)" y="3.5">18</text><text x="76.9" y="840.8">17.5</text><text transform="translate(81.7 893.1) rotate(20)" y="3.5">17</text><text x="121.3" y="926.5">17</text></g>
<path d="M189.7 673.8C190.5 673.1 193.1 671.3 194.7 670.1C196.3 668.9 197.7 667.7 199.0 666.5C200.4 665.4 202.0 663.9 202.6 663.4M189.7 695.1C190.6 694.1 193.4 691.0 195.4 688.9C197.5 686.8 199.8 684.4 201.9 682.4C204.1 680.4 206.2 678.6 208.4 676.6C210.6 674.7 213.0 672.5 214.9 670.9C216.8 669.2 218.6 667.8 219.9 666.5C221.3 665.3 222.3 663.9 222.8 663.4M189.7 717.0C190.6 716.2 193.5 713.7 195.4 712.0C197.3 710.3 199.4 708.4 201.2 706.9C203.0 705.5 204.4 704.9 206.2 703.3C208.0 701.8 210.0 699.5 212.0 697.6C214.1 695.6 216.3 693.8 218.5 691.8C220.7 689.7 222.8 687.5 225.0 685.3C227.2 683.1 229.3 680.8 231.5 678.8C233.6 676.8 235.9 674.8 238.0 673.0C240.0 671.2 242.1 669.5 243.7 668.0C245.4 666.4 247.3 664.4 248.1 663.7M189.7 738.4C190.6 737.8 193.5 736.3 195.4 735.1C197.3 733.8 199.4 732.5 201.2 731.2C203.0 729.8 204.4 728.8 206.2 727.1C208.0 725.5 210.0 722.8 212.0 721.3C214.1 719.9 216.2 719.4 218.5 718.5C220.8 717.6 223.3 716.7 225.7 715.9C228.1 715.0 230.5 714.2 232.9 713.4C235.3 712.6 237.5 711.9 240.1 711.0C242.7 710.0 247.1 708.2 248.5 707.6M189.7 754.5C190.6 754.1 193.5 752.5 195.4 751.9C197.3 751.3 198.3 751.2 201.2 750.9C204.1 750.6 209.4 750.3 212.7 750.2C216.1 750.1 218.5 750.2 221.4 750.5C224.3 750.7 227.4 751.1 230.0 751.6C232.7 752.2 235.1 753.1 237.3 753.8C239.4 754.5 241.1 755.2 243.0 756.0C244.9 756.7 247.6 757.8 248.5 758.1M210.6 792.0C210.4 791.1 210.3 788.2 209.8 786.3C209.4 784.3 208.6 782.2 207.7 780.5C206.7 778.8 205.3 777.5 204.1 776.2C202.9 774.8 201.7 773.5 200.5 772.6C199.3 771.6 197.3 771.1 196.9 770.4C196.4 769.7 196.9 769.0 197.6 768.2C198.3 767.5 199.6 766.4 201.2 765.8C202.8 765.2 204.8 764.7 207.0 764.6C209.1 764.5 211.8 764.9 214.2 765.3C216.6 765.8 219.0 766.7 221.4 767.5C223.8 768.3 226.1 769.1 228.6 770.4C231.1 771.7 234.4 773.8 236.5 775.4C238.7 777.1 240.1 778.7 241.6 780.5C243.0 782.3 244.2 784.3 245.2 786.3C246.1 788.2 247.0 790.9 247.3 792.0C247.7 793.1 247.2 792.0 247.1 792.9C246.9 793.7 246.9 795.3 246.6 797.2C246.3 799.1 246.0 802.0 245.2 804.4C244.3 806.8 243.0 809.4 241.6 811.6C240.1 813.9 238.5 816.1 236.5 818.1C234.6 820.2 232.3 822.3 230.0 823.9C227.8 825.5 225.2 826.8 222.8 827.8C220.4 828.8 217.8 829.2 215.6 829.7C213.5 830.1 211.8 830.1 209.8 830.4C207.9 830.6 205.9 831.2 204.1 831.1C202.3 831.0 200.2 830.4 199.0 829.7C197.8 828.9 197.1 827.9 196.9 826.8C196.6 825.7 196.9 824.5 197.6 823.2C198.3 821.9 199.9 820.5 201.2 818.8C202.5 817.2 204.2 815.2 205.5 813.1C206.8 810.9 208.3 808.3 209.1 805.9C210.0 803.5 210.3 801.0 210.6 798.7C210.8 796.3 210.6 793.1 210.6 792.0M189.7 780.5C190.0 780.7 191.1 781.0 191.8 781.9C192.5 782.9 193.5 784.6 194.0 786.3C194.5 787.9 194.5 790.9 194.7 792.0C194.9 793.1 194.9 792.0 195.0 792.9C195.1 793.7 195.2 795.3 195.1 797.2C195.1 799.1 195.0 802.3 194.7 804.4C194.4 806.6 194.1 808.4 193.3 810.2C192.4 812.0 190.3 814.4 189.7 815.2M189.7 841.2C190.6 841.5 193.3 842.5 195.4 843.1C197.6 843.6 200.0 844.2 202.6 844.5C205.3 844.9 208.4 845.1 211.3 845.1C214.2 845.1 217.1 845.1 219.9 844.8C222.8 844.6 225.7 844.3 228.6 843.7C231.5 843.1 234.8 842.0 237.3 841.2C239.7 840.4 241.1 839.8 243.0 839.0C244.9 838.2 247.6 836.9 248.5 836.4M189.7 857.1C190.4 857.6 192.5 858.9 194.0 860.0C195.4 861.0 196.6 862.2 198.3 863.6C200.0 864.9 202.2 866.4 204.1 867.9C206.0 869.3 207.9 871.0 209.8 872.2C211.8 873.4 213.5 874.1 215.6 875.1C217.8 876.1 220.7 877.1 222.8 878.0C225.0 878.8 226.2 879.4 228.6 880.1C231.0 880.9 234.8 881.5 237.3 882.3C239.7 883.2 241.1 884.2 243.0 885.2C244.9 886.2 247.6 887.6 248.5 888.1M189.7 878.3C190.4 878.9 192.3 880.8 194.0 882.3C195.7 883.8 197.7 885.6 199.8 887.4C201.8 889.2 204.1 891.2 206.2 893.1C208.4 895.1 210.6 897.0 212.7 898.9C214.9 900.8 217.1 902.7 219.2 904.7C221.4 906.6 223.2 908.4 225.7 910.4C228.2 912.5 232.0 914.9 234.4 916.9C236.8 919.0 238.2 920.7 240.1 922.7C242.1 924.7 244.5 927.7 245.9 929.2C247.3 930.6 248.1 931.0 248.5 931.4M189.7 899.9C190.5 900.7 192.8 902.9 194.7 904.7C196.6 906.4 199.0 908.4 201.2 910.4C203.4 912.5 205.5 914.8 207.7 916.9C209.8 919.1 212.1 921.5 214.2 923.4C216.2 925.3 218.4 927.1 219.9 928.5C221.5 929.8 222.9 930.9 223.6 931.4M189.7 920.5C190.5 921.4 193.1 924.1 194.7 925.6C196.3 927.0 197.9 928.3 199.0 929.2C200.1 930.1 200.8 930.8 201.2 931.1" fill="none" stroke="#0a0a0a" stroke-width="1.25" stroke-linejoin="round" stroke-linecap="round"/><g font-family="'Liberation Serif', 'DejaVu Serif', serif" font-size="10.9" text-anchor="middle" fill="#101010" stroke="#101010" stroke-width="0.2"><text x="200.0" y="668.6">8</text><text x="221.4" y="668.3">7</text><text x="246.6" y="668.6">6</text><text transform="translate(207.0 701.9) rotate(-35)" y="3.5">6</text><text x="246.9" y="711.9">5</text><text transform="translate(207.0 726.0) rotate(-35)" y="3.5">5</text><text x="207.0" y="753.7">4</text><text x="247.3" y="761.2">4</text><text x="199.8" y="774.6">3</text><text transform="translate(232.2 771.5) rotate(25)" y="3.5">3</text><text transform="translate(191.4 779.8) rotate(-60)" y="3.5">4</text><text x="210.1" y="832.2">3</text><text transform="translate(221.7 827.2) rotate(-10)" y="3.5">3</text><text x="190.8" y="844.3">4</text><text x="231.8" y="845.7">4</text><text x="190.8" y="860.6">5</text><text transform="translate(231.2 879.4) rotate(20)" y="3.5">5</text><text x="191.1" y="882.2">6</text><text transform="translate(231.2 913.3) rotate(40)" y="3.5">6</text><text x="190.8" y="903.8">7</text><text x="191.1" y="924.8">8</text></g>
<path d="M357.6 663.4C357.3 664.9 356.7 669.3 355.8 672.3C354.8 675.4 353.7 678.4 352.2 681.7C350.6 684.9 348.6 688.5 346.4 691.8C344.2 695.0 341.7 698.5 339.2 701.2C336.7 703.8 333.8 705.6 331.2 707.6C328.7 709.7 326.0 711.9 324.0 713.4C322.1 715.0 321.1 715.9 319.7 717.0C318.3 718.1 316.1 719.4 315.4 719.9M315.4 749.5C316.2 748.8 318.6 746.7 320.4 745.1C322.2 743.6 324.4 741.8 326.2 740.1C328.0 738.4 329.4 737.0 331.2 735.1C333.0 733.1 335.0 730.6 337.0 728.6C339.1 726.5 341.2 724.7 343.5 722.8C345.8 720.9 348.3 718.7 350.7 717.0C353.1 715.3 355.5 714.0 357.9 712.7C360.3 711.4 362.4 710.4 365.1 709.1C367.9 707.8 373.0 705.5 374.5 704.8M315.4 764.9C316.0 764.0 317.7 761.2 319.0 759.6C320.3 758.0 321.6 756.5 323.3 755.2C325.0 754.0 326.7 752.9 329.1 751.9C331.5 751.0 334.8 750.0 337.7 749.5C340.6 748.9 343.5 748.9 346.4 748.8C349.3 748.6 352.2 748.6 355.0 748.8C357.9 748.9 360.4 749.3 363.7 749.5C366.9 749.7 372.7 749.8 374.5 749.9M315.4 774.7C316.5 775.0 319.8 775.6 321.9 776.2C323.9 776.8 326.0 777.2 327.6 778.3C329.3 779.4 330.9 781.0 332.0 782.7C333.0 784.3 333.6 786.4 334.1 788.4C334.6 790.5 334.7 793.7 334.8 794.9C335.0 796.1 334.8 795.1 334.8 795.8C334.8 796.4 335.1 796.7 334.8 798.7C334.6 800.6 334.2 804.8 333.4 807.3C332.6 809.8 331.4 812.0 329.8 813.8C328.2 815.6 326.0 817.1 324.0 818.1C322.1 819.2 319.7 819.6 318.3 820.0C316.8 820.4 315.9 820.5 315.4 820.6M315.4 781.6C316.2 781.9 319.0 782.7 320.4 783.4C321.9 784.0 323.1 784.3 324.0 785.5C325.0 786.7 325.8 788.9 326.2 790.6C326.6 792.3 326.6 794.6 326.6 795.6C326.7 796.6 326.7 796.0 326.6 796.5C326.6 797.0 326.6 797.1 326.2 798.7C325.8 800.2 325.0 803.8 324.0 805.9C323.1 807.9 321.9 809.6 320.4 810.9C319.0 812.2 316.2 813.3 315.4 813.8M315.4 788.4C316.1 788.7 318.6 789.0 319.7 789.9C320.8 790.7 321.5 792.3 321.9 793.5C322.3 794.7 322.1 796.4 322.2 797.1C322.2 797.7 322.3 797.2 322.2 797.5C322.1 797.8 322.0 797.9 321.6 798.9C321.2 800.0 320.7 802.3 319.7 803.7C318.7 805.1 316.1 806.7 315.4 807.3M355.0 774.0C355.9 774.1 358.4 774.1 360.1 774.7C361.8 775.3 363.7 776.2 365.1 777.6C366.6 779.0 367.8 781.2 368.7 783.4C369.7 785.5 370.4 789.2 370.9 790.6C371.4 791.9 371.4 790.3 371.6 791.4C371.8 792.5 372.2 795.0 372.1 797.2C371.9 799.4 371.6 802.0 370.9 804.4C370.2 806.8 369.2 809.6 368.0 811.6C366.8 813.7 365.3 815.4 363.7 816.7C362.1 818.0 360.0 819.2 358.6 819.6C357.3 819.9 356.5 819.6 355.8 818.8C355.0 818.1 354.6 816.9 354.3 815.2C354.1 813.6 354.0 811.8 354.3 808.8C354.7 805.7 356.2 800.1 356.5 797.2C356.8 794.3 356.2 792.4 356.1 791.4C355.9 790.5 355.9 791.7 355.8 791.3C355.6 790.9 355.3 790.7 355.0 789.1C354.8 787.6 354.4 784.2 354.3 781.9C354.2 779.6 354.2 776.8 354.3 775.4C354.4 774.1 354.9 774.2 355.0 774.0M315.4 831.8C316.5 832.6 319.8 834.8 321.9 836.2C323.9 837.5 325.5 838.7 327.6 839.8C329.8 840.8 332.2 841.8 334.8 842.6C337.5 843.5 340.6 844.3 343.5 844.8C346.4 845.3 348.8 845.4 352.2 845.5C355.5 845.7 360.8 845.6 363.7 845.5C366.6 845.5 367.7 845.3 369.5 845.1C371.3 844.9 373.7 844.6 374.5 844.5M315.4 847.0C316.5 847.7 319.8 849.7 321.9 851.3C323.9 852.9 325.6 854.5 327.6 856.3C329.7 858.2 332.0 860.2 334.1 862.1C336.3 864.0 338.3 866.0 340.6 867.9C342.9 869.8 345.7 872.1 347.8 873.7C350.0 875.2 351.0 875.7 353.6 877.3C356.2 878.8 361.1 881.5 363.7 883.0C366.3 884.6 367.7 885.6 369.5 886.6C371.3 887.7 373.7 889.0 374.5 889.5M315.4 873.9C316.2 874.7 318.6 877.1 320.4 878.7C322.2 880.3 324.3 882.1 326.2 883.8C328.1 885.4 330.0 887.1 332.0 888.8C333.9 890.5 336.0 892.0 337.7 893.9C339.4 895.7 340.5 897.6 342.1 899.6C343.6 901.7 345.5 903.9 347.1 906.1C348.7 908.3 350.2 910.6 351.4 912.6C352.6 914.6 353.5 916.0 354.3 918.4C355.2 920.8 355.9 924.9 356.5 927.0C357.1 929.1 357.7 930.4 357.9 931.1" fill="none" stroke="#0a0a0a" stroke-width="1.25" stroke-linejoin="round" stroke-linecap="round"/><g font-family="'Liberation Serif', 'DejaVu Serif', serif" font-size="10.9" text-anchor="middle" fill="#101010" stroke="#101010" stroke-width="0.2"><text x="318.3" y="720.8">34</text><text transform="translate(331.7 732.9) rotate(-20)" y="3.5">33</text><text x="371.6" y="709.0">33</text><text x="331.7" y="754.9">32</text><text x="371.6" y="753.0">32</text><text x="318.3" y="777.5">32</text><text x="318.3" y="784.3">33</text><text x="318.3" y="791.9">34</text><text transform="translate(355.0 803.7) rotate(-60)" y="3.5">31</text><text x="358.6" y="822.3">31</text><text x="317.3" y="835.6">32</text><text x="357.6" y="849.0">32</text><text x="317.3" y="850.9">33</text><text x="357.2" y="882.2">33</text><text transform="translate(355.8 922.0) rotate(60)" y="3.5">34</text></g>
<path d="M440.4 730.0C441.1 728.9 443.5 725.9 445.0 723.5C446.5 721.1 447.9 718.3 449.3 715.6C450.8 712.8 452.2 709.8 453.6 706.9C455.1 704.0 456.5 701.0 458.0 698.3C459.4 695.5 460.8 692.9 462.3 690.3C463.7 687.8 465.6 685.7 466.6 683.1C467.6 680.6 467.8 677.6 468.3 675.2C468.9 672.8 469.4 670.7 469.8 668.7C470.2 666.7 470.5 664.3 470.7 663.4M491.9 663.4C492.1 664.4 492.7 667.3 493.3 669.4C493.9 671.5 494.9 674.1 495.5 675.9C496.1 677.7 496.4 678.9 496.9 680.2C497.4 681.6 498.1 683.2 498.3 683.8M440.4 756.7C441.4 756.4 444.3 755.2 446.4 754.8C448.6 754.4 450.9 754.5 453.3 754.2C455.8 754.0 458.4 753.4 460.8 753.4C463.3 753.3 466.0 753.4 468.1 753.8C470.1 754.2 471.7 754.9 473.1 756.0C474.6 757.0 475.8 758.6 476.7 760.3C477.7 762.0 478.3 763.9 478.9 766.1C479.5 768.2 479.7 770.9 480.3 773.3C480.9 775.7 481.8 778.1 482.5 780.5C483.2 782.9 484.1 785.5 484.6 787.7C485.2 789.9 485.4 792.4 485.7 793.5C485.9 794.6 485.9 793.7 486.1 794.3C486.2 795.0 486.5 795.5 486.5 797.2C486.5 798.9 486.5 801.8 486.1 804.4C485.7 807.1 484.9 810.2 484.2 813.1C483.5 816.0 482.5 819.1 481.8 821.7C481.0 824.4 480.6 826.8 479.6 828.9C478.6 831.1 477.4 833.0 476.0 834.7C474.6 836.4 472.9 838.0 470.9 839.0C469.0 840.1 466.7 840.5 464.5 840.8C462.2 841.1 459.6 840.9 457.2 840.8C454.8 840.7 452.8 840.5 450.0 840.2C447.2 839.9 442.0 839.0 440.4 838.8M440.4 769.7C441.4 769.7 444.5 769.9 446.4 770.1C448.4 770.3 450.6 770.5 452.2 771.1C453.8 771.8 454.6 772.7 455.8 774.0C457.0 775.3 458.3 777.2 459.4 779.0C460.5 780.8 461.4 782.7 462.3 784.8C463.1 787.0 464.0 790.7 464.5 792.0C464.9 793.4 465.0 792.0 465.2 792.9C465.3 793.7 465.6 795.3 465.5 797.2C465.3 799.1 465.1 802.0 464.5 804.4C463.8 806.8 462.8 809.5 461.6 811.6C460.4 813.8 458.8 815.7 457.2 817.4C455.7 819.1 454.0 820.6 452.2 821.7C450.4 822.9 448.4 823.7 446.4 824.3C444.5 824.9 441.4 825.2 440.4 825.3M440.4 780.5C441.0 780.8 443.0 781.7 444.3 782.7C445.5 783.6 446.8 784.8 447.9 786.3C448.9 787.7 450.0 790.3 450.8 791.3C451.5 792.3 452.0 791.4 452.2 792.2C452.4 792.9 452.3 794.0 451.9 795.8C451.5 797.6 450.8 800.9 450.0 803.0C449.2 805.0 448.3 806.6 447.1 808.0C445.9 809.5 443.9 810.8 442.8 811.6C441.7 812.4 440.8 812.6 440.4 812.8M440.4 865.0C441.4 866.1 444.8 869.1 446.4 871.5C448.0 873.9 448.7 876.7 450.0 879.4C451.4 882.2 452.9 885.2 454.4 888.1C455.8 891.0 457.2 893.9 458.7 896.7C460.1 899.6 461.6 902.7 463.0 905.4C464.5 908.0 466.3 910.2 467.3 912.6C468.4 915.0 468.7 917.4 469.2 919.8C469.7 922.2 470.0 925.2 470.2 927.0C470.5 928.9 470.6 930.4 470.7 931.1M499.8 908.3C499.4 909.0 498.3 910.9 497.6 912.6C496.9 914.3 496.1 916.4 495.5 918.4C494.9 920.3 494.5 922.5 494.0 924.1C493.6 925.8 493.1 927.7 492.9 928.5" fill="none" stroke="#0a0a0a" stroke-width="1.25" stroke-linejoin="round" stroke-linecap="round"/><g font-family="'Liberation Serif', 'DejaVu Serif', serif" font-size="10.9" text-anchor="middle" fill="#101010" stroke="#101010" stroke-width="0.2"><text transform="translate(468.3 674.5) rotate(-70)" y="3.5">9</text><text transform="translate(498.1 683.1) rotate(20)" y="3.5">9</text><text x="453.3" y="757.7">8.5</text><text transform="translate(452.2 771.1) rotate(10)" y="3.5">8</text><text x="444.3" y="815.9">7.5</text><text x="441.8" y="828.1">8</text><text transform="translate(482.8 815.2) rotate(-40)" y="3.5">8.5</text><text x="443.3" y="841.8">8.5</text><text x="442.8" y="870.7">9</text><text transform="translate(493.3 925.6) rotate(20)" y="3.5">9</text></g>
<g fill="none" stroke="#404040" stroke-width="1.1"><rect x="50.7" y="5.4" width="90.4" height="314.0"/><path d="M50.7 316.9h3.6M141.1 316.9h-3.6M50.7 278.2h3.6M141.1 278.2h-3.6M50.7 239.7h3.6M141.1 239.7h-3.6M50.7 201.1h3.6M141.1 201.1h-3.6M50.7 162.5h3.6M141.1 162.5h-3.6M50.7 123.8h3.6M141.1 123.8h-3.6M50.7 85.2h3.6M141.1 85.2h-3.6M50.7 46.7h3.6M141.1 46.7h-3.6M50.7 8.1h3.6M141.1 8.1h-3.6M54.3 319.4v-3.2M54.3 5.4v3.2M93.1 319.4v-3.2M93.1 5.4v3.2M131.8 319.4v-3.2M131.8 5.4v3.2M54.3 5.4v3M54.3 319.4v-3"/><rect x="175.8" y="5.4" width="90.4" height="314.0"/><path d="M175.8 316.9h3.6M266.2 316.9h-3.6M175.8 278.2h3.6M266.2 278.2h-3.6M175.8 239.7h3.6M266.2 239.7h-3.6M175.8 201.1h3.6M266.2 201.1h-3.6M175.8 162.5h3.6M266.2 162.5h-3.6M175.8 123.8h3.6M266.2 123.8h-3.6M175.8 85.2h3.6M266.2 85.2h-3.6M175.8 46.7h3.6M266.2 46.7h-3.6M175.8 8.1h3.6M266.2 8.1h-3.6M179.4 319.4v-3.2M179.4 5.4v3.2M218.2 319.4v-3.2M218.2 5.4v3.2M256.9 319.4v-3.2M256.9 5.4v3.2M179.4 5.4v3M179.4 319.4v-3"/><rect x="301.3" y="5.4" width="90.4" height="314.0"/><path d="M301.3 316.9h3.6M391.7 316.9h-3.6M301.3 278.2h3.6M391.7 278.2h-3.6M301.3 239.7h3.6M391.7 239.7h-3.6M301.3 201.1h3.6M391.7 201.1h-3.6M301.3 162.5h3.6M391.7 162.5h-3.6M301.3 123.8h3.6M391.7 123.8h-3.6M301.3 85.2h3.6M391.7 85.2h-3.6M301.3 46.7h3.6M391.7 46.7h-3.6M301.3 8.1h3.6M391.7 8.1h-3.6M304.9 319.4v-3.2M304.9 5.4v3.2M343.7 319.4v-3.2M343.7 5.4v3.2M382.4 319.4v-3.2M382.4 5.4v3.2M304.9 5.4v3M304.9 319.4v-3"/><rect x="426.9" y="5.4" width="90.4" height="314.0"/><path d="M426.9 316.9h3.6M517.3 316.9h-3.6M426.9 278.2h3.6M517.3 278.2h-3.6M426.9 239.7h3.6M517.3 239.7h-3.6M426.9 201.1h3.6M517.3 201.1h-3.6M426.9 162.5h3.6M517.3 162.5h-3.6M426.9 123.8h3.6M517.3 123.8h-3.6M426.9 85.2h3.6M517.3 85.2h-3.6M426.9 46.7h3.6M517.3 46.7h-3.6M426.9 8.1h3.6M517.3 8.1h-3.6M430.5 319.4v-3.2M430.5 5.4v3.2M469.2 319.4v-3.2M469.2 5.4v3.2M508.0 319.4v-3.2M508.0 5.4v3.2M430.5 5.4v3M430.5 319.4v-3"/><rect x="50.7" y="322.3" width="90.4" height="314.0"/><path d="M50.7 633.8h3.6M141.1 633.8h-3.6M50.7 595.1h3.6M141.1 595.1h-3.6M50.7 556.5h3.6M141.1 556.5h-3.6M50.7 518.0h3.6M141.1 518.0h-3.6M50.7 479.4h3.6M141.1 479.4h-3.6M50.7 440.8h3.6M141.1 440.8h-3.6M50.7 402.1h3.6M141.1 402.1h-3.6M50.7 363.6h3.6M141.1 363.6h-3.6M50.7 324.9h3.6M141.1 324.9h-3.6M54.3 636.3v-3.2M54.3 322.3v3.2M93.1 636.3v-3.2M93.1 322.3v3.2M131.8 636.3v-3.2M131.8 322.3v3.2M54.3 322.3v3M54.3 636.3v-3"/><rect x="175.8" y="322.3" width="90.4" height="314.0"/><path d="M175.8 633.8h3.6M266.2 633.8h-3.6M175.8 595.1h3.6M266.2 595.1h-3.6M175.8 556.5h3.6M266.2 556.5h-3.6M175.8 518.0h3.6M266.2 518.0h-3.6M175.8 479.4h3.6M266.2 479.4h-3.6M175.8 440.8h3.6M266.2 440.8h-3.6M175.8 402.1h3.6M266.2 402.1h-3.6M175.8 363.6h3.6M266.2 363.6h-3.6M175.8 324.9h3.6M266.2 324.9h-3.6M179.4 636.3v-3.2M179.4 322.3v3.2M218.2 636.3v-3.2M218.2 322.3v3.2M256.9 636.3v-3.2M256.9 322.3v3.2M179.4 322.3v3M179.4 636.3v-3"/><rect x="301.3" y="322.3" width="90.4" height="314.0"/><path d="M301.3 633.8h3.6M391.7 633.8h-3.6M301.3 595.1h3.6M391.7 595.1h-3.6M301.3 556.5h3.6M391.7 556.5h-3.6M301.3 518.0h3.6M391.7 518.0h-3.6M301.3 479.4h3.6M391.7 479.4h-3.6M301.3 440.8h3.6M391.7 440.8h-3.6M301.3 402.1h3.6M391.7 402.1h-3.6M301.3 363.6h3.6M391.7 363.6h-3.6M301.3 324.9h3.6M391.7 324.9h-3.6M304.9 636.3v-3.2M304.9 322.3v3.2M343.7 636.3v-3.2M343.7 322.3v3.2M382.4 636.3v-3.2M382.4 322.3v3.2M304.9 322.3v3M304.9 636.3v-3"/><rect x="426.9" y="322.3" width="90.4" height="314.0"/><path d="M426.9 633.8h3.6M517.3 633.8h-3.6M426.9 595.1h3.6M517.3 595.1h-3.6M426.9 556.5h3.6M517.3 556.5h-3.6M426.9 518.0h3.6M517.3 518.0h-3.6M426.9 479.4h3.6M517.3 479.4h-3.6M426.9 440.8h3.6M517.3 440.8h-3.6M426.9 402.1h3.6M517.3 402.1h-3.6M426.9 363.6h3.6M517.3 363.6h-3.6M426.9 324.9h3.6M517.3 324.9h-3.6M430.5 636.3v-3.2M430.5 322.3v3.2M469.2 636.3v-3.2M469.2 322.3v3.2M508.0 636.3v-3.2M508.0 322.3v3.2M430.5 322.3v3M430.5 636.3v-3"/><rect x="50.7" y="639.2" width="90.4" height="314.0"/><path d="M50.7 950.7h3.6M141.1 950.7h-3.6M50.7 912.0h3.6M141.1 912.0h-3.6M50.7 873.5h3.6M141.1 873.5h-3.6M50.7 834.9h3.6M141.1 834.9h-3.6M50.7 796.2h3.6M141.1 796.2h-3.6M50.7 757.6h3.6M141.1 757.6h-3.6M50.7 719.1h3.6M141.1 719.1h-3.6M50.7 680.5h3.6M141.1 680.5h-3.6M50.7 641.9h3.6M141.1 641.9h-3.6M54.3 953.2v-3.2M54.3 639.2v3.2M93.1 953.2v-3.2M93.1 639.2v3.2M131.8 953.2v-3.2M131.8 639.2v3.2M54.3 639.2v3M54.3 953.2v-3"/><rect x="175.8" y="639.2" width="90.4" height="314.0"/><path d="M175.8 950.7h3.6M266.2 950.7h-3.6M175.8 912.0h3.6M266.2 912.0h-3.6M175.8 873.5h3.6M266.2 873.5h-3.6M175.8 834.9h3.6M266.2 834.9h-3.6M175.8 796.2h3.6M266.2 796.2h-3.6M175.8 757.6h3.6M266.2 757.6h-3.6M175.8 719.1h3.6M266.2 719.1h-3.6M175.8 680.5h3.6M266.2 680.5h-3.6M175.8 641.9h3.6M266.2 641.9h-3.6M179.4 953.2v-3.2M179.4 639.2v3.2M218.2 953.2v-3.2M218.2 639.2v3.2M256.9 953.2v-3.2M256.9 639.2v3.2M179.4 639.2v3M179.4 953.2v-3"/><rect x="301.3" y="639.2" width="90.4" height="314.0"/><path d="M301.3 950.7h3.6M391.7 950.7h-3.6M301.3 912.0h3.6M391.7 912.0h-3.6M301.3 873.5h3.6M391.7 873.5h-3.6M301.3 834.9h3.6M391.7 834.9h-3.6M301.3 796.2h3.6M391.7 796.2h-3.6M301.3 757.6h3.6M391.7 757.6h-3.6M301.3 719.1h3.6M391.7 719.1h-3.6M301.3 680.5h3.6M391.7 680.5h-3.6M301.3 641.9h3.6M391.7 641.9h-3.6M304.9 953.2v-3.2M304.9 639.2v3.2M343.7 953.2v-3.2M343.7 639.2v3.2M382.4 953.2v-3.2M382.4 639.2v3.2M304.9 639.2v3M304.9 953.2v-3"/><rect x="426.9" y="639.2" width="90.4" height="314.0"/><path d="M426.9 950.7h3.6M517.3 950.7h-3.6M426.9 912.0h3.6M517.3 912.0h-3.6M426.9 873.5h3.6M517.3 873.5h-3.6M426.9 834.9h3.6M517.3 834.9h-3.6M426.9 796.2h3.6M517.3 796.2h-3.6M426.9 757.6h3.6M517.3 757.6h-3.6M426.9 719.1h3.6M517.3 719.1h-3.6M426.9 680.5h3.6M517.3 680.5h-3.6M426.9 641.9h3.6M517.3 641.9h-3.6M430.5 953.2v-3.2M430.5 639.2v3.2M469.2 953.2v-3.2M469.2 639.2v3.2M508.0 953.2v-3.2M508.0 639.2v3.2M430.5 639.2v3M430.5 953.2v-3"/></g>
<g fill="#4d4d4d"><rect x="50.5" y="138.9" width="3.6" height="17.0"/><rect x="50.5" y="169.0" width="3.6" height="17.4"/><rect x="131.7" y="5.1" width="9.6" height="3.2"/><rect x="131.7" y="316.5" width="9.6" height="3.2"/><rect x="175.6" y="138.9" width="3.6" height="17.0"/><rect x="175.6" y="169.0" width="3.6" height="17.4"/><rect x="256.8" y="5.1" width="9.6" height="3.2"/><rect x="256.8" y="316.5" width="9.6" height="3.2"/><rect x="301.1" y="138.9" width="3.6" height="17.0"/><rect x="301.1" y="169.0" width="3.6" height="17.4"/><rect x="382.3" y="5.1" width="9.6" height="3.2"/><rect x="382.3" y="316.5" width="9.6" height="3.2"/><rect x="426.7" y="138.9" width="3.6" height="17.0"/><rect x="426.7" y="169.0" width="3.6" height="17.4"/><rect x="507.9" y="5.1" width="9.6" height="3.2"/><rect x="507.9" y="316.5" width="9.6" height="3.2"/><rect x="50.5" y="456.2" width="3.6" height="14.5"/><rect x="50.5" y="476.3" width="3.6" height="6.2"/><rect x="50.5" y="489.0" width="3.6" height="14.5"/><rect x="131.7" y="322.0" width="9.6" height="3.2"/><rect x="131.7" y="633.4" width="9.6" height="3.2"/><rect x="175.6" y="456.2" width="3.6" height="14.5"/><rect x="175.6" y="476.3" width="3.6" height="6.2"/><rect x="175.6" y="489.0" width="3.6" height="14.5"/><rect x="256.8" y="322.0" width="9.6" height="3.2"/><rect x="256.8" y="633.4" width="9.6" height="3.2"/><rect x="301.1" y="456.2" width="3.6" height="14.5"/><rect x="301.1" y="476.3" width="3.6" height="6.2"/><rect x="301.1" y="489.0" width="3.6" height="14.5"/><rect x="382.3" y="322.0" width="9.6" height="3.2"/><rect x="382.3" y="633.4" width="9.6" height="3.2"/><rect x="426.7" y="456.2" width="3.6" height="14.5"/><rect x="426.7" y="476.3" width="3.6" height="6.2"/><rect x="426.7" y="489.0" width="3.6" height="14.5"/><rect x="507.9" y="322.0" width="9.6" height="3.2"/><rect x="507.9" y="633.4" width="9.6" height="3.2"/><rect x="50.5" y="773.1" width="3.6" height="14.5"/><rect x="50.5" y="793.2" width="3.6" height="6.2"/><rect x="50.5" y="805.9" width="3.6" height="14.5"/><rect x="131.7" y="638.9" width="9.6" height="3.2"/><rect x="131.7" y="950.3" width="9.6" height="3.2"/><rect x="175.6" y="773.1" width="3.6" height="14.5"/><rect x="175.6" y="793.2" width="3.6" height="6.2"/><rect x="175.6" y="805.9" width="3.6" height="14.5"/><rect x="256.8" y="638.9" width="9.6" height="3.2"/><rect x="256.8" y="950.3" width="9.6" height="3.2"/><rect x="301.1" y="773.1" width="3.6" height="14.5"/><rect x="301.1" y="793.2" width="3.6" height="6.2"/><rect x="301.1" y="805.9" width="3.6" height="14.5"/><rect x="382.3" y="638.9" width="9.6" height="3.2"/><rect x="382.3" y="950.3" width="9.6" height="3.2"/><rect x="426.7" y="773.1" width="3.6" height="14.5"/><rect x="426.7" y="793.2" width="3.6" height="6.2"/><rect x="426.7" y="805.9" width="3.6" height="14.5"/><rect x="507.9" y="638.9" width="9.6" height="3.2"/><rect x="507.9" y="950.3" width="9.6" height="3.2"/></g>
<g fill="#262626" font-family="'Liberation Serif', 'DejaVu Serif', serif"><g font-size="13.9" text-anchor="end"><text x="47.3" y="321.4">-80</text><text x="47.3" y="282.8">-60</text><text x="47.3" y="244.2">-40</text><text x="47.3" y="205.6">-20</text><text x="47.3" y="167.0">0</text><text x="47.3" y="128.4">20</text><text x="47.3" y="89.8">40</text><text x="47.3" y="51.2">60</text><text x="47.3" y="12.6">80</text><text x="47.3" y="638.3">-80</text><text x="47.3" y="599.7">-60</text><text x="47.3" y="561.1">-40</text><text x="47.3" y="522.5">-20</text><text x="47.3" y="483.9">0</text><text x="47.3" y="445.3">20</text><text x="47.3" y="406.7">40</text><text x="47.3" y="368.1">60</text><text x="47.3" y="329.5">80</text><text x="47.3" y="955.2">-80</text><text x="47.3" y="916.6">-60</text><text x="47.3" y="878.0">-40</text><text x="47.3" y="839.4">-20</text><text x="47.3" y="800.8">0</text><text x="47.3" y="762.2">20</text><text x="47.3" y="723.6">40</text><text x="47.3" y="685.0">60</text><text x="47.3" y="646.4">80</text></g><g font-size="13.9" text-anchor="middle"><text x="54.3" y="967.9">0</text><text x="93.1" y="967.9">20</text><text x="131.8" y="967.9">40</text><text x="179.4" y="967.9">0</text><text x="218.2" y="967.9">20</text><text x="256.9" y="967.9">40</text><text x="304.9" y="967.9">0</text><text x="343.7" y="967.9">20</text><text x="382.4" y="967.9">40</text><text x="430.5" y="967.9">0</text><text x="469.2" y="967.9">20</text><text x="508.0" y="967.9">40</text></g><g font-size="14.8" text-anchor="middle"><text x="95.1" y="986.5">z [mm]</text><text x="220.2" y="986.5">z [mm]</text><text x="345.7" y="986.5">z [mm]</text><text x="471.2" y="986.5">z [mm]</text><text font-size="15.6" transform="translate(12.5 162.5) rotate(-90)">SO</text><text transform="translate(29.8 163.0) rotate(-90)">r [mm]</text><text font-size="15.6" transform="translate(12.5 479.4) rotate(-90)">MO 1</text><text transform="translate(29.8 479.9) rotate(-90)">r [mm]</text><text font-size="15.6" transform="translate(12.5 796.2) rotate(-90)">MO 2</text><text transform="translate(29.8 796.8) rotate(-90)">r [mm]</text></g><g font-size="10.9" letter-spacing="0.35"><text x="56.1" y="21.8">(a) log<tspan font-size="7.7" dy="2.4">10</tspan><tspan dy="-2.4" font-size="1">&#8203;</tspan>(<tspan font-style="italic">n</tspan>[m<tspan font-size="7.7" dy="-4.3">−3</tspan><tspan dy="4.3" font-size="1">&#8203;</tspan>])</text><text x="179.0" y="21.8">(b)<tspan dx="14"><tspan font-style="italic">T</tspan><tspan font-size="7.7" dy="2.4"><tspan font-style="italic">e</tspan></tspan><tspan dy="-2.4" font-size="1">&#8203;</tspan> [eV]</tspan></text><text x="304.5" y="21.8">(c)<tspan dx="14"><tspan font-style="italic">V</tspan><tspan font-size="7.7" dy="2.4"><tspan font-style="italic">p</tspan></tspan><tspan dy="-2.4" font-size="1">&#8203;</tspan> [V]</tspan></text><text x="428.9" y="21.8">(d)log<tspan font-size="7.7" dy="2.4">10</tspan><tspan dy="-2.4" font-size="1">&#8203;</tspan>(<tspan font-style="italic">ν</tspan><tspan font-size="9.2" dy="-4.3" font-style="italic">IAT</tspan><tspan font-size="8.5" dy="6.9" dx="-14.5" font-style="italic">e</tspan><tspan dy="-2.6" dx="10.3" font-size="1">&#8203;</tspan>[Hz])</text><text x="56.1" y="338.7">(e) log<tspan font-size="7.7" dy="2.4">10</tspan><tspan dy="-2.4" font-size="1">&#8203;</tspan>(<tspan font-style="italic">n</tspan>[m<tspan font-size="7.7" dy="-4.3">−3</tspan><tspan dy="4.3" font-size="1">&#8203;</tspan>])</text><text x="179.0" y="338.7">(f)<tspan dx="14"><tspan font-style="italic">T</tspan><tspan font-size="7.7" dy="2.4"><tspan font-style="italic">e</tspan></tspan><tspan dy="-2.4" font-size="1">&#8203;</tspan> [eV]</tspan></text><text x="304.5" y="338.7">(g)<tspan dx="14"><tspan font-style="italic">V</tspan><tspan font-size="7.7" dy="2.4"><tspan font-style="italic">p</tspan></tspan><tspan dy="-2.4" font-size="1">&#8203;</tspan> [V]</tspan></text><text x="428.9" y="338.7">(h)log<tspan font-size="7.7" dy="2.4">10</tspan><tspan dy="-2.4" font-size="1">&#8203;</tspan>(<tspan font-style="italic">ν</tspan><tspan font-size="9.2" dy="-4.3" font-style="italic">IAT</tspan><tspan font-size="8.5" dy="6.9" dx="-14.5" font-style="italic">e</tspan><tspan dy="-2.6" dx="10.3" font-size="1">&#8203;</tspan>[Hz])</text><text x="56.1" y="655.6">(i) log<tspan font-size="7.7" dy="2.4">10</tspan><tspan dy="-2.4" font-size="1">&#8203;</tspan>(<tspan font-style="italic">n</tspan>[m<tspan font-size="7.7" dy="-4.3">−3</tspan><tspan dy="4.3" font-size="1">&#8203;</tspan>])</text><text x="179.0" y="655.6">(j)<tspan dx="14"><tspan font-style="italic">T</tspan><tspan font-size="7.7" dy="2.4"><tspan font-style="italic">e</tspan></tspan><tspan dy="-2.4" font-size="1">&#8203;</tspan> [eV]</tspan></text><text x="304.5" y="655.6">(k)<tspan dx="14"><tspan font-style="italic">V</tspan><tspan font-size="7.7" dy="2.4"><tspan font-style="italic">p</tspan></tspan><tspan dy="-2.4" font-size="1">&#8203;</tspan> [V]</tspan></text><text x="428.9" y="655.6">(l)log<tspan font-size="7.7" dy="2.4">10</tspan><tspan dy="-2.4" font-size="1">&#8203;</tspan>(<tspan font-style="italic">ν</tspan><tspan font-size="9.2" dy="-4.3" font-style="italic">IAT</tspan><tspan font-size="8.5" dy="6.9" dx="-14.5" font-style="italic">e</tspan><tspan dy="-2.6" dx="10.3" font-size="1">&#8203;</tspan>[Hz])</text></g><g font-size="10.9" text-anchor="middle" letter-spacing="0.35"><text x="95.5" y="309.9">10<tspan font-size="7.7" dy="-4.3">15</tspan><tspan dy="4.3" font-size="1">&#8203;</tspan> &lt; <tspan font-style="italic">δn</tspan> &lt; 10<tspan font-size="7.7" dy="-4.3">17</tspan><tspan dy="4.3" font-size="1">&#8203;</tspan></text><text x="220.6" y="309.9">0.02 &lt; <tspan font-style="italic">δT</tspan><tspan font-size="7.7" dy="2.4"><tspan font-style="italic">e</tspan></tspan><tspan dy="-2.4" font-size="1">&#8203;</tspan> &lt; 0.27</text><text x="346.1" y="309.9">0.02 &lt; <tspan font-style="italic">δV</tspan><tspan font-size="7.7" dy="2.4"><tspan font-style="italic">p</tspan></tspan><tspan dy="-2.4" font-size="1">&#8203;</tspan> &lt; 0.27</text><text x="471.7" y="309.9" word-spacing="1.1">10<tspan font-size="7.7" dy="-4.3">6</tspan><tspan dy="4.3" font-size="1">&#8203;</tspan> &lt; <tspan font-style="italic">δν</tspan><tspan font-size="9.2" dy="-4.3" font-style="italic">IAT</tspan><tspan font-size="8.5" dy="6.9" dx="-14.5" font-style="italic">e</tspan><tspan dy="-2.6" dx="10.3" font-size="1">&#8203;</tspan> &lt; 10<tspan font-size="7.7" dy="-4.3">8</tspan><tspan dy="4.3" font-size="1">&#8203;</tspan></text><text x="95.5" y="626.8">10<tspan font-size="7.7" dy="-4.3">15</tspan><tspan dy="4.3" font-size="1">&#8203;</tspan> &lt; <tspan font-style="italic">δn</tspan> &lt; 10<tspan font-size="7.7" dy="-4.3">17</tspan><tspan dy="4.3" font-size="1">&#8203;</tspan></text><text x="220.6" y="626.8">0.06 &lt; <tspan font-style="italic">δT</tspan><tspan font-size="7.7" dy="2.4"><tspan font-style="italic">e</tspan></tspan><tspan dy="-2.4" font-size="1">&#8203;</tspan> &lt; 0.42</text><text x="346.1" y="626.8">0.06 &lt; <tspan font-style="italic">δV</tspan><tspan font-size="7.7" dy="2.4"><tspan font-style="italic">p</tspan></tspan><tspan dy="-2.4" font-size="1">&#8203;</tspan> &lt; 0.42</text><text x="471.7" y="626.8" word-spacing="1.1">10<tspan font-size="7.7" dy="-4.3">6</tspan><tspan dy="4.3" font-size="1">&#8203;</tspan> &lt; <tspan font-style="italic">δν</tspan><tspan font-size="9.2" dy="-4.3" font-style="italic">IAT</tspan><tspan font-size="8.5" dy="6.9" dx="-14.5" font-style="italic">e</tspan><tspan dy="-2.6" dx="10.3" font-size="1">&#8203;</tspan> &lt; 10<tspan font-size="7.7" dy="-4.3">8</tspan><tspan dy="4.3" font-size="1">&#8203;</tspan></text><text x="95.5" y="943.7">10<tspan font-size="7.7" dy="-4.3">16</tspan><tspan dy="4.3" font-size="1">&#8203;</tspan> &lt; <tspan font-style="italic">δn</tspan> &lt; 10<tspan font-size="7.7" dy="-4.3">17</tspan><tspan dy="4.3" font-size="1">&#8203;</tspan></text><text x="220.6" y="943.7">0.06 &lt; <tspan font-style="italic">δT</tspan><tspan font-size="7.7" dy="2.4"><tspan font-style="italic">e</tspan></tspan><tspan dy="-2.4" font-size="1">&#8203;</tspan> &lt; 0.45</text><text x="346.1" y="943.7">0.06 &lt; <tspan font-style="italic">δV</tspan><tspan font-size="7.7" dy="2.4"><tspan font-style="italic">p</tspan></tspan><tspan dy="-2.4" font-size="1">&#8203;</tspan> &lt; 0.45</text><text x="471.7" y="943.7" word-spacing="1.1">10<tspan font-size="7.7" dy="-4.3">6</tspan><tspan dy="4.3" font-size="1">&#8203;</tspan> &lt; <tspan font-style="italic">δν</tspan><tspan font-size="9.2" dy="-4.3" font-style="italic">IAT</tspan><tspan font-size="8.5" dy="6.9" dx="-14.5" font-style="italic">e</tspan><tspan dy="-2.6" dx="10.3" font-size="1">&#8203;</tspan> &lt; 10<tspan font-size="7.7" dy="-4.3">8</tspan><tspan dy="4.3" font-size="1">&#8203;</tspan></text></g></g>
</svg></body></html>
